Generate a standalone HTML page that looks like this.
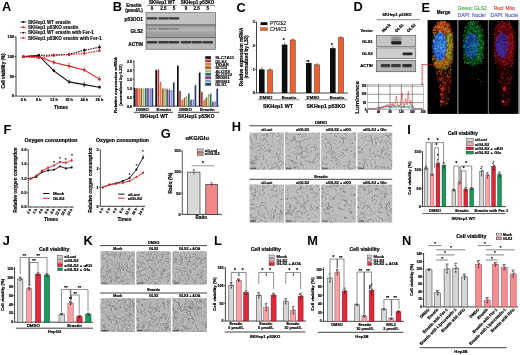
<!DOCTYPE html>
<html><head><meta charset="utf-8"><title>Figure</title>
<style>
html,body{margin:0;padding:0;background:#fff;width:520px;height:355px;overflow:hidden}
svg.fig{display:block;font-family:"Liberation Sans",Arial,sans-serif}
</style></head>
<body><svg class="fig" width="520" height="355" viewBox="0 0 520 355">
<defs>
<filter id="blur03" x="-5%" y="-5%" width="110%" height="110%"><feGaussianBlur stdDeviation="0.3"/></filter>
<filter id="soft" x="0" y="0" width="520" height="355" filterUnits="userSpaceOnUse" color-interpolation-filters="sRGB"><feConvolveMatrix order="3" kernelMatrix="1 2 1 2 8 2 1 2 1" divisor="20" edgeMode="duplicate"/></filter>
<filter id="blur05" x="-50%" y="-50%" width="200%" height="200%"><feGaussianBlur stdDeviation="0.5"/></filter>
<filter id="blur1" x="-50%" y="-50%" width="200%" height="200%"><feGaussianBlur stdDeviation="1"/></filter>
<filter id="blur15" x="-50%" y="-50%" width="200%" height="200%"><feGaussianBlur stdDeviation="1.5"/></filter>
</defs>
<g>
<rect width="520" height="355" fill="#fff"/>
<text x="2.00" y="11.40" text-anchor="start" fill="#000" style="font-size:12.8px;font-weight:bold;">A</text>
<line x1="20.20" y1="21.90" x2="26.40" y2="21.90" stroke="#111" stroke-width="0.8"/>
<circle cx="23.30" cy="21.90" r="1.00" fill="#111"/>
<text x="27.90" y="23.65" text-anchor="start" fill="#111" stroke="#111" stroke-width="0.18" style="font-size:4.65px;font-weight:bold;">SKHep1 WT erastin</text>
<line x1="20.20" y1="27.27" x2="26.40" y2="27.27" stroke="#e0202a" stroke-width="0.8"/>
<circle cx="23.30" cy="27.27" r="1.00" fill="#e0202a"/>
<text x="27.90" y="29.02" text-anchor="start" fill="#111" stroke="#111" stroke-width="0.18" style="font-size:4.65px;font-weight:bold;">SKHep1 p53KO erastin</text>
<line x1="20.20" y1="32.64" x2="26.40" y2="32.64" stroke="#111" stroke-width="0.8" stroke-dasharray="1.4,0.8"/>
<circle cx="23.30" cy="32.64" r="1.00" fill="#111"/>
<text x="27.90" y="34.39" text-anchor="start" fill="#111" stroke="#111" stroke-width="0.18" style="font-size:4.65px;font-weight:bold;">SKHep1 WT erastin with Fer-1</text>
<line x1="20.20" y1="38.01" x2="26.40" y2="38.01" stroke="#e0202a" stroke-width="0.8" stroke-dasharray="1.4,0.8"/>
<circle cx="23.30" cy="38.01" r="1.00" fill="#e0202a"/>
<text x="27.90" y="39.76" text-anchor="start" fill="#111" stroke="#111" stroke-width="0.18" style="font-size:4.65px;font-weight:bold;">SKHep1 p53KO erastin with Fer-1</text>
<line x1="16.00" y1="36.50" x2="16.00" y2="96.10" stroke="#111" stroke-width="0.8"/>
<line x1="14.60" y1="96.10" x2="16.00" y2="96.10" stroke="#111" stroke-width="0.8"/>
<text x="14.00" y="97.46" text-anchor="end" fill="#000" stroke="#000" stroke-width="0.18" style="font-size:3.9px;font-weight:bold;">0</text>
<line x1="14.60" y1="76.37" x2="16.00" y2="76.37" stroke="#111" stroke-width="0.8"/>
<text x="14.00" y="77.73" text-anchor="end" fill="#000" stroke="#000" stroke-width="0.18" style="font-size:3.9px;font-weight:bold;">50</text>
<line x1="14.60" y1="56.63" x2="16.00" y2="56.63" stroke="#111" stroke-width="0.8"/>
<text x="14.00" y="58.00" text-anchor="end" fill="#000" stroke="#000" stroke-width="0.18" style="font-size:3.9px;font-weight:bold;">100</text>
<line x1="14.60" y1="36.90" x2="16.00" y2="36.90" stroke="#111" stroke-width="0.8"/>
<text x="14.00" y="38.26" text-anchor="end" fill="#000" stroke="#000" stroke-width="0.18" style="font-size:3.9px;font-weight:bold;">150</text>
<line x1="16.00" y1="96.10" x2="101.50" y2="96.10" stroke="#111" stroke-width="0.7"/>
<line x1="23.50" y1="96.10" x2="23.50" y2="97.30" stroke="#111" stroke-width="0.5"/>
<text x="23.50" y="101.00" text-anchor="middle" fill="#000" stroke="#000" stroke-width="0.18" style="font-size:3.9px;font-weight:bold;">0 h</text>
<line x1="38.70" y1="96.10" x2="38.70" y2="97.30" stroke="#111" stroke-width="0.5"/>
<text x="38.70" y="101.00" text-anchor="middle" fill="#000" stroke="#000" stroke-width="0.18" style="font-size:3.9px;font-weight:bold;">6 h</text>
<line x1="53.90" y1="96.10" x2="53.90" y2="97.30" stroke="#111" stroke-width="0.5"/>
<text x="53.90" y="101.00" text-anchor="middle" fill="#000" stroke="#000" stroke-width="0.18" style="font-size:3.9px;font-weight:bold;">12 h</text>
<line x1="69.10" y1="96.10" x2="69.10" y2="97.30" stroke="#111" stroke-width="0.5"/>
<text x="69.10" y="101.00" text-anchor="middle" fill="#000" stroke="#000" stroke-width="0.18" style="font-size:3.9px;font-weight:bold;">18 h</text>
<line x1="84.30" y1="96.10" x2="84.30" y2="97.30" stroke="#111" stroke-width="0.5"/>
<text x="84.30" y="101.00" text-anchor="middle" fill="#000" stroke="#000" stroke-width="0.18" style="font-size:3.9px;font-weight:bold;">24 h</text>
<line x1="99.50" y1="96.10" x2="99.50" y2="97.30" stroke="#111" stroke-width="0.5"/>
<text x="99.50" y="101.00" text-anchor="middle" fill="#000" stroke="#000" stroke-width="0.18" style="font-size:3.9px;font-weight:bold;">36 h</text>
<text x="61.00" y="108.90" text-anchor="middle" fill="#000" stroke="#000" stroke-width="0.18" style="font-size:4.9px;font-weight:bold;">Times</text>
<text x="5.30" y="71.00" text-anchor="middle" fill="#000" stroke="#000" stroke-width="0.18" style="font-size:4.6px;font-weight:bold;" transform="rotate(-90 5.3 71)">Cell viability (%)</text>
<polyline points="23.50,56.63 38.70,55.45 53.90,70.84 69.10,81.89 84.30,84.65 99.50,87.22" fill="none" stroke="#111" stroke-width="1.1"/>
<circle cx="23.50" cy="56.63" r="1.25" fill="#111"/>
<line x1="38.70" y1="54.06" x2="38.70" y2="56.84" stroke="#111" stroke-width="0.55"/>
<line x1="38.10" y1="54.06" x2="39.30" y2="54.06" stroke="#111" stroke-width="0.55"/>
<circle cx="38.70" cy="55.45" r="1.25" fill="#111"/>
<line x1="53.90" y1="69.45" x2="53.90" y2="72.23" stroke="#111" stroke-width="0.55"/>
<line x1="53.30" y1="69.45" x2="54.50" y2="69.45" stroke="#111" stroke-width="0.55"/>
<circle cx="53.90" cy="70.84" r="1.25" fill="#111"/>
<line x1="69.10" y1="80.11" x2="69.10" y2="83.68" stroke="#111" stroke-width="0.55"/>
<line x1="68.50" y1="80.11" x2="69.70" y2="80.11" stroke="#111" stroke-width="0.55"/>
<circle cx="69.10" cy="81.89" r="1.25" fill="#111"/>
<line x1="84.30" y1="82.48" x2="84.30" y2="86.83" stroke="#111" stroke-width="0.55"/>
<line x1="83.70" y1="82.48" x2="84.90" y2="82.48" stroke="#111" stroke-width="0.55"/>
<circle cx="84.30" cy="84.65" r="1.25" fill="#111"/>
<line x1="99.50" y1="85.83" x2="99.50" y2="88.61" stroke="#111" stroke-width="0.55"/>
<line x1="98.90" y1="85.83" x2="100.10" y2="85.83" stroke="#111" stroke-width="0.55"/>
<circle cx="99.50" cy="87.22" r="1.25" fill="#111"/>
<polyline points="23.50,56.63 38.70,56.63 53.90,62.55 69.10,66.11 84.30,70.05 99.50,79.13" fill="none" stroke="#e0202a" stroke-width="1.1"/>
<circle cx="23.50" cy="56.63" r="1.25" fill="#e0202a"/>
<line x1="38.70" y1="54.85" x2="38.70" y2="58.42" stroke="#e0202a" stroke-width="0.55"/>
<line x1="38.10" y1="54.85" x2="39.30" y2="54.85" stroke="#e0202a" stroke-width="0.55"/>
<circle cx="38.70" cy="56.63" r="1.25" fill="#e0202a"/>
<line x1="53.90" y1="60.37" x2="53.90" y2="64.73" stroke="#e0202a" stroke-width="0.55"/>
<line x1="53.30" y1="60.37" x2="54.50" y2="60.37" stroke="#e0202a" stroke-width="0.55"/>
<circle cx="53.90" cy="62.55" r="1.25" fill="#e0202a"/>
<line x1="69.10" y1="63.14" x2="69.10" y2="69.07" stroke="#e0202a" stroke-width="0.55"/>
<line x1="68.50" y1="63.14" x2="69.70" y2="63.14" stroke="#e0202a" stroke-width="0.55"/>
<circle cx="69.10" cy="66.11" r="1.25" fill="#e0202a"/>
<line x1="84.30" y1="67.87" x2="84.30" y2="72.23" stroke="#e0202a" stroke-width="0.55"/>
<line x1="83.70" y1="67.87" x2="84.90" y2="67.87" stroke="#e0202a" stroke-width="0.55"/>
<circle cx="84.30" cy="70.05" r="1.25" fill="#e0202a"/>
<line x1="99.50" y1="76.56" x2="99.50" y2="81.70" stroke="#e0202a" stroke-width="0.55"/>
<line x1="98.90" y1="76.56" x2="100.10" y2="76.56" stroke="#e0202a" stroke-width="0.55"/>
<circle cx="99.50" cy="79.13" r="1.25" fill="#e0202a"/>
<polyline points="23.50,56.63 38.70,55.45 53.90,55.05 69.10,54.27 84.30,50.32 99.50,47.16" fill="none" stroke="#111" stroke-width="1.1" stroke-dasharray="1.6,0.9"/>
<circle cx="23.50" cy="56.63" r="1.25" fill="#111"/>
<line x1="38.70" y1="54.45" x2="38.70" y2="56.44" stroke="#111" stroke-width="0.55"/>
<line x1="38.10" y1="54.45" x2="39.30" y2="54.45" stroke="#111" stroke-width="0.55"/>
<circle cx="38.70" cy="55.45" r="1.25" fill="#111"/>
<line x1="53.90" y1="54.06" x2="53.90" y2="56.05" stroke="#111" stroke-width="0.55"/>
<line x1="53.30" y1="54.06" x2="54.50" y2="54.06" stroke="#111" stroke-width="0.55"/>
<circle cx="53.90" cy="55.05" r="1.25" fill="#111"/>
<line x1="69.10" y1="53.27" x2="69.10" y2="55.26" stroke="#111" stroke-width="0.55"/>
<line x1="68.50" y1="53.27" x2="69.70" y2="53.27" stroke="#111" stroke-width="0.55"/>
<circle cx="69.10" cy="54.27" r="1.25" fill="#111"/>
<line x1="84.30" y1="48.93" x2="84.30" y2="51.71" stroke="#111" stroke-width="0.55"/>
<line x1="83.70" y1="48.93" x2="84.90" y2="48.93" stroke="#111" stroke-width="0.55"/>
<circle cx="84.30" cy="50.32" r="1.25" fill="#111"/>
<line x1="99.50" y1="44.98" x2="99.50" y2="49.34" stroke="#111" stroke-width="0.55"/>
<line x1="98.90" y1="44.98" x2="100.10" y2="44.98" stroke="#111" stroke-width="0.55"/>
<circle cx="99.50" cy="47.16" r="1.25" fill="#111"/>
<polyline points="23.50,56.63 38.70,57.82 53.90,55.45 69.10,54.66 84.30,53.48 99.50,50.71" fill="none" stroke="#e0202a" stroke-width="1.1" stroke-dasharray="1.6,0.9"/>
<circle cx="23.50" cy="56.63" r="1.25" fill="#e0202a"/>
<line x1="38.70" y1="56.43" x2="38.70" y2="59.21" stroke="#e0202a" stroke-width="0.55"/>
<line x1="38.10" y1="56.43" x2="39.30" y2="56.43" stroke="#e0202a" stroke-width="0.55"/>
<circle cx="38.70" cy="57.82" r="1.25" fill="#e0202a"/>
<line x1="53.90" y1="54.45" x2="53.90" y2="56.44" stroke="#e0202a" stroke-width="0.55"/>
<line x1="53.30" y1="54.45" x2="54.50" y2="54.45" stroke="#e0202a" stroke-width="0.55"/>
<circle cx="53.90" cy="55.45" r="1.25" fill="#e0202a"/>
<line x1="69.10" y1="53.27" x2="69.10" y2="56.05" stroke="#e0202a" stroke-width="0.55"/>
<line x1="68.50" y1="53.27" x2="69.70" y2="53.27" stroke="#e0202a" stroke-width="0.55"/>
<circle cx="69.10" cy="54.66" r="1.25" fill="#e0202a"/>
<line x1="84.30" y1="52.09" x2="84.30" y2="54.87" stroke="#e0202a" stroke-width="0.55"/>
<line x1="83.70" y1="52.09" x2="84.90" y2="52.09" stroke="#e0202a" stroke-width="0.55"/>
<circle cx="84.30" cy="53.48" r="1.25" fill="#e0202a"/>
<line x1="99.50" y1="49.32" x2="99.50" y2="52.10" stroke="#e0202a" stroke-width="0.55"/>
<line x1="98.90" y1="49.32" x2="100.10" y2="49.32" stroke="#e0202a" stroke-width="0.55"/>
<circle cx="99.50" cy="50.71" r="1.25" fill="#e0202a"/>
<text x="112.70" y="11.40" text-anchor="start" fill="#000" style="font-size:12.8px;font-weight:bold;">B</text>
<text x="134.00" y="7.00" text-anchor="middle" fill="#000" stroke="#000" stroke-width="0.18" style="font-size:4.5px;font-weight:bold;">Erastin</text>
<text x="134.00" y="12.40" text-anchor="middle" fill="#000" stroke="#000" stroke-width="0.18" style="font-size:4.5px;font-weight:bold;">(µmol/L)</text>
<text x="162.00" y="3.90" text-anchor="middle" fill="#000" stroke="#000" stroke-width="0.18" style="font-size:4.6px;font-weight:bold;">SKHep1 WT</text>
<text x="197.50" y="3.90" text-anchor="middle" fill="#000" stroke="#000" stroke-width="0.18" style="font-size:4.6px;font-weight:bold;">SKHep1 p53KO</text>
<line x1="147.00" y1="5.40" x2="177.00" y2="5.40" stroke="#111" stroke-width="0.5"/>
<line x1="181.00" y1="5.40" x2="215.00" y2="5.40" stroke="#111" stroke-width="0.5"/>
<text x="152.00" y="10.40" text-anchor="middle" fill="#000" stroke="#000" stroke-width="0.18" style="font-size:4.5px;font-weight:bold;">0</text>
<text x="163.50" y="10.40" text-anchor="middle" fill="#000" stroke="#000" stroke-width="0.18" style="font-size:4.5px;font-weight:bold;">2.5</text>
<text x="174.00" y="10.40" text-anchor="middle" fill="#000" stroke="#000" stroke-width="0.18" style="font-size:4.5px;font-weight:bold;">5</text>
<text x="186.00" y="10.40" text-anchor="middle" fill="#000" stroke="#000" stroke-width="0.18" style="font-size:4.5px;font-weight:bold;">0</text>
<text x="196.70" y="10.40" text-anchor="middle" fill="#000" stroke="#000" stroke-width="0.18" style="font-size:4.5px;font-weight:bold;">2.5</text>
<text x="207.70" y="10.40" text-anchor="middle" fill="#000" stroke="#000" stroke-width="0.18" style="font-size:4.5px;font-weight:bold;">5</text>
<rect x="146.00" y="12.60" width="69.50" height="12.40" fill="#c2c2c2" stroke="#333" stroke-width="0.5"/>
<rect x="146.70" y="17.25" width="10.60" height="2.30" rx="1" fill="#3a3a3a" filter="url(#blur05)"/>
<rect x="158.20" y="17.25" width="10.60" height="2.30" rx="1" fill="#3a3a3a" filter="url(#blur05)"/>
<rect x="168.70" y="17.25" width="10.60" height="2.30" rx="1" fill="#3a3a3a" filter="url(#blur05)"/>
<rect x="146.00" y="25.00" width="69.50" height="12.40" fill="#9e9e9e" stroke="#333" stroke-width="0.5"/>
<rect x="146.5" y="27.6" width="68.5" height="4.2" fill="#b6b6b6" filter="url(#blur1)"/>
<rect x="147.0" y="28.0" width="10" height="1.6" fill="#8e8e8e"/>
<rect x="158.5" y="28.0" width="10" height="1.6" fill="#7a7a7a"/>
<rect x="169.0" y="28.0" width="10" height="1.6" fill="#828282"/>
<rect x="146.00" y="37.40" width="69.50" height="11.80" fill="#b8b8b8" stroke="#333" stroke-width="0.5"/>
<rect x="146.70" y="41.10" width="10.60" height="2.40" rx="1" fill="#3a3a3a" filter="url(#blur05)"/>
<rect x="158.20" y="41.10" width="10.60" height="2.40" rx="1" fill="#3a3a3a" filter="url(#blur05)"/>
<rect x="168.70" y="41.10" width="10.60" height="2.40" rx="1" fill="#3a3a3a" filter="url(#blur05)"/>
<rect x="180.70" y="41.10" width="10.60" height="2.40" rx="1" fill="#3a3a3a" filter="url(#blur05)"/>
<rect x="191.40" y="41.10" width="10.60" height="2.40" rx="1" fill="#3a3a3a" filter="url(#blur05)"/>
<rect x="202.40" y="41.10" width="10.60" height="2.40" rx="1" fill="#3a3a3a" filter="url(#blur05)"/>
<text x="143.00" y="21.30" text-anchor="end" fill="#000" stroke="#000" stroke-width="0.18" style="font-size:4.8px;font-weight:bold;">p53OO1</text>
<text x="143.00" y="32.60" text-anchor="end" fill="#000" stroke="#000" stroke-width="0.18" style="font-size:4.8px;font-weight:bold;">GLS2</text>
<text x="143.00" y="46.20" text-anchor="end" fill="#000" stroke="#000" stroke-width="0.18" style="font-size:4.8px;font-weight:bold;">ACTIN</text>
<line x1="134.00" y1="60.50" x2="134.00" y2="106.20" stroke="#111" stroke-width="0.8"/>
<line x1="132.80" y1="106.20" x2="134.00" y2="106.20" stroke="#111" stroke-width="0.8"/>
<text x="132.20" y="107.50" text-anchor="end" fill="#000" stroke="#000" stroke-width="0.18" style="font-size:3.7px;font-weight:bold;">0.0</text>
<line x1="132.80" y1="97.20" x2="134.00" y2="97.20" stroke="#111" stroke-width="0.8"/>
<text x="132.20" y="98.50" text-anchor="end" fill="#000" stroke="#000" stroke-width="0.18" style="font-size:3.7px;font-weight:bold;">0.5</text>
<line x1="132.80" y1="88.20" x2="134.00" y2="88.20" stroke="#111" stroke-width="0.8"/>
<text x="132.20" y="89.50" text-anchor="end" fill="#000" stroke="#000" stroke-width="0.18" style="font-size:3.7px;font-weight:bold;">1.0</text>
<line x1="132.80" y1="79.20" x2="134.00" y2="79.20" stroke="#111" stroke-width="0.8"/>
<text x="132.20" y="80.50" text-anchor="end" fill="#000" stroke="#000" stroke-width="0.18" style="font-size:3.7px;font-weight:bold;">1.5</text>
<line x1="132.80" y1="70.20" x2="134.00" y2="70.20" stroke="#111" stroke-width="0.8"/>
<text x="132.20" y="71.50" text-anchor="end" fill="#000" stroke="#000" stroke-width="0.18" style="font-size:3.7px;font-weight:bold;">2.0</text>
<line x1="132.80" y1="61.20" x2="134.00" y2="61.20" stroke="#111" stroke-width="0.8"/>
<text x="132.20" y="62.50" text-anchor="end" fill="#000" stroke="#000" stroke-width="0.18" style="font-size:3.7px;font-weight:bold;">2.5</text>
<line x1="134.00" y1="106.20" x2="219.00" y2="106.20" stroke="#111" stroke-width="0.8"/>
<rect x="133.90" y="88.20" width="1.70" height="18.00" fill="#111111"/>
<rect x="136.10" y="88.20" width="1.70" height="18.00" fill="#c0303a"/>
<rect x="138.30" y="88.20" width="1.70" height="18.00" fill="#e8773a"/>
<rect x="140.50" y="88.20" width="1.70" height="18.00" fill="#8a6a28"/>
<rect x="142.70" y="88.20" width="1.70" height="18.00" fill="#c8aa78"/>
<rect x="144.90" y="88.20" width="1.70" height="18.00" fill="#1c7a5c"/>
<rect x="147.10" y="88.20" width="1.70" height="18.00" fill="#7b3f8e"/>
<rect x="149.30" y="88.20" width="1.70" height="18.00" fill="#7d9bd3"/>
<rect x="151.50" y="88.20" width="1.70" height="18.00" fill="#2b3d7c"/>
<rect x="155.30" y="70.20" width="1.70" height="36.00" fill="#111111"/>
<line x1="156.30" y1="69.40" x2="156.30" y2="71.00" stroke="#111" stroke-width="0.35"/>
<line x1="155.85" y1="69.40" x2="156.75" y2="69.40" stroke="#111" stroke-width="0.35"/>
<rect x="157.50" y="70.20" width="1.70" height="36.00" fill="#c0303a"/>
<line x1="158.50" y1="69.40" x2="158.50" y2="71.00" stroke="#111" stroke-width="0.35"/>
<line x1="158.05" y1="69.40" x2="158.95" y2="69.40" stroke="#111" stroke-width="0.35"/>
<rect x="159.70" y="82.80" width="1.70" height="23.40" fill="#e8773a"/>
<line x1="160.70" y1="82.00" x2="160.70" y2="83.60" stroke="#111" stroke-width="0.35"/>
<line x1="160.25" y1="82.00" x2="161.15" y2="82.00" stroke="#111" stroke-width="0.35"/>
<rect x="161.90" y="89.10" width="1.70" height="17.10" fill="#8a6a28"/>
<line x1="162.90" y1="88.30" x2="162.90" y2="89.90" stroke="#111" stroke-width="0.35"/>
<line x1="162.45" y1="88.30" x2="163.35" y2="88.30" stroke="#111" stroke-width="0.35"/>
<rect x="164.10" y="89.10" width="1.70" height="17.10" fill="#c8aa78"/>
<line x1="165.10" y1="88.30" x2="165.10" y2="89.90" stroke="#111" stroke-width="0.35"/>
<line x1="164.65" y1="88.30" x2="165.55" y2="88.30" stroke="#111" stroke-width="0.35"/>
<rect x="166.30" y="89.64" width="1.70" height="16.56" fill="#1c7a5c"/>
<line x1="167.30" y1="88.84" x2="167.30" y2="90.44" stroke="#111" stroke-width="0.35"/>
<line x1="166.85" y1="88.84" x2="167.75" y2="88.84" stroke="#111" stroke-width="0.35"/>
<rect x="168.50" y="90.00" width="1.70" height="16.20" fill="#7b3f8e"/>
<line x1="169.50" y1="89.20" x2="169.50" y2="90.80" stroke="#111" stroke-width="0.35"/>
<line x1="169.05" y1="89.20" x2="169.95" y2="89.20" stroke="#111" stroke-width="0.35"/>
<rect x="170.70" y="90.90" width="1.70" height="15.30" fill="#7d9bd3"/>
<line x1="171.70" y1="90.10" x2="171.70" y2="91.70" stroke="#111" stroke-width="0.35"/>
<line x1="171.25" y1="90.10" x2="172.15" y2="90.10" stroke="#111" stroke-width="0.35"/>
<rect x="172.90" y="82.80" width="1.70" height="23.40" fill="#2b3d7c"/>
<line x1="173.90" y1="82.00" x2="173.90" y2="83.60" stroke="#111" stroke-width="0.35"/>
<line x1="173.45" y1="82.00" x2="174.35" y2="82.00" stroke="#111" stroke-width="0.35"/>
<rect x="177.00" y="65.88" width="1.70" height="40.32" fill="#111111"/>
<line x1="178.00" y1="65.08" x2="178.00" y2="66.68" stroke="#111" stroke-width="0.35"/>
<line x1="177.55" y1="65.08" x2="178.45" y2="65.08" stroke="#111" stroke-width="0.35"/>
<rect x="179.20" y="91.44" width="1.70" height="14.76" fill="#c0303a"/>
<line x1="180.20" y1="90.64" x2="180.20" y2="92.24" stroke="#111" stroke-width="0.35"/>
<line x1="179.75" y1="90.64" x2="180.65" y2="90.64" stroke="#111" stroke-width="0.35"/>
<rect x="181.40" y="100.80" width="1.70" height="5.40" fill="#e8773a"/>
<line x1="182.40" y1="100.00" x2="182.40" y2="101.60" stroke="#111" stroke-width="0.35"/>
<line x1="181.95" y1="100.00" x2="182.85" y2="100.00" stroke="#111" stroke-width="0.35"/>
<rect x="183.60" y="98.28" width="1.70" height="7.92" fill="#8a6a28"/>
<line x1="184.60" y1="97.48" x2="184.60" y2="99.08" stroke="#111" stroke-width="0.35"/>
<line x1="184.15" y1="97.48" x2="185.05" y2="97.48" stroke="#111" stroke-width="0.35"/>
<rect x="185.80" y="97.20" width="1.70" height="9.00" fill="#c8aa78"/>
<line x1="186.80" y1="96.40" x2="186.80" y2="98.00" stroke="#111" stroke-width="0.35"/>
<line x1="186.35" y1="96.40" x2="187.25" y2="96.40" stroke="#111" stroke-width="0.35"/>
<rect x="188.00" y="93.78" width="1.70" height="12.42" fill="#1c7a5c"/>
<line x1="189.00" y1="92.98" x2="189.00" y2="94.58" stroke="#111" stroke-width="0.35"/>
<line x1="188.55" y1="92.98" x2="189.45" y2="92.98" stroke="#111" stroke-width="0.35"/>
<rect x="190.20" y="100.26" width="1.70" height="5.94" fill="#7b3f8e"/>
<line x1="191.20" y1="99.46" x2="191.20" y2="101.06" stroke="#111" stroke-width="0.35"/>
<line x1="190.75" y1="99.46" x2="191.65" y2="99.46" stroke="#111" stroke-width="0.35"/>
<rect x="192.40" y="100.26" width="1.70" height="5.94" fill="#7d9bd3"/>
<line x1="193.40" y1="99.46" x2="193.40" y2="101.06" stroke="#111" stroke-width="0.35"/>
<line x1="192.95" y1="99.46" x2="193.85" y2="99.46" stroke="#111" stroke-width="0.35"/>
<rect x="194.60" y="85.50" width="1.70" height="20.70" fill="#2b3d7c"/>
<line x1="195.60" y1="84.70" x2="195.60" y2="86.30" stroke="#111" stroke-width="0.35"/>
<line x1="195.15" y1="84.70" x2="196.05" y2="84.70" stroke="#111" stroke-width="0.35"/>
<rect x="198.80" y="72.72" width="1.70" height="33.48" fill="#111111"/>
<line x1="199.80" y1="71.92" x2="199.80" y2="73.52" stroke="#111" stroke-width="0.35"/>
<line x1="199.35" y1="71.92" x2="200.25" y2="71.92" stroke="#111" stroke-width="0.35"/>
<rect x="201.00" y="92.34" width="1.70" height="13.86" fill="#c0303a"/>
<line x1="202.00" y1="91.54" x2="202.00" y2="93.14" stroke="#111" stroke-width="0.35"/>
<line x1="201.55" y1="91.54" x2="202.45" y2="91.54" stroke="#111" stroke-width="0.35"/>
<rect x="203.20" y="101.16" width="1.70" height="5.04" fill="#e8773a"/>
<line x1="204.20" y1="100.36" x2="204.20" y2="101.96" stroke="#111" stroke-width="0.35"/>
<line x1="203.75" y1="100.36" x2="204.65" y2="100.36" stroke="#111" stroke-width="0.35"/>
<rect x="205.40" y="98.28" width="1.70" height="7.92" fill="#8a6a28"/>
<line x1="206.40" y1="97.48" x2="206.40" y2="99.08" stroke="#111" stroke-width="0.35"/>
<line x1="205.95" y1="97.48" x2="206.85" y2="97.48" stroke="#111" stroke-width="0.35"/>
<rect x="207.60" y="95.40" width="1.70" height="10.80" fill="#c8aa78"/>
<line x1="208.60" y1="94.60" x2="208.60" y2="96.20" stroke="#111" stroke-width="0.35"/>
<line x1="208.15" y1="94.60" x2="209.05" y2="94.60" stroke="#111" stroke-width="0.35"/>
<rect x="209.80" y="94.32" width="1.70" height="11.88" fill="#1c7a5c"/>
<line x1="210.80" y1="93.52" x2="210.80" y2="95.12" stroke="#111" stroke-width="0.35"/>
<line x1="210.35" y1="93.52" x2="211.25" y2="93.52" stroke="#111" stroke-width="0.35"/>
<rect x="212.00" y="102.24" width="1.70" height="3.96" fill="#7b3f8e"/>
<line x1="213.00" y1="101.44" x2="213.00" y2="103.04" stroke="#111" stroke-width="0.35"/>
<line x1="212.55" y1="101.44" x2="213.45" y2="101.44" stroke="#111" stroke-width="0.35"/>
<rect x="214.20" y="102.24" width="1.70" height="3.96" fill="#7d9bd3"/>
<line x1="215.20" y1="101.44" x2="215.20" y2="103.04" stroke="#111" stroke-width="0.35"/>
<line x1="214.75" y1="101.44" x2="215.65" y2="101.44" stroke="#111" stroke-width="0.35"/>
<rect x="216.40" y="88.92" width="1.70" height="17.28" fill="#2b3d7c"/>
<line x1="217.40" y1="88.12" x2="217.40" y2="89.72" stroke="#111" stroke-width="0.35"/>
<line x1="216.95" y1="88.12" x2="217.85" y2="88.12" stroke="#111" stroke-width="0.35"/>
<text x="142.50" y="110.80" text-anchor="middle" fill="#000" stroke="#000" stroke-width="0.18" style="font-size:4.3px;font-weight:bold;">DMSO</text>
<text x="163.90" y="110.80" text-anchor="middle" fill="#000" stroke="#000" stroke-width="0.18" style="font-size:4.3px;font-weight:bold;">Erastin</text>
<text x="185.60" y="110.80" text-anchor="middle" fill="#000" stroke="#000" stroke-width="0.18" style="font-size:4.3px;font-weight:bold;">DMSO</text>
<text x="207.40" y="110.80" text-anchor="middle" fill="#000" stroke="#000" stroke-width="0.18" style="font-size:4.3px;font-weight:bold;">Erastin</text>
<line x1="133.70" y1="112.30" x2="173.00" y2="112.30" stroke="#111" stroke-width="0.8"/>
<line x1="177.90" y1="112.30" x2="219.20" y2="112.30" stroke="#111" stroke-width="0.8"/>
<text x="153.80" y="118.00" text-anchor="middle" fill="#000" stroke="#000" stroke-width="0.18" style="font-size:5.0px;font-weight:bold;">SKHep1 WT</text>
<text x="196.20" y="118.00" text-anchor="middle" fill="#000" stroke="#000" stroke-width="0.18" style="font-size:5.0px;font-weight:bold;">SKHep1 p53KO</text>
<text x="117.00" y="85.00" text-anchor="middle" fill="#000" stroke="#000" stroke-width="0.18" style="font-size:4.4px;font-weight:bold;" transform="rotate(-90 117.0 85)">Relative expression mRNA</text>
<text x="121.80" y="85.00" text-anchor="middle" fill="#000" stroke="#000" stroke-width="0.18" style="font-size:4.4px;font-weight:bold;" transform="rotate(-90 121.8 85)">(normalized by L32)</text>
<rect x="205.20" y="56.20" width="5.80" height="2.70" fill="#111111"/>
<text x="215.20" y="59.30" text-anchor="start" fill="#111" stroke="#111" stroke-width="0.18" style="font-size:4.4px;font-weight:bold;">SLC7A11</text>
<rect x="205.20" y="59.55" width="5.80" height="2.70" fill="#c0303a"/>
<text x="215.20" y="62.65" text-anchor="start" fill="#111" stroke="#111" stroke-width="0.18" style="font-size:4.4px;font-weight:bold;">GLS2</text>
<rect x="205.20" y="62.90" width="5.80" height="2.70" fill="#e8773a"/>
<text x="215.20" y="66.00" text-anchor="start" fill="#111" stroke="#111" stroke-width="0.18" style="font-size:4.4px;font-weight:bold;">TIGAR</text>
<rect x="205.20" y="66.25" width="5.80" height="2.70" fill="#8a6a28"/>
<text x="215.20" y="69.35" text-anchor="start" fill="#111" stroke="#111" stroke-width="0.18" style="font-size:4.4px;font-weight:bold;">SCO2</text>
<rect x="205.20" y="69.60" width="5.80" height="2.70" fill="#c8aa78"/>
<text x="215.20" y="72.70" text-anchor="start" fill="#111" stroke="#111" stroke-width="0.18" style="font-size:4.4px;font-weight:bold;">ALOX8</text>
<rect x="205.20" y="72.95" width="5.80" height="2.70" fill="#1c7a5c"/>
<text x="215.20" y="76.05" text-anchor="start" fill="#111" stroke="#111" stroke-width="0.18" style="font-size:4.4px;font-weight:bold;">ALOX12</text>
<rect x="205.20" y="76.30" width="5.80" height="2.70" fill="#7b3f8e"/>
<text x="215.20" y="79.40" text-anchor="start" fill="#111" stroke="#111" stroke-width="0.18" style="font-size:4.4px;font-weight:bold;">SESN1</text>
<rect x="205.20" y="79.65" width="5.80" height="2.70" fill="#7d9bd3"/>
<text x="215.20" y="82.75" text-anchor="start" fill="#111" stroke="#111" stroke-width="0.18" style="font-size:4.4px;font-weight:bold;">SESN2</text>
<rect x="205.20" y="83.00" width="5.80" height="2.70" fill="#2b3d7c"/>
<text x="215.20" y="86.10" text-anchor="start" fill="#111" stroke="#111" stroke-width="0.18" style="font-size:4.4px;font-weight:bold;">GLS1</text>
<text x="236.40" y="11.50" text-anchor="start" fill="#000" style="font-size:12.8px;font-weight:bold;">C</text>
<line x1="256.50" y1="21.80" x2="256.50" y2="93.00" stroke="#111" stroke-width="0.8"/>
<line x1="255.30" y1="93.00" x2="256.50" y2="93.00" stroke="#111" stroke-width="0.8"/>
<text x="254.70" y="94.30" text-anchor="end" fill="#000" stroke="#000" stroke-width="0.18" style="font-size:3.7px;font-weight:bold;">0</text>
<line x1="255.30" y1="69.40" x2="256.50" y2="69.40" stroke="#111" stroke-width="0.8"/>
<text x="254.70" y="70.70" text-anchor="end" fill="#000" stroke="#000" stroke-width="0.18" style="font-size:3.7px;font-weight:bold;">1</text>
<line x1="255.30" y1="45.80" x2="256.50" y2="45.80" stroke="#111" stroke-width="0.8"/>
<text x="254.70" y="47.09" text-anchor="end" fill="#000" stroke="#000" stroke-width="0.18" style="font-size:3.7px;font-weight:bold;">2</text>
<line x1="255.30" y1="22.20" x2="256.50" y2="22.20" stroke="#111" stroke-width="0.8"/>
<text x="254.70" y="23.49" text-anchor="end" fill="#000" stroke="#000" stroke-width="0.18" style="font-size:3.7px;font-weight:bold;">3</text>
<line x1="256.50" y1="93.00" x2="348.00" y2="93.00" stroke="#111" stroke-width="0.8"/>
<rect x="259.00" y="69.40" width="5.60" height="23.60" fill="#0d0d0d"/>
<rect x="267.20" y="69.87" width="5.60" height="23.13" fill="#ea6130" stroke="#222" stroke-width="0.3"/>
<line x1="261.80" y1="67.80" x2="261.80" y2="71.00" stroke="#111" stroke-width="0.45"/>
<line x1="261.20" y1="67.80" x2="262.40" y2="67.80" stroke="#111" stroke-width="0.45"/>
<line x1="270.00" y1="68.87" x2="270.00" y2="70.87" stroke="#111" stroke-width="0.45"/>
<line x1="269.40" y1="68.87" x2="270.60" y2="68.87" stroke="#111" stroke-width="0.45"/>
<rect x="281.80" y="44.62" width="5.60" height="48.38" fill="#0d0d0d"/>
<rect x="290.00" y="39.90" width="5.60" height="53.10" fill="#ea6130" stroke="#222" stroke-width="0.3"/>
<line x1="284.60" y1="43.02" x2="284.60" y2="46.22" stroke="#111" stroke-width="0.45"/>
<line x1="284.00" y1="43.02" x2="285.20" y2="43.02" stroke="#111" stroke-width="0.45"/>
<line x1="292.80" y1="38.90" x2="292.80" y2="40.90" stroke="#111" stroke-width="0.45"/>
<line x1="292.20" y1="38.90" x2="293.40" y2="38.90" stroke="#111" stroke-width="0.45"/>
<rect x="306.00" y="63.03" width="5.60" height="29.97" fill="#0d0d0d"/>
<rect x="314.20" y="64.68" width="5.60" height="28.32" fill="#ea6130" stroke="#222" stroke-width="0.3"/>
<line x1="308.80" y1="61.43" x2="308.80" y2="64.63" stroke="#111" stroke-width="0.45"/>
<line x1="308.20" y1="61.43" x2="309.40" y2="61.43" stroke="#111" stroke-width="0.45"/>
<line x1="317.00" y1="63.68" x2="317.00" y2="65.68" stroke="#111" stroke-width="0.45"/>
<line x1="316.40" y1="63.68" x2="317.60" y2="63.68" stroke="#111" stroke-width="0.45"/>
<rect x="330.00" y="48.16" width="5.60" height="44.84" fill="#0d0d0d"/>
<rect x="338.20" y="37.54" width="5.60" height="55.46" fill="#ea6130" stroke="#222" stroke-width="0.3"/>
<line x1="332.80" y1="46.56" x2="332.80" y2="49.76" stroke="#111" stroke-width="0.45"/>
<line x1="332.20" y1="46.56" x2="333.40" y2="46.56" stroke="#111" stroke-width="0.45"/>
<line x1="341.00" y1="36.54" x2="341.00" y2="38.54" stroke="#111" stroke-width="0.45"/>
<line x1="340.40" y1="36.54" x2="341.60" y2="36.54" stroke="#111" stroke-width="0.45"/>
<text x="283.60" y="41.50" text-anchor="middle" fill="#000" stroke="#000" stroke-width="0.18" style="font-size:4.6px;font-weight:bold;">*</text>
<text x="331.80" y="46.50" text-anchor="middle" fill="#000" stroke="#000" stroke-width="0.18" style="font-size:4.6px;font-weight:bold;">*</text>
<text x="306.50" y="62.50" text-anchor="start" fill="#000" stroke="#000" stroke-width="0.18" style="font-size:3.5px;font-weight:bold;">**</text>
<text x="266.00" y="98.60" text-anchor="middle" fill="#000" stroke="#000" stroke-width="0.18" style="font-size:4.3px;font-weight:bold;">DMSO</text>
<text x="289.00" y="98.60" text-anchor="middle" fill="#000" stroke="#000" stroke-width="0.18" style="font-size:4.3px;font-weight:bold;">Erastin</text>
<text x="313.00" y="98.60" text-anchor="middle" fill="#000" stroke="#000" stroke-width="0.18" style="font-size:4.3px;font-weight:bold;">DMSO</text>
<text x="337.00" y="98.60" text-anchor="middle" fill="#000" stroke="#000" stroke-width="0.18" style="font-size:4.3px;font-weight:bold;">Erastin</text>
<line x1="257.70" y1="99.80" x2="299.60" y2="99.80" stroke="#111" stroke-width="0.5"/>
<line x1="304.60" y1="99.80" x2="347.70" y2="99.80" stroke="#111" stroke-width="0.5"/>
<text x="278.00" y="107.90" text-anchor="middle" fill="#000" stroke="#000" stroke-width="0.18" style="font-size:5.3px;font-weight:bold;">SKHep1 WT</text>
<text x="326.00" y="107.90" text-anchor="middle" fill="#000" stroke="#000" stroke-width="0.18" style="font-size:5.3px;font-weight:bold;">SKHep1 p53KO</text>
<text x="243.20" y="57.00" text-anchor="middle" fill="#000" stroke="#000" stroke-width="0.18" style="font-size:4.6px;font-weight:bold;" transform="rotate(-90 243.2 57)">Relative expression mRNA</text>
<text x="248.00" y="57.00" text-anchor="middle" fill="#000" stroke="#000" stroke-width="0.18" style="font-size:4.6px;font-weight:bold;" transform="rotate(-90 248.0 57)">(normalized by L32)</text>
<rect x="260.50" y="22.20" width="7.00" height="2.90" fill="#0d0d0d"/>
<rect x="260.50" y="27.60" width="7.00" height="2.90" fill="#ea6130" stroke="#222" stroke-width="0.3"/>
<text x="270.00" y="25.40" text-anchor="start" fill="#000" stroke="#000" stroke-width="0.12" style="font-size:4.9px;font-weight:normal;font-style:italic;">PTGS2</text>
<text x="270.00" y="30.80" text-anchor="start" fill="#000" stroke="#000" stroke-width="0.12" style="font-size:4.9px;font-weight:normal;font-style:italic;">CHAC1</text>
<text x="353.50" y="11.40" text-anchor="start" fill="#000" style="font-size:12.8px;font-weight:bold;">D</text>
<text x="397.00" y="15.60" text-anchor="middle" fill="#000" stroke="#000" stroke-width="0.18" style="font-size:4.0px;font-weight:bold;">SKHep1 p53KO</text>
<line x1="376.50" y1="19.70" x2="420.00" y2="19.70" stroke="#111" stroke-width="0.5"/>
<text x="372.80" y="32.00" text-anchor="end" fill="#000" stroke="#000" stroke-width="0.18" style="font-size:4.0px;font-weight:bold;">Vector</text>
<text x="383.50" y="32.50" text-anchor="start" fill="#000" stroke="#000" stroke-width="0.18" style="font-size:4.0px;font-weight:bold;" transform="rotate(-45 383.5 32.5)">Mock</text>
<text x="396.50" y="32.50" text-anchor="start" fill="#000" stroke="#000" stroke-width="0.18" style="font-size:4.0px;font-weight:bold;" transform="rotate(-45 396.5 32.5)">GLS1</text>
<text x="408.50" y="32.50" text-anchor="start" fill="#000" stroke="#000" stroke-width="0.18" style="font-size:4.0px;font-weight:bold;" transform="rotate(-45 408.5 32.5)">GLS2</text>
<rect x="376.30" y="35.40" width="39.50" height="11.20" fill="#c6c6c6" stroke="#333" stroke-width="0.5"/>
<rect x="391.4" y="36.6" width="9.8" height="5.5" fill="#7a7a7a" opacity="0.8" filter="url(#blur1)"/>
<rect x="391.2" y="41.2" width="10.2" height="3.2" rx="1" fill="#1e1e1e" filter="url(#blur05)"/>
<rect x="376.30" y="47.90" width="39.50" height="10.70" fill="#cdcdcd" stroke="#333" stroke-width="0.5"/>
<rect x="402.50" y="52.60" width="10.00" height="2.60" rx="1" fill="#262626" filter="url(#blur05)"/>
<rect x="376.30" y="60.40" width="39.50" height="11.40" fill="#b4b4b4" stroke="#333" stroke-width="0.5"/>
<rect x="380.80" y="64.00" width="9.60" height="3.20" rx="1" fill="#3a3a3a" filter="url(#blur05)"/>
<rect x="391.20" y="64.00" width="9.60" height="3.20" rx="1" fill="#3a3a3a" filter="url(#blur05)"/>
<rect x="402.30" y="63.90" width="9.60" height="3.40" rx="1" fill="#333" filter="url(#blur05)"/>
<text x="372.80" y="43.40" text-anchor="end" fill="#000" stroke="#000" stroke-width="0.18" style="font-size:4.1px;font-weight:bold;">GLS1</text>
<text x="372.80" y="54.90" text-anchor="end" fill="#000" stroke="#000" stroke-width="0.18" style="font-size:4.1px;font-weight:bold;">GLS2</text>
<text x="372.80" y="67.10" text-anchor="end" fill="#000" stroke="#000" stroke-width="0.18" style="font-size:4.1px;font-weight:bold;">ACTIN</text>
<rect x="367.40" y="84.30" width="55.80" height="25.50" fill="#fff" stroke="#666" stroke-width="0.4"/>
<line x1="378.60" y1="84.30" x2="378.60" y2="109.80" stroke="#555" stroke-width="0.6"/>
<line x1="390.00" y1="84.30" x2="390.00" y2="109.80" stroke="#555" stroke-width="0.6"/>
<line x1="401.30" y1="84.30" x2="401.30" y2="109.80" stroke="#555" stroke-width="0.6"/>
<line x1="412.30" y1="84.30" x2="412.30" y2="109.80" stroke="#555" stroke-width="0.6"/>
<line x1="367.40" y1="86.10" x2="423.20" y2="86.10" stroke="#555" stroke-width="0.6"/>
<line x1="367.40" y1="94.30" x2="423.20" y2="94.30" stroke="#555" stroke-width="0.6"/>
<line x1="367.40" y1="102.60" x2="423.20" y2="102.60" stroke="#555" stroke-width="0.6"/>
<text x="366.20" y="87.10" text-anchor="end" fill="#000" stroke="#000" stroke-width="0.18" style="font-size:2.8px;font-weight:bold;">150</text>
<text x="366.20" y="95.30" text-anchor="end" fill="#000" stroke="#000" stroke-width="0.18" style="font-size:2.8px;font-weight:bold;">100</text>
<text x="366.20" y="103.60" text-anchor="end" fill="#000" stroke="#000" stroke-width="0.18" style="font-size:2.8px;font-weight:bold;">50</text>
<text x="366.20" y="110.60" text-anchor="end" fill="#000" stroke="#000" stroke-width="0.18" style="font-size:2.8px;font-weight:bold;">0</text>
<text x="367.40" y="113.40" text-anchor="middle" fill="#000" stroke="#000" stroke-width="0.18" style="font-size:2.8px;font-weight:bold;">0</text>
<text x="378.60" y="113.40" text-anchor="middle" fill="#000" stroke="#000" stroke-width="0.18" style="font-size:2.8px;font-weight:bold;">40</text>
<text x="390.00" y="113.40" text-anchor="middle" fill="#000" stroke="#000" stroke-width="0.18" style="font-size:2.8px;font-weight:bold;">80</text>
<text x="401.30" y="113.40" text-anchor="middle" fill="#000" stroke="#000" stroke-width="0.18" style="font-size:2.8px;font-weight:bold;">120</text>
<text x="412.30" y="113.40" text-anchor="middle" fill="#000" stroke="#000" stroke-width="0.18" style="font-size:2.8px;font-weight:bold;">160</text>
<text x="423.20" y="113.40" text-anchor="middle" fill="#000" stroke="#000" stroke-width="0.18" style="font-size:2.8px;font-weight:bold;">200</text>
<text x="359.20" y="97.50" text-anchor="middle" fill="#000" stroke="#000" stroke-width="0.18" style="font-size:6.2px;font-weight:bold;" transform="rotate(-90 359.2 97.5)">Luminance</text>
<polyline points="367.80,108.52 368.23,108.52 368.65,108.83 369.08,108.35 369.51,109.07 369.93,109.33 370.36,108.33 370.78,108.46 371.21,109.20 371.64,109.11 372.06,108.38 372.49,108.75 372.92,108.30 373.34,108.35 373.77,109.16 374.20,109.01 374.62,108.59 375.05,108.44 375.47,108.81 375.90,108.26 376.33,107.74 376.75,108.05 377.18,107.22 377.61,106.91 378.03,107.61 378.46,107.68 378.89,106.98 379.31,106.48 379.74,108.34 380.16,108.42 380.59,107.13 381.02,106.62 381.44,106.95 381.87,107.63 382.30,106.00 382.72,106.56 383.15,107.71 383.58,107.41 384.00,106.95 384.43,106.30 384.85,106.47 385.28,106.71 385.71,106.94 386.13,106.90 386.56,105.85 386.99,106.97 387.41,106.65 387.84,106.56 388.27,106.44 388.69,106.78 389.12,107.62 389.54,107.96 389.97,106.94 390.40,107.81 390.82,108.22 391.25,105.95 391.68,107.99 392.10,107.26 392.53,107.72 392.96,107.81 393.38,107.48 393.81,106.53 394.23,107.57 394.66,106.34 395.09,106.97 395.51,107.63 395.94,107.21 396.37,108.11 396.79,106.97 397.22,106.16 397.64,106.55 398.07,106.67 398.50,107.43 398.92,106.64 399.35,105.42 399.78,105.89 400.20,107.19 400.63,107.75 401.06,107.44 401.48,106.84 401.91,106.14 402.33,106.77 402.76,107.50 403.19,108.33 403.61,106.59 404.04,106.15 404.47,107.49 404.89,107.26 405.32,106.86 405.75,107.02 406.17,106.66 406.60,107.08 407.02,107.44 407.45,107.90 407.88,106.23 408.30,107.10 408.73,108.43 409.16,107.62 409.58,108.00 410.01,107.62 410.44,105.91 410.86,106.63 411.29,108.90 411.71,109.29 412.14,108.90 412.57,108.74 412.99,109.32 413.42,108.93 413.85,108.33 414.27,108.43 414.70,109.00 415.13,108.44 415.55,109.25 415.98,108.87 416.40,109.27 416.83,109.12 417.26,109.23 417.68,108.51 418.11,108.62 418.54,108.85 418.96,108.29 419.39,109.05 419.82,109.20 420.24,109.05 420.67,109.27 421.09,109.31 421.52,108.95 421.95,108.67 422.37,108.94 422.80,108.70" fill="none" stroke="#3a50d0" stroke-width="0.5"/>
<polyline points="367.80,108.71 368.23,108.61 368.65,108.60 369.08,109.25 369.51,108.91 369.93,109.17 370.36,108.74 370.78,109.23 371.21,109.34 371.64,109.17 372.06,109.11 372.49,108.81 372.92,108.80 373.34,109.11 373.77,109.23 374.20,108.87 374.62,109.08 375.05,108.96 375.47,108.79 375.90,109.32 376.33,108.72 376.75,109.31 377.18,108.74 377.61,109.06 378.03,108.75 378.46,108.59 378.89,108.62 379.31,109.10 379.74,109.22 380.16,108.56 380.59,108.69 381.02,109.32 381.44,108.59 381.87,109.22 382.30,108.67 382.72,108.96 383.15,108.56 383.58,109.27 384.00,108.72 384.43,109.05 384.85,108.80 385.28,109.33 385.71,108.70 386.13,108.76 386.56,108.80 386.99,109.21 387.41,108.77 387.84,108.82 388.27,108.77 388.69,109.17 389.12,109.16 389.54,109.19 389.97,108.88 390.40,106.66 390.82,107.20 391.25,106.21 391.68,106.02 392.10,107.21 392.53,105.17 392.96,106.19 393.38,105.89 393.81,106.49 394.23,105.21 394.66,106.68 395.09,106.24 395.51,106.56 395.94,106.64 396.37,105.24 396.79,106.13 397.22,106.62 397.64,105.75 398.07,106.84 398.50,106.32 398.92,105.62 399.35,107.24 399.78,107.02 400.20,107.19 400.63,107.72 401.06,106.78 401.48,106.11 401.91,105.91 402.33,107.17 402.76,105.70 403.19,106.85 403.61,106.06 404.04,107.45 404.47,106.53 404.89,107.27 405.32,105.94 405.75,107.76 406.17,107.32 406.60,107.30 407.02,106.84 407.45,106.52 407.88,105.67 408.30,105.98 408.73,107.54 409.16,106.82 409.58,104.87 410.01,105.22 410.44,104.70 410.86,103.98 411.29,104.45 411.71,104.01 412.14,106.87 412.57,105.61 412.99,106.26 413.42,108.85 413.85,109.10 414.27,109.17 414.70,109.27 415.13,109.09 415.55,109.15 415.98,108.89 416.40,108.79 416.83,109.12 417.26,109.01 417.68,108.90 418.11,108.74 418.54,108.70 418.96,108.77 419.39,108.70 419.82,109.29 420.24,108.81 420.67,108.74 421.09,109.30 421.52,108.66 421.95,109.16 422.37,109.08 422.80,108.69" fill="none" stroke="#30a050" stroke-width="0.5"/>
<polyline points="367.80,108.65 368.23,108.30 368.65,109.31 369.08,108.62 369.51,108.82 369.93,108.71 370.36,109.03 370.78,109.17 371.21,108.66 371.64,108.38 372.06,108.26 372.49,108.28 372.92,109.12 373.34,108.27 373.77,108.94 374.20,109.27 374.62,109.34 375.05,109.00 375.47,108.99 375.90,109.28 376.33,108.51 376.75,108.94 377.18,109.14 377.61,108.31 378.03,108.76 378.46,108.46 378.89,109.24 379.31,108.97 379.74,108.99 380.16,106.95 380.59,108.66 381.02,108.55 381.44,107.17 381.87,107.02 382.30,108.04 382.72,107.29 383.15,108.04 383.58,106.52 384.00,106.69 384.43,106.23 384.85,107.34 385.28,105.76 385.71,107.30 386.13,105.49 386.56,106.41 386.99,104.38 387.41,104.44 387.84,106.58 388.27,105.49 388.69,107.10 389.12,104.88 389.54,106.85 389.97,105.78 390.40,104.30 390.82,104.64 391.25,105.56 391.68,104.40 392.10,103.32 392.53,105.40 392.96,105.49 393.38,103.47 393.81,105.76 394.23,105.22 394.66,105.47 395.09,105.52 395.51,101.40 395.94,98.49 396.37,95.99 396.79,98.65 397.22,102.22 397.64,105.11 398.07,105.07 398.50,105.03 398.92,106.04 399.35,105.04 399.78,105.55 400.20,103.96 400.63,105.07 401.06,100.18 401.48,96.00 401.91,92.66 402.33,94.26 402.76,99.63 403.19,102.92 403.61,104.29 404.04,106.56 404.47,103.99 404.89,104.74 405.32,100.42 405.75,98.56 406.17,102.02 406.60,102.22 407.02,105.21 407.45,101.94 407.88,94.90 408.30,91.28 408.73,96.39 409.16,99.89 409.58,103.13 410.01,103.81 410.44,102.47 410.86,100.52 411.29,102.07 411.71,104.18 412.14,105.21 412.57,106.45 412.99,105.57 413.42,108.71 413.85,108.54 414.27,108.85 414.70,109.21 415.13,108.49 415.55,109.20 415.98,109.25 416.40,109.07 416.83,109.29 417.26,108.93 417.68,108.99 418.11,108.35 418.54,108.71 418.96,108.62 419.39,108.57 419.82,108.92 420.24,109.15 420.67,109.03 421.09,108.73 421.52,109.20 421.95,108.29 422.37,108.87 422.80,109.33" fill="none" stroke="#e03030" stroke-width="0.55"/>
<polyline points="422.20,84.30 422.20,64.60 439.00,64.60" fill="none" stroke="#e02020" stroke-width="0.7" stroke-dasharray="1.2,0.7"/>
<circle cx="422.20" cy="84.30" r="0.80" fill="#e02020"/>
<circle cx="422.20" cy="64.60" r="0.60" fill="#e02020"/>
<text x="421.40" y="11.60" text-anchor="start" fill="#000" style="font-size:12.8px;font-weight:bold;">E</text>
<text x="443.50" y="14.00" text-anchor="middle" fill="#000" stroke="#000" stroke-width="0.18" style="font-size:4.6px;font-weight:bold;">Merge</text>
<text x="457.80" y="10.30" text-anchor="start" fill="#3aa83a" stroke="#3aa83a" stroke-width="0.12" style="font-size:4.9px;font-weight:normal;">Green: GLS2</text>
<text x="457.80" y="16.50" text-anchor="start" fill="#4a58c8" stroke="#4a58c8" stroke-width="0.12" style="font-size:4.9px;font-weight:normal;">DAPI: Nuclei</text>
<text x="493.80" y="10.30" text-anchor="start" fill="#e03535" stroke="#e03535" stroke-width="0.12" style="font-size:4.9px;font-weight:normal;">Red: Mito</text>
<text x="490.60" y="16.50" text-anchor="start" fill="#4a58c8" stroke="#4a58c8" stroke-width="0.12" style="font-size:4.9px;font-weight:normal;">DAPI: Nuclei</text>
<rect x="427.70" y="20.20" width="29.60" height="93.60" fill="#000"/>
<rect x="458.20" y="20.20" width="29.60" height="93.60" fill="#000"/>
<rect x="488.80" y="20.20" width="29.60" height="93.60" fill="#000"/>
<text x="3.50" y="133.70" text-anchor="start" fill="#000" style="font-size:12.8px;font-weight:bold;">F</text>
<text x="51.00" y="142.40" text-anchor="middle" fill="#000" stroke="#000" stroke-width="0.18" style="font-size:5.2px;font-weight:bold;">Oxygen consumption</text>
<line x1="28.30" y1="149.50" x2="28.30" y2="207.00" stroke="#111" stroke-width="0.7"/>
<line x1="27.10" y1="207.00" x2="28.30" y2="207.00" stroke="#111" stroke-width="0.7"/>
<text x="26.50" y="208.29" text-anchor="end" fill="#000" stroke="#000" stroke-width="0.18" style="font-size:3.7px;font-weight:bold;">0.0</text>
<line x1="27.10" y1="192.70" x2="28.30" y2="192.70" stroke="#111" stroke-width="0.7"/>
<text x="26.50" y="193.99" text-anchor="end" fill="#000" stroke="#000" stroke-width="0.18" style="font-size:3.7px;font-weight:bold;">0.5</text>
<line x1="27.10" y1="178.40" x2="28.30" y2="178.40" stroke="#111" stroke-width="0.7"/>
<text x="26.50" y="179.69" text-anchor="end" fill="#000" stroke="#000" stroke-width="0.18" style="font-size:3.7px;font-weight:bold;">1.0</text>
<line x1="27.10" y1="164.10" x2="28.30" y2="164.10" stroke="#111" stroke-width="0.7"/>
<text x="26.50" y="165.39" text-anchor="end" fill="#000" stroke="#000" stroke-width="0.18" style="font-size:3.7px;font-weight:bold;">1.5</text>
<line x1="27.10" y1="149.80" x2="28.30" y2="149.80" stroke="#111" stroke-width="0.7"/>
<text x="26.50" y="151.09" text-anchor="end" fill="#000" stroke="#000" stroke-width="0.18" style="font-size:3.7px;font-weight:bold;">2.0</text>
<line x1="28.30" y1="207.00" x2="73.70" y2="207.00" stroke="#111" stroke-width="0.8"/>
<line x1="30.40" y1="207.00" x2="30.40" y2="208.00" stroke="#111" stroke-width="0.5"/>
<text x="31.30" y="209.60" text-anchor="end" fill="#000" stroke="#000" stroke-width="0.18" style="font-size:3.6px;font-weight:bold;" transform="rotate(-60 31.299999999999997 209.6)">0 h</text>
<line x1="36.30" y1="207.00" x2="36.30" y2="208.00" stroke="#111" stroke-width="0.5"/>
<text x="37.20" y="209.60" text-anchor="end" fill="#000" stroke="#000" stroke-width="0.18" style="font-size:3.6px;font-weight:bold;" transform="rotate(-60 37.199999999999996 209.6)">1 h</text>
<line x1="42.20" y1="207.00" x2="42.20" y2="208.00" stroke="#111" stroke-width="0.5"/>
<text x="43.10" y="209.60" text-anchor="end" fill="#000" stroke="#000" stroke-width="0.18" style="font-size:3.6px;font-weight:bold;" transform="rotate(-60 43.1 209.6)">4 h</text>
<line x1="48.10" y1="207.00" x2="48.10" y2="208.00" stroke="#111" stroke-width="0.5"/>
<text x="49.00" y="209.60" text-anchor="end" fill="#000" stroke="#000" stroke-width="0.18" style="font-size:3.6px;font-weight:bold;" transform="rotate(-60 49.0 209.6)">6 h</text>
<line x1="54.00" y1="207.00" x2="54.00" y2="208.00" stroke="#111" stroke-width="0.5"/>
<text x="54.90" y="209.60" text-anchor="end" fill="#000" stroke="#000" stroke-width="0.18" style="font-size:3.6px;font-weight:bold;" transform="rotate(-60 54.9 209.6)">8 h</text>
<line x1="59.90" y1="207.00" x2="59.90" y2="208.00" stroke="#111" stroke-width="0.5"/>
<text x="60.80" y="209.60" text-anchor="end" fill="#000" stroke="#000" stroke-width="0.18" style="font-size:3.6px;font-weight:bold;" transform="rotate(-60 60.8 209.6)">12 h</text>
<line x1="65.80" y1="207.00" x2="65.80" y2="208.00" stroke="#111" stroke-width="0.5"/>
<text x="66.70" y="209.60" text-anchor="end" fill="#000" stroke="#000" stroke-width="0.18" style="font-size:3.6px;font-weight:bold;" transform="rotate(-60 66.70000000000002 209.6)">16 h</text>
<line x1="71.70" y1="207.00" x2="71.70" y2="208.00" stroke="#111" stroke-width="0.5"/>
<text x="72.60" y="209.60" text-anchor="end" fill="#000" stroke="#000" stroke-width="0.18" style="font-size:3.6px;font-weight:bold;" transform="rotate(-60 72.60000000000001 209.6)">24 h</text>
<polyline points="30.40,178.40 36.30,176.97 42.20,172.11 48.10,170.39 54.00,169.82 59.90,166.39 65.80,168.39 71.70,167.53" fill="none" stroke="#111" stroke-width="0.9"/>
<circle cx="30.40" cy="178.40" r="1.00" fill="#111"/>
<circle cx="36.30" cy="176.97" r="1.00" fill="#111"/>
<line x1="42.20" y1="171.11" x2="42.20" y2="173.11" stroke="#111" stroke-width="0.45"/>
<line x1="41.60" y1="171.11" x2="42.80" y2="171.11" stroke="#111" stroke-width="0.45"/>
<circle cx="42.20" cy="172.11" r="1.00" fill="#111"/>
<line x1="48.10" y1="169.39" x2="48.10" y2="171.39" stroke="#111" stroke-width="0.45"/>
<line x1="47.50" y1="169.39" x2="48.70" y2="169.39" stroke="#111" stroke-width="0.45"/>
<circle cx="48.10" cy="170.39" r="1.00" fill="#111"/>
<line x1="54.00" y1="169.02" x2="54.00" y2="170.62" stroke="#111" stroke-width="0.45"/>
<line x1="53.40" y1="169.02" x2="54.60" y2="169.02" stroke="#111" stroke-width="0.45"/>
<circle cx="54.00" cy="169.82" r="1.00" fill="#111"/>
<circle cx="59.90" cy="166.39" r="1.00" fill="#111"/>
<line x1="65.80" y1="167.39" x2="65.80" y2="169.39" stroke="#111" stroke-width="0.45"/>
<line x1="65.20" y1="167.39" x2="66.40" y2="167.39" stroke="#111" stroke-width="0.45"/>
<circle cx="65.80" cy="168.39" r="1.00" fill="#111"/>
<line x1="71.70" y1="166.53" x2="71.70" y2="168.53" stroke="#111" stroke-width="0.45"/>
<line x1="71.10" y1="166.53" x2="72.30" y2="166.53" stroke="#111" stroke-width="0.45"/>
<circle cx="71.70" cy="167.53" r="1.00" fill="#111"/>
<polyline points="30.40,179.26 36.30,175.54 42.20,170.68 48.10,167.82 54.00,165.53 59.90,162.10 65.80,162.67 71.70,160.38" fill="none" stroke="#e0202a" stroke-width="0.9"/>
<line x1="30.40" y1="178.26" x2="30.40" y2="180.26" stroke="#e0202a" stroke-width="0.45"/>
<line x1="29.80" y1="178.26" x2="31.00" y2="178.26" stroke="#e0202a" stroke-width="0.45"/>
<circle cx="30.40" cy="179.26" r="1.00" fill="#e0202a"/>
<circle cx="36.30" cy="175.54" r="1.00" fill="#e0202a"/>
<line x1="42.20" y1="169.68" x2="42.20" y2="171.68" stroke="#e0202a" stroke-width="0.45"/>
<line x1="41.60" y1="169.68" x2="42.80" y2="169.68" stroke="#e0202a" stroke-width="0.45"/>
<circle cx="42.20" cy="170.68" r="1.00" fill="#e0202a"/>
<line x1="48.10" y1="166.82" x2="48.10" y2="168.82" stroke="#e0202a" stroke-width="0.45"/>
<line x1="47.50" y1="166.82" x2="48.70" y2="166.82" stroke="#e0202a" stroke-width="0.45"/>
<circle cx="48.10" cy="167.82" r="1.00" fill="#e0202a"/>
<line x1="54.00" y1="164.73" x2="54.00" y2="166.33" stroke="#e0202a" stroke-width="0.45"/>
<line x1="53.40" y1="164.73" x2="54.60" y2="164.73" stroke="#e0202a" stroke-width="0.45"/>
<circle cx="54.00" cy="165.53" r="1.00" fill="#e0202a"/>
<line x1="59.90" y1="161.10" x2="59.90" y2="163.10" stroke="#e0202a" stroke-width="0.45"/>
<line x1="59.30" y1="161.10" x2="60.50" y2="161.10" stroke="#e0202a" stroke-width="0.45"/>
<circle cx="59.90" cy="162.10" r="1.00" fill="#e0202a"/>
<line x1="65.80" y1="161.67" x2="65.80" y2="163.67" stroke="#e0202a" stroke-width="0.45"/>
<line x1="65.20" y1="161.67" x2="66.40" y2="161.67" stroke="#e0202a" stroke-width="0.45"/>
<circle cx="65.80" cy="162.67" r="1.00" fill="#e0202a"/>
<line x1="71.70" y1="158.78" x2="71.70" y2="161.98" stroke="#e0202a" stroke-width="0.45"/>
<line x1="71.10" y1="158.78" x2="72.30" y2="158.78" stroke="#e0202a" stroke-width="0.45"/>
<circle cx="71.70" cy="160.38" r="1.00" fill="#e0202a"/>
<text x="54.20" y="164.30" text-anchor="middle" fill="#333" stroke="#333" stroke-width="0.18" style="font-size:4.4px;font-weight:bold;">*</text>
<text x="59.80" y="160.40" text-anchor="middle" fill="#333" stroke="#333" stroke-width="0.18" style="font-size:4.4px;font-weight:bold;">*</text>
<text x="65.60" y="161.30" text-anchor="middle" fill="#333" stroke="#333" stroke-width="0.18" style="font-size:4.4px;font-weight:bold;">*</text>
<text x="72.10" y="157.20" text-anchor="middle" fill="#333" stroke="#333" stroke-width="0.18" style="font-size:4.4px;font-weight:bold;">*</text>
<line x1="43.10" y1="193.50" x2="49.60" y2="193.50" stroke="#111" stroke-width="1.0"/>
<line x1="43.10" y1="198.30" x2="49.60" y2="198.30" stroke="#e0202a" stroke-width="1.0"/>
<text x="52.90" y="195.05" text-anchor="start" fill="#000" stroke="#000" stroke-width="0.18" style="font-size:4.4px;font-weight:bold;">Mock</text>
<text x="52.90" y="199.85" text-anchor="start" fill="#000" stroke="#000" stroke-width="0.18" style="font-size:4.4px;font-weight:bold;">GLS2</text>
<text x="51.00" y="220.60" text-anchor="middle" fill="#000" stroke="#000" stroke-width="0.18" style="font-size:4.9px;font-weight:bold;">Times</text>
<text x="17.00" y="180.00" text-anchor="middle" fill="#000" stroke="#000" stroke-width="0.18" style="font-size:4.6px;font-weight:bold;" transform="rotate(-90 17 180)">Relative oxygen consumption</text>
<text x="122.50" y="142.40" text-anchor="middle" fill="#000" stroke="#000" stroke-width="0.18" style="font-size:5.2px;font-weight:bold;">Oxygen consumption</text>
<line x1="100.40" y1="149.50" x2="100.40" y2="206.30" stroke="#111" stroke-width="0.7"/>
<line x1="99.20" y1="206.30" x2="100.40" y2="206.30" stroke="#111" stroke-width="0.7"/>
<text x="98.60" y="207.59" text-anchor="end" fill="#000" stroke="#000" stroke-width="0.18" style="font-size:3.7px;font-weight:bold;">0</text>
<line x1="99.20" y1="187.50" x2="100.40" y2="187.50" stroke="#111" stroke-width="0.7"/>
<text x="98.60" y="188.79" text-anchor="end" fill="#000" stroke="#000" stroke-width="0.18" style="font-size:3.7px;font-weight:bold;">1</text>
<line x1="99.20" y1="168.70" x2="100.40" y2="168.70" stroke="#111" stroke-width="0.7"/>
<text x="98.60" y="170.00" text-anchor="end" fill="#000" stroke="#000" stroke-width="0.18" style="font-size:3.7px;font-weight:bold;">2</text>
<line x1="99.20" y1="149.90" x2="100.40" y2="149.90" stroke="#111" stroke-width="0.7"/>
<text x="98.60" y="151.19" text-anchor="end" fill="#000" stroke="#000" stroke-width="0.18" style="font-size:3.7px;font-weight:bold;">3</text>
<line x1="100.40" y1="206.30" x2="145.10" y2="206.30" stroke="#111" stroke-width="0.8"/>
<line x1="102.60" y1="206.30" x2="102.60" y2="207.30" stroke="#111" stroke-width="0.5"/>
<text x="103.50" y="208.90" text-anchor="end" fill="#000" stroke="#000" stroke-width="0.18" style="font-size:3.6px;font-weight:bold;" transform="rotate(-60 103.5 208.9)">0 h</text>
<line x1="109.35" y1="206.30" x2="109.35" y2="207.30" stroke="#111" stroke-width="0.5"/>
<text x="110.25" y="208.90" text-anchor="end" fill="#000" stroke="#000" stroke-width="0.18" style="font-size:3.6px;font-weight:bold;" transform="rotate(-60 110.25 208.9)">1 h</text>
<line x1="116.10" y1="206.30" x2="116.10" y2="207.30" stroke="#111" stroke-width="0.5"/>
<text x="117.00" y="208.90" text-anchor="end" fill="#000" stroke="#000" stroke-width="0.18" style="font-size:3.6px;font-weight:bold;" transform="rotate(-60 117.0 208.9)">4 h</text>
<line x1="122.85" y1="206.30" x2="122.85" y2="207.30" stroke="#111" stroke-width="0.5"/>
<text x="123.75" y="208.90" text-anchor="end" fill="#000" stroke="#000" stroke-width="0.18" style="font-size:3.6px;font-weight:bold;" transform="rotate(-60 123.75 208.9)">8 h</text>
<line x1="129.60" y1="206.30" x2="129.60" y2="207.30" stroke="#111" stroke-width="0.5"/>
<text x="130.50" y="208.90" text-anchor="end" fill="#000" stroke="#000" stroke-width="0.18" style="font-size:3.6px;font-weight:bold;" transform="rotate(-60 130.5 208.9)">12 h</text>
<line x1="136.35" y1="206.30" x2="136.35" y2="207.30" stroke="#111" stroke-width="0.5"/>
<text x="137.25" y="208.90" text-anchor="end" fill="#000" stroke="#000" stroke-width="0.18" style="font-size:3.6px;font-weight:bold;" transform="rotate(-60 137.25 208.9)">16 h</text>
<line x1="143.10" y1="206.30" x2="143.10" y2="207.30" stroke="#111" stroke-width="0.5"/>
<text x="144.00" y="208.90" text-anchor="end" fill="#000" stroke="#000" stroke-width="0.18" style="font-size:3.6px;font-weight:bold;" transform="rotate(-60 144.0 208.9)">24 h</text>
<polyline points="102.60,187.50 109.35,184.68 116.10,183.36 122.85,180.92 129.60,178.10 136.35,169.64 143.10,157.42" fill="none" stroke="#111" stroke-width="0.9"/>
<circle cx="102.60" cy="187.50" r="1.00" fill="#111"/>
<line x1="109.35" y1="184.08" x2="109.35" y2="185.28" stroke="#111" stroke-width="0.45"/>
<line x1="108.75" y1="184.08" x2="109.95" y2="184.08" stroke="#111" stroke-width="0.45"/>
<circle cx="109.35" cy="184.68" r="1.00" fill="#111"/>
<line x1="116.10" y1="182.76" x2="116.10" y2="183.96" stroke="#111" stroke-width="0.45"/>
<line x1="115.50" y1="182.76" x2="116.70" y2="182.76" stroke="#111" stroke-width="0.45"/>
<circle cx="116.10" cy="183.36" r="1.00" fill="#111"/>
<line x1="122.85" y1="180.32" x2="122.85" y2="181.52" stroke="#111" stroke-width="0.45"/>
<line x1="122.25" y1="180.32" x2="123.45" y2="180.32" stroke="#111" stroke-width="0.45"/>
<circle cx="122.85" cy="180.92" r="1.00" fill="#111"/>
<line x1="129.60" y1="177.30" x2="129.60" y2="178.90" stroke="#111" stroke-width="0.45"/>
<line x1="129.00" y1="177.30" x2="130.20" y2="177.30" stroke="#111" stroke-width="0.45"/>
<circle cx="129.60" cy="178.10" r="1.00" fill="#111"/>
<line x1="136.35" y1="168.44" x2="136.35" y2="170.84" stroke="#111" stroke-width="0.45"/>
<line x1="135.75" y1="168.44" x2="136.95" y2="168.44" stroke="#111" stroke-width="0.45"/>
<circle cx="136.35" cy="169.64" r="1.00" fill="#111"/>
<line x1="143.10" y1="155.22" x2="143.10" y2="159.62" stroke="#111" stroke-width="0.45"/>
<line x1="142.50" y1="155.22" x2="143.70" y2="155.22" stroke="#111" stroke-width="0.45"/>
<circle cx="143.10" cy="157.42" r="1.00" fill="#111"/>
<polyline points="102.60,187.50 109.35,184.68 116.10,183.74 122.85,182.80 129.60,180.92 136.35,177.16 143.10,172.84" fill="none" stroke="#e0202a" stroke-width="0.9"/>
<circle cx="102.60" cy="187.50" r="1.00" fill="#e0202a"/>
<line x1="109.35" y1="184.08" x2="109.35" y2="185.28" stroke="#e0202a" stroke-width="0.45"/>
<line x1="108.75" y1="184.08" x2="109.95" y2="184.08" stroke="#e0202a" stroke-width="0.45"/>
<circle cx="109.35" cy="184.68" r="1.00" fill="#e0202a"/>
<line x1="116.10" y1="183.14" x2="116.10" y2="184.34" stroke="#e0202a" stroke-width="0.45"/>
<line x1="115.50" y1="183.14" x2="116.70" y2="183.14" stroke="#e0202a" stroke-width="0.45"/>
<circle cx="116.10" cy="183.74" r="1.00" fill="#e0202a"/>
<line x1="122.85" y1="182.20" x2="122.85" y2="183.40" stroke="#e0202a" stroke-width="0.45"/>
<line x1="122.25" y1="182.20" x2="123.45" y2="182.20" stroke="#e0202a" stroke-width="0.45"/>
<circle cx="122.85" cy="182.80" r="1.00" fill="#e0202a"/>
<line x1="129.60" y1="180.12" x2="129.60" y2="181.72" stroke="#e0202a" stroke-width="0.45"/>
<line x1="129.00" y1="180.12" x2="130.20" y2="180.12" stroke="#e0202a" stroke-width="0.45"/>
<circle cx="129.60" cy="180.92" r="1.00" fill="#e0202a"/>
<line x1="136.35" y1="176.36" x2="136.35" y2="177.96" stroke="#e0202a" stroke-width="0.45"/>
<line x1="135.75" y1="176.36" x2="136.95" y2="176.36" stroke="#e0202a" stroke-width="0.45"/>
<circle cx="136.35" cy="177.16" r="1.00" fill="#e0202a"/>
<line x1="143.10" y1="171.64" x2="143.10" y2="174.04" stroke="#e0202a" stroke-width="0.45"/>
<line x1="142.50" y1="171.64" x2="143.70" y2="171.64" stroke="#e0202a" stroke-width="0.45"/>
<circle cx="143.10" cy="172.84" r="1.00" fill="#e0202a"/>
<text x="129.50" y="176.00" text-anchor="middle" fill="#333" stroke="#333" stroke-width="0.18" style="font-size:4.4px;font-weight:bold;">*</text>
<text x="136.50" y="166.50" text-anchor="middle" fill="#333" stroke="#333" stroke-width="0.18" style="font-size:4.4px;font-weight:bold;">*</text>
<text x="142.80" y="153.20" text-anchor="middle" fill="#333" stroke="#333" stroke-width="0.18" style="font-size:4.4px;font-weight:bold;">*</text>
<line x1="118.10" y1="194.10" x2="124.60" y2="194.10" stroke="#111" stroke-width="1.0"/>
<line x1="118.10" y1="198.20" x2="124.60" y2="198.20" stroke="#e0202a" stroke-width="1.0"/>
<text x="127.90" y="195.65" text-anchor="start" fill="#000" stroke="#000" stroke-width="0.18" style="font-size:4.1px;font-weight:bold;">siLuci</text>
<text x="127.90" y="199.75" text-anchor="start" fill="#000" stroke="#000" stroke-width="0.18" style="font-size:4.1px;font-weight:bold;">siGLS2</text>
<text x="124.50" y="220.60" text-anchor="middle" fill="#000" stroke="#000" stroke-width="0.18" style="font-size:4.9px;font-weight:bold;">Times</text>
<text x="92.40" y="180.00" text-anchor="middle" fill="#000" stroke="#000" stroke-width="0.18" style="font-size:4.6px;font-weight:bold;" transform="rotate(-90 92.4 180)">Relative oxygen consumption</text>
<text x="160.70" y="138.20" text-anchor="start" fill="#000" style="font-size:12.8px;font-weight:bold;">G</text>
<text x="197.20" y="140.30" text-anchor="middle" fill="#000" stroke="#000" stroke-width="0.18" style="font-size:5.8px;font-weight:bold;">αKG/Glu</text>
<line x1="182.30" y1="150.60" x2="182.30" y2="214.30" stroke="#111" stroke-width="0.7"/>
<line x1="181.10" y1="214.30" x2="182.30" y2="214.30" stroke="#111" stroke-width="0.7"/>
<text x="180.50" y="215.63" text-anchor="end" fill="#000" stroke="#000" stroke-width="0.18" style="font-size:3.8px;font-weight:bold;">0</text>
<line x1="181.10" y1="193.20" x2="182.30" y2="193.20" stroke="#111" stroke-width="0.7"/>
<text x="180.50" y="194.53" text-anchor="end" fill="#000" stroke="#000" stroke-width="0.18" style="font-size:3.8px;font-weight:bold;">50</text>
<line x1="181.10" y1="172.10" x2="182.30" y2="172.10" stroke="#111" stroke-width="0.7"/>
<text x="180.50" y="173.43" text-anchor="end" fill="#000" stroke="#000" stroke-width="0.18" style="font-size:3.8px;font-weight:bold;">100</text>
<line x1="181.10" y1="151.00" x2="182.30" y2="151.00" stroke="#111" stroke-width="0.7"/>
<text x="180.50" y="152.33" text-anchor="end" fill="#000" stroke="#000" stroke-width="0.18" style="font-size:3.8px;font-weight:bold;">150</text>
<line x1="182.30" y1="214.30" x2="222.00" y2="214.30" stroke="#111" stroke-width="0.8"/>
<rect x="187.60" y="172.10" width="12.40" height="42.20" fill="#d9d9d9" stroke="#222" stroke-width="0.6"/>
<rect x="205.80" y="184.34" width="11.60" height="29.96" fill="#f2878a" stroke="#222" stroke-width="0.6"/>
<line x1="193.80" y1="169.70" x2="193.80" y2="174.50" stroke="#111" stroke-width="0.5"/>
<line x1="192.55" y1="169.70" x2="195.05" y2="169.70" stroke="#111" stroke-width="0.5"/>
<line x1="211.60" y1="182.74" x2="211.60" y2="185.94" stroke="#111" stroke-width="0.5"/>
<line x1="210.35" y1="182.74" x2="212.85" y2="182.74" stroke="#111" stroke-width="0.5"/>
<line x1="191.60" y1="165.80" x2="214.20" y2="165.80" stroke="#333" stroke-width="0.5"/>
<text x="202.90" y="165.00" text-anchor="middle" fill="#000" stroke="#000" stroke-width="0.18" style="font-size:4.5px;font-weight:bold;">*</text>
<rect x="197.30" y="149.00" width="5.80" height="2.60" fill="#d9d9d9" stroke="#222" stroke-width="0.5"/>
<rect x="197.30" y="152.60" width="5.80" height="2.60" fill="#f2878a" stroke="#222" stroke-width="0.5"/>
<text x="204.80" y="151.70" text-anchor="start" fill="#000" stroke="#000" stroke-width="0.18" style="font-size:4.3px;font-weight:bold;">siLuci</text>
<text x="204.80" y="155.40" text-anchor="start" fill="#000" stroke="#000" stroke-width="0.18" style="font-size:4.3px;font-weight:bold;">siGLS2</text>
<text x="201.30" y="219.40" text-anchor="middle" fill="#000" stroke="#000" stroke-width="0.18" style="font-size:4.6px;font-weight:bold;">Ratio</text>
<text x="172.20" y="183.00" text-anchor="middle" fill="#000" stroke="#000" stroke-width="0.18" style="font-size:4.8px;font-weight:bold;" transform="rotate(-90 172.2 183)">Ratio (%)</text>
<text x="231.80" y="131.40" text-anchor="start" fill="#000" style="font-size:12.8px;font-weight:bold;">H</text>
<text x="321.00" y="124.20" text-anchor="middle" fill="#000" stroke="#000" stroke-width="0.18" style="font-size:4.0px;font-weight:bold;">DMSO</text>
<line x1="249.50" y1="125.80" x2="392.20" y2="125.80" stroke="#111" stroke-width="0.8"/>
<text x="266.75" y="130.60" text-anchor="middle" fill="#000" stroke="#000" stroke-width="0.18" style="font-size:3.8px;font-weight:bold;">siLuci</text>
<g><rect x="249.50" y="132.60" width="34.50" height="37.20" fill="#bdbdbd"/><svg x="249.50" y="132.60" width="34.50" height="37.20" overflow="hidden"><g filter="url(#blur03)" stroke-linecap="round" stroke-linejoin="round" fill="none"><path d="M20.6 15.7L20.3 17.2L20.5 19.0M18.2 11.1L20.1 11.4L21.4 11.8M29.9 9.0L30.6 9.7L31.5 11.6M21.1 0.0L22.9 -0.8L24.6 -1.4M11.2 20.5L11.2 21.8M30.2 36.5L31.6 37.7M19.2 32.6L19.8 33.6L19.5 35.4M4.5 31.2L3.3 30.5L2.5 29.8L1.1 28.4M16.2 5.9L15.1 6.9L14.3 8.0M19.4 1.2L18.5 2.4L17.6 3.4M24.2 8.1L24.1 9.7L24.8 11.0M32.5 4.1L32.2 5.6L32.6 6.9M29.8 32.6L30.5 33.3M21.7 32.3L20.6 33.2L19.5 34.1M32.4 26.0L32.3 27.2L32.9 28.2M0.3 2.9L1.0 4.8L2.6 5.9M35.4 10.7L34.9 12.0L33.5 13.5M2.5 6.2L3.3 7.2M31.3 28.5L29.8 29.5L29.0 30.9L28.9 32.7M7.4 22.9L6.6 24.1L6.6 25.1M12.5 15.0L13.6 15.7L15.3 16.7M15.2 13.1L13.4 13.7L12.4 13.9L11.0 14.0M32.9 5.9L32.3 6.7L30.6 7.5L30.1 8.7M2.3 14.1L3.2 15.0L4.3 16.5M6.6 28.8L4.6 29.0L3.0 28.0M13.3 13.1L11.5 13.6L9.5 13.5M31.5 25.0L30.8 26.9M11.2 24.7L9.6 25.7M0.9 35.1L1.6 36.3L1.6 37.3M25.2 23.5L24.6 24.8L22.9 25.9M13.5 3.5L12.6 4.0M20.1 37.9L18.4 39.0L17.4 39.4M0.9 6.7L-0.0 7.5L-1.4 7.7M2.6 28.6L2.9 30.4L3.2 32.2M6.1 33.4L6.4 35.0L6.4 37.1L6.5 39.0M3.2 26.6L4.2 28.3L5.9 29.1M21.4 19.2L22.5 20.0L23.9 20.5M3.3 34.2L3.2 36.3L3.9 38.1M2.0 30.1L3.9 29.7L5.3 29.9L7.2 30.6M-0.1 4.7L-1.1 5.3L-2.7 5.8M30.7 28.1L31.6 27.8M3.4 13.4L4.4 13.8L5.4 14.0L7.1 13.7M16.1 5.7L16.7 7.4L17.2 8.2L18.0 9.0M0.2 10.1L-0.5 10.8L-0.9 12.5M29.3 21.4L28.4 22.0L28.1 22.9L28.4 24.0M7.6 11.1L7.4 12.0L7.2 13.7L7.1 15.2M5.8 22.9L7.7 22.9L9.4 23.7M17.6 16.7L19.2 16.1L20.7 16.6L22.7 16.9M4.9 23.6L6.2 24.3L7.8 25.6M13.6 29.7L12.8 31.6M15.5 25.2L14.6 27.0M15.3 5.6L16.6 6.3L18.0 7.4L19.0 9.1M31.2 22.4L30.3 23.0L29.6 24.6L29.8 26.3M2.3 14.2L3.2 15.3L3.8 16.5M8.6 10.2L9.5 11.1M11.2 11.2L10.1 11.7M30.8 4.3L29.8 4.1L28.0 4.6L26.5 4.4M18.4 28.0L18.6 29.0L17.9 30.6L16.4 31.8M32.5 16.4L32.3 17.6L31.8 19.0L31.8 20.5M14.3 37.7L14.0 38.6L13.4 40.1L12.5 41.0M7.9 22.8L7.6 24.6M1.4 16.2L0.6 16.5L-0.3 16.9M0.8 4.0L1.8 5.2L2.6 5.8M1.2 25.0L1.2 26.8L0.2 28.3M12.5 20.9L11.4 21.6L10.9 23.0M17.4 15.7L17.9 17.2L18.5 18.1M26.1 1.1L24.8 1.6L24.1 2.6M32.2 20.8L34.1 21.4M2.5 30.1L1.1 31.1M16.0 34.4L15.4 35.7L15.3 37.5L14.7 38.6M26.8 31.4L25.3 31.8M6.5 27.6L5.4 29.3M10.5 19.0L9.1 18.7L7.6 18.7M14.2 18.5L15.2 18.3M9.0 27.2L7.7 27.6L6.1 27.2M24.9 35.9L23.2 37.0L21.6 36.9L20.6 37.3M17.0 1.3L18.4 2.3L19.0 3.6M23.8 0.9L23.9 2.2L23.9 3.9L24.2 4.9M12.5 34.3L11.1 35.4L9.5 36.6M10.5 15.0L12.0 15.1M30.5 16.8L29.6 17.6L29.0 18.6M1.2 28.2L2.4 28.1L4.0 29.0M31.1 8.9L31.9 10.4L32.0 11.6M20.3 10.1L19.1 10.8M16.7 25.9L17.5 27.7L18.2 29.6L19.2 31.2M33.7 31.4L32.8 32.3L32.1 33.4M3.6 8.8L4.4 10.5L5.0 11.6M12.0 7.1L11.4 7.7M6.6 1.3L6.3 2.8L5.9 4.8M4.6 24.2L3.4 24.2L2.3 24.4M23.3 33.1L23.2 34.8L22.9 35.7L21.7 36.7M14.6 22.1L14.4 23.4L14.8 24.9L15.0 26.9M28.9 -0.7L29.8 0.6L30.3 2.4M24.9 22.9L25.8 23.9L27.4 24.9M13.7 31.2L13.5 32.3L12.8 33.6M17.0 0.4L17.9 0.6L19.0 1.9M4.4 30.1L4.5 32.1M14.8 13.8L12.9 14.6L12.2 15.9M7.8 2.3L6.1 2.4L5.1 3.3M10.9 5.2L12.1 5.8L13.7 6.2L14.9 7.6M3.5 27.8L4.2 29.6L5.2 30.3M20.8 21.0L19.1 20.6L17.3 19.8L16.1 19.0M25.2 35.6L24.2 36.1L22.2 35.6M14.9 35.5L15.3 36.7L15.4 37.9M34.1 30.1L36.1 30.6L37.1 30.7M26.4 25.5L25.6 26.1M8.3 1.5L7.9 3.6L7.4 5.4L7.7 7.3M29.5 35.6L28.4 34.9L26.6 34.9" stroke="#d8d8d8" stroke-width="0.6"/><path d="M19.9 15.8L19.6 17.3L19.8 19.1M21.4 0.7L23.2 -0.1L24.9 -0.7M10.5 20.5L10.5 21.8M29.7 37.0L31.1 38.3M15.6 5.5L14.5 6.4L13.7 7.6M29.3 33.2L30.0 33.9M-0.1 3.6L0.6 5.4L2.2 6.5M34.8 10.2L34.4 11.5L33.0 13.0M30.5 28.5L29.0 29.5L28.2 30.9L28.2 32.7M1.7 14.5L2.6 15.5L3.8 16.9M7.0 28.2L4.9 28.3L3.3 27.4M10.8 24.0L9.2 25.1M13.2 2.8L12.2 3.4M19.8 37.2L18.1 38.3L17.1 38.8M1.8 28.8L2.1 30.6L2.5 32.3M5.3 33.5L5.7 35.1L5.6 37.2L5.8 39.0M2.6 34.5L2.5 36.6L3.2 38.4M1.7 30.8L3.7 30.5L5.0 30.7L7.0 31.3M30.9 28.8L31.8 28.6M28.6 21.6L27.7 22.2L27.4 23.1L27.7 24.2M4.4 24.2L5.7 24.8L7.3 26.2M14.6 6.0L16.0 6.6L17.4 7.8L18.4 9.4M30.5 22.5L29.6 23.1L28.9 24.7L29.1 26.3M1.6 14.5L2.5 15.6L3.1 16.9M8.0 10.7L9.0 11.7M10.9 10.5L9.8 11.0M30.9 3.5L29.9 3.3L28.1 3.9L26.6 3.6M13.7 37.1L13.5 38.0L12.9 39.6L12.0 40.5M7.1 22.6L6.9 24.5M1.1 15.5L0.3 15.8L-0.6 16.2M25.4 0.7L24.2 1.2L23.5 2.2M2.0 29.5L0.7 30.5M15.4 34.0L14.8 35.3L14.7 37.1L14.0 38.2M26.6 30.7L25.1 31.1M10.5 18.2L9.1 18.0L7.6 18.0M14.4 19.3L15.3 19.0M9.1 26.5L7.9 26.9L6.3 26.5M24.6 35.2L22.9 36.3L21.3 36.2L20.3 36.6M16.4 1.6L17.7 2.6L18.3 3.9M10.4 15.8L12.0 15.8M29.9 16.4L29.0 17.2L28.4 18.1M30.4 9.0L31.1 10.5L31.3 11.7M33.1 31.1L32.1 31.9L31.5 33.0M2.9 9.1L3.8 10.8L4.3 11.9M5.9 1.2L5.6 2.7L5.1 4.7M13.8 22.2L13.6 23.5L14.0 25.0L14.3 27.0M13.0 30.9L12.9 32.0L12.1 33.2M16.4 0.8L17.3 1.1L18.4 2.4M3.7 30.1L3.8 32.2M3.1 28.4L3.8 30.2L4.7 30.9M34.1 30.8L36.1 31.3L37.1 31.4M7.6 1.6L7.2 3.7L6.7 5.6L7.0 7.4M29.5 34.9L28.4 34.2L26.6 34.2" stroke="#7c7c7c" stroke-width="0.75"/><path d="M18.0 11.8L19.9 12.1L21.2 12.5M29.2 9.3L29.9 10.0L30.8 11.9M18.5 32.5L19.0 33.5L18.8 35.3M5.1 30.7L3.8 30.0L3.0 29.2L1.6 27.9M18.9 0.7L18.0 1.8L17.0 2.8M23.6 8.5L23.4 10.1L24.1 11.4M31.8 4.3L31.5 5.8L31.9 7.2M21.2 31.7L20.1 32.6L19.0 33.5M31.8 26.4L31.7 27.6L32.3 28.6M1.9 6.6L2.7 7.6M6.7 22.9L5.9 24.1L5.9 25.1M12.1 15.6L13.2 16.3L14.9 17.4M15.1 12.4L13.3 12.9L12.3 13.1L11.0 13.3M32.2 5.6L31.7 6.4L30.0 7.2L29.4 8.4M13.3 12.3L11.5 12.9L9.5 12.8M30.8 24.8L30.1 26.6M0.1 35.1L0.9 36.3L0.9 37.3M24.8 22.9L24.1 24.1L22.5 25.3M0.8 5.9L-0.2 6.7L-1.5 7.0M2.9 27.3L3.9 28.9L5.6 29.8M21.2 19.9L22.2 20.7L23.7 21.2M-0.3 4.0L-1.4 4.5L-2.9 5.1M3.5 14.1L4.6 14.5L5.5 14.8L7.2 14.4M15.6 6.3L16.2 7.9L16.7 8.8L17.5 9.5M-0.5 9.9L-1.2 10.6L-1.7 12.3M6.8 11.0L6.7 11.9L6.5 13.6L6.3 15.1M5.4 23.5L7.4 23.6L9.0 24.4M17.5 17.4L19.1 16.8L20.5 17.3L22.6 17.6M12.9 29.4L12.1 31.4M14.9 24.8L13.9 26.7M18.0 27.4L18.2 28.4L17.4 30.0L15.9 31.2M31.7 16.4L31.5 17.6L31.0 19.0L31.1 20.5M0.3 4.6L1.4 5.8L2.1 6.4M0.5 24.6L0.6 26.4L-0.4 27.9M11.8 20.6L10.7 21.3L10.2 22.7M16.7 16.1L17.3 17.6L17.9 18.6M32.0 21.5L33.9 22.1M5.9 27.2L4.8 28.9M23.1 1.1L23.2 2.4L23.2 4.1L23.5 5.1M12.0 33.7L10.7 34.8L9.1 36.0M0.8 28.9L2.1 28.8L3.7 29.6M20.0 9.5L18.7 10.2M16.1 26.3L16.8 28.0L17.5 29.9L18.5 31.6M11.5 6.6L10.9 7.2M4.5 23.5L3.2 23.5L2.1 23.7M22.8 32.6L22.7 34.2L22.4 35.1L21.2 36.1M28.2 -0.5L29.0 0.7L29.5 2.6M24.5 23.6L25.4 24.5L27.1 25.5M14.1 13.5L12.3 14.2L11.5 15.6M7.3 1.7L5.6 1.8L4.6 2.7M10.3 5.7L11.5 6.3L13.1 6.7L14.3 8.1M21.2 20.3L19.5 19.9L17.7 19.1L16.5 18.3M25.4 34.9L24.4 35.3L22.4 34.9M14.1 35.6L14.5 36.8L14.6 38.0M26.0 24.9L25.1 25.4" stroke="#959595" stroke-width="0.7"/><path d="M11.2 10.9h.1M15.0 16.2h.1M24.9 30.1h.1M19.1 32.9h.1M24.5 9.6h.1M18.6 30.7h.1M25.0 10.2h.1M27.9 2.2h.1M3.4 4.9h.1M29.1 33.3h.1M9.7 22.9h.1M23.0 27.0h.1M21.2 35.0h.1M18.8 28.3h.1M8.6 15.8h.1M15.2 36.7h.1M29.3 31.0h.1M15.5 9.0h.1M27.1 19.2h.1M26.6 24.1h.1M4.6 8.8h.1M4.0 37.0h.1M24.1 32.5h.1M29.9 4.0h.1M31.5 6.1h.1M6.9 16.6h.1M18.9 11.1h.1M3.6 22.7h.1M11.9 32.2h.1M31.2 10.9h.1M6.0 0.3h.1M16.2 33.6h.1M27.2 25.6h.1M14.1 31.7h.1M1.7 16.3h.1M5.5 14.4h.1M18.4 9.0h.1M14.7 12.5h.1M31.9 22.9h.1M16.6 9.7h.1M9.0 4.9h.1M28.3 32.2h.1M9.2 22.6h.1M27.3 4.9h.1M16.2 12.0h.1M4.2 26.2h.1M22.8 27.1h.1M12.5 22.3h.1M12.7 28.7h.1M22.3 11.0h.1M28.0 30.6h.1" stroke="#cacaca" stroke-width="0.8"/><path d="M15.5 4.8h.1M26.0 33.3h.1M30.0 21.2h.1M22.6 26.1h.1M0.7 22.6h.1M11.1 9.3h.1M11.9 31.6h.1M13.6 0.8h.1M16.7 6.3h.1M5.9 9.0h.1M22.6 3.9h.1M26.6 20.0h.1M21.1 28.9h.1M4.9 25.0h.1M2.0 24.2h.1M16.5 16.4h.1M33.2 21.7h.1M22.1 33.7h.1M6.5 20.1h.1M0.0 0.1h.1M14.9 11.1h.1M21.8 6.9h.1M1.5 31.0h.1M13.7 2.4h.1M25.0 29.4h.1M28.3 14.8h.1M10.5 0.7h.1M29.8 34.6h.1M20.2 24.4h.1M27.2 31.4h.1M25.1 12.4h.1M28.9 16.2h.1M33.4 5.2h.1M9.2 36.5h.1M16.0 12.2h.1M19.8 0.6h.1M34.3 2.3h.1M24.6 17.7h.1M5.3 30.5h.1M3.3 20.0h.1" stroke="#a4a4a4" stroke-width="0.8"/><path d="M3.2 13.4h.1M15.2 15.1h.1M22.2 13.9h.1M7.9 36.3h.1M34.4 30.3h.1M29.1 36.5h.1M27.1 21.0h.1M1.7 7.7h.1M20.4 18.3h.1M29.2 0.5h.1M14.5 2.9h.1M9.7 14.0h.1" stroke="#6a6a6a" stroke-width="1.1"/></g><line x1="1.0" y1="35.7" x2="6.5" y2="35.7" stroke="#222" stroke-width="0.7"/></svg></g>
<text x="302.60" y="130.60" text-anchor="middle" fill="#000" stroke="#000" stroke-width="0.18" style="font-size:3.8px;font-weight:bold;">siGLS2</text>
<g><rect x="285.00" y="132.60" width="35.20" height="37.20" fill="#bdbdbd"/><svg x="285.00" y="132.60" width="35.20" height="37.20" overflow="hidden"><g filter="url(#blur03)" stroke-linecap="round" stroke-linejoin="round" fill="none"><path d="M16.4 21.5L14.5 22.1L13.1 23.3L12.0 24.5M2.8 10.2L4.1 10.8M23.9 22.7L24.5 23.5M5.5 8.0L7.1 7.8L8.1 7.1L8.7 6.4M15.8 10.6L14.6 10.3M18.8 0.2L18.7 2.1M2.2 -0.2L1.9 1.7L1.6 3.8M14.4 20.5L15.6 21.0L16.9 20.6M4.1 26.0L5.1 26.5L6.3 27.2L8.1 27.4M15.3 13.8L17.0 14.8L17.5 16.3M7.5 14.8L7.0 15.8M8.9 28.6L9.6 29.4L11.1 30.1M22.1 13.5L21.8 14.5L21.5 16.1L21.6 17.3M26.6 5.7L25.7 6.7L25.1 7.5M2.8 1.3L1.4 1.0L-0.5 0.8M10.7 6.0L10.4 7.5M9.5 34.2L10.8 34.3M1.6 5.3L2.5 5.8L3.6 6.5M21.6 34.9L21.2 36.9L22.0 38.4M1.4 10.5L2.9 10.2M32.9 28.5L32.2 30.1L30.5 31.1M34.9 0.3L34.6 1.7M22.2 2.7L20.7 3.7L19.4 4.9M15.4 31.1L16.4 31.1M7.9 25.7L8.3 26.6L9.3 28.0L10.2 28.5M23.8 17.0L22.7 17.6L20.9 18.1M32.4 13.8L32.6 14.9L33.3 16.7M26.1 35.8L27.4 36.3L28.6 37.8M22.7 17.8L24.1 19.1L25.6 19.7L26.6 20.5M10.7 29.3L11.8 29.2L13.0 29.6M29.0 36.9L30.5 37.8M34.6 25.1L36.3 25.6L37.6 26.5L38.7 26.5M19.8 36.4L20.0 38.3L19.6 39.2M4.6 16.9L4.2 18.5M16.4 23.8L18.4 24.3M36.1 20.0L35.1 21.4L35.3 22.9M15.6 21.3L14.5 21.5L13.1 20.9L11.7 21.4M16.1 38.8L14.7 38.4L14.1 37.6L12.8 36.8M30.4 20.5L31.7 20.8L33.2 22.1M11.0 4.7L10.8 5.9L10.3 7.3M0.5 36.4L0.3 38.5L0.7 39.4L2.2 40.7M14.9 37.0L13.7 37.9L12.4 39.3M19.2 3.5L18.9 4.5M0.3 4.3L1.6 4.1L2.6 4.0M31.3 23.8L31.3 25.5L30.6 26.9L29.6 28.6M19.4 32.7L19.4 34.5L18.6 36.3M22.0 33.4L22.4 34.4L23.6 35.6M13.6 16.8L12.2 17.7L11.2 17.9M32.9 36.2L34.5 36.8L35.4 36.8M0.6 29.0L0.8 30.1L1.8 31.7L1.5 33.7M21.0 4.9L20.0 5.6M15.2 12.2L16.9 12.2L17.9 12.7M13.0 13.9L11.8 15.2L11.3 16.1M20.4 7.2L19.6 8.1L17.9 8.7M29.4 15.6L27.6 15.6L25.8 15.7M28.9 10.1L30.0 11.8L31.1 12.2M12.3 24.9L12.2 27.0M25.5 29.5L24.7 30.1M8.6 14.0L9.4 14.3L10.7 14.4M19.4 19.7L17.5 19.5M19.1 25.9L18.2 25.4L17.2 24.9L15.7 24.3M15.5 17.9L16.2 19.0L17.5 20.1L18.3 21.0M0.7 28.9L0.4 30.6L1.0 31.8M0.7 38.5L-0.4 38.2M8.8 28.1L10.1 29.3M4.5 35.9L5.9 36.1M7.3 1.0L7.4 2.0M16.7 9.4L16.6 11.2L16.0 12.2L15.8 13.2M3.7 34.6L2.8 35.9L1.5 37.0M22.7 27.8L24.1 28.7L25.8 29.0M-1.0 8.5L0.4 7.8M27.6 34.2L28.6 35.0L29.5 35.8M17.7 4.9L16.1 5.8M16.3 28.4L17.1 29.9L16.9 31.1M14.8 12.7L15.7 12.5L17.2 12.2M10.8 29.1L11.9 30.2L12.6 31.6M10.2 4.4L10.8 5.2L11.4 6.7M15.9 30.0L17.6 31.1L18.6 32.3M13.2 13.2L13.8 15.0L13.7 16.3L13.9 17.4M6.0 29.4L4.8 29.3L3.9 29.9M35.3 25.2L34.2 25.8M10.9 9.2L12.5 8.8L13.9 7.5M8.6 8.3L7.3 8.8L5.6 9.9M18.0 20.5L17.0 22.1M30.3 31.2L28.7 31.0L27.0 30.8L25.8 30.0M33.3 7.9L34.2 8.8L35.5 9.7L37.3 10.3M11.2 3.8L9.6 4.7L9.1 6.1M11.3 6.5L11.8 7.9L12.2 9.3M13.7 35.4L12.3 35.0L10.3 34.6L8.6 33.9M17.4 7.1L18.5 7.8L19.8 8.7M28.1 2.0L26.2 1.4M29.4 26.8L29.0 28.5L29.5 30.4M23.0 37.2L24.7 37.8M6.7 34.2L8.0 34.0L9.0 34.2M25.5 2.0L25.4 3.1L25.9 4.8M7.4 20.6L6.1 22.2L5.5 23.4M36.4 24.5L37.4 25.0M24.5 28.9L23.7 29.3M26.0 17.1L26.6 17.8M32.9 5.6L31.3 6.6L30.4 7.0M7.0 27.2L7.8 28.8L9.0 30.3M3.1 22.7L4.5 22.6L5.9 23.3M2.4 0.9L1.4 1.1L0.2 0.5L-1.4 -0.2M30.3 14.3L30.9 15.9L31.2 17.2L30.9 18.4M9.3 5.9L10.5 6.5L12.2 7.2L13.2 8.5M8.6 19.4L9.7 20.4L11.4 20.8M20.9 0.0L20.9 1.5M25.4 12.5L23.7 13.5L22.2 14.6M33.4 20.5L33.8 22.2L33.5 23.5M4.2 30.9L5.6 31.7L6.2 32.7" stroke="#d8d8d8" stroke-width="0.6"/><path d="M15.8 20.9L14.0 21.5L12.6 22.8L11.4 23.9M23.3 23.1L23.9 23.9M6.1 8.5L7.7 8.2L8.7 7.6L9.2 6.9M16.0 9.9L14.8 9.5M14.6 21.2L15.8 21.7L17.1 21.3M4.0 26.7L5.0 27.2L6.2 27.9L8.0 28.1M14.6 14.0L16.3 15.0L16.8 16.5M8.6 29.3L9.2 30.0L10.7 30.8M21.4 13.6L21.0 14.6L20.8 16.2L20.9 17.4M26.0 5.2L25.1 6.3L24.5 7.1M9.9 5.9L9.7 7.3M9.4 35.0L10.8 35.0M1.2 5.9L2.1 6.5L3.3 7.1M1.5 11.2L3.0 10.9M34.1 0.2L33.9 1.5M15.4 31.9L16.4 31.9M23.6 16.3L22.5 16.9L20.7 17.4M31.7 14.1L31.9 15.1L32.6 17.0M10.5 30.0L11.6 29.9L12.8 30.3M16.2 24.5L18.2 25.0M35.4 20.0L34.4 21.5L34.5 23.0M15.4 20.6L14.3 20.7L12.9 20.2L11.5 20.6M29.9 21.0L31.2 21.4L32.7 22.7M18.5 3.3L18.2 4.3M0.3 5.1L1.6 4.8L2.6 4.8M30.7 23.4L30.7 25.1L29.9 26.6L28.9 28.2M32.9 37.0L34.5 37.6L35.5 37.5M-0.1 28.9L0.1 30.0L1.1 31.6L0.8 33.6M20.2 6.5L19.4 7.4L17.7 8.0M29.3 14.9L27.5 14.8L25.7 15.0M11.6 24.9L11.4 27.0M25.1 28.9L24.2 29.4M19.5 18.9L17.6 18.7M19.4 25.2L18.5 24.7L17.5 24.3L16.0 23.6M4.4 36.6L5.8 36.8M3.2 34.0L2.3 35.4L1.0 36.5M22.6 28.5L23.9 29.5L25.6 29.8M-0.6 9.2L0.7 8.5M17.4 4.2L15.7 5.1M15.5 28.3L16.4 29.7L16.2 31.0M15.3 30.5L17.0 31.6L18.0 32.8M12.5 13.3L13.0 15.1L13.0 16.4L13.1 17.5M35.0 24.5L33.8 25.1M8.1 7.6L6.8 8.1L5.1 9.3M10.5 3.5L8.9 4.4L8.4 5.8M14.0 34.7L12.6 34.3L10.5 33.9L8.8 33.2M28.6 27.0L28.2 28.7L28.8 30.7M22.7 37.9L24.4 38.6M25.5 17.6L26.1 18.3M32.5 5.0L31.0 5.9L30.1 6.3M6.4 27.7L7.2 29.3L8.4 30.7M2.8 23.4L4.2 23.3L5.6 24.0M2.7 0.3L1.8 0.4L0.5 -0.1L-1.0 -0.8M29.5 14.1L30.2 15.8L30.4 17.0L30.2 18.2M8.7 6.4L9.9 6.9L11.6 7.7L12.7 9.0M8.4 20.1L9.6 21.1L11.3 21.5M24.9 11.9L23.3 12.9L21.8 14.0M32.6 20.3L33.1 22.0L32.8 23.3M3.6 31.3L4.9 32.1L5.5 33.1" stroke="#7c7c7c" stroke-width="0.75"/><path d="M2.5 10.9L3.8 11.5M18.1 0.2L18.0 2.1M1.5 -0.3L1.1 1.6L0.9 3.7M6.8 14.5L6.3 15.4M2.9 0.5L1.5 0.2L-0.4 0.0M20.9 35.2L20.5 37.2L21.3 38.7M32.5 27.9L31.8 29.5L30.1 30.5M21.6 2.1L20.2 3.1L18.9 4.4M7.6 26.4L7.9 27.2L8.9 28.6L9.8 29.2M25.5 36.2L26.8 36.7L28.0 38.2M22.3 18.4L23.7 19.6L25.2 20.3L26.1 21.1M28.6 37.6L30.1 38.4M34.7 25.8L36.3 26.3L37.6 27.2L38.7 27.2M19.1 36.1L19.3 37.9L18.9 38.9M3.8 16.8L3.5 18.3M16.5 38.2L15.1 37.7L14.5 36.9L13.2 36.1M10.3 4.5L10.1 5.6L9.6 7.1M0.0 37.0L-0.2 39.1L0.2 40.0L1.8 41.3M14.4 36.5L13.2 37.3L11.8 38.8M18.7 32.4L18.7 34.2L18.0 36.0M21.4 33.9L21.9 34.9L23.1 36.1M13.4 16.0L12.1 17.0L11.1 17.2M20.6 4.3L19.5 5.0M14.9 12.9L16.6 12.9L17.6 13.4M12.4 13.5L11.1 14.9L10.6 15.7M28.7 10.8L29.7 12.5L30.9 12.9M8.5 14.7L9.4 15.1L10.6 15.1M15.0 18.4L15.7 19.5L16.9 20.7L17.8 21.6M-0.0 29.3L-0.2 31.0L0.4 32.1M0.9 37.8L-0.3 37.5M8.3 28.6L9.6 29.8M6.6 1.0L6.7 2.1M15.9 9.3L15.8 11.1L15.3 12.0L15.1 13.0M27.1 34.8L28.2 35.6L29.1 36.3M14.9 13.5L15.9 13.2L17.3 12.9M10.1 29.4L11.2 30.6L11.9 31.9M9.5 4.6L10.1 5.4L10.7 6.9M5.6 28.8L4.4 28.7L3.5 29.3M11.4 9.7L13.1 9.3L14.4 8.1M17.4 20.1L16.3 21.7M30.8 30.6L29.1 30.4L27.4 30.1L26.2 29.4M33.1 8.6L34.0 9.5L35.2 10.4L37.1 11.0M10.6 6.7L11.1 8.1L11.5 9.5M17.0 7.7L18.1 8.4L19.3 9.3M28.3 1.3L26.4 0.7M6.6 34.9L7.8 34.8L8.8 35.0M24.8 2.2L24.7 3.4L25.2 5.0M6.8 20.3L5.4 21.9L4.8 23.1M36.1 25.2L37.0 25.6M24.1 28.3L23.3 28.7M20.1 0.0L20.1 1.5" stroke="#959595" stroke-width="0.7"/><path d="M32.7 37.2h.1M5.6 15.3h.1M18.6 4.4h.1M11.8 4.9h.1M25.4 29.3h.1M17.5 3.8h.1M29.0 4.4h.1M10.4 22.9h.1M31.1 32.6h.1M34.2 17.7h.1M25.7 32.4h.1M19.2 21.0h.1M22.9 15.7h.1M2.5 19.3h.1M31.1 21.4h.1M10.4 27.1h.1M6.1 16.4h.1M8.1 11.4h.1M11.0 12.1h.1M33.8 10.2h.1M27.4 15.4h.1M34.4 33.3h.1M2.6 33.8h.1M20.6 20.0h.1M1.0 29.4h.1M32.0 11.9h.1M30.0 22.4h.1M7.1 36.1h.1M15.8 32.8h.1M1.1 4.3h.1M21.9 2.0h.1M27.5 28.5h.1M22.9 19.0h.1M21.0 16.9h.1M18.4 36.7h.1M14.4 19.6h.1M34.4 22.8h.1M4.2 31.8h.1M3.0 8.5h.1M33.3 34.3h.1M31.1 34.4h.1M30.3 34.8h.1" stroke="#cacaca" stroke-width="0.8"/><path d="M16.0 15.0h.1M26.6 31.5h.1M21.7 23.8h.1M32.8 2.0h.1M31.6 34.0h.1M14.3 10.5h.1M16.3 33.7h.1M33.1 12.3h.1M14.8 0.9h.1M13.3 12.0h.1M29.7 9.0h.1M32.0 20.3h.1M33.1 32.7h.1M18.7 5.3h.1M27.3 28.9h.1M7.1 32.0h.1M2.1 11.8h.1M31.7 0.6h.1M24.6 20.8h.1M8.3 35.3h.1M22.9 11.4h.1M30.9 12.5h.1M30.3 4.5h.1M9.5 26.8h.1M10.4 10.2h.1M18.5 4.3h.1M8.0 4.9h.1M16.3 2.8h.1M20.0 6.1h.1M6.7 6.7h.1M31.6 23.1h.1M20.6 0.1h.1M2.1 2.4h.1M1.1 10.8h.1M22.3 36.6h.1M18.7 22.1h.1M3.9 16.2h.1M19.3 9.5h.1M25.4 9.7h.1M21.4 22.6h.1M17.7 26.9h.1M22.5 21.6h.1M24.5 30.5h.1M8.7 18.5h.1M16.4 26.0h.1M33.7 4.8h.1M21.1 5.0h.1M19.6 17.6h.1M34.2 25.3h.1M5.6 21.8h.1M26.0 21.1h.1" stroke="#a4a4a4" stroke-width="0.8"/><path d="M13.3 1.8h.1M14.7 9.2h.1M27.9 29.9h.1M16.9 14.9h.1M20.9 28.3h.1M16.6 18.2h.1M22.1 6.8h.1M17.1 20.1h.1M14.8 1.8h.1M9.7 35.3h.1M21.9 19.3h.1M26.1 19.1h.1M20.0 24.2h.1" stroke="#6a6a6a" stroke-width="1.1"/></g><line x1="1.0" y1="35.7" x2="6.5" y2="35.7" stroke="#222" stroke-width="0.7"/></svg></g>
<text x="338.60" y="130.60" text-anchor="middle" fill="#000" stroke="#000" stroke-width="0.18" style="font-size:3.8px;font-weight:bold;">siGLS2 + αKG</text>
<g><rect x="321.20" y="132.60" width="34.80" height="37.20" fill="#bdbdbd"/><svg x="321.20" y="132.60" width="34.80" height="37.20" overflow="hidden"><g filter="url(#blur03)" stroke-linecap="round" stroke-linejoin="round" fill="none"><path d="M17.2 25.0L16.4 27.0L15.9 28.6M25.0 23.0L24.0 23.9L23.3 24.8M2.3 26.4L2.4 27.4L1.5 29.1L0.7 30.0M34.6 3.3L34.9 5.3L35.2 7.3M20.0 18.4L21.3 19.1L22.5 20.0L23.2 20.8M35.7 24.9L35.6 26.2L35.8 27.4M13.1 19.2L12.5 21.0L12.2 22.5M24.5 0.3L25.1 1.3M25.3 0.1L26.2 1.6L26.9 2.7M10.0 18.1L8.2 19.1L6.8 19.9L5.8 21.4M32.9 -1.4L34.6 -0.7L35.7 -0.3M35.8 38.6L34.7 40.2M23.1 8.5L23.0 9.8L22.6 11.1L21.7 12.3M10.0 36.2L9.6 37.3L9.5 38.5L9.0 40.2M19.8 8.7L21.8 9.4L23.3 10.1M27.5 15.9L26.5 17.1L25.9 18.3L24.8 19.4M24.8 4.5L26.4 5.7M28.2 13.2L29.5 13.0L31.1 13.5M22.6 3.7L22.4 4.7L22.4 5.7L22.8 7.4M11.2 6.0L10.8 6.8L10.3 8.2L10.5 9.9M15.3 33.1L16.6 32.6L17.4 31.9M10.0 18.5L11.5 18.5L13.3 18.7M16.2 29.1L18.0 29.2L19.4 29.8M24.1 36.9L24.2 38.7L24.6 40.1M23.0 5.7L23.4 6.6L23.4 7.8M14.1 33.3L13.2 34.2L13.1 35.9M14.9 23.1L15.4 24.5L15.0 26.3L15.3 28.1M2.6 10.1L0.7 9.4L-0.8 8.2M29.9 8.0L29.0 8.3M6.1 7.5L4.3 7.3L3.3 7.2M12.9 17.9L14.2 19.0M18.0 23.3L17.3 25.1L17.8 27.0L18.7 27.6M24.8 37.1L23.6 38.8L23.1 39.7L22.0 40.3M3.5 1.8L4.2 2.4M21.2 22.7L20.1 23.5L18.4 24.3M14.1 24.8L13.8 26.6M5.0 3.7L4.8 4.6L5.1 6.0M29.9 29.2L30.1 31.2L29.8 32.4L28.5 33.5M2.1 12.1L2.5 13.8L2.9 14.9M15.1 3.2L14.7 4.7L14.0 6.1L13.7 7.4M32.4 35.7L31.2 36.8L29.3 37.3L27.6 37.4M10.7 12.0L10.9 13.3L11.0 15.2L11.1 17.1M29.5 38.0L28.5 38.7L28.0 40.3M6.9 24.3L6.1 26.2L5.4 28.1M15.8 13.7L17.1 14.4L18.2 15.5M12.4 10.4L14.5 10.2L15.4 10.7M20.8 5.5L21.8 6.6M8.6 7.8L7.6 8.6L7.2 9.7L6.2 10.6M34.0 19.4L34.9 20.1L35.3 21.0M8.8 20.6L7.4 21.1M15.7 0.2L15.2 1.1L14.3 2.8M20.3 32.4L18.5 32.9L16.7 33.7L15.9 35.4M36.2 7.8L36.6 9.5L36.7 11.5L36.4 12.8M11.7 25.4L10.6 25.3M4.7 36.8L4.3 38.8L4.4 40.9M0.4 4.9L0.2 6.7L-0.9 8.2L-1.4 9.9M6.9 37.1L6.0 37.5L4.7 38.1M1.0 11.4L-0.6 12.7M3.7 32.5L2.1 31.9L1.2 31.2M3.0 36.7L1.2 37.8L0.3 38.6L0.1 39.8M10.9 1.7L9.4 1.6L8.3 2.0M30.2 25.2L30.2 26.9L30.2 28.7M35.5 32.9L34.5 34.3L33.5 34.6M7.4 8.5L8.4 9.9L9.3 11.0L10.1 11.8M23.5 5.1L22.8 6.6L22.2 7.4M25.7 18.7L23.9 18.3L21.8 17.9M5.1 37.8L4.3 39.1L3.3 40.3M9.0 14.4L8.9 15.4M35.2 24.0L33.7 24.8L33.2 25.8M14.1 20.2L15.8 20.7M28.4 34.2L29.0 34.8L29.9 35.0M8.5 26.5L10.3 27.1L11.9 26.6M13.1 9.4L14.1 10.0M32.3 9.4L31.7 10.2L31.2 11.2L30.6 12.6M32.0 28.4L33.6 29.6M21.0 6.2L19.8 6.6L18.8 6.6L17.7 5.9M19.8 29.4L18.5 28.9L17.2 29.2M-0.3 16.5L0.3 17.2L1.2 18.0M1.1 5.0L-0.1 4.9M1.6 30.4L1.9 31.7L1.5 33.0M35.2 22.9L36.2 24.1M6.6 23.7L5.9 24.6L5.8 26.0M33.5 -0.2L35.0 0.7L35.4 1.8M22.4 32.2L24.3 32.9M34.7 1.9L33.1 1.8L31.7 1.4L30.5 0.3M14.3 24.2L13.6 25.3L12.6 25.9L11.4 26.8M7.3 31.7L6.4 33.1M31.6 38.2L31.3 40.1L30.1 41.7L29.2 42.6M33.4 36.9L34.4 37.6M35.0 14.9L35.7 16.2L36.2 17.8M4.2 25.0L4.0 26.6M26.9 20.6L25.9 20.3M15.5 35.3L15.9 36.6L16.8 37.7L18.5 38.7M13.2 5.7L14.5 7.2L15.9 7.9M31.4 36.4L32.5 37.5L34.0 37.9M28.9 29.3L29.3 30.8L29.4 32.2L29.3 33.3M16.2 25.8L15.9 27.0L15.4 28.6M2.9 37.2L2.1 37.9L1.8 39.9M26.3 22.5L27.9 21.7L28.9 20.5M6.3 31.2L6.0 32.2M12.2 29.8L10.4 29.3L8.6 28.9M3.9 10.1L4.9 11.4L5.2 13.4L6.5 14.7M28.8 28.5L28.2 30.4L28.6 31.9L28.1 33.0M19.2 3.8L21.1 4.5L22.8 5.0L24.3 4.7M8.7 11.1L7.6 11.6L5.6 11.4M18.8 8.0L19.4 9.5L19.4 11.0M16.6 37.8L17.6 39.0L18.0 40.8L19.0 42.4M26.2 14.5L26.6 15.9L27.7 17.5M22.2 19.0L22.2 20.3L23.1 21.5" stroke="#d8d8d8" stroke-width="0.6"/><path d="M24.4 22.6L23.4 23.5L22.7 24.4M33.8 3.4L34.2 5.3L34.4 7.4M19.4 18.9L20.7 19.6L21.9 20.5L22.6 21.3M12.4 19.0L11.8 20.8L11.5 22.3M23.9 0.7L24.5 1.7M9.4 17.7L7.5 18.7L6.2 19.5L5.2 21.0M32.6 -0.7L34.3 -0.0L35.4 0.4M22.5 8.0L22.4 9.3L22.0 10.7L21.1 11.8M9.2 36.0L8.9 37.1L8.8 38.3L8.3 40.0M27.0 15.4L26.0 16.6L25.4 17.8L24.2 18.9M24.3 5.1L25.9 6.3M9.9 19.2L11.4 19.2L13.2 19.5M29.7 7.3L28.7 7.6M6.2 6.7L4.4 6.6L3.5 6.5M24.4 36.5L23.2 38.1L22.7 39.0L21.6 39.7M3.0 2.3L3.6 3.0M20.8 22.0L19.8 22.8L18.1 23.7M32.4 34.9L31.2 36.1L29.2 36.5L27.6 36.6M9.9 12.0L10.1 13.3L10.3 15.2L10.4 17.1M28.8 37.8L27.8 38.5L27.2 40.1M33.3 19.7L34.2 20.4L34.7 21.3M8.6 19.9L7.1 20.4M11.8 24.6L10.7 24.5M4.1 31.9L2.5 31.3L1.6 30.6M10.7 1.0L9.2 0.9L8.1 1.2M6.9 9.0L7.9 10.4L8.8 11.5L9.6 12.3M25.9 18.0L24.0 17.6L21.9 17.2M8.2 14.4L8.2 15.3M34.5 23.7L33.0 24.5L32.6 25.5M13.8 20.9L15.6 21.4M31.6 29.0L33.1 30.2M-0.8 17.1L-0.2 17.8L0.7 18.6M1.2 4.3L0.0 4.2M0.9 30.2L1.1 31.5L0.7 32.8M5.8 23.6L5.2 24.5L5.0 25.9M22.1 32.9L24.0 33.6M13.9 23.6L13.1 24.7L12.1 25.3L10.9 26.2M31.1 37.7L30.8 39.6L29.5 41.2L28.6 42.1M34.3 15.1L35.0 16.4L35.5 18.0M3.5 24.9L3.3 26.5M15.5 25.6L15.2 26.8L14.7 28.4M3.3 10.6L4.4 11.9L4.7 14.0L5.9 15.3M19.3 4.5L21.2 5.3L22.9 5.7L24.4 5.4M8.7 10.3L7.6 10.9L5.7 10.7M18.1 8.0L18.6 9.5L18.6 11.0M21.6 19.5L21.6 20.7L22.5 21.9" stroke="#7c7c7c" stroke-width="0.75"/><path d="M16.5 24.8L15.7 26.7L15.2 28.3M1.7 25.9L1.8 26.9L1.0 28.6L0.2 29.5M34.9 25.0L34.8 26.4L35.1 27.6M24.6 0.4L25.5 1.9L26.2 3.1M35.2 38.1L34.1 39.7M19.5 9.4L21.5 10.1L23.0 10.8M28.0 13.9L29.3 13.7L30.9 14.2M21.9 3.9L21.7 4.9L21.7 5.8L22.0 7.5M10.4 6.0L10.1 6.9L9.6 8.3L9.8 10.0M15.8 33.7L17.1 33.2L17.9 32.4M15.9 29.8L17.7 29.8L19.1 30.5M23.4 37.1L23.5 38.9L23.9 40.3M22.3 5.7L22.7 6.6L22.7 7.8M13.3 33.2L12.5 34.1L12.3 35.8M14.2 23.2L14.7 24.6L14.3 26.4L14.6 28.2M3.0 9.5L1.1 8.9L-0.3 7.6M12.4 18.5L13.7 19.6M17.6 23.9L16.8 25.7L17.4 27.6L18.2 28.2M13.4 24.7L13.1 26.5M4.2 3.8L4.1 4.7L4.3 6.2M29.4 28.7L29.6 30.6L29.3 31.9L28.0 33.0M1.4 12.4L1.8 14.0L2.2 15.2M14.4 3.0L14.0 4.5L13.3 6.0L13.0 7.2M6.2 24.0L5.4 25.9L4.7 27.8M15.2 14.2L16.6 15.0L17.6 16.0M12.1 11.0L14.1 10.9L15.1 11.4M20.2 6.0L21.2 7.1M8.0 7.3L7.1 8.1L6.7 9.1L5.7 10.1M15.0 -0.2L14.6 0.7L13.6 2.5M19.7 32.0L17.8 32.5L16.0 33.4L15.2 35.0M35.4 7.6L35.9 9.4L35.9 11.3L35.7 12.6M3.9 36.9L3.6 38.8L3.7 40.9M-0.3 4.7L-0.6 6.4L-1.6 7.9L-2.1 9.7M6.6 36.4L5.7 36.8L4.4 37.4M0.5 10.9L-1.0 12.1M2.2 36.6L0.4 37.6L-0.5 38.5L-0.7 39.6M29.4 25.2L29.4 26.9L29.5 28.8M35.2 32.1L34.2 33.6L33.3 33.9M22.9 4.6L22.2 6.1L21.6 6.9M4.5 37.3L3.7 38.6L2.7 39.8M28.2 34.9L28.9 35.5L29.8 35.7M8.7 27.3L10.5 27.8L12.1 27.3M12.7 10.0L13.7 10.7M31.6 9.1L31.0 9.9L30.5 10.9L29.9 12.3M21.4 5.6L20.2 6.0L19.2 5.9L18.1 5.3M19.6 28.7L18.3 28.2L17.1 28.5M34.6 23.4L35.6 24.6M32.8 0.1L34.3 1.0L34.7 2.0M35.2 1.4L33.6 1.3L32.2 0.9L31.1 -0.2M6.6 31.3L5.8 32.7M33.0 37.6L34.0 38.2M27.1 19.9L26.1 19.6M15.1 36.0L15.5 37.3L16.4 38.3L18.1 39.3M12.9 6.4L14.2 7.9L15.5 8.6M31.2 37.2L32.3 38.3L33.9 38.6M28.1 29.2L28.5 30.7L28.7 32.1L28.5 33.2M2.2 37.0L1.4 37.8L1.1 39.8M26.8 22.9L28.5 22.2L29.5 21.0M5.6 31.0L5.3 31.9M12.3 29.1L10.6 28.5L8.8 28.2M28.1 28.2L27.5 30.1L27.9 31.6L27.4 32.7M15.9 38.2L16.9 39.4L17.4 41.1L18.3 42.8M25.6 14.9L26.0 16.3L27.0 17.9" stroke="#959595" stroke-width="0.7"/><path d="M15.0 5.2h.1M20.5 18.9h.1M29.3 25.3h.1M16.7 33.5h.1M28.9 12.1h.1M15.5 4.5h.1M1.1 19.1h.1M30.2 21.2h.1M32.0 26.3h.1M7.9 20.5h.1M22.6 20.4h.1M27.4 30.5h.1M33.2 29.0h.1M15.1 32.5h.1M5.3 1.1h.1M4.5 22.5h.1M7.5 9.7h.1M3.8 10.4h.1M1.7 19.6h.1M8.8 14.2h.1M22.6 19.2h.1M32.7 12.0h.1M18.6 11.0h.1M1.8 33.3h.1M24.5 20.5h.1M3.8 26.2h.1M16.3 24.9h.1M17.5 28.4h.1M19.2 23.9h.1M12.0 29.7h.1M30.6 26.7h.1M12.6 25.7h.1M3.9 16.9h.1M30.5 31.9h.1M10.2 26.6h.1M5.3 36.5h.1M6.5 20.3h.1M1.2 13.5h.1M31.8 30.4h.1M19.9 28.7h.1M21.9 25.8h.1M33.0 11.5h.1M10.2 17.8h.1M23.9 3.8h.1" stroke="#cacaca" stroke-width="0.8"/><path d="M14.5 20.2h.1M27.9 5.4h.1M25.7 29.2h.1M33.3 30.4h.1M25.7 7.9h.1M24.4 19.3h.1M29.6 34.4h.1M16.2 27.1h.1M21.2 25.2h.1M9.2 25.1h.1M17.9 35.6h.1M24.2 14.5h.1M9.0 6.1h.1M7.9 19.0h.1M1.4 18.0h.1M6.5 0.4h.1M31.2 1.7h.1M17.2 22.3h.1M19.0 13.9h.1M17.6 15.2h.1M4.5 30.7h.1M21.7 24.2h.1M12.7 24.9h.1M8.7 36.0h.1M7.7 26.8h.1M21.5 13.5h.1M27.0 28.4h.1M23.5 1.4h.1M12.4 3.7h.1M10.8 9.7h.1M14.0 24.1h.1M3.5 2.9h.1M19.9 32.1h.1M16.5 5.9h.1M11.5 16.2h.1M15.8 16.4h.1M20.1 9.5h.1M10.9 34.3h.1M23.3 13.1h.1M12.6 15.5h.1M3.5 24.9h.1M19.6 34.2h.1M27.8 31.6h.1M29.0 8.9h.1M2.5 24.7h.1M14.7 14.4h.1M33.6 20.3h.1M6.5 34.3h.1" stroke="#a4a4a4" stroke-width="0.8"/><path d="M31.4 11.0h.1M10.0 21.3h.1M22.3 7.7h.1M34.5 35.0h.1M15.2 4.1h.1M26.0 33.0h.1M27.4 35.0h.1M33.0 21.5h.1M30.5 18.9h.1M15.8 31.8h.1M16.7 0.6h.1M1.0 34.6h.1" stroke="#6a6a6a" stroke-width="1.1"/></g><line x1="1.0" y1="35.7" x2="6.5" y2="35.7" stroke="#222" stroke-width="0.7"/></svg></g>
<text x="374.80" y="130.60" text-anchor="middle" fill="#000" stroke="#000" stroke-width="0.18" style="font-size:3.8px;font-weight:bold;">siGLS2 + Glu</text>
<g><rect x="357.40" y="132.60" width="34.80" height="37.20" fill="#bdbdbd"/><svg x="357.40" y="132.60" width="34.80" height="37.20" overflow="hidden"><g filter="url(#blur03)" stroke-linecap="round" stroke-linejoin="round" fill="none"><path d="M8.7 26.6L7.5 27.8L5.9 28.2M4.0 19.1L5.0 19.1L7.1 19.7M29.4 3.0L27.6 3.3L25.9 2.6M12.2 8.9L10.2 9.1L8.5 8.9L6.9 9.1M25.0 21.2L23.8 22.6L23.0 23.5M19.0 8.7L19.2 9.7L19.6 10.9M32.3 26.1L33.9 27.3L35.5 28.1L36.0 29.0M18.1 26.3L18.9 27.4L19.2 29.3M7.2 32.3L6.9 34.0L7.2 35.5M21.0 21.8L21.9 22.5L22.6 23.9M5.6 16.4L4.0 17.5M18.9 3.4L19.8 4.2L20.5 5.0L21.5 5.9M-0.1 12.4L0.4 13.4L0.3 14.8L-0.0 15.8M8.7 26.6L7.7 27.2L6.1 27.5M6.2 12.0L7.2 12.1L8.9 11.0L10.1 10.6M17.1 20.1L18.1 21.9L18.9 22.5M29.5 6.8L30.5 7.6L32.0 7.8L33.6 8.1M0.7 19.2L2.7 19.5M33.0 34.2L31.6 35.7L31.5 36.9M1.1 8.9L-0.6 9.9L-1.9 10.8M30.4 33.7L31.4 35.2L32.4 36.2M35.0 10.2L35.7 11.0M2.8 27.8L1.4 27.8L-0.5 27.4M33.2 -0.0L34.0 1.2L35.5 2.3L36.2 2.9M19.3 9.5L19.7 11.5L20.2 12.5M14.8 5.0L15.0 6.3L15.3 7.4L15.4 8.4M4.2 -1.2L5.1 0.0M7.6 28.2L7.9 29.7L7.6 31.3L7.7 33.0M26.6 16.1L25.5 17.2L24.9 18.7M19.6 34.6L18.1 34.8L17.1 34.2M2.3 35.5L0.6 35.0L-0.8 34.1M9.2 4.3L9.1 6.0M28.2 33.0L28.1 34.5L29.1 36.1L29.7 37.2M23.5 35.5L22.3 36.9L21.1 37.2L20.3 36.9M13.9 18.3L13.2 19.2M19.3 38.0L18.0 38.9L17.5 40.5M26.4 25.4L25.1 25.4L24.3 24.7L23.4 24.4M20.4 34.1L19.1 35.4L18.1 35.7L17.1 37.0M2.9 28.8L3.9 29.5L5.1 30.5M9.2 26.3L11.1 26.0M5.2 38.0L5.5 39.4M1.4 34.2L0.9 35.3L0.7 36.6M26.0 18.2L25.2 19.4L25.2 20.3M8.3 5.6L7.2 6.2M26.6 3.9L25.0 5.1L23.4 5.5M17.4 21.3L16.1 21.5L14.2 22.1L13.3 22.5M14.3 32.2L13.4 33.3M26.7 33.2L27.6 35.1L28.8 35.6M1.0 13.3L0.1 14.6L-0.5 15.6L-1.5 16.5M14.6 30.4L14.3 31.3L14.8 32.7L14.9 34.1M31.4 17.3L31.3 18.7L30.3 19.8L29.7 20.6M22.6 7.6L23.9 8.6L25.3 8.9L26.2 9.0M25.8 19.3L24.3 20.4L23.2 20.3M10.5 25.9L9.3 27.2L9.0 29.0L9.8 30.5M19.0 6.4L18.4 7.6M26.2 34.0L26.1 35.7L25.8 36.7M30.0 22.5L28.6 22.7M14.4 15.4L13.1 16.7L12.8 18.0M25.8 30.1L26.7 31.3M19.6 23.5L17.6 23.6M15.2 8.0L15.7 9.0L15.7 10.4L16.7 12.1M33.7 3.0L32.3 3.6L30.8 4.1M16.6 27.7L14.6 27.8L13.5 28.6M31.1 32.7L31.4 34.3L32.5 35.4M10.2 30.7L10.5 31.7L10.8 32.9M11.0 37.1L11.2 38.0M7.1 3.2L7.8 5.1L8.7 5.7M1.1 10.6L0.9 12.0L0.2 13.3L-0.0 14.3M27.8 24.8L28.7 25.2L29.2 26.0L30.3 26.8M30.6 23.3L31.7 23.8L32.6 25.1M4.8 15.1L5.5 16.1L5.9 17.3M31.4 4.2L30.8 5.1M5.9 2.3L5.7 3.9L5.8 4.9L6.3 6.2M14.0 1.7L14.2 3.6L14.7 5.1M33.1 2.1L32.2 3.1M27.1 13.8L27.8 15.4L28.7 16.7M22.0 7.3L21.4 8.9L20.3 9.7L19.9 10.9M-0.4 32.0L-2.4 32.2L-3.6 32.5L-5.4 33.4M28.6 1.1L27.0 0.3L25.9 -1.3M31.5 13.2L31.4 14.7L31.7 16.0M33.6 37.6L32.7 37.2M15.0 5.6L15.3 6.8L15.7 8.2M3.7 22.5L2.5 23.0M9.1 34.4L9.3 36.3M5.5 19.2L3.6 19.9L2.3 20.3M30.8 13.0L31.9 13.5M29.8 20.4L28.6 21.5L28.1 23.0M27.0 15.7L25.7 15.7M2.4 16.2L1.6 17.7L0.9 18.4M0.3 17.6L-1.2 19.1M33.0 18.2L34.8 18.7L36.6 19.7M2.9 14.9L1.3 15.7M18.2 3.9L19.1 4.2L20.2 4.3M22.7 22.8L23.5 23.6L24.7 24.4M3.6 20.6L2.4 19.9L1.4 19.7L-0.3 19.1M33.1 2.5L32.9 4.5L33.8 5.8M32.3 9.7L33.4 10.7L34.4 11.3M28.2 8.3L28.9 9.8L29.9 10.5L30.2 11.8M24.8 34.7L23.4 35.1L22.4 35.6L20.7 36.2M13.6 9.5L12.0 10.2M30.7 2.9L32.0 3.9L32.6 5.2L33.3 6.2M25.1 19.7L24.9 20.8M36.0 28.1L34.9 28.8L34.0 29.1M35.3 26.7L36.1 28.2M15.9 10.7L17.3 11.8L18.4 12.1M16.2 25.2L14.2 25.1L13.0 24.4L11.0 24.5M1.4 37.1L2.1 37.9L2.3 38.8L2.4 39.9M19.7 3.9L18.4 5.0L18.0 6.5M34.8 30.9L35.2 32.4L34.9 33.8" stroke="#d8d8d8" stroke-width="0.6"/><path d="M8.5 25.9L7.3 27.1L5.7 27.5M24.4 20.7L23.3 22.1L22.4 23.0M18.2 8.9L18.5 9.9L18.9 11.1M31.6 26.5L33.3 27.7L34.9 28.5L35.3 29.3M6.5 32.5L6.2 34.2L6.5 35.6M20.4 22.2L21.3 22.9L22.0 24.3M5.2 15.8L3.6 16.9M18.4 4.0L19.3 4.7L20.0 5.5L20.9 6.4M-0.8 12.1L-0.3 13.2L-0.4 14.5L-0.7 15.6M0.6 20.0L2.6 20.3M32.2 34.1L30.9 35.6L30.7 36.8M0.7 8.3L-1.0 9.3L-2.3 10.2M29.9 34.2L30.9 35.7L31.9 36.7M34.4 10.7L35.1 11.5M32.8 0.6L33.6 1.8L35.0 3.0L35.8 3.5M14.1 5.1L14.3 6.4L14.5 7.5L14.7 8.4M3.6 -0.8L4.5 0.4M6.9 28.2L7.2 29.7L6.9 31.4L7.0 33.0M25.9 15.8L24.8 16.9L24.2 18.4M20.0 34.0L18.5 34.2L17.5 33.6M2.7 34.8L1.0 34.4L-0.4 33.5M8.5 4.2L8.3 5.9M13.3 17.9L12.6 18.8M18.6 37.8L17.3 38.7L16.8 40.3M19.8 33.6L18.5 35.0L17.5 35.3L16.5 36.6M4.5 38.1L4.7 39.5M0.7 34.1L0.2 35.2L-0.1 36.5M25.2 18.2L24.5 19.4L24.5 20.3M26.5 3.2L24.8 4.4L23.3 4.7M17.1 20.6L15.7 20.8L13.8 21.4L12.9 21.9M13.8 30.5L13.5 31.4L14.0 32.8L14.2 34.2M25.9 18.6L24.3 19.6L23.2 19.6M18.4 6.0L17.7 7.2M25.5 33.8L25.4 35.5L25.1 36.5M29.9 21.7L28.5 22.0M13.7 15.2L12.4 16.5L12.0 17.8M25.2 30.6L26.2 31.7M19.6 22.7L17.6 22.8M14.5 8.5L15.1 9.4L15.0 10.8L16.1 12.5M33.5 2.3L32.1 2.9L30.6 3.4M9.5 30.8L9.8 31.8L10.0 33.1M30.0 23.7L31.1 24.2L32.0 25.5M4.1 15.3L4.8 16.3L5.2 17.5M30.8 3.8L30.2 4.6M13.3 2.0L13.5 3.8L13.9 5.3M26.4 14.2L27.2 15.8L28.1 17.2M30.7 13.3L30.7 14.8L30.9 16.2M33.9 36.9L33.0 36.5M14.3 5.7L14.6 7.0L14.9 8.4M29.1 20.1L27.9 21.2L27.4 22.7M-0.3 17.1L-1.7 18.6M22.3 23.4L23.1 24.3L24.3 25.0M31.9 10.4L33.0 11.3L34.0 11.9M27.5 8.4L28.2 9.9L29.2 10.7L29.5 12.0M30.0 3.3L31.4 4.3L32.0 5.6L32.6 6.6M34.1 30.8L34.4 32.3L34.2 33.6" stroke="#7c7c7c" stroke-width="0.75"/><path d="M3.8 19.8L4.8 19.8L6.9 20.4M29.7 2.3L27.9 2.7L26.3 1.9M12.1 8.2L10.1 8.3L8.5 8.1L6.9 8.3M17.3 26.4L18.2 27.5L18.4 29.4M8.5 25.8L7.5 26.5L5.9 26.8M6.5 12.8L7.5 12.8L9.2 11.7L10.4 11.3M16.7 20.7L17.6 22.5L18.4 23.1M29.3 7.6L30.3 8.4L31.8 8.5L33.4 8.9M2.9 27.1L1.5 27.1L-0.3 26.7M18.6 9.8L19.0 11.8L19.5 12.8M27.5 33.4L27.4 34.9L28.5 36.5L29.1 37.6M23.7 34.8L22.6 36.2L21.4 36.5L20.5 36.2M26.6 24.7L25.3 24.7L24.5 23.9L23.6 23.7M2.4 29.4L3.4 30.1L4.6 31.1M9.3 27.1L11.2 26.7M8.0 4.9L6.8 5.5M13.8 31.7L12.8 32.8M26.4 33.9L27.3 35.8L28.4 36.3M0.6 12.7L-0.4 14.0L-1.0 15.0L-2.0 15.9M30.9 16.8L30.7 18.2L29.7 19.4L29.1 20.1M22.5 8.4L23.8 9.3L25.2 9.7L26.2 9.8M9.8 26.3L8.6 27.5L8.4 29.4L9.1 30.8M16.2 27.1L14.1 27.2L13.0 28.0M30.6 33.3L30.9 34.8L32.0 36.0M10.3 37.2L10.4 38.2M6.7 3.8L7.4 5.7L8.3 6.3M0.4 10.4L0.1 11.8L-0.5 13.1L-0.8 14.1M27.3 25.4L28.3 25.8L28.8 26.6L29.8 27.4M5.2 2.6L5.0 4.2L5.1 5.2L5.6 6.5M32.5 1.6L31.7 2.6M21.3 7.1L20.7 8.7L19.6 9.5L19.2 10.7M-0.7 31.4L-2.8 31.5L-4.0 31.8L-5.7 32.7M29.3 0.7L27.6 -0.1L26.5 -1.7M3.4 21.8L2.3 22.3M8.4 34.4L8.6 36.4M5.2 18.5L3.4 19.2L2.1 19.6M30.5 13.7L31.6 14.2M27.0 15.0L25.7 14.9M1.8 15.6L1.0 17.1L0.3 17.9M32.7 18.8L34.4 19.3L36.2 20.4M2.7 14.2L1.0 15.0M18.2 4.6L19.1 5.0L20.1 5.0M3.9 19.9L2.6 19.2L1.6 19.0L-0.0 18.4M32.5 2.9L32.3 4.9L33.1 6.2M24.6 34.0L23.1 34.4L22.1 34.9L20.4 35.5M13.4 8.8L11.7 9.5M24.4 19.5L24.1 20.7M35.8 27.4L34.7 28.1L33.8 28.3M34.6 27.1L35.4 28.6M15.6 11.4L17.1 12.5L18.1 12.8M16.2 24.4L14.2 24.4L13.0 23.7L11.0 23.7M0.7 37.2L1.3 37.9L1.6 38.9L1.7 39.9M19.0 3.8L17.7 4.8L17.3 6.3" stroke="#959595" stroke-width="0.7"/><path d="M17.4 11.7h.1M3.8 3.7h.1M4.0 32.9h.1M31.0 0.5h.1M13.5 36.2h.1M3.8 3.5h.1M12.0 32.4h.1M12.6 2.0h.1M0.6 9.4h.1M16.8 26.3h.1M9.8 27.3h.1M5.2 23.1h.1M12.5 34.7h.1M7.3 18.8h.1M21.0 20.3h.1M25.9 3.1h.1M9.6 34.9h.1M13.2 26.5h.1M28.8 4.2h.1M0.5 20.7h.1M7.5 5.5h.1M29.0 30.2h.1M9.6 19.8h.1M5.4 21.0h.1M33.9 26.8h.1M5.0 30.1h.1M6.1 5.3h.1M26.5 30.6h.1M30.8 37.1h.1M25.4 25.3h.1M23.8 31.6h.1M0.5 22.7h.1M5.7 27.6h.1M23.7 3.1h.1M12.5 32.2h.1M22.8 33.0h.1M22.3 25.7h.1M18.4 5.2h.1M31.2 27.3h.1M20.5 1.2h.1M26.0 32.5h.1M15.6 32.4h.1M23.5 2.7h.1M20.2 14.2h.1M25.2 12.5h.1M27.9 34.9h.1M11.6 28.8h.1M31.1 13.9h.1M6.2 15.5h.1M5.4 12.8h.1M5.3 25.9h.1" stroke="#cacaca" stroke-width="0.8"/><path d="M6.1 21.5h.1M6.2 18.7h.1M29.0 9.3h.1M28.0 19.8h.1M8.7 1.6h.1M5.0 25.2h.1M24.4 37.0h.1M19.3 15.4h.1M10.4 35.7h.1M24.3 18.5h.1M33.0 1.8h.1M12.9 18.0h.1M5.2 24.1h.1M4.4 37.1h.1M23.4 34.5h.1M20.1 10.1h.1M20.5 36.1h.1M27.5 36.2h.1M18.6 17.6h.1M0.0 36.8h.1M17.7 6.4h.1M16.8 35.3h.1M8.8 30.4h.1M19.7 33.2h.1M21.1 35.9h.1M13.1 29.7h.1M12.0 4.8h.1M11.0 11.7h.1M22.7 23.4h.1M29.6 0.2h.1M13.8 21.2h.1M6.7 14.6h.1M12.8 16.5h.1M11.4 3.2h.1M8.9 22.2h.1M18.8 6.0h.1M21.0 3.8h.1M32.7 11.4h.1M9.9 33.4h.1M33.9 30.6h.1M11.6 8.1h.1" stroke="#a4a4a4" stroke-width="0.8"/><path d="M17.6 30.5h.1M24.2 7.9h.1M26.0 25.4h.1M20.5 18.6h.1M31.8 22.3h.1M2.1 31.2h.1M23.0 9.9h.1M26.9 34.7h.1M25.5 17.7h.1M28.8 3.0h.1M1.8 15.0h.1M18.0 23.9h.1" stroke="#6a6a6a" stroke-width="1.1"/></g><line x1="1.0" y1="35.7" x2="6.5" y2="35.7" stroke="#222" stroke-width="0.7"/></svg></g>
<text x="321.00" y="177.70" text-anchor="middle" fill="#000" stroke="#000" stroke-width="0.18" style="font-size:4.0px;font-weight:bold;">Erastin</text>
<line x1="249.50" y1="179.30" x2="392.20" y2="179.30" stroke="#111" stroke-width="0.8"/>
<text x="266.75" y="183.60" text-anchor="middle" fill="#000" stroke="#000" stroke-width="0.18" style="font-size:3.8px;font-weight:bold;">siLuci</text>
<g><rect x="249.50" y="184.60" width="34.50" height="38.00" fill="#bdbdbd"/><svg x="249.50" y="184.60" width="34.50" height="38.00" overflow="hidden"><g filter="url(#blur03)" stroke-linecap="round" stroke-linejoin="round" fill="none"><path d="M32.4 27.1L31.6 28.6L29.9 29.5M-0.1 14.5L2.0 14.5L3.1 14.4M22.5 26.0L23.2 27.7M14.1 6.6L15.2 6.8L16.3 7.4M5.1 3.0L6.1 3.6L7.0 3.8M9.7 26.3L9.6 28.3L10.1 30.1L11.1 31.1M24.7 38.3L25.0 40.3L25.8 41.1M34.8 32.0L36.4 31.4L37.9 30.4M17.9 28.9L19.3 28.4L20.1 27.8M2.5 8.5L4.1 9.4L5.6 9.5M5.0 36.7L3.1 37.2L2.1 37.6M6.7 6.2L8.1 6.4L9.0 6.1M-1.0 7.3L-1.8 7.8L-3.0 7.9L-4.0 7.8M-0.2 1.1L0.7 2.8L1.3 3.6M7.0 36.4L5.5 37.0M25.3 5.4L27.3 5.9M27.1 23.6L27.3 24.9M15.9 31.2L16.7 32.5L17.3 33.1L17.8 34.5M11.0 29.3L12.2 30.5L14.0 31.5M-0.3 3.0L1.3 3.8L2.6 3.7M0.1 16.9L-0.7 18.4L-2.4 19.5L-3.8 20.5M22.3 30.2L22.0 31.2L21.1 32.9M4.5 33.0L5.1 34.7L5.2 36.2M27.0 25.0L27.1 26.5L26.7 28.4M33.8 4.0L35.0 5.7M12.1 8.6L11.8 9.8L12.1 11.0M17.8 19.1L17.5 20.6L16.7 22.1L16.8 23.8M33.9 5.7L33.6 6.8L33.7 7.8L34.0 9.2M22.6 3.0L23.7 4.6L24.7 5.3M30.9 2.7L30.7 4.0L30.8 4.9M4.3 20.2L3.3 20.6L1.8 20.5M31.3 34.2L30.9 35.8M15.2 35.6L16.8 36.7L18.6 36.8M5.2 38.1L3.9 39.2M15.5 30.5L15.3 31.9L15.1 33.1M27.6 10.0L28.4 11.8L28.2 12.8L27.6 13.5M4.3 25.2L3.5 25.5L2.1 25.5L0.8 24.6M3.1 29.8L2.0 30.7L1.3 32.3M31.0 6.1L32.0 6.4L33.0 8.1M24.1 23.1L23.7 25.1L24.5 26.8M6.2 5.2L6.9 7.0L6.5 8.2M4.9 36.9L5.8 37.4L7.8 37.5L9.5 36.8M35.1 13.9L34.7 14.8M11.0 11.0L10.8 12.0L9.9 12.5L8.9 13.2M16.4 35.3L17.1 36.0L17.6 37.7L18.1 38.5M24.3 -1.2L24.9 -0.3M25.6 27.2L24.4 26.9M12.1 22.0L11.2 22.7M20.8 32.8L20.0 34.5M2.7 35.3L2.1 37.1L1.3 38.5M7.4 1.3L6.2 0.9L4.3 0.2L3.1 -0.4M29.8 29.1L31.6 28.8L32.6 28.3M28.0 -0.4L27.7 1.0L27.4 2.2M15.5 9.4L14.7 10.4L14.2 11.2M6.9 8.3L5.7 8.8L4.3 9.5L3.5 10.1M16.8 22.2L16.0 23.1M17.6 -0.1L19.6 -0.4M13.8 -0.3L14.2 1.2L15.0 2.3M31.1 1.7L29.4 1.9M14.7 28.0L16.0 28.6M4.3 37.9L4.2 39.1M7.4 11.9L9.0 13.3L9.4 14.6M8.9 32.3L9.0 33.3M14.4 21.7L12.7 21.9L10.8 21.5M10.3 34.9L9.4 34.7M12.0 6.1L11.2 7.0L10.7 8.4L10.1 9.5M2.3 24.7L1.9 25.6L1.1 26.6M7.3 32.1L7.1 33.6L7.3 34.5L6.8 35.8M20.3 9.1L20.0 10.7M4.4 1.0L3.1 2.1L2.4 3.4M5.3 34.6L3.5 33.7L2.5 33.8M16.6 18.3L15.3 19.7M31.8 35.3L30.9 34.9L29.6 34.3L28.3 34.4M22.4 28.9L22.6 30.6L22.5 32.6M25.2 39.5L23.4 40.2L22.3 40.4M1.2 22.3L3.0 22.7L5.0 23.2L6.6 23.8M2.6 30.7L2.4 32.2L2.3 33.3M2.2 22.4L3.2 22.6L4.8 22.6M28.1 31.1L26.4 30.7L25.1 30.5M30.5 8.2L31.7 8.7L32.7 10.0M26.8 11.6L25.7 12.6L24.3 13.5M9.1 2.5L10.2 4.1M16.5 14.9L15.2 14.7M0.8 6.1L0.1 7.1M7.9 25.4L8.8 25.0M25.9 30.9L25.1 32.4M0.8 34.9L2.3 34.8L3.8 34.1M3.6 2.4L5.2 3.0M0.4 0.4L1.0 2.2L2.6 3.2" stroke="#d8d8d8" stroke-width="0.6"/><path d="M32.1 26.5L31.3 27.9L29.6 28.8M9.2 26.8L9.1 28.8L9.6 30.6L10.5 31.6M24.2 38.8L24.4 40.8L25.2 41.6M18.4 29.5L19.7 29.0L20.5 28.4M2.4 9.3L4.0 10.2L5.5 10.3M4.7 36.0L2.8 36.5L1.9 36.9M-0.9 6.5L-1.8 7.1L-2.9 7.1L-4.0 7.0M25.1 6.2L27.1 6.6M-0.3 3.7L1.3 4.5L2.7 4.5M3.7 33.1L4.3 34.8L4.5 36.3M26.2 24.8L26.3 26.4L25.9 28.2M33.2 4.5L34.4 6.1M11.4 8.8L11.0 10.0L11.4 11.2M4.4 19.5L3.3 19.9L1.8 19.8M27.0 9.5L27.8 11.3L27.7 12.3L27.1 13.0M2.4 29.5L1.3 30.4L0.7 32.0M5.5 4.9L6.2 6.8L5.8 7.9M34.5 13.6L34.1 14.4M15.8 35.7L16.5 36.4L16.9 38.1L17.4 38.9M23.7 -0.8L24.3 0.1M25.8 26.4L24.6 26.1M2.0 35.0L1.4 36.8L0.7 38.2M7.7 0.6L6.5 0.2L4.6 -0.5L3.4 -1.1M30.2 29.7L32.0 29.5L32.9 28.9M27.3 -0.6L27.0 0.8L26.6 2.0M14.9 9.0L14.1 10.0L13.5 10.8M6.4 7.7L5.3 8.2L3.9 8.9L3.1 9.5M16.3 21.7L15.5 22.6M17.7 0.6L19.7 0.4M13.2 0.2L13.6 1.7L14.3 2.7M3.6 37.9L3.5 39.0M14.5 21.0L12.8 21.2L10.9 20.8M10.5 34.2L9.6 34.0M1.7 24.3L1.3 25.1L0.5 26.2M6.6 31.8L6.4 33.3L6.6 34.3L6.1 35.5M26.4 10.9L25.3 11.9L23.9 12.8M16.6 14.2L15.4 14.0M0.2 5.7L-0.5 6.6M8.2 26.1L9.1 25.7M25.3 30.6L24.5 32.0" stroke="#7c7c7c" stroke-width="0.75"/><path d="M-0.0 15.3L2.0 15.2L3.2 15.1M21.8 26.3L22.5 28.0M13.8 7.3L14.9 7.5L16.0 8.0M5.0 3.7L5.9 4.3L6.8 4.5M35.2 32.6L36.8 32.0L38.3 31.0M7.0 6.9L8.3 7.2L9.3 6.8M-0.8 1.5L0.1 3.1L0.6 4.0M6.7 35.7L5.2 36.2M26.4 23.7L26.6 25.0M15.2 31.4L16.0 32.7L16.6 33.4L17.1 34.8M10.6 30.0L11.9 31.1L13.6 32.2M-0.3 16.3L-1.2 17.8L-2.8 18.9L-4.2 19.8M21.7 29.9L21.4 30.9L20.4 32.6M17.1 19.2L16.7 20.6L16.0 22.1L16.1 23.9M33.2 5.8L32.8 6.9L33.0 7.9L33.3 9.4M22.2 3.6L23.3 5.2L24.3 5.9M30.2 2.8L30.0 4.1L30.1 5.0M30.6 34.0L30.2 35.6M15.2 36.4L16.8 37.5L18.5 37.5M4.8 37.5L3.4 38.6M14.8 30.3L14.5 31.8L14.4 33.0M4.8 24.6L3.9 24.9L2.5 24.9L1.2 24.0M30.3 6.5L31.3 6.8L32.4 8.5M23.4 23.4L23.0 25.4L23.8 27.1M5.2 37.6L6.1 38.1L8.1 38.2L9.8 37.5M10.6 10.4L10.3 11.3L9.5 11.9L8.4 12.6M11.7 21.4L10.7 22.1M20.1 32.5L19.3 34.2M31.0 0.9L29.3 1.1M14.4 28.7L15.7 29.3M6.7 12.2L8.3 13.6L8.7 14.9M8.2 32.3L8.3 33.3M11.3 5.7L10.6 6.6L10.1 8.0L9.5 9.1M19.6 9.0L19.3 10.6M3.7 0.6L2.4 1.8L1.8 3.0M5.1 33.8L3.4 32.9L2.4 33.1M16.1 17.8L14.8 19.2M31.7 34.5L30.8 34.1L29.5 33.5L28.2 33.6M21.7 28.8L21.8 30.6L21.8 32.6M25.1 38.8L23.3 39.5L22.1 39.7M0.9 23.0L2.7 23.4L4.8 23.9L6.4 24.5M1.9 30.7L1.7 32.2L1.6 33.2M2.2 23.1L3.3 23.4L4.8 23.3M28.2 30.3L26.5 29.9L25.3 29.7M29.9 8.7L31.1 9.1L32.1 10.4M8.5 3.0L9.6 4.5M1.1 35.6L2.6 35.5L4.1 34.8M3.3 3.1L5.0 3.7M0.0 1.1L0.6 2.8L2.2 3.8" stroke="#959595" stroke-width="0.7"/><path d="M0.2 18.5h.1M26.0 23.6h.1M28.9 4.5h.1M15.8 11.3h.1M2.7 1.4h.1M29.7 16.1h.1M22.7 29.8h.1M12.2 28.5h.1M9.0 34.5h.1M12.9 13.6h.1M25.4 19.1h.1M25.9 11.6h.1M27.8 22.2h.1M12.1 5.0h.1M4.9 31.6h.1M34.3 9.6h.1M21.4 32.1h.1M23.2 30.5h.1M19.0 36.9h.1M12.4 30.7h.1M6.1 16.9h.1M20.8 22.1h.1M29.4 27.7h.1M16.9 5.7h.1M14.4 3.2h.1M10.6 32.4h.1M27.0 17.4h.1M23.6 13.1h.1M32.6 2.5h.1M21.2 22.6h.1M17.7 37.2h.1M17.8 8.8h.1M4.0 31.3h.1M28.9 6.0h.1M28.7 9.9h.1M22.7 0.5h.1M17.8 16.4h.1M29.7 4.1h.1M7.8 18.9h.1M10.0 3.0h.1M8.9 5.4h.1M16.7 15.9h.1M8.1 26.4h.1M19.9 29.6h.1M23.5 8.5h.1M17.2 12.9h.1M22.9 22.4h.1M7.3 2.0h.1M32.3 27.3h.1" stroke="#cacaca" stroke-width="0.8"/><path d="M28.8 37.1h.1M32.1 35.1h.1M19.4 22.2h.1M4.6 37.5h.1M24.5 28.7h.1M15.3 18.4h.1M15.3 18.9h.1M16.5 23.9h.1M34.4 0.8h.1M4.6 23.0h.1M11.0 25.2h.1M13.0 27.6h.1M11.2 24.7h.1M19.4 23.9h.1M13.6 3.0h.1M31.3 20.2h.1M28.0 29.8h.1M9.4 25.6h.1M21.2 33.1h.1M14.0 29.9h.1M9.7 2.3h.1M28.0 6.5h.1M17.9 37.1h.1M16.1 37.7h.1M27.9 31.7h.1M5.8 3.2h.1M28.5 24.4h.1M12.7 4.6h.1M27.0 6.2h.1M23.5 24.9h.1M29.4 35.8h.1M34.2 8.0h.1M13.7 19.0h.1M6.1 4.5h.1M21.7 26.2h.1M32.8 27.8h.1M5.4 15.2h.1M15.0 1.6h.1M11.8 27.3h.1M20.5 18.6h.1M16.7 2.9h.1M12.7 30.8h.1M21.4 4.1h.1M29.6 31.2h.1" stroke="#a4a4a4" stroke-width="0.8"/><path d="M11.3 35.9h.1M4.8 11.7h.1M23.2 3.2h.1M26.8 22.7h.1M25.0 1.4h.1M3.2 32.7h.1M4.0 14.3h.1M2.6 20.1h.1M16.3 23.5h.1M13.0 5.9h.1M22.3 5.6h.1M23.8 28.4h.1M28.1 17.7h.1M23.2 10.9h.1M23.8 32.8h.1M13.1 17.9h.1M22.4 34.5h.1M13.6 4.7h.1M18.1 26.8h.1M24.3 31.3h.1M31.7 14.8h.1M1.6 0.3h.1M20.9 12.6h.1M30.3 32.5h.1M24.5 0.4h.1M8.5 37.8h.1M7.9 1.7h.1M11.9 18.5h.1M15.1 33.2h.1M6.6 21.7h.1M9.4 22.7h.1M12.8 30.1h.1M32.3 28.0h.1M5.8 10.2h.1M14.6 2.7h.1M32.0 21.7h.1M31.1 25.7h.1M31.3 26.3h.1M26.5 21.3h.1" stroke="#6a6a6a" stroke-width="1.1"/></g><line x1="1.0" y1="36.5" x2="6.5" y2="36.5" stroke="#222" stroke-width="0.7"/></svg></g>
<text x="302.60" y="183.60" text-anchor="middle" fill="#000" stroke="#000" stroke-width="0.18" style="font-size:3.8px;font-weight:bold;">siGLS2</text>
<g><rect x="285.00" y="184.60" width="35.20" height="38.00" fill="#bdbdbd"/><svg x="285.00" y="184.60" width="35.20" height="38.00" overflow="hidden"><g filter="url(#blur03)" stroke-linecap="round" stroke-linejoin="round" fill="none"><path d="M5.8 26.9L4.2 28.2L2.6 29.5L2.0 30.9M0.3 36.2L0.0 37.3L0.2 38.3M22.5 0.8L22.9 2.5L22.6 3.3L22.0 4.1M15.8 20.3L17.2 21.3L18.8 22.3L20.0 22.2M4.0 18.6L3.3 19.4L2.3 20.2M18.3 11.4L19.0 12.2L19.8 14.1M-0.5 2.5L-1.1 3.6L-2.0 4.1M23.0 32.1L23.9 32.8L24.2 33.9M13.3 27.0L12.5 28.9L11.0 29.7M17.8 13.5L18.7 13.8L20.1 15.0M1.9 10.7L1.3 11.8L0.7 13.7M36.3 28.8L37.2 30.3L37.2 31.7M33.0 13.1L34.1 13.9L35.5 15.2M4.4 21.8L5.4 22.1M9.2 11.4L10.5 12.0L11.4 13.8L12.3 14.3M6.1 25.4L4.4 25.7M11.0 36.9L11.2 38.0L10.8 39.1M21.8 19.9L20.9 20.2M31.8 14.6L32.1 16.3L32.5 17.2M4.2 28.4L3.3 27.8L2.2 26.8L1.2 25.0M10.3 24.6L10.0 26.4L9.0 27.3M23.7 16.5L21.8 17.0M18.5 37.2L17.7 38.5L16.9 39.0L16.2 40.5M8.6 27.8L7.7 28.5L6.6 29.5L4.9 30.7M1.1 6.2L1.1 7.8L0.5 9.4M8.8 36.0L8.6 38.1L7.9 38.7L7.3 39.8M26.3 2.3L27.3 3.1L28.3 5.0M25.5 6.6L27.1 7.9L28.1 8.5M33.1 18.8L33.6 19.8L34.5 20.8M22.6 9.9L23.4 10.6L23.6 11.7L24.3 13.3M-0.9 18.6L0.2 19.0L1.7 18.6L2.6 17.6M12.9 -1.6L13.7 -1.1L15.1 -0.9L16.3 -0.7M32.6 -0.2L32.3 1.7M5.4 18.6L5.3 20.5L5.5 21.7L6.0 22.8M32.4 1.2L33.5 1.7M12.9 5.5L12.0 7.0L12.0 8.0M19.7 14.9L19.6 16.8L20.0 17.7L20.9 19.0M0.2 14.4L-0.5 16.2L-1.2 17.2L-2.9 18.2M35.6 15.2L34.7 16.2L33.5 17.2M23.2 6.2L21.5 7.4L20.0 8.4L18.1 8.8M33.6 8.7L32.9 10.5L32.7 11.5M33.2 37.9L32.1 38.4L30.9 38.9M4.3 8.8L4.0 10.6L3.6 11.7L3.3 13.0M17.4 1.0L16.5 2.7L15.5 4.3M26.9 38.7L28.5 39.6L29.1 40.7L29.2 42.1M7.5 29.1L6.6 29.4L5.5 29.2L4.2 29.2M21.7 27.3L20.7 28.0M29.1 35.7L29.5 36.6L30.5 37.9M27.0 35.7L28.3 36.4L30.1 36.5M7.2 25.7L8.9 26.4L10.1 26.5M1.6 29.9L0.6 30.5M17.8 20.9L17.2 22.4L17.0 23.7L16.2 25.2M26.2 21.8L27.5 22.9L28.4 23.6M11.4 4.6L12.7 4.3L13.5 3.8M6.6 -1.3L7.7 -1.2L8.7 -1.1M4.3 4.2L3.6 5.0L3.1 6.5M8.6 16.8L7.2 18.3M32.4 16.2L31.1 17.5M6.2 35.5L7.7 36.5L8.5 37.2M12.5 17.9L13.8 18.2L15.0 17.7M27.5 4.4L28.8 5.4M1.1 29.5L-0.3 30.1M26.7 0.6L26.1 2.3L26.7 3.7M0.6 8.2L-0.2 9.8L-1.9 11.0M27.0 19.7L27.2 21.7L28.0 22.8M11.6 35.3L10.3 36.6L8.7 37.4M31.4 9.5L29.5 9.4L27.9 8.6M23.0 10.1L23.6 11.9L23.2 13.8M18.2 27.4L17.9 28.8L17.3 29.9M19.1 1.1L18.8 2.1M1.0 23.7L2.7 24.8L4.4 25.3M10.1 -0.6L10.8 1.2L10.5 2.4M4.7 13.1L3.8 13.7L3.1 15.4M-0.7 11.9L0.3 13.0L1.2 13.1M20.3 21.9L19.2 22.2L18.2 22.2M14.7 12.7L12.9 13.6L11.2 13.7L10.0 14.3M30.1 29.2L31.5 30.6M16.8 27.1L15.4 27.6L14.7 28.8M2.8 28.0L2.0 29.8L1.5 30.6M36.2 20.4L35.5 21.0M2.2 16.0L0.8 15.5L-0.8 15.5L-2.8 15.0M2.3 35.4L3.5 36.4L4.1 37.6L4.3 38.9M33.0 25.4L32.0 26.1L30.3 26.2L28.5 26.5M11.1 23.3L10.6 24.9L9.6 25.6L7.8 26.5M3.1 27.5L4.3 28.5L5.4 28.9L6.4 30.2M30.9 20.9L32.3 21.6L34.0 22.6M23.3 27.5L21.7 28.1L20.9 28.5L19.9 29.4M32.9 25.0L34.0 26.1L34.2 27.1L34.7 28.3M19.3 19.2L19.5 20.3L20.1 21.4M5.6 21.5L6.5 21.9M30.0 21.0L31.1 21.5L32.6 23.0L34.5 23.6" stroke="#d8d8d8" stroke-width="0.6"/><path d="M5.1 26.6L3.5 27.9L1.9 29.2L1.3 30.6M21.9 0.4L22.4 2.0L22.0 2.9L21.4 3.6M15.9 21.1L17.3 22.0L18.9 23.0L20.0 22.9M-0.9 1.8L-1.4 3.0L-2.3 3.5M1.1 10.5L0.6 11.6L0.0 13.4M35.6 28.8L36.5 30.2L36.5 31.7M4.2 22.5L5.2 22.8M8.8 12.0L10.1 12.6L11.0 14.4L11.9 15.0M5.9 24.7L4.3 24.9M10.3 36.7L10.5 37.8L10.1 38.9M17.8 36.9L17.0 38.2L16.2 38.7L15.5 40.3M8.2 27.2L7.2 27.9L6.2 28.9L4.5 30.1M25.7 2.6L26.7 3.5L27.7 5.3M25.2 7.2L26.7 8.6L27.8 9.1M31.9 -0.3L31.6 1.6M4.7 18.9L4.6 20.8L4.8 22.0L5.3 23.1M19.0 15.3L19.0 17.2L19.4 18.1L20.2 19.4M-0.2 13.7L-0.9 15.6L-1.6 16.5L-3.3 17.6M32.9 8.6L32.2 10.3L32.0 11.4M16.8 0.6L15.9 2.3L14.8 3.8M28.5 36.1L28.9 37.0L29.9 38.3M25.7 22.4L27.0 23.5L27.9 24.2M11.8 5.2L13.1 4.9L13.9 4.4M3.5 4.0L2.9 4.7L2.4 6.3M12.8 18.6L14.0 18.9L15.2 18.4M27.0 5.0L28.4 6.0M26.0 0.9L25.4 2.6L26.0 4.0M0.2 7.6L-0.7 9.2L-2.3 10.4M26.4 20.1L26.6 22.1L27.3 23.2M11.2 34.7L9.9 35.9L8.4 36.8M31.7 8.8L29.8 8.7L28.2 7.9M22.3 9.9L22.9 11.8L22.5 13.6M17.6 27.1L17.2 28.4L16.6 29.5M0.8 24.5L2.5 25.5L4.2 26.0M4.0 12.8L3.1 13.4L2.4 15.1M2.2 27.6L1.4 29.4L0.9 30.2M1.6 35.5L2.7 36.5L3.4 37.7L3.6 39.0M10.8 22.6L10.3 24.2L9.3 24.9L7.5 25.8M2.5 27.9L3.7 29.0L4.8 29.4L5.9 30.7M30.5 21.5L31.9 22.2L33.6 23.3M22.8 26.9L21.2 27.5L20.4 27.9L19.4 28.8M18.7 19.5L18.8 20.7L19.5 21.8" stroke="#7c7c7c" stroke-width="0.75"/><path d="M-0.5 36.3L-0.7 37.5L-0.5 38.4M3.6 18.1L2.8 18.8L1.8 19.6M17.7 11.7L18.3 12.5L19.1 14.4M22.3 32.3L23.2 33.0L23.5 34.1M12.9 26.3L12.1 28.2L10.7 29.0M17.3 14.0L18.2 14.3L19.6 15.5M32.5 13.6L33.6 14.5L35.0 15.7M21.5 19.2L20.6 19.5M31.2 14.9L31.4 16.6L31.8 17.5M4.8 28.0L4.0 27.5L2.9 26.5L1.9 24.7M9.8 24.0L9.5 25.8L8.5 26.7M23.5 15.8L21.7 16.3M0.4 5.9L0.4 7.6L-0.2 9.2M8.1 35.7L7.9 37.7L7.3 38.4L6.7 39.5M32.5 19.3L33.0 20.2L33.9 21.3M22.0 10.2L22.7 10.9L22.9 12.0L23.6 13.6M-0.3 19.0L0.8 19.5L2.3 19.1L3.1 18.1M12.8 -0.9L13.6 -0.4L15.0 -0.2L16.1 0.0M32.1 1.8L33.1 2.3M12.1 5.5L11.3 6.9L11.2 8.0M35.1 14.6L34.2 15.6L33.0 16.7M23.1 5.5L21.4 6.7L19.8 7.6L17.9 8.1M32.9 37.2L31.9 37.7L30.6 38.2M3.6 8.6L3.3 10.4L2.9 11.5L2.6 12.8M26.2 38.7L27.8 39.7L28.4 40.7L28.5 42.2M7.5 28.4L6.6 28.7L5.5 28.4L4.2 28.4M21.3 26.7L20.3 27.4M27.0 36.4L28.3 37.2L30.1 37.2M7.1 26.5L8.9 27.1L10.1 27.2M1.2 29.2L0.2 29.9M17.2 20.5L16.6 22.1L16.4 23.4L15.6 24.8M6.5 -0.6L7.5 -0.5L8.6 -0.3M8.1 16.3L6.7 17.8M31.9 15.7L30.6 17.0M5.8 36.0L7.2 37.1L8.0 37.8M0.8 28.8L-0.5 29.4M18.3 0.9L18.1 1.9M9.4 -0.8L10.0 1.1L9.8 2.3M-0.9 12.6L0.2 13.7L1.1 13.8M20.3 21.2L19.3 21.5L18.3 21.4M14.3 12.1L12.6 12.9L10.8 13.1L9.7 13.6M29.6 29.8L31.0 31.2M16.1 26.7L14.8 27.2L14.1 28.4M35.7 19.8L35.0 20.5M2.3 15.3L1.0 14.8L-0.6 14.7L-2.6 14.3M32.9 24.7L31.9 25.3L30.2 25.5L28.4 25.8M32.2 25.3L33.3 26.4L33.5 27.4L34.0 28.6M5.4 22.2L6.3 22.6M29.7 21.7L30.9 22.2L32.3 23.7L34.3 24.3" stroke="#959595" stroke-width="0.7"/><path d="M22.7 17.0h.1M7.2 19.5h.1M4.0 12.8h.1M28.0 18.1h.1M34.3 19.9h.1M12.6 18.9h.1M9.3 17.9h.1M32.5 29.6h.1M26.6 10.8h.1M33.9 3.4h.1M11.6 8.6h.1M5.1 30.5h.1M34.1 36.6h.1M14.6 8.6h.1M24.2 31.7h.1M17.1 14.5h.1M0.9 20.5h.1M32.0 22.1h.1M10.8 27.3h.1M21.0 6.4h.1M9.3 32.2h.1M27.9 13.2h.1M27.6 9.5h.1M22.3 32.3h.1M23.4 8.3h.1M5.1 9.9h.1M22.7 25.0h.1M32.4 24.1h.1M33.1 32.4h.1M30.4 5.0h.1M14.7 36.3h.1M6.5 32.2h.1M19.4 33.3h.1M14.3 24.5h.1M20.2 30.4h.1M29.3 19.7h.1M18.2 1.6h.1M33.3 37.2h.1M9.3 35.6h.1M0.6 9.4h.1M23.7 2.5h.1M25.6 13.1h.1M17.3 23.2h.1M0.0 11.5h.1M14.0 23.6h.1M17.3 23.3h.1" stroke="#cacaca" stroke-width="0.8"/><path d="M33.9 13.0h.1M13.4 24.8h.1M25.6 15.3h.1M3.6 15.1h.1M28.7 28.9h.1M28.2 15.6h.1M1.9 30.2h.1M28.0 16.2h.1M12.1 35.9h.1M6.7 13.8h.1M23.4 34.5h.1M16.5 30.0h.1M27.5 5.3h.1M32.7 7.6h.1M18.7 36.7h.1M17.3 34.3h.1M7.3 6.4h.1M1.8 22.8h.1M25.9 21.6h.1M9.9 3.5h.1M9.5 37.5h.1M13.2 18.2h.1M34.1 21.0h.1M11.1 26.8h.1M22.1 1.9h.1M18.4 30.0h.1M9.1 26.4h.1M16.8 24.6h.1M33.4 6.2h.1M16.9 9.8h.1M13.6 7.9h.1M18.6 24.2h.1M5.5 0.3h.1M23.7 17.2h.1M22.7 5.6h.1M25.0 16.6h.1M17.0 30.9h.1M34.3 30.9h.1M2.7 33.6h.1M27.0 32.6h.1M35.0 18.0h.1M2.8 14.4h.1M28.8 19.8h.1M13.2 25.7h.1M21.1 0.8h.1M26.9 6.4h.1M2.5 7.9h.1M32.5 2.7h.1M0.6 3.0h.1" stroke="#a4a4a4" stroke-width="0.8"/><path d="M24.1 34.2h.1M7.0 29.7h.1M29.9 37.7h.1M19.9 24.5h.1M12.1 29.7h.1M10.9 23.7h.1M22.1 37.6h.1M27.7 3.6h.1M6.2 13.6h.1M13.9 27.2h.1M9.1 21.2h.1M15.9 11.6h.1M22.6 16.5h.1M34.5 4.9h.1M31.6 24.2h.1M16.2 3.0h.1M22.8 30.5h.1M12.3 27.1h.1M18.7 3.4h.1M30.2 11.9h.1M16.9 28.9h.1M30.8 32.4h.1M12.9 32.2h.1M5.4 21.0h.1M15.2 32.9h.1M25.4 25.0h.1M28.5 13.2h.1M15.6 3.9h.1M12.3 7.6h.1M25.7 4.9h.1M32.2 22.8h.1M15.7 4.5h.1M15.7 21.4h.1M5.1 37.1h.1M12.7 16.5h.1M10.0 14.2h.1M9.7 32.5h.1M2.5 13.9h.1M21.0 18.2h.1M11.4 18.4h.1" stroke="#6a6a6a" stroke-width="1.1"/></g><line x1="1.0" y1="36.5" x2="6.5" y2="36.5" stroke="#222" stroke-width="0.7"/></svg></g>
<text x="338.60" y="183.60" text-anchor="middle" fill="#000" stroke="#000" stroke-width="0.18" style="font-size:3.8px;font-weight:bold;">siGLS2 + αKG</text>
<g><rect x="321.20" y="184.60" width="34.80" height="38.00" fill="#bdbdbd"/><svg x="321.20" y="184.60" width="34.80" height="38.00" overflow="hidden"><g filter="url(#blur03)" stroke-linecap="round" stroke-linejoin="round" fill="none"><path d="M34.5 3.9L35.5 3.5L36.8 3.3L37.9 3.8M10.5 23.8L9.5 23.7L8.2 22.8L7.2 22.4M20.8 37.2L19.3 37.9M6.0 15.4L5.0 16.1L3.7 16.6M18.6 1.0L17.2 1.3L15.2 1.3M19.9 14.2L21.7 15.0L22.7 15.3L23.6 15.6M1.8 32.3L2.7 32.7L3.2 33.7M12.2 11.5L12.7 12.3L14.3 13.3M23.8 2.7L24.7 4.4M0.9 4.5L-0.5 6.0L-1.8 6.6M22.7 13.9L21.8 14.0L20.1 14.0M3.2 23.7L3.4 24.7L4.3 26.2M18.6 17.7L19.6 17.6M21.9 14.4L23.2 14.0L24.1 14.2M26.2 23.9L27.4 24.0L28.5 23.7L29.6 22.4M6.2 37.1L7.1 38.4M30.5 26.3L32.2 27.2M30.8 8.7L30.9 9.9L30.0 11.4M22.1 3.6L20.7 5.0L20.2 6.1M12.5 31.1L11.6 33.0L11.6 34.4L10.7 36.0M24.3 20.1L24.2 21.4M1.2 20.7L-0.6 21.4L-2.1 21.8M2.9 18.6L3.8 18.2M9.2 11.0L9.9 12.4L10.5 13.5L10.8 15.4M32.9 31.3L32.3 32.0L31.9 32.9M10.7 -0.1L10.7 1.8M5.6 10.5L5.5 11.8L5.2 13.7M32.7 17.0L34.5 17.6L35.7 18.5M1.2 39.4L0.0 40.0M18.3 1.5L19.7 2.4L20.3 3.6L20.9 4.9M29.3 25.3L29.7 27.3L30.9 28.8M7.7 17.8L8.2 19.7L8.4 21.0M20.9 7.6L19.6 8.8L17.9 9.4L16.2 10.1M9.2 34.3L8.1 34.9L7.4 35.5M21.9 9.2L21.4 10.1L20.4 11.0M4.2 27.9L5.2 28.3L6.3 29.4M14.3 3.1L15.0 4.0L15.0 5.3M33.7 18.6L34.8 18.8M6.2 2.4L5.8 3.9L5.8 5.7M7.6 6.9L6.3 7.3M29.5 21.4L27.9 20.7L26.0 21.0M9.4 22.1L9.6 24.1L9.0 25.4M24.7 19.8L25.9 20.4M13.0 0.1L13.6 1.7L13.5 2.8M36.5 3.1L37.1 4.8L37.6 5.8M36.3 6.7L36.3 8.0L36.0 9.7L36.1 10.7M35.1 4.0L36.6 5.3L38.4 6.1M29.3 35.1L30.0 36.1L30.2 37.0L31.3 38.0M7.1 25.3L6.1 26.0L4.2 26.0L2.5 25.8M27.9 12.5L28.6 14.4M12.5 38.9L11.7 40.2L11.3 41.8M4.1 9.6L2.7 8.9L2.0 7.9M14.6 29.0L16.4 29.5M27.3 15.4L27.2 16.6L27.4 17.6M8.4 21.5L7.6 22.5L6.8 24.4M18.1 21.6L19.2 22.5L20.4 23.2M13.1 37.3L12.9 38.5L12.4 39.3M1.8 28.2L0.9 29.1L0.4 30.0L-0.1 31.8M9.0 2.6L7.7 3.2L5.9 3.3M17.1 39.7L15.5 40.4L14.1 40.3M16.1 38.0L15.6 39.0L15.4 40.2M28.6 21.6L27.1 22.1L25.7 22.3M8.6 18.3L8.0 20.2M13.2 0.1L12.2 1.9M-0.6 8.2L0.4 8.7L1.6 8.8M1.5 2.4L2.6 3.8L3.2 4.7L3.4 5.7M21.1 4.3L20.3 5.3M26.2 34.3L25.1 34.3L23.3 34.3M20.2 9.6L21.1 9.9L22.4 10.2L24.1 10.1M8.6 35.3L10.1 36.0L11.8 37.1M36.5 13.3L36.0 14.2L35.3 15.7M33.2 9.9L34.7 9.9M9.2 29.2L10.1 31.0L10.1 32.6M10.0 21.1L11.0 21.8L12.2 21.8M2.5 22.4L1.6 22.8L-0.2 22.6L-1.5 22.3M22.9 4.1L23.6 6.0L24.1 7.3M30.7 27.7L29.6 28.0L27.9 28.6M19.5 9.0L19.5 10.1L19.5 11.1M14.2 33.4L13.6 34.4M8.5 25.0L8.9 26.1L8.6 27.5L8.4 28.6M15.8 11.3L14.9 12.5L13.3 13.3M5.4 27.2L7.0 27.8L8.4 28.3M13.6 -0.8L14.1 0.5L15.8 1.5L16.5 2.3M34.3 10.0L32.8 10.8L31.0 11.4M4.3 27.8L4.7 28.8L4.5 30.6M17.8 1.7L16.5 2.7L15.3 2.7M0.5 0.2L0.1 1.9M7.1 22.2L8.4 23.5M9.7 -1.7L11.7 -1.8M23.2 25.8L21.2 26.0L19.5 25.4" stroke="#d8d8d8" stroke-width="0.6"/><path d="M34.3 4.6L35.2 4.2L36.5 4.0L37.6 4.5M10.8 23.0L9.8 23.0L8.5 22.0L7.4 21.7M11.8 12.1L12.3 13.0L13.9 13.9M0.6 3.8L-0.9 5.3L-2.2 6.0M2.6 24.2L2.7 25.1L3.7 26.6M21.8 15.1L23.1 14.7L24.0 14.9M26.7 24.4L27.9 24.5L29.1 24.2L30.2 22.9M5.6 37.5L6.4 38.8M21.4 3.3L20.0 4.7L19.5 5.7M23.5 20.1L23.5 21.4M1.0 20.0L-0.8 20.7L-2.3 21.1M3.2 19.3L4.1 18.9M8.5 11.1L9.2 12.5L9.7 13.7L10.0 15.5M10.0 -0.0L10.0 1.8M0.8 38.8L-0.3 39.4M28.7 25.8L29.1 27.8L30.3 29.3M7.0 17.9L7.5 19.8L7.6 21.1M8.6 33.7L7.6 34.3L6.9 35.0M3.7 28.5L4.7 28.8L5.7 29.9M33.6 19.3L34.6 19.5M7.4 6.2L6.1 6.6M8.7 21.8L9.0 23.7L8.3 25.1M24.4 20.5L25.6 21.1M35.8 3.4L36.5 5.2L36.9 6.2M34.8 4.7L36.3 6.0L38.1 6.8M7.2 24.5L6.2 25.2L4.3 25.3L2.6 25.0M11.8 38.7L10.9 40.0L10.6 41.6M4.7 9.1L3.3 8.4L2.6 7.4M7.7 21.2L6.9 22.2L6.1 24.1M17.7 22.2L18.8 23.2L20.0 23.9M8.9 1.9L7.7 2.4L5.9 2.6M15.4 37.9L14.9 38.8L14.7 40.0M7.9 18.0L7.3 20.0M0.8 2.6L1.8 4.0L2.4 4.9L2.7 5.9M20.5 3.8L19.7 4.9M26.2 33.6L25.1 33.6L23.3 33.6M8.2 36.0L9.7 36.6L11.4 37.7M33.2 10.7L34.8 10.6M10.0 21.9L11.0 22.6L12.2 22.5M2.7 21.7L1.8 22.0L-0.0 21.9L-1.2 21.5M13.6 33.0L12.9 34.0M15.5 10.6L14.6 11.8L13.0 12.6M5.2 27.9L6.7 28.5L8.2 29.0M13.1 -0.2L13.6 1.0L15.3 2.0L16.0 2.8M34.0 9.3L32.6 10.1L30.7 10.7M6.5 22.8L7.8 24.1M9.7 -1.0L11.7 -1.1" stroke="#7c7c7c" stroke-width="0.75"/><path d="M20.4 36.5L19.0 37.2M5.8 14.7L4.8 15.4L3.5 15.9M18.6 0.3L17.2 0.6L15.2 0.6M19.7 14.9L21.5 15.7L22.5 16.1L23.5 16.3M1.1 32.6L2.0 33.1L2.6 34.1M23.1 3.0L24.1 4.8M22.7 13.2L21.8 13.2L20.1 13.3M18.7 18.5L19.7 18.4M30.2 27.0L31.8 27.9M30.1 8.3L30.3 9.5L29.3 11.0M11.8 30.8L10.9 32.6L10.9 34.0L10.0 35.6M32.2 31.0L31.6 31.7L31.2 32.7M4.9 10.4L4.7 11.6L4.4 13.6M32.3 17.6L34.0 18.1L35.3 19.1M17.6 1.8L19.0 2.7L19.7 3.9L20.2 5.2M20.6 6.9L19.3 8.1L17.7 8.7L15.9 9.4M21.5 8.7L20.9 9.6L19.9 10.4M13.6 3.1L14.3 4.0L14.2 5.3M5.5 2.4L5.1 3.9L5.0 5.7M29.4 20.6L27.7 19.9L25.8 20.3M12.3 0.1L12.8 1.6L12.8 2.7M35.5 6.7L35.6 8.0L35.3 9.7L35.3 10.7M28.9 35.7L29.5 36.7L29.7 37.6L30.9 38.6M27.2 12.8L27.9 14.7M14.4 29.7L16.2 30.2M26.6 15.5L26.5 16.7L26.6 17.7M12.5 36.9L12.3 38.1L11.7 38.9M1.1 28.1L0.2 28.9L-0.4 29.8L-0.8 31.6M17.1 39.0L15.6 39.6L14.1 39.5M28.5 20.8L27.0 21.3L25.6 21.6M12.5 -0.3L11.6 1.5M-0.6 9.0L0.4 9.5L1.5 9.5M20.2 10.4L21.1 10.7L22.5 11.0L24.1 10.9M35.8 13.0L35.3 13.9L34.6 15.4M8.4 29.2L9.3 31.0L9.3 32.6M22.2 4.4L22.9 6.3L23.4 7.6M30.4 27.0L29.3 27.3L27.7 27.9M18.8 9.0L18.7 10.1L18.7 11.1M7.8 24.9L8.1 25.9L7.9 27.3L7.6 28.4M3.6 27.7L4.0 28.7L3.7 30.5M17.8 0.9L16.5 1.9L15.3 1.9M-0.3 0.1L-0.6 1.7M23.4 25.1L21.4 25.3L19.7 24.7" stroke="#959595" stroke-width="0.7"/><path d="M28.4 20.3h.1M23.6 19.0h.1M10.1 33.1h.1M6.9 16.3h.1M11.3 9.2h.1M1.8 6.0h.1M34.3 16.8h.1M23.5 18.6h.1M25.5 8.4h.1M4.8 7.2h.1M10.4 0.2h.1M9.0 26.9h.1M25.1 6.0h.1M19.6 22.7h.1M2.8 21.2h.1M0.3 20.2h.1M17.6 18.7h.1M26.6 11.3h.1M5.5 30.4h.1M3.9 29.9h.1M10.3 24.9h.1M17.4 2.9h.1M18.1 28.1h.1M32.6 4.3h.1M10.6 21.3h.1M1.0 10.8h.1M24.9 29.3h.1M27.2 33.5h.1M7.8 26.9h.1M18.6 16.9h.1M28.6 16.3h.1M22.4 25.0h.1M25.1 0.4h.1M23.2 29.6h.1M2.1 22.1h.1M28.4 14.5h.1M15.5 27.3h.1M27.0 25.5h.1M11.5 10.7h.1M31.0 37.7h.1M21.2 22.0h.1M25.6 33.5h.1M22.1 6.0h.1M22.6 20.6h.1M4.0 13.5h.1M4.4 14.5h.1M16.1 15.2h.1M9.3 12.4h.1M14.9 34.8h.1M20.6 7.2h.1M13.7 21.5h.1" stroke="#cacaca" stroke-width="0.8"/><path d="M32.4 33.4h.1M4.6 33.6h.1M1.8 0.7h.1M24.8 1.8h.1M29.7 11.8h.1M31.3 6.3h.1M0.8 12.3h.1M7.0 30.1h.1M28.1 26.4h.1M33.4 16.8h.1M27.0 36.6h.1M11.4 24.7h.1M32.7 9.4h.1M21.5 5.6h.1M18.6 31.6h.1M18.3 25.8h.1M8.6 7.5h.1M24.4 21.4h.1M10.9 31.5h.1M28.3 0.0h.1M13.5 17.1h.1M20.7 30.1h.1M12.7 34.6h.1M1.1 21.3h.1M4.1 1.3h.1M28.3 20.6h.1M8.2 13.8h.1M23.3 32.2h.1M18.0 8.7h.1M1.1 21.2h.1M22.4 5.5h.1M28.7 24.0h.1M24.1 18.3h.1M26.3 32.9h.1M20.3 13.8h.1M12.3 31.2h.1M30.3 19.8h.1M9.4 36.3h.1M0.7 18.8h.1M30.6 19.0h.1M16.8 14.9h.1M9.2 11.6h.1M25.7 32.8h.1" stroke="#a4a4a4" stroke-width="0.8"/><path d="M4.9 20.4h.1M25.2 18.5h.1M18.4 24.0h.1M22.0 6.7h.1M1.9 10.4h.1M1.2 11.8h.1M1.3 4.0h.1M22.9 7.4h.1M24.8 15.9h.1M29.1 21.2h.1M30.3 16.1h.1M14.6 35.3h.1M23.8 16.3h.1M30.3 27.7h.1M22.4 1.0h.1M30.9 4.1h.1M0.6 12.9h.1M6.7 9.2h.1M16.9 19.1h.1M23.7 32.9h.1M24.2 32.9h.1M15.0 5.6h.1M24.7 37.8h.1M5.9 23.3h.1M13.5 37.4h.1M1.1 18.2h.1M12.5 14.0h.1M25.9 0.0h.1M9.6 36.7h.1M16.0 0.5h.1M21.5 25.0h.1M32.3 33.6h.1M33.0 10.1h.1M11.1 26.5h.1M12.0 14.3h.1M1.4 7.5h.1M4.7 14.2h.1M24.4 7.4h.1M10.0 3.1h.1" stroke="#6a6a6a" stroke-width="1.1"/></g><line x1="1.0" y1="36.5" x2="6.5" y2="36.5" stroke="#222" stroke-width="0.7"/></svg></g>
<text x="374.80" y="183.60" text-anchor="middle" fill="#000" stroke="#000" stroke-width="0.18" style="font-size:3.8px;font-weight:bold;">siGLS2 + Glu</text>
<g><rect x="357.40" y="184.60" width="34.80" height="38.00" fill="#bdbdbd"/><svg x="357.40" y="184.60" width="34.80" height="38.00" overflow="hidden"><g filter="url(#blur03)" stroke-linecap="round" stroke-linejoin="round" fill="none"><path d="M33.7 37.3L33.0 38.4M19.2 3.9L20.8 3.8L21.7 4.3L22.3 5.6M18.4 27.8L19.1 28.4M22.8 24.4L20.8 24.4L19.8 23.7M20.4 30.9L21.5 31.8L22.2 32.7L23.4 33.2M21.1 2.7L20.6 3.8L20.1 4.7M19.7 34.7L20.2 35.6L20.3 37.4M7.5 21.5L6.5 21.1M1.6 15.1L3.5 15.8L5.0 17.2M26.6 13.6L25.7 13.7L24.3 14.3L22.8 14.4M7.7 3.1L7.1 4.6L7.2 5.6M32.8 17.1L32.9 19.1L32.6 20.5L31.8 22.2M19.8 15.9L20.0 16.9M11.9 21.6L11.0 23.0L10.4 24.7M8.1 22.1L7.4 23.1L7.0 24.0L5.5 24.9M7.1 25.8L8.4 27.4L9.3 28.2L10.5 29.9M18.8 11.5L18.1 12.1M13.6 -0.3L14.2 0.9L14.9 1.9L14.9 3.2M1.3 34.8L0.3 36.2L-0.5 38.0M18.2 3.1L18.9 4.8M30.7 10.1L29.1 10.3L27.7 10.5M9.2 12.7L10.7 12.8M10.2 2.8L9.5 3.6L7.8 4.7M21.9 5.2L20.7 5.6L19.7 5.5L18.1 6.3M10.8 3.7L12.2 3.5L13.7 2.9M24.1 20.0L25.5 21.0L26.0 22.6M13.4 30.6L12.2 31.3M27.2 19.7L28.0 20.2L28.9 21.3L30.8 22.1M8.8 11.7L7.6 12.5L6.6 13.5L6.3 15.5M29.6 5.9L29.5 7.3L30.6 8.9M22.7 9.9L21.6 11.6L20.2 12.6L19.1 13.1M5.0 38.2L4.2 38.9L3.9 40.3L4.3 41.9M4.1 -0.4L3.9 0.8L4.2 2.8M25.5 16.7L23.9 17.5L22.8 18.9M1.8 29.7L2.8 30.5M3.7 31.6L4.3 32.4M34.9 24.5L34.8 25.9L34.5 26.8M33.5 25.0L33.4 26.2L34.2 27.7M9.0 36.7L8.0 37.9L6.7 39.2L5.8 39.8M12.7 22.1L13.6 23.2L14.4 24.2L14.8 25.1M7.2 31.6L6.4 33.3L5.8 34.1M27.4 6.6L28.0 7.6L28.8 9.3M3.3 15.5L4.5 16.9L5.6 17.2L7.6 17.5M7.4 22.0L7.0 23.5L5.5 24.6M1.6 13.2L2.6 13.2M12.3 7.9L11.6 9.6L10.1 10.7M14.4 25.1L15.8 26.4M0.4 33.8L-0.1 35.5L-1.2 36.8M34.3 24.9L33.3 25.3L32.1 26.3M24.6 6.2L25.3 7.9L25.1 9.8M31.7 18.8L30.2 19.7M9.2 4.4L8.1 5.2L6.2 5.4M29.6 20.4L29.7 22.1L28.6 23.8M17.8 11.9L16.9 13.2L15.6 14.6L15.5 15.9M20.4 27.7L21.4 27.4L23.2 26.6M5.9 35.0L6.5 36.7L7.2 38.3M29.9 30.1L29.0 29.8L28.1 29.2M30.1 20.6L30.2 21.5M33.4 33.1L33.5 34.1L33.2 35.8M31.9 21.6L33.5 22.4L34.3 23.4L34.9 24.3M15.2 7.4L13.3 7.8L12.0 9.1L11.5 10.2M7.7 -0.5L6.8 1.4L6.4 2.5M28.3 34.3L29.5 33.7M18.5 27.5L17.7 28.3M27.7 3.6L29.7 3.1L31.5 3.8M19.1 19.3L18.3 20.6M-0.1 19.6L-0.6 20.6M11.9 36.5L11.8 37.5L11.0 39.2M22.9 26.1L21.9 26.5L20.4 27.9M2.4 12.3L1.2 13.9L0.9 14.8L0.6 15.9M25.3 20.5L25.5 21.5M19.1 33.6L19.5 34.6L19.6 35.6M34.5 7.1L35.2 7.9L35.5 9.7M5.3 27.5L6.5 28.4L8.0 29.7M16.7 35.8L17.0 37.6L16.6 39.5L16.5 41.0M2.8 13.7L1.6 15.0L-0.3 15.8L-1.6 15.9M-0.1 21.0L0.4 21.9L2.1 22.6M1.7 1.2L2.9 1.6L4.7 1.7L5.9 1.4M34.3 4.6L35.9 5.3L36.5 6.3M19.3 9.3L20.5 10.6L21.2 11.8M10.0 33.0L11.3 34.1L13.1 34.4L14.2 33.8M-0.2 17.1L-2.2 17.4L-4.0 17.5M28.1 9.0L28.3 10.1L28.7 11.3M4.6 27.3L4.2 28.6L3.9 30.1M25.6 -0.5L26.2 0.4L26.8 1.5M27.1 7.9L28.3 9.3M17.5 29.1L15.8 30.2L15.3 31.5L13.9 32.6M19.9 1.0L19.4 2.6M29.7 20.2L28.4 19.7L27.0 19.2M4.3 8.0L4.0 9.3" stroke="#d8d8d8" stroke-width="0.6"/><path d="M18.5 4.2L20.1 4.1L21.1 4.6L21.7 5.9M20.1 31.6L21.2 32.5L21.9 33.3L23.1 33.9M7.8 20.8L6.7 20.4M6.9 3.1L6.4 4.6L6.4 5.6M32.2 16.8L32.3 18.8L32.0 20.1L31.1 21.8M19.1 16.0L19.3 17.0M11.2 21.4L10.3 22.8L9.7 24.4M6.5 26.2L7.8 27.8L8.7 28.7L9.9 30.3M0.6 34.5L-0.4 35.9L-1.2 37.7M17.5 3.4L18.2 5.1M30.6 9.4L29.0 9.5L27.6 9.7M9.8 2.1L9.1 3.0L7.4 4.1M21.5 4.6L20.3 4.9L19.3 4.8L17.8 5.7M13.0 30.0L11.9 30.6M22.4 9.2L21.3 10.9L19.9 12.0L18.8 12.4M24.9 16.2L23.3 17.1L22.3 18.4M34.2 24.3L34.1 25.7L33.8 26.5M32.9 25.4L32.8 26.6L33.6 28.0M8.6 36.1L7.6 37.3L6.3 38.6L5.4 39.2M12.0 22.4L12.9 23.5L13.7 24.5L14.1 25.4M26.7 6.9L27.3 7.9L28.1 9.6M7.0 21.3L6.6 22.9L5.0 23.9M11.8 7.2L11.2 9.0L9.7 10.1M13.9 25.7L15.3 27.0M23.8 6.1L24.6 7.8L24.3 9.7M31.4 18.2L29.9 19.0M9.1 3.7L8.1 4.5L6.2 4.7M29.0 19.9L29.1 21.7L28.0 23.4M5.2 35.2L5.8 36.9L6.5 38.6M30.3 29.5L29.5 29.1L28.6 28.5M14.5 7.0L12.6 7.5L11.3 8.8L10.8 9.8M7.0 -0.7L6.1 1.1L5.7 2.2M28.6 35.0L29.8 34.4M18.0 27.0L17.1 27.8M18.4 18.9L17.6 20.2M-0.7 19.2L-1.3 20.3M22.4 25.5L21.4 26.0L19.9 27.3M24.5 20.7L24.7 21.6M4.8 28.1L6.0 28.9L7.5 30.3M15.9 35.7L16.2 37.5L15.9 39.4L15.7 40.9M2.7 12.9L1.5 14.3L-0.4 15.0L-1.7 15.2M1.9 1.9L3.1 2.3L4.9 2.4L6.1 2.1M10.3 33.7L11.6 34.8L13.4 35.0L14.5 34.5M27.4 9.2L27.6 10.3L28.0 11.5M3.9 27.2L3.5 28.5L3.2 30.0M24.9 -0.1L25.5 0.8L26.1 1.9M19.2 0.8L18.7 2.4" stroke="#7c7c7c" stroke-width="0.75"/><path d="M33.0 36.9L32.4 38.0M17.9 28.4L18.6 29.0M23.2 23.8L21.3 23.8L20.3 23.1M20.4 2.3L20.0 3.4L19.5 4.3M19.0 34.8L19.4 35.7L19.6 37.4M1.1 15.6L3.0 16.3L4.5 17.7M26.6 12.8L25.6 12.9L24.2 13.6L22.8 13.7M7.7 21.4L7.0 22.5L6.6 23.3L5.1 24.3M18.4 10.9L17.6 11.5M12.9 -0.3L13.4 0.9L14.2 1.9L14.2 3.2M9.1 13.5L10.7 13.5M11.0 4.4L12.4 4.2L14.0 3.6M23.4 20.3L24.8 21.3L25.3 22.8M26.9 20.4L27.7 20.9L28.6 22.0L30.5 22.8M8.1 11.6L6.9 12.4L5.8 13.4L5.6 15.4M28.9 6.3L28.9 7.7L29.9 9.3M4.3 38.4L3.5 39.0L3.1 40.5L3.6 42.1M3.3 -0.3L3.2 0.8L3.4 2.9M1.3 30.2L2.3 31.1M3.1 32.1L3.7 32.8M6.7 31.2L5.8 32.9L5.2 33.7M3.2 16.2L4.4 17.6L5.5 18.0L7.5 18.3M1.6 13.9L2.6 13.9M-0.1 33.3L-0.7 35.0L-1.8 36.3M33.8 24.3L32.9 24.7L31.7 25.7M17.1 11.9L16.2 13.1L14.9 14.5L14.7 15.9M20.8 28.4L21.7 28.1L23.5 27.3M29.3 20.6L29.4 21.6M32.6 32.9L32.8 34.0L32.5 35.7M31.3 22.1L32.9 22.9L33.7 23.8L34.3 24.7M27.4 4.3L29.4 3.8L31.2 4.5M11.2 36.2L11.2 37.2L10.3 38.9M1.7 12.1L0.5 13.6L0.2 14.6L-0.2 15.7M18.3 33.7L18.8 34.7L18.9 35.6M33.8 7.2L34.5 8.0L34.7 9.8M-0.4 21.7L0.2 22.6L1.9 23.3M33.7 5.0L35.3 5.7L35.9 6.7M18.7 9.7L19.9 11.0L20.6 12.2M-0.2 16.3L-2.2 16.6L-4.1 16.7M26.5 8.4L27.7 9.8M17.0 28.5L15.3 29.6L14.8 30.9L13.5 32.0M29.9 19.5L28.7 19.0L27.2 18.5M3.6 7.9L3.3 9.2" stroke="#959595" stroke-width="0.7"/><path d="M33.4 30.5h.1M22.7 20.4h.1M17.7 7.9h.1M3.5 31.3h.1M17.0 22.1h.1M21.2 8.4h.1M0.3 37.9h.1M24.7 17.8h.1M11.1 32.9h.1M10.6 9.1h.1M11.0 33.9h.1M25.0 21.8h.1M8.4 19.3h.1M18.5 12.9h.1M30.8 33.0h.1M5.8 7.2h.1M24.0 15.7h.1M17.6 21.9h.1M26.4 18.5h.1M9.1 4.2h.1M22.2 0.6h.1M31.7 28.6h.1M10.3 24.6h.1M3.2 16.3h.1M9.9 33.1h.1M17.4 37.3h.1M29.9 20.8h.1M4.6 28.5h.1M33.6 35.6h.1M16.1 0.1h.1M6.2 20.6h.1M30.0 34.2h.1M9.2 31.4h.1M30.0 4.4h.1M26.7 6.2h.1M21.3 10.0h.1M16.7 4.2h.1M10.0 32.6h.1M24.9 5.2h.1M27.1 13.1h.1M7.1 3.7h.1M20.2 13.6h.1M25.5 26.2h.1M29.9 3.3h.1M14.9 25.8h.1M8.5 28.7h.1" stroke="#cacaca" stroke-width="0.8"/><path d="M0.5 4.6h.1M27.7 25.7h.1M29.3 4.9h.1M28.9 11.2h.1M28.9 12.9h.1M6.3 3.9h.1M9.2 37.5h.1M33.4 25.9h.1M19.1 17.1h.1M1.6 3.1h.1M10.9 21.5h.1M12.4 37.4h.1M0.1 22.3h.1M27.2 2.7h.1M2.2 8.8h.1M34.6 37.1h.1M29.7 15.2h.1M16.0 2.1h.1M3.6 5.7h.1M28.2 33.6h.1M26.4 9.7h.1M27.4 15.5h.1M21.3 1.5h.1M7.6 31.2h.1M5.9 32.7h.1M27.3 4.5h.1M12.1 15.1h.1M25.4 12.2h.1M20.7 13.2h.1M25.2 8.2h.1M0.5 28.2h.1M17.9 22.8h.1M32.8 18.6h.1M2.9 27.7h.1M32.3 22.4h.1M2.8 0.3h.1M4.0 17.9h.1M13.2 14.2h.1M20.6 8.8h.1M0.0 13.7h.1M0.4 26.7h.1M0.3 20.6h.1M15.1 6.0h.1M15.1 9.4h.1M10.6 3.3h.1M28.3 3.8h.1M26.7 22.3h.1M24.9 23.1h.1" stroke="#a4a4a4" stroke-width="0.8"/><path d="M32.5 33.4h.1M28.3 23.3h.1M11.3 1.2h.1M24.5 27.7h.1M2.9 20.2h.1M0.9 22.1h.1M23.9 22.7h.1M21.2 36.7h.1M5.3 29.5h.1M7.6 17.7h.1M2.3 34.2h.1M0.5 7.5h.1M23.6 19.2h.1M1.5 5.2h.1M11.5 5.7h.1M24.8 34.3h.1M31.6 30.3h.1M29.1 24.5h.1M22.4 27.8h.1M27.7 11.5h.1M7.5 5.6h.1M27.2 12.5h.1M9.6 20.6h.1M14.9 13.0h.1M7.4 32.5h.1M25.4 36.0h.1M30.1 19.5h.1M17.1 11.0h.1M16.9 14.7h.1M22.6 20.3h.1M11.4 22.3h.1M29.9 31.3h.1M24.8 14.9h.1M10.1 36.9h.1M15.0 16.0h.1M33.0 1.0h.1M0.1 31.9h.1M30.0 26.5h.1M0.9 23.1h.1" stroke="#6a6a6a" stroke-width="1.1"/></g><line x1="1.0" y1="36.5" x2="6.5" y2="36.5" stroke="#222" stroke-width="0.7"/></svg></g>
<text x="407.20" y="134.00" text-anchor="start" fill="#000" style="font-size:12.8px;font-weight:bold;">I</text>
<text x="462.80" y="135.30" text-anchor="middle" fill="#000" stroke="#000" stroke-width="0.18" style="font-size:5.2px;font-weight:bold;">Cell viability</text>
<line x1="422.50" y1="151.50" x2="422.50" y2="206.60" stroke="#111" stroke-width="0.8"/>
<line x1="421.30" y1="206.60" x2="422.50" y2="206.60" stroke="#111" stroke-width="0.8"/>
<text x="420.70" y="207.89" text-anchor="end" fill="#000" stroke="#000" stroke-width="0.18" style="font-size:3.7px;font-weight:bold;">0</text>
<line x1="421.30" y1="188.30" x2="422.50" y2="188.30" stroke="#111" stroke-width="0.8"/>
<text x="420.70" y="189.59" text-anchor="end" fill="#000" stroke="#000" stroke-width="0.18" style="font-size:3.7px;font-weight:bold;">50</text>
<line x1="421.30" y1="170.00" x2="422.50" y2="170.00" stroke="#111" stroke-width="0.8"/>
<text x="420.70" y="171.29" text-anchor="end" fill="#000" stroke="#000" stroke-width="0.18" style="font-size:3.7px;font-weight:bold;">100</text>
<line x1="421.30" y1="151.70" x2="422.50" y2="151.70" stroke="#111" stroke-width="0.8"/>
<text x="420.70" y="152.99" text-anchor="end" fill="#000" stroke="#000" stroke-width="0.18" style="font-size:3.7px;font-weight:bold;">150</text>
<line x1="422.50" y1="206.60" x2="506.00" y2="206.60" stroke="#111" stroke-width="0.8"/>
<rect x="424.20" y="168.17" width="3.70" height="38.43" fill="#d6d6d6" stroke="#333" stroke-width="0.5"/>
<line x1="426.05" y1="166.17" x2="426.05" y2="170.17" stroke="#111" stroke-width="0.5"/>
<line x1="425.03" y1="166.17" x2="427.07" y2="166.17" stroke="#111" stroke-width="0.5"/>
<circle cx="425.15" cy="166.97" r="0.55" fill="#222"/>
<circle cx="426.05" cy="169.57" r="0.55" fill="#222"/>
<circle cx="426.95" cy="167.77" r="0.55" fill="#222"/>
<rect x="430.15" y="174.39" width="3.70" height="32.21" fill="#f4a3a6" stroke="#a04050" stroke-width="0.5"/>
<line x1="432.00" y1="173.39" x2="432.00" y2="175.39" stroke="#111" stroke-width="0.5"/>
<line x1="430.98" y1="173.39" x2="433.02" y2="173.39" stroke="#111" stroke-width="0.5"/>
<circle cx="431.10" cy="173.67" r="0.55" fill="#222"/>
<circle cx="432.00" cy="175.23" r="0.55" fill="#222"/>
<circle cx="432.90" cy="174.15" r="0.55" fill="#222"/>
<rect x="436.10" y="163.41" width="3.70" height="43.19" fill="#e0283a" stroke="#801020" stroke-width="0.5"/>
<line x1="437.95" y1="159.41" x2="437.95" y2="167.41" stroke="#111" stroke-width="0.5"/>
<line x1="436.93" y1="159.41" x2="438.97" y2="159.41" stroke="#111" stroke-width="0.5"/>
<circle cx="437.05" cy="161.01" r="0.55" fill="#222"/>
<circle cx="437.95" cy="166.21" r="0.55" fill="#222"/>
<circle cx="438.85" cy="162.61" r="0.55" fill="#222"/>
<rect x="442.05" y="165.61" width="3.70" height="40.99" fill="#1a9a5a" stroke="#0a5030" stroke-width="0.5"/>
<line x1="443.90" y1="162.61" x2="443.90" y2="168.61" stroke="#111" stroke-width="0.5"/>
<line x1="442.88" y1="162.61" x2="444.92" y2="162.61" stroke="#111" stroke-width="0.5"/>
<circle cx="443.00" cy="163.81" r="0.55" fill="#222"/>
<circle cx="443.90" cy="167.71" r="0.55" fill="#222"/>
<circle cx="444.80" cy="165.01" r="0.55" fill="#222"/>
<rect x="452.00" y="190.13" width="3.70" height="16.47" fill="#d6d6d6" stroke="#333" stroke-width="0.5"/>
<line x1="453.85" y1="189.13" x2="453.85" y2="191.13" stroke="#111" stroke-width="0.5"/>
<line x1="452.83" y1="189.13" x2="454.87" y2="189.13" stroke="#111" stroke-width="0.5"/>
<circle cx="452.95" cy="189.41" r="0.55" fill="#222"/>
<circle cx="453.85" cy="190.97" r="0.55" fill="#222"/>
<circle cx="454.75" cy="189.89" r="0.55" fill="#222"/>
<rect x="457.95" y="182.44" width="3.70" height="24.16" fill="#f4a3a6" stroke="#a04050" stroke-width="0.5"/>
<line x1="459.80" y1="180.44" x2="459.80" y2="184.44" stroke="#111" stroke-width="0.5"/>
<line x1="458.78" y1="180.44" x2="460.82" y2="180.44" stroke="#111" stroke-width="0.5"/>
<circle cx="458.90" cy="181.24" r="0.55" fill="#222"/>
<circle cx="459.80" cy="183.84" r="0.55" fill="#222"/>
<circle cx="460.70" cy="182.04" r="0.55" fill="#222"/>
<rect x="463.90" y="189.40" width="3.70" height="17.20" fill="#e0283a" stroke="#801020" stroke-width="0.5"/>
<line x1="465.75" y1="187.40" x2="465.75" y2="191.40" stroke="#111" stroke-width="0.5"/>
<line x1="464.73" y1="187.40" x2="466.77" y2="187.40" stroke="#111" stroke-width="0.5"/>
<circle cx="464.85" cy="188.20" r="0.55" fill="#222"/>
<circle cx="465.75" cy="190.80" r="0.55" fill="#222"/>
<circle cx="466.65" cy="189.00" r="0.55" fill="#222"/>
<rect x="469.85" y="188.67" width="3.70" height="17.93" fill="#1a9a5a" stroke="#0a5030" stroke-width="0.5"/>
<line x1="471.70" y1="187.67" x2="471.70" y2="189.67" stroke="#111" stroke-width="0.5"/>
<line x1="470.68" y1="187.67" x2="472.72" y2="187.67" stroke="#111" stroke-width="0.5"/>
<circle cx="470.80" cy="187.95" r="0.55" fill="#222"/>
<circle cx="471.70" cy="189.51" r="0.55" fill="#222"/>
<circle cx="472.60" cy="188.43" r="0.55" fill="#222"/>
<rect x="479.80" y="171.46" width="3.70" height="35.14" fill="#d6d6d6" stroke="#333" stroke-width="0.5"/>
<line x1="481.65" y1="166.46" x2="481.65" y2="176.46" stroke="#111" stroke-width="0.5"/>
<line x1="480.63" y1="166.46" x2="482.67" y2="166.46" stroke="#111" stroke-width="0.5"/>
<circle cx="480.75" cy="168.46" r="0.55" fill="#222"/>
<circle cx="481.65" cy="174.96" r="0.55" fill="#222"/>
<circle cx="482.55" cy="170.46" r="0.55" fill="#222"/>
<rect x="485.75" y="175.49" width="3.70" height="31.11" fill="#f4a3a6" stroke="#a04050" stroke-width="0.5"/>
<line x1="487.60" y1="172.49" x2="487.60" y2="178.49" stroke="#111" stroke-width="0.5"/>
<line x1="486.58" y1="172.49" x2="488.62" y2="172.49" stroke="#111" stroke-width="0.5"/>
<circle cx="486.70" cy="173.69" r="0.55" fill="#222"/>
<circle cx="487.60" cy="177.59" r="0.55" fill="#222"/>
<circle cx="488.50" cy="174.89" r="0.55" fill="#222"/>
<rect x="491.70" y="166.34" width="3.70" height="40.26" fill="#e0283a" stroke="#801020" stroke-width="0.5"/>
<line x1="493.55" y1="161.34" x2="493.55" y2="171.34" stroke="#111" stroke-width="0.5"/>
<line x1="492.53" y1="161.34" x2="494.57" y2="161.34" stroke="#111" stroke-width="0.5"/>
<circle cx="492.65" cy="163.34" r="0.55" fill="#222"/>
<circle cx="493.55" cy="169.84" r="0.55" fill="#222"/>
<circle cx="494.45" cy="165.34" r="0.55" fill="#222"/>
<rect x="497.65" y="174.76" width="3.70" height="31.84" fill="#1a9a5a" stroke="#0a5030" stroke-width="0.5"/>
<line x1="499.50" y1="171.76" x2="499.50" y2="177.76" stroke="#111" stroke-width="0.5"/>
<line x1="498.48" y1="171.76" x2="500.52" y2="171.76" stroke="#111" stroke-width="0.5"/>
<circle cx="498.60" cy="172.96" r="0.55" fill="#222"/>
<circle cx="499.50" cy="176.86" r="0.55" fill="#222"/>
<circle cx="500.40" cy="174.16" r="0.55" fill="#222"/>
<polyline points="426.00,168.00 426.00,142.60 431.00,142.60 431.00,174.00" fill="none" stroke="#333" stroke-width="0.55"/>
<polyline points="432.00,174.00 432.00,142.60 443.60,142.60 443.60,164.00" fill="none" stroke="#333" stroke-width="0.55"/>
<polyline points="434.60,168.00 434.60,147.80 438.40,147.80 438.40,160.00" fill="none" stroke="#333" stroke-width="0.55"/>
<rect x="430.90" y="143.50" width="1.90" height="30.50" fill="#a0a0a0"/>
<text x="428.60" y="141.90" text-anchor="middle" fill="#000" stroke="#000" stroke-width="0.18" style="font-size:4.6px;font-weight:bold;">*</text>
<text x="437.70" y="141.90" text-anchor="middle" fill="#000" stroke="#000" stroke-width="0.18" style="font-size:4.6px;font-weight:bold;">*</text>
<text x="436.50" y="147.30" text-anchor="middle" fill="#000" stroke="#000" stroke-width="0.18" style="font-size:4.6px;font-weight:bold;">*</text>
<text x="437.90" y="157.00" text-anchor="middle" fill="#000" stroke="#000" stroke-width="0.18" style="font-size:4.0px;font-weight:bold;">*</text>
<polyline points="453.90,189.00 453.90,166.00 459.00,166.00 459.00,182.00" fill="none" stroke="#333" stroke-width="0.55"/>
<polyline points="460.80,182.00 460.80,166.00 471.70,166.00 471.70,188.00" fill="none" stroke="#333" stroke-width="0.55"/>
<polyline points="461.40,182.00 461.40,170.80 466.00,170.80 466.00,188.00" fill="none" stroke="#333" stroke-width="0.55"/>
<rect x="458.60" y="167.00" width="2.00" height="15.00" fill="#a8a8a8"/>
<text x="456.40" y="165.30" text-anchor="middle" fill="#000" stroke="#000" stroke-width="0.18" style="font-size:4.6px;font-weight:bold;">*</text>
<text x="466.20" y="165.30" text-anchor="middle" fill="#000" stroke="#000" stroke-width="0.18" style="font-size:4.6px;font-weight:bold;">*</text>
<text x="463.70" y="170.30" text-anchor="middle" fill="#000" stroke="#000" stroke-width="0.18" style="font-size:4.6px;font-weight:bold;">*</text>
<text x="435.00" y="211.70" text-anchor="middle" fill="#000" stroke="#000" stroke-width="0.18" style="font-size:4.0px;font-weight:bold;">DMSO</text>
<text x="462.00" y="211.70" text-anchor="middle" fill="#000" stroke="#000" stroke-width="0.18" style="font-size:4.0px;font-weight:bold;">Erastin</text>
<text x="491.40" y="211.70" text-anchor="middle" fill="#000" stroke="#000" stroke-width="0.18" style="font-size:4.0px;font-weight:bold;">Erastin with Fer-1</text>
<line x1="422.50" y1="213.60" x2="505.60" y2="213.60" stroke="#111" stroke-width="0.7"/>
<text x="463.40" y="219.60" text-anchor="middle" fill="#000" stroke="#000" stroke-width="0.18" style="font-size:4.2px;font-weight:bold;">SKHep1 WT</text>
<text x="411.00" y="178.00" text-anchor="middle" fill="#000" stroke="#000" stroke-width="0.18" style="font-size:4.4px;font-weight:bold;" transform="rotate(-90 411 178)">Cell viability (%)</text>
<rect x="466.20" y="138.60" width="7.40" height="2.80" fill="#d6d6d6" stroke="#222" stroke-width="0.4"/>
<text x="475.00" y="141.40" text-anchor="start" fill="#000" stroke="#000" stroke-width="0.18" style="font-size:4.2px;font-weight:bold;">siLuci</text>
<rect x="466.20" y="142.80" width="7.40" height="2.80" fill="#f4a3a6" stroke="#222" stroke-width="0.4"/>
<text x="475.00" y="145.60" text-anchor="start" fill="#000" stroke="#000" stroke-width="0.18" style="font-size:4.2px;font-weight:bold;">siGLS2</text>
<rect x="466.20" y="147.00" width="7.40" height="2.80" fill="#e0283a" stroke="#222" stroke-width="0.4"/>
<text x="475.00" y="149.80" text-anchor="start" fill="#000" stroke="#000" stroke-width="0.18" style="font-size:4.2px;font-weight:bold;">siGLS2 + αKG</text>
<rect x="466.20" y="151.20" width="7.40" height="2.80" fill="#1a9a5a" stroke="#222" stroke-width="0.4"/>
<text x="475.00" y="154.00" text-anchor="start" fill="#000" stroke="#000" stroke-width="0.18" style="font-size:4.2px;font-weight:bold;">siGLS2 + Glu</text>
<text x="2.70" y="245.20" text-anchor="start" fill="#000" style="font-size:12.8px;font-weight:bold;">J</text>
<text x="54.20" y="251.30" text-anchor="middle" fill="#000" stroke="#000" stroke-width="0.18" style="font-size:5.2px;font-weight:bold;">Cell viability</text>
<line x1="14.60" y1="267.00" x2="14.60" y2="322.20" stroke="#111" stroke-width="0.8"/>
<line x1="13.40" y1="322.20" x2="14.60" y2="322.20" stroke="#111" stroke-width="0.8"/>
<text x="12.80" y="323.39" text-anchor="end" fill="#000" stroke="#000" stroke-width="0.18" style="font-size:3.4px;font-weight:bold;">0</text>
<line x1="13.40" y1="313.30" x2="14.60" y2="313.30" stroke="#111" stroke-width="0.8"/>
<text x="12.80" y="314.49" text-anchor="end" fill="#000" stroke="#000" stroke-width="0.18" style="font-size:3.4px;font-weight:bold;">20</text>
<line x1="13.40" y1="304.40" x2="14.60" y2="304.40" stroke="#111" stroke-width="0.8"/>
<text x="12.80" y="305.59" text-anchor="end" fill="#000" stroke="#000" stroke-width="0.18" style="font-size:3.4px;font-weight:bold;">40</text>
<line x1="13.40" y1="295.50" x2="14.60" y2="295.50" stroke="#111" stroke-width="0.8"/>
<text x="12.80" y="296.69" text-anchor="end" fill="#000" stroke="#000" stroke-width="0.18" style="font-size:3.4px;font-weight:bold;">60</text>
<line x1="13.40" y1="286.60" x2="14.60" y2="286.60" stroke="#111" stroke-width="0.8"/>
<text x="12.80" y="287.79" text-anchor="end" fill="#000" stroke="#000" stroke-width="0.18" style="font-size:3.4px;font-weight:bold;">80</text>
<line x1="13.40" y1="277.70" x2="14.60" y2="277.70" stroke="#111" stroke-width="0.8"/>
<text x="12.80" y="278.89" text-anchor="end" fill="#000" stroke="#000" stroke-width="0.18" style="font-size:3.4px;font-weight:bold;">100</text>
<line x1="13.40" y1="268.80" x2="14.60" y2="268.80" stroke="#111" stroke-width="0.8"/>
<text x="12.80" y="269.99" text-anchor="end" fill="#000" stroke="#000" stroke-width="0.18" style="font-size:3.4px;font-weight:bold;">120</text>
<line x1="14.60" y1="322.20" x2="93.00" y2="322.20" stroke="#111" stroke-width="0.8"/>
<rect x="17.60" y="279.03" width="5.30" height="43.16" fill="#d6d6d6" stroke="#333" stroke-width="0.5"/>
<line x1="20.25" y1="277.03" x2="20.25" y2="281.03" stroke="#111" stroke-width="0.5"/>
<line x1="18.79" y1="277.03" x2="21.71" y2="277.03" stroke="#111" stroke-width="0.5"/>
<circle cx="19.35" cy="277.83" r="0.55" fill="#222"/>
<circle cx="20.25" cy="280.43" r="0.55" fill="#222"/>
<circle cx="21.15" cy="278.63" r="0.55" fill="#222"/>
<rect x="26.50" y="288.82" width="5.30" height="33.38" fill="#f4a3a6" stroke="#a04050" stroke-width="0.5"/>
<line x1="29.15" y1="287.32" x2="29.15" y2="290.32" stroke="#111" stroke-width="0.5"/>
<line x1="27.69" y1="287.32" x2="30.61" y2="287.32" stroke="#111" stroke-width="0.5"/>
<circle cx="28.25" cy="287.93" r="0.55" fill="#222"/>
<circle cx="29.15" cy="289.88" r="0.55" fill="#222"/>
<circle cx="30.05" cy="288.52" r="0.55" fill="#222"/>
<rect x="35.40" y="274.14" width="5.30" height="48.06" fill="#e0283a" stroke="#801020" stroke-width="0.5"/>
<line x1="38.05" y1="272.14" x2="38.05" y2="276.14" stroke="#111" stroke-width="0.5"/>
<line x1="36.59" y1="272.14" x2="39.51" y2="272.14" stroke="#111" stroke-width="0.5"/>
<circle cx="37.15" cy="272.94" r="0.55" fill="#222"/>
<circle cx="38.05" cy="275.54" r="0.55" fill="#222"/>
<circle cx="38.95" cy="273.74" r="0.55" fill="#222"/>
<rect x="44.30" y="275.03" width="5.30" height="47.17" fill="#1a9a5a" stroke="#0a5030" stroke-width="0.5"/>
<line x1="46.95" y1="273.53" x2="46.95" y2="276.53" stroke="#111" stroke-width="0.5"/>
<line x1="45.49" y1="273.53" x2="48.41" y2="273.53" stroke="#111" stroke-width="0.5"/>
<circle cx="46.05" cy="274.13" r="0.55" fill="#222"/>
<circle cx="46.95" cy="276.08" r="0.55" fill="#222"/>
<circle cx="47.85" cy="274.73" r="0.55" fill="#222"/>
<rect x="59.00" y="314.19" width="5.30" height="8.01" fill="#d6d6d6" stroke="#333" stroke-width="0.5"/>
<line x1="61.65" y1="313.19" x2="61.65" y2="315.19" stroke="#111" stroke-width="0.5"/>
<line x1="60.19" y1="313.19" x2="63.11" y2="313.19" stroke="#111" stroke-width="0.5"/>
<circle cx="60.75" cy="313.47" r="0.55" fill="#222"/>
<circle cx="61.65" cy="315.03" r="0.55" fill="#222"/>
<circle cx="62.55" cy="313.95" r="0.55" fill="#222"/>
<rect x="67.90" y="303.06" width="5.30" height="19.14" fill="#f4a3a6" stroke="#a04050" stroke-width="0.5"/>
<line x1="70.55" y1="301.06" x2="70.55" y2="305.06" stroke="#111" stroke-width="0.5"/>
<line x1="69.09" y1="301.06" x2="72.01" y2="301.06" stroke="#111" stroke-width="0.5"/>
<circle cx="69.65" cy="301.87" r="0.55" fill="#222"/>
<circle cx="70.55" cy="304.46" r="0.55" fill="#222"/>
<circle cx="71.45" cy="302.67" r="0.55" fill="#222"/>
<rect x="76.80" y="316.41" width="5.30" height="5.79" fill="#e0283a" stroke="#801020" stroke-width="0.5"/>
<line x1="79.45" y1="315.41" x2="79.45" y2="317.41" stroke="#111" stroke-width="0.5"/>
<line x1="77.99" y1="315.41" x2="80.91" y2="315.41" stroke="#111" stroke-width="0.5"/>
<circle cx="78.55" cy="315.69" r="0.55" fill="#222"/>
<circle cx="79.45" cy="317.25" r="0.55" fill="#222"/>
<circle cx="80.35" cy="316.17" r="0.55" fill="#222"/>
<rect x="85.70" y="314.19" width="5.30" height="8.01" fill="#1a9a5a" stroke="#0a5030" stroke-width="0.5"/>
<line x1="88.35" y1="313.19" x2="88.35" y2="315.19" stroke="#111" stroke-width="0.5"/>
<line x1="86.89" y1="313.19" x2="89.81" y2="313.19" stroke="#111" stroke-width="0.5"/>
<circle cx="87.45" cy="313.47" r="0.55" fill="#222"/>
<circle cx="88.35" cy="315.03" r="0.55" fill="#222"/>
<circle cx="89.25" cy="313.95" r="0.55" fill="#222"/>
<polyline points="20.20,274.00 20.20,257.50 28.80,257.50 28.80,286.00" fill="none" stroke="#333" stroke-width="0.55"/>
<polyline points="29.40,286.00 29.40,257.50 47.00,257.50 47.00,273.00" fill="none" stroke="#333" stroke-width="0.55"/>
<polyline points="29.80,286.00 29.80,262.50 38.00,262.50 38.00,271.00" fill="none" stroke="#333" stroke-width="0.55"/>
<text x="24.50" y="257.20" text-anchor="middle" fill="#000" stroke="#000" stroke-width="0.18" style="font-size:4.3px;font-weight:bold;">**</text>
<text x="38.20" y="257.20" text-anchor="middle" fill="#000" stroke="#000" stroke-width="0.18" style="font-size:4.3px;font-weight:bold;">**</text>
<text x="33.90" y="262.20" text-anchor="middle" fill="#000" stroke="#000" stroke-width="0.18" style="font-size:4.3px;font-weight:bold;">**</text>
<polyline points="61.50,312.00 61.50,289.50 70.30,289.50 70.30,300.00" fill="none" stroke="#333" stroke-width="0.55"/>
<polyline points="70.90,300.00 70.90,289.50 88.00,289.50 88.00,311.00" fill="none" stroke="#333" stroke-width="0.55"/>
<polyline points="71.30,300.00 71.30,295.00 79.20,295.00 79.20,314.00" fill="none" stroke="#333" stroke-width="0.55"/>
<text x="66.00" y="289.20" text-anchor="middle" fill="#000" stroke="#000" stroke-width="0.18" style="font-size:4.3px;font-weight:bold;">**</text>
<text x="79.50" y="289.20" text-anchor="middle" fill="#000" stroke="#000" stroke-width="0.18" style="font-size:4.3px;font-weight:bold;">**</text>
<text x="75.20" y="294.70" text-anchor="middle" fill="#000" stroke="#000" stroke-width="0.18" style="font-size:4.3px;font-weight:bold;">**</text>
<text x="70.40" y="300.00" text-anchor="middle" fill="#000" stroke="#000" stroke-width="0.18" style="font-size:3.6px;font-weight:bold;">**</text>
<text x="33.30" y="327.00" text-anchor="middle" fill="#000" stroke="#000" stroke-width="0.18" style="font-size:4.4px;font-weight:bold;">DMSO</text>
<text x="74.60" y="327.00" text-anchor="middle" fill="#000" stroke="#000" stroke-width="0.18" style="font-size:4.4px;font-weight:bold;">Erastin</text>
<line x1="15.90" y1="328.20" x2="93.00" y2="328.20" stroke="#111" stroke-width="0.8"/>
<text x="54.50" y="333.40" text-anchor="middle" fill="#000" stroke="#000" stroke-width="0.18" style="font-size:4.2px;font-weight:bold;">HepG2</text>
<text x="3.80" y="295.00" text-anchor="middle" fill="#000" stroke="#000" stroke-width="0.18" style="font-size:4.2px;font-weight:bold;" transform="rotate(-90 3.8 295)">Cell viability (%)</text>
<rect x="57.60" y="255.30" width="5.00" height="2.80" fill="#d6d6d6" stroke="#222" stroke-width="0.4"/>
<text x="64.20" y="258.10" text-anchor="start" fill="#000" stroke="#000" stroke-width="0.18" style="font-size:4.2px;font-weight:bold;">siLuci</text>
<rect x="57.60" y="259.50" width="5.00" height="2.80" fill="#f4a3a6" stroke="#222" stroke-width="0.4"/>
<text x="64.20" y="262.30" text-anchor="start" fill="#000" stroke="#000" stroke-width="0.18" style="font-size:4.2px;font-weight:bold;">siGLS2</text>
<rect x="57.60" y="263.70" width="5.00" height="2.80" fill="#e0283a" stroke="#222" stroke-width="0.4"/>
<text x="64.20" y="266.50" text-anchor="start" fill="#000" stroke="#000" stroke-width="0.18" style="font-size:4.2px;font-weight:bold;">siGLS2 + αKG</text>
<rect x="57.60" y="267.90" width="5.00" height="2.80" fill="#1a9a5a" stroke="#222" stroke-width="0.4"/>
<text x="64.20" y="270.70" text-anchor="start" fill="#000" stroke="#000" stroke-width="0.18" style="font-size:4.2px;font-weight:bold;">siGLS2 + Glu</text>
<text x="83.50" y="244.80" text-anchor="start" fill="#000" style="font-size:12.8px;font-weight:bold;">K</text>
<text x="153.70" y="243.80" text-anchor="middle" fill="#000" stroke="#000" stroke-width="0.18" style="font-size:3.8px;font-weight:bold;">DMSO</text>
<line x1="100.00" y1="245.60" x2="207.00" y2="245.60" stroke="#111" stroke-width="0.8"/>
<text x="117.75" y="249.80" text-anchor="middle" fill="#000" stroke="#000" stroke-width="0.18" style="font-size:3.6px;font-weight:bold;">Mock</text>
<g><rect x="100.50" y="251.30" width="34.50" height="33.30" fill="#b4b4b4"/><svg x="100.50" y="251.30" width="34.50" height="33.30" overflow="hidden"><g filter="url(#blur03)" stroke-linecap="round" stroke-linejoin="round" fill="none"><path d="M15.7 29.2L17.3 29.8L19.1 29.6M30.9 13.8L31.9 13.3L33.8 12.8M5.7 19.6L7.2 19.4L9.0 20.1M14.6 0.9L14.0 1.7L13.8 3.0M16.4 34.4L15.0 34.9L14.2 35.8M2.9 20.2L3.8 20.5L5.0 22.1M22.4 15.0L22.0 15.8L22.0 17.2M3.3 24.3L4.6 25.0M32.8 14.6L32.2 15.8L32.1 16.8M5.7 7.5L6.1 8.6M23.7 33.4L25.2 33.9L27.0 34.3M23.1 5.1L22.4 6.3M11.3 24.8L11.1 26.0L10.3 27.4M20.8 -0.2L22.2 0.5M10.8 7.8L11.6 8.2L12.3 9.3M11.9 19.8L12.3 21.2L13.3 22.3M9.4 24.6L11.2 25.6L11.9 26.9L12.2 28.7M6.6 28.9L5.4 29.6L4.4 30.1M-0.1 4.6L-0.5 6.2L-0.5 7.8M-0.1 32.8L-1.1 33.7L-2.5 34.8M15.0 2.9L13.9 3.4L13.1 4.0M20.5 1.0L21.7 2.0M27.3 17.6L26.6 19.0L26.4 20.1M17.9 25.7L18.0 26.7L18.2 27.7M25.1 21.5L25.6 22.5L26.4 23.7M2.4 -0.9L3.1 0.3L3.6 1.3M20.5 29.6L19.3 30.8L19.0 31.9M26.6 12.2L27.0 13.2L27.0 14.7M15.6 12.5L13.8 13.5L12.5 13.9L11.4 13.9M15.5 5.9L14.0 7.1L12.8 8.0M36.1 5.0L36.4 6.9M5.1 21.1L6.4 21.0L8.0 19.7M26.4 15.2L25.8 16.1L24.6 16.5M31.0 18.7L30.6 19.9L30.3 21.0M1.7 17.4L0.5 18.1L-0.2 19.9L-0.5 21.1M10.6 18.2L9.8 20.0L9.1 21.4M7.6 0.8L8.3 2.6L8.9 4.6M21.8 17.3L23.2 17.2M20.4 17.3L19.5 18.0L18.2 18.8L16.8 19.4M17.7 25.6L16.9 26.6L16.2 27.7L16.1 29.8M26.2 1.5L27.5 2.9L28.3 4.3L28.3 5.7M14.4 -0.4L12.8 -1.0L10.7 -1.1L9.1 0.1M17.9 3.1L18.7 4.2L19.6 5.0M28.6 15.2L29.5 16.5L30.3 17.9M29.9 5.0L29.5 6.4L29.4 7.8L28.7 9.3M25.7 17.8L24.5 18.9L23.3 19.9M16.5 3.9L16.5 5.1L16.3 6.4M17.5 28.7L18.5 29.6M27.6 32.8L26.2 33.0L24.5 33.6M29.9 32.3L31.3 31.6M19.9 3.4L19.3 4.2M14.0 20.5L12.7 20.9L11.7 21.0L10.4 20.7M1.7 2.7L2.8 4.2L4.2 5.6M7.1 3.6L5.6 4.0M24.5 8.3L23.4 8.7L21.4 8.4L19.8 9.1M2.8 17.3L2.0 18.1L1.8 20.0M16.0 24.2L16.0 25.9L17.2 27.5M35.1 1.9L35.2 3.4L36.5 5.1M21.1 2.9L21.2 3.8L20.6 5.0M2.5 5.0L3.9 6.0M12.2 4.8L10.6 5.1L9.0 4.9M4.2 7.9L3.6 8.6L1.9 9.1L0.8 10.6M-0.1 22.0L-1.3 22.8M14.7 34.0L16.0 34.5L17.0 36.1L17.3 37.7M27.4 19.1L29.2 19.8M4.2 14.3L3.8 16.0M29.3 8.7L28.4 9.8M15.8 31.3L15.7 32.6M4.4 8.3L2.5 8.6L1.6 8.2M11.5 29.3L12.1 30.5L12.0 31.5M4.4 23.2L5.7 23.7L6.8 23.4M9.0 33.3L7.7 33.5L5.9 33.7M27.1 30.7L28.1 31.1L29.8 32.1M18.3 21.9L17.0 23.1L15.9 23.6L14.6 24.2M12.0 22.8L13.1 23.2M8.2 7.0L9.2 8.8M20.9 19.7L20.3 20.5M27.0 12.6L25.4 13.8L23.7 14.5M20.8 24.6L20.3 25.7M19.5 11.7L19.9 12.6L20.1 14.7L19.9 16.2M21.8 16.8L20.8 18.5L20.8 19.7L20.1 21.3M22.5 10.6L22.6 12.6L23.0 13.7M4.9 -0.7L5.0 0.7M1.7 25.2L0.5 26.7M35.5 1.6L34.1 3.0M7.0 11.8L8.0 12.6L8.8 14.2M8.9 19.6L7.1 20.3M4.0 4.1L2.9 5.0M16.0 0.3L16.3 2.0L16.3 3.6M12.1 11.7L13.2 12.0M25.6 22.0L25.9 23.2L26.8 24.9L27.8 26.2M7.3 -0.7L7.5 0.5L7.3 1.9M7.0 27.2L6.1 28.0L4.4 28.3M29.3 8.1L28.1 8.6M9.0 -1.4L10.5 -0.5L12.0 0.0M8.3 2.4L9.6 2.0L11.1 1.2M22.2 32.1L23.5 32.7M8.5 0.7L6.5 0.9L4.7 0.9L3.4 1.7M19.3 26.9L20.3 27.0L22.1 26.8L23.8 27.8M32.4 13.7L32.4 15.4M1.9 24.4L2.5 25.1L3.8 26.1M31.3 21.2L31.5 22.2L31.3 23.9L30.8 25.4M32.9 5.1L31.4 5.6L30.2 5.7M14.4 3.2L14.5 4.3L14.7 6.0M32.6 10.5L31.5 11.8L30.6 12.2M1.8 21.2L1.6 22.9L0.8 24.7M34.0 25.1L34.5 26.3L35.0 27.3M15.6 11.5L16.3 12.6L16.9 13.2M28.0 12.5L27.7 13.9L27.7 15.6L27.8 17.6M5.7 25.3L5.1 26.2L4.1 27.0L3.3 28.6M24.5 30.2L25.6 31.5L26.0 32.5L25.5 34.0M21.8 31.1L21.8 32.6L21.6 33.7L21.5 35.2M0.5 7.4L1.4 7.4L2.4 6.8L3.5 6.0M22.7 29.8L21.4 30.8L20.0 32.0M15.4 3.9L15.2 5.3M24.6 28.5L23.6 29.3L23.2 30.4M29.7 32.1L27.7 32.1L26.5 32.5M34.1 33.3L33.6 34.7M32.7 16.2L34.4 17.3L35.8 18.7M-0.5 21.1L-1.4 21.1M23.4 25.7L23.1 27.4M21.2 3.2L20.8 5.2M11.6 3.1L12.9 4.1L14.7 4.9L15.3 6.0M11.8 12.7L13.4 13.9L14.6 15.0L16.0 15.7M17.9 14.1L16.6 15.4M1.3 24.1L2.9 24.2L4.6 24.5L5.8 24.8M9.0 12.5L7.2 11.9L6.3 11.6M33.2 20.1L34.5 21.2L36.1 22.5M4.1 16.6L2.9 17.6L2.2 19.1L0.6 20.4M8.5 19.6L8.0 21.2L8.1 23.0L8.5 23.8M8.3 22.8L7.7 23.9L7.8 25.0L8.1 26.4M18.1 9.4L17.5 10.9M13.4 26.7L14.0 27.7L14.6 28.5L15.4 29.8M7.5 12.9L7.8 14.7L7.9 15.7M8.9 6.9L10.3 7.5M17.8 21.3L16.2 22.3L14.9 22.9L13.7 22.9M4.5 7.0L5.3 7.9L6.2 8.3M32.9 3.5L32.2 5.0L31.0 5.9M15.5 13.7L15.3 14.7M22.3 34.1L21.1 35.0L20.5 36.0L20.0 37.1M28.0 29.2L26.0 29.7L24.7 29.6M17.2 16.2L18.9 17.4L19.6 18.2M8.9 0.7L7.2 1.9L5.4 2.6M30.4 8.2L28.9 9.6L28.3 11.0M25.2 22.7L26.7 23.7M12.4 10.4L13.1 11.5M33.7 23.7L33.2 24.8L33.3 25.7M19.9 27.7L18.3 28.1L16.5 27.7M3.7 16.6L4.3 17.6L4.9 18.8M17.0 23.0L16.8 24.2L15.6 25.8M26.9 1.1L26.0 2.9L25.3 4.7M28.7 19.2L29.2 20.0L30.1 20.9M11.5 18.8L10.9 20.3L11.1 21.5M25.0 -0.1L25.1 0.9L25.7 2.1M6.8 21.8L6.5 23.1L6.4 24.1L5.2 25.6M23.5 14.0L23.9 15.2L23.3 17.1L23.9 18.6M27.0 18.6L28.0 19.8M21.5 28.1L23.0 29.2M9.3 24.0L10.1 24.4M16.2 24.2L17.4 24.8M15.4 24.6L16.7 23.8L17.9 23.7M32.6 32.6L34.4 33.3L36.2 33.0M33.8 8.8L34.2 9.9L34.5 11.6M6.6 9.6L7.4 10.5L7.6 12.2M14.0 18.1L12.2 18.5M-0.4 30.2L-1.5 30.3L-3.2 30.9L-4.9 31.8" stroke="#d8d8d8" stroke-width="0.6"/><path d="M31.1 14.6L32.1 14.0L34.0 13.5M5.4 20.3L6.9 20.1L8.8 20.8M15.9 33.9L14.4 34.4L13.6 35.3M2.9 24.9L4.3 25.6M23.5 34.2L25.1 34.7L26.9 35.0M10.7 24.5L10.4 25.7L9.7 27.0M20.5 0.5L21.8 1.2M10.1 8.2L11.0 8.7L11.7 9.8M8.7 24.8L10.5 25.7L11.2 27.0L11.5 28.9M6.3 28.3L5.1 28.9L4.0 29.5M-0.5 32.2L-1.5 33.1L-2.9 34.2M14.5 2.3L13.5 2.8L12.6 3.4M17.1 25.7L17.3 26.8L17.4 27.8M19.8 29.4L18.6 30.6L18.3 31.8M35.4 5.1L35.6 7.0M26.1 14.5L25.5 15.4L24.4 15.8M30.3 18.5L29.9 19.6L29.5 20.8M0.9 17.2L-0.2 17.9L-0.9 19.7L-1.2 20.9M10.0 17.9L9.2 19.6L8.4 21.1M6.9 1.0L7.6 2.8L8.2 4.8M21.8 18.1L23.2 18.0M20.1 16.6L19.2 17.4L17.9 18.1L16.5 18.7M16.9 25.6L16.2 26.6L15.5 27.7L15.3 29.7M17.4 3.7L18.2 4.8L19.1 5.5M28.0 15.6L28.9 16.9L29.7 18.3M29.2 4.7L28.9 6.1L28.7 7.5L28.0 8.9M17.0 29.2L18.0 30.1M27.3 32.1L26.0 32.3L24.3 32.9M19.3 3.0L18.7 3.8M6.9 2.9L5.4 3.2M15.4 24.6L15.4 26.3L16.6 28.0M20.4 2.5L20.6 3.5L19.9 4.6M-0.5 21.3L-1.7 22.1M27.1 19.8L28.9 20.5M3.5 14.1L3.1 15.8M4.7 7.6L2.8 7.9L1.9 7.5M10.7 29.2L11.4 30.4L11.3 31.5M8.8 32.6L7.6 32.7L5.8 33.0M20.2 24.3L19.6 25.4M18.8 11.5L19.1 12.5L19.3 14.6L19.1 16.1M21.1 16.5L20.1 18.2L20.1 19.4L19.4 21.0M1.1 24.7L-0.1 26.3M35.0 1.1L33.6 2.5M6.4 12.1L7.3 12.9L8.1 14.6M8.7 18.9L6.8 19.6M3.6 3.5L2.5 4.4M15.3 0.3L15.6 2.0L15.6 3.6M6.5 -0.8L6.7 0.4L6.5 1.8M29.0 7.4L27.8 7.9M8.7 3.1L9.9 2.7L11.5 1.8M21.8 32.7L23.2 33.4M13.7 3.2L13.8 4.3L13.9 6.1M32.3 9.8L31.2 11.1L30.3 11.5M1.1 20.9L0.9 22.6L0.1 24.4M33.4 25.5L33.8 26.7L34.3 27.6M27.2 12.5L27.0 13.9L27.0 15.6L27.0 17.6M0.9 8.0L1.9 8.0L2.8 7.4L4.0 6.6M22.2 29.3L20.9 30.2L19.5 31.4M14.7 3.8L14.5 5.2M23.8 28.3L22.8 29.1L22.5 30.2M33.3 33.0L32.9 34.5M-0.4 20.3L-1.4 20.3M22.6 25.6L22.4 27.3M20.4 3.1L20.0 5.1M17.3 13.6L16.1 14.9M1.1 24.9L2.7 24.9L4.4 25.3L5.6 25.5M32.8 20.7L34.1 21.8L35.6 23.1M3.6 16.0L2.4 17.0L1.7 18.5L0.1 19.8M7.6 22.9L7.0 24.1L7.1 25.1L7.3 26.5M12.8 27.1L13.4 28.1L13.9 28.9L14.7 30.2M17.7 20.5L16.2 21.5L14.9 22.1L13.6 22.1M4.2 7.7L5.0 8.5L5.9 8.9M32.5 2.9L31.8 4.4L30.5 5.3M14.7 13.6L14.6 14.6M21.7 33.8L20.4 34.7L19.8 35.7L19.3 36.8M28.0 28.4L26.1 28.9L24.8 28.8M16.6 16.7L18.3 17.8L19.0 18.7M11.7 10.8L12.5 11.9M32.9 23.8L32.4 24.9L32.5 25.8M28.1 19.7L28.6 20.5L29.5 21.4M10.7 18.9L10.2 20.4L10.4 21.6M22.8 14.3L23.2 15.5L22.6 17.4L23.2 18.9M26.4 19.1L27.4 20.2M21.0 28.8L22.6 29.8M15.9 24.9L17.1 25.5M33.1 9.0L33.5 10.1L33.8 11.7M-0.8 29.5L-1.8 29.6L-3.6 30.3L-5.2 31.2" stroke="#7c7c7c" stroke-width="0.75"/><path d="M15.7 30.0L17.3 30.5L19.1 30.4M13.9 0.7L13.2 1.6L13.0 2.9M2.2 20.6L3.2 20.9L4.4 22.6M21.7 15.0L21.3 15.8L21.3 17.2M32.1 14.5L31.5 15.7L31.4 16.7M5.0 7.8L5.4 8.9M22.5 4.7L21.8 5.9M11.3 20.2L11.8 21.6L12.7 22.7M-0.9 4.6L-1.2 6.2L-1.2 7.8M20.0 1.6L21.2 2.6M26.6 17.5L25.8 18.9L25.7 20.0M24.4 21.9L25.0 22.9L25.8 24.1M1.7 -0.5L2.4 0.6L3.0 1.7M25.9 12.2L26.2 13.2L26.2 14.7M15.6 11.7L13.8 12.8L12.5 13.2L11.4 13.2M15.0 5.3L13.6 6.5L12.4 7.4M5.6 21.7L6.9 21.6L8.5 20.3M25.4 1.5L26.8 2.9L27.6 4.3L27.6 5.7M13.9 -1.0L12.3 -1.6L10.2 -1.7L8.6 -0.5M25.2 17.3L24.0 18.3L22.8 19.4M15.8 3.8L15.7 5.0L15.5 6.3M30.2 33.0L31.6 32.3M14.2 19.8L12.9 20.1L11.9 20.3L10.6 20.0M1.2 3.3L2.2 4.7L3.7 6.1M24.2 7.6L23.1 8.0L21.2 7.7L19.5 8.4M2.0 17.2L1.3 18.0L1.1 20.0M34.5 2.4L34.6 3.9L35.9 5.6M2.1 5.6L3.5 6.6M12.3 4.0L10.7 4.3L9.1 4.1M3.7 7.4L3.0 8.1L1.3 8.7L0.2 10.1M13.9 34.1L15.3 34.6L16.3 36.2L16.5 37.8M28.7 8.2L27.8 9.4M15.1 31.2L14.9 32.6M4.7 23.9L5.9 24.4L7.0 24.1M26.7 31.3L27.7 31.7L29.4 32.8M17.9 21.2L16.7 22.5L15.5 22.9L14.3 23.6M11.7 23.5L12.9 23.9M7.6 7.4L8.6 9.2M20.3 19.2L19.7 20.0M26.7 11.9L25.1 13.1L23.4 13.8M21.8 10.9L21.9 12.8L22.3 14.0M4.2 -0.7L4.3 0.7M11.9 12.4L13.0 12.7M25.0 22.4L25.3 23.6L26.2 25.3L27.3 26.7M6.9 26.5L5.9 27.2L4.2 27.5M8.7 -0.7L10.3 0.2L11.7 0.7M8.2 0.1L6.1 0.2L4.3 0.3L3.0 1.0M18.9 27.5L20.0 27.6L21.7 27.4L23.5 28.4M31.7 13.7L31.6 15.4M1.4 24.9L2.1 25.7L3.3 26.7M30.6 21.0L30.8 22.0L30.6 23.7L30.1 25.1M32.9 4.3L31.4 4.9L30.1 5.0M15.1 12.0L15.8 13.1L16.4 13.8M5.1 24.9L4.5 25.9L3.5 26.7L2.6 28.3M23.8 30.0L24.9 31.2L25.3 32.3L24.8 33.8M21.1 31.0L21.1 32.5L20.9 33.7L20.8 35.2M29.4 31.4L27.5 31.4L26.3 31.8M32.2 16.7L33.8 17.8L35.3 19.3M10.9 3.5L12.3 4.5L14.0 5.2L14.6 6.3M11.5 13.3L13.0 14.5L14.3 15.6L15.6 16.4M9.2 11.8L7.5 11.2L6.6 10.9M7.8 19.9L7.3 21.5L7.5 23.4L7.9 24.2M17.4 9.2L16.8 10.6M6.7 13.0L7.0 14.9L7.2 15.8M8.6 7.6L10.0 8.2M8.7 0.0L7.0 1.2L5.1 1.9M29.7 7.9L28.2 9.3L27.6 10.7M24.8 23.4L26.3 24.3M20.0 27.0L18.4 27.3L16.6 27.0M3.0 16.9L3.6 17.9L4.2 19.1M16.4 22.5L16.2 23.8L15.0 25.4M26.2 0.8L25.3 2.6L24.6 4.4M24.3 0.2L24.4 1.2L25.0 2.4M6.2 21.3L5.9 22.6L5.8 23.6L4.6 25.2M9.0 24.7L9.8 25.1M15.5 25.4L16.8 24.6L18.0 24.4M32.7 33.3L34.5 34.0L36.4 33.7M5.9 9.7L6.7 10.6L6.9 12.3M13.9 17.4L12.0 17.8" stroke="#959595" stroke-width="0.7"/><path d="M33.8 9.4h.1M25.3 20.3h.1M19.7 25.8h.1M34.1 27.7h.1M6.1 24.9h.1M32.9 3.3h.1M28.4 25.8h.1M24.7 31.5h.1M27.9 23.8h.1M5.4 3.8h.1M13.4 12.1h.1M26.5 3.6h.1M18.3 30.5h.1M22.3 21.8h.1M29.6 8.0h.1M18.3 8.9h.1M7.4 25.2h.1M12.3 22.4h.1M28.2 19.5h.1M14.0 28.5h.1M24.8 1.0h.1M12.4 5.6h.1M29.7 21.8h.1M10.3 3.2h.1M4.5 32.8h.1M13.5 7.1h.1M26.8 9.6h.1M26.4 25.5h.1M23.3 11.4h.1M4.2 4.9h.1M18.8 21.0h.1M14.8 31.3h.1M2.1 21.7h.1M9.3 33.3h.1M29.7 11.9h.1M11.6 7.8h.1M30.9 31.2h.1M1.2 8.1h.1" stroke="#cacaca" stroke-width="0.8"/><path d="M3.4 27.0h.1M20.4 25.0h.1M7.8 22.2h.1M16.8 12.0h.1M16.0 16.6h.1M30.2 19.1h.1M19.9 15.1h.1M24.3 19.8h.1M16.5 17.1h.1M34.0 25.8h.1M7.6 8.7h.1M5.9 7.9h.1M6.2 28.0h.1M28.0 0.5h.1M0.6 2.1h.1M10.8 12.1h.1M17.0 26.0h.1M11.5 19.8h.1M33.9 14.3h.1M15.8 4.0h.1M7.1 33.0h.1M10.9 24.3h.1M14.4 29.0h.1M4.1 26.6h.1M18.8 11.3h.1M5.9 15.0h.1M14.0 11.1h.1M28.7 17.1h.1M24.0 26.8h.1M24.0 11.6h.1M2.1 23.0h.1M7.5 24.7h.1M9.9 17.6h.1M11.4 9.4h.1M29.3 29.9h.1M14.5 28.6h.1M13.9 3.4h.1M13.4 3.1h.1M25.4 21.3h.1M0.7 19.2h.1M21.4 11.5h.1M11.6 28.2h.1M22.2 17.3h.1M9.1 31.3h.1" stroke="#a4a4a4" stroke-width="0.8"/><path d="M22.6 33.1h.1M31.9 21.1h.1M10.1 30.1h.1M18.2 16.5h.1M25.9 19.2h.1M17.3 11.5h.1M32.1 23.6h.1M18.4 26.2h.1M7.1 16.4h.1M20.3 21.0h.1M34.5 27.3h.1" stroke="#6a6a6a" stroke-width="1.1"/></g><line x1="1.0" y1="31.8" x2="6.5" y2="31.8" stroke="#222" stroke-width="0.7"/></svg></g>
<text x="153.60" y="249.80" text-anchor="middle" fill="#000" stroke="#000" stroke-width="0.18" style="font-size:3.6px;font-weight:bold;">GLS2</text>
<g><rect x="136.40" y="251.30" width="34.40" height="33.30" fill="#b4b4b4"/><svg x="136.40" y="251.30" width="34.40" height="33.30" overflow="hidden"><g filter="url(#blur03)" stroke-linecap="round" stroke-linejoin="round" fill="none"><path d="M13.5 6.8L14.9 7.8L15.9 8.7L16.8 10.0M23.8 28.8L22.8 30.6L22.5 31.8M4.0 20.2L3.7 21.3L2.7 22.8M19.2 -1.1L20.9 0.0L22.2 -0.0M21.6 6.0L20.7 6.7M14.1 21.7L14.5 22.7L16.2 23.8L17.6 24.4M19.4 30.3L19.3 32.2L18.7 33.9M34.5 24.5L32.7 24.7L31.3 24.7L29.6 23.7M7.4 12.5L7.1 13.5L6.3 14.8L5.2 15.3M31.6 11.2L30.3 11.0L29.3 10.9L28.2 10.8M5.8 21.8L7.4 22.2L8.4 22.5M23.1 3.7L21.6 3.6L20.1 2.3M0.5 20.4L-1.1 20.7L-2.6 21.7M0.6 23.3L-0.9 24.6L-2.2 24.8M9.1 12.2L9.5 13.3M10.8 27.1L10.7 28.6L10.8 30.1M10.0 7.1L11.2 8.5L11.9 10.1L13.5 11.0M14.6 17.1L13.7 17.4L12.6 18.6M5.1 21.9L5.7 23.8M19.4 16.8L20.7 17.0L21.8 17.2M20.0 23.8L21.0 24.1L22.8 25.0M0.2 9.6L1.3 11.2M23.7 24.9L24.8 25.6L26.6 26.3M8.6 30.5L10.6 30.4M11.5 -0.4L12.8 1.1L13.7 2.8L13.5 4.9M18.9 32.0L19.6 33.8L19.5 35.7M16.8 8.6L16.1 9.5L14.3 10.0M27.0 16.9L28.1 17.3L29.0 18.1M2.1 8.7L2.0 10.2L1.6 11.0M13.1 27.4L12.9 28.5L12.3 29.3L11.6 29.9M14.3 2.9L13.3 4.1L11.5 4.4L10.1 4.4M19.0 25.6L16.9 25.5M2.5 22.4L4.0 23.7L5.8 24.1L7.6 24.9M13.8 15.7L13.5 17.2M24.7 9.0L25.5 10.3L25.8 11.4M5.2 27.6L6.0 28.6L7.7 29.6M35.6 4.2L35.7 5.2M20.0 32.0L19.3 34.0L19.1 36.0M31.1 1.2L32.6 1.3M8.8 6.3L10.2 6.7L11.4 8.0L12.1 9.1M0.5 4.6L-0.1 6.6L-1.4 8.0L-1.9 9.3M19.1 9.8L18.5 10.4L17.2 11.5M26.9 23.0L26.3 24.3M26.6 20.2L27.4 20.7L28.4 22.0M14.6 28.8L13.3 29.5L12.3 30.1L11.6 31.8M6.8 11.8L6.2 12.9L5.1 13.8M31.3 0.7L31.3 1.8L31.3 2.9L31.3 3.9M17.7 -0.9L19.4 -1.0L20.9 -0.3M20.4 34.8L18.6 35.5L16.7 35.0M0.6 14.3L0.7 15.7M18.5 21.2L17.2 21.5L16.2 21.8M16.4 5.1L18.3 5.3L19.3 6.1M5.2 25.7L6.0 26.3M2.5 32.9L1.8 33.8L1.2 35.1M34.0 14.9L34.1 15.9L34.5 17.5L34.1 19.0M10.9 7.6L12.3 6.5L13.9 5.7M32.6 25.0L33.9 26.3L35.0 26.7L36.6 26.5M9.4 22.4L10.1 23.3M29.6 0.8L28.9 2.0L27.0 2.7M1.6 13.8L2.5 15.5L3.0 17.0M35.7 7.9L35.4 9.7L36.0 11.8M35.9 22.4L36.7 24.2M13.9 26.1L13.0 28.0L12.0 29.7M10.3 16.1L9.9 17.4L10.3 18.7M25.5 21.3L25.8 23.2M19.9 13.4L19.5 14.6M36.1 7.7L36.5 8.8L36.7 10.3M8.7 31.5L7.9 32.3L6.4 32.7M4.5 3.7L5.6 4.2L6.8 4.6M25.3 28.6L24.6 29.2L24.4 30.1M6.7 16.1L5.6 17.1L3.7 17.3M30.0 19.6L28.6 19.3L27.2 19.3L26.3 19.0M14.6 11.8L16.6 11.6L18.6 11.6L20.6 11.3M1.6 29.5L-0.2 30.0L-1.9 29.5M33.3 11.6L32.4 12.5L30.8 13.0L29.5 12.5M18.8 9.1L17.4 10.1L16.2 10.3M25.7 22.3L25.6 24.3L26.3 25.9M5.2 31.2L6.5 31.2L7.9 30.7M27.9 25.0L29.9 24.8L31.5 24.1M21.5 13.3L20.1 13.9L18.1 13.6M1.4 21.7L0.6 23.2L-0.7 23.9M16.1 2.1L15.7 3.7L14.8 4.7L14.5 5.7M20.7 31.4L21.8 31.7L23.4 32.7M20.5 10.1L21.8 10.2L23.1 10.3M17.2 16.2L17.4 17.4L17.1 19.1M23.1 16.8L22.2 18.3M27.6 7.4L28.9 6.6M4.3 33.6L4.5 35.1M28.1 4.0L27.8 5.1L26.9 6.3L25.6 6.6M11.5 8.3L13.2 8.0L14.1 8.2M16.9 30.6L16.0 31.2L14.8 32.7M24.8 29.5L24.8 30.6M1.3 2.6L1.1 3.6M5.9 -0.2L6.9 1.0L7.8 1.3M28.6 19.4L27.4 19.8M11.9 25.1L13.7 25.9L15.3 27.3M8.4 1.1L7.1 2.1L5.4 3.3M15.5 22.3L16.0 23.7L17.5 24.8L18.1 26.2M15.3 16.2L15.3 17.3L16.4 19.0M8.8 23.8L7.4 24.5L5.6 25.4L3.6 25.4M8.6 18.3L7.3 19.2L6.1 19.8M26.4 24.8L25.5 26.2M21.3 6.2L21.5 7.9L23.0 9.3M2.3 8.4L2.9 9.8L3.7 10.5L5.3 11.2M6.0 9.1L6.8 9.9L8.3 11.0M29.2 0.7L27.8 2.2L26.6 2.4M0.7 5.1L0.3 6.4M32.9 10.0L32.9 11.1M2.1 31.9L3.2 32.9M27.3 19.2L28.2 19.2M27.6 5.1L27.0 6.1L26.7 7.9M3.1 23.2L5.0 23.3L6.3 23.9M33.5 27.3L33.1 29.1L32.1 31.0L31.6 32.3M2.6 15.4L1.3 15.7L-0.5 14.9L-1.3 13.3M2.2 24.4L2.5 25.2M34.9 14.0L34.2 14.7L33.2 15.6M10.4 0.8L11.5 2.2L12.6 3.6M15.0 22.1L16.9 21.8L18.3 21.2M18.9 10.0L19.2 12.0M33.9 30.3L32.8 31.4L31.9 31.6L30.9 32.8M24.0 28.8L22.1 28.5L20.3 29.0L18.3 29.0M17.5 20.2L16.9 21.5L16.5 22.7M0.7 21.4L-0.7 21.9L-2.4 21.2M32.5 4.6L32.1 6.0L31.6 7.4M6.4 15.2L6.4 16.3M2.1 20.3L1.8 21.7L1.0 23.3M33.2 20.2L33.7 21.7L34.7 23.6L35.9 24.8M8.7 11.2L10.4 11.1L11.8 11.7M26.4 21.4L27.0 22.6L27.3 23.6M18.6 30.2L19.8 30.8L21.4 32.0M31.9 17.9L30.3 16.9L29.5 16.4L28.7 14.8M24.9 21.5L23.2 21.4L21.6 21.0L20.1 19.8M16.8 32.8L17.7 33.5M8.6 1.4L7.6 2.2M24.8 2.8L26.0 2.6L27.3 2.9M20.9 3.2L21.4 4.9L20.9 6.7L21.0 7.8M7.0 15.0L8.7 15.4L10.2 16.4M17.6 21.0L19.0 21.5L20.2 21.2M25.4 29.4L25.9 30.2L25.8 31.8M33.0 34.1L32.6 35.9L31.4 36.9M29.9 2.8L29.6 3.9M5.6 20.3L4.7 20.6L4.1 21.5M29.7 6.0L30.9 6.4L33.0 6.1M19.3 31.3L19.5 32.3L19.7 33.8M13.7 32.5L14.0 34.4L13.9 35.6M28.1 19.1L26.5 20.4L25.5 22.1M16.8 -1.1L17.4 0.1L18.9 1.2M8.2 4.6L8.7 6.2M8.6 27.2L10.0 27.5L10.9 28.0L12.7 29.0M17.9 27.0L17.0 28.6M-0.8 7.9L-1.6 7.5M14.1 13.4L14.4 14.7L13.8 16.3M5.0 21.6L5.5 23.1L5.8 24.5M26.7 22.8L25.7 23.3M16.2 0.3L14.5 1.0M4.9 6.1L3.8 7.3L2.8 7.6M4.9 14.6L4.0 15.5L2.5 16.2M18.9 32.6L19.1 33.9M30.1 5.4L29.2 6.3M18.6 4.9L20.2 3.9L21.5 2.4M24.1 10.5L22.8 10.4L21.6 11.0M29.3 20.2L28.4 20.2L27.2 20.5M14.3 14.3L15.1 16.1L16.1 16.7M24.9 12.1L26.0 11.6L27.0 11.2M2.1 11.3L1.8 12.1L2.2 14.1" stroke="#d8d8d8" stroke-width="0.6"/><path d="M12.9 7.1L14.3 8.2L15.3 9.0L16.1 10.4M23.1 28.6L22.1 30.5L21.8 31.6M3.4 19.7L3.1 20.9L2.1 22.4M19.2 -0.3L21.0 0.8L22.2 0.7M21.1 5.4L20.3 6.1M18.6 30.1L18.6 31.9L18.0 33.6M34.9 23.9L33.1 24.1L31.7 24.0L29.9 23.0M31.7 10.5L30.4 10.3L29.4 10.2L28.3 10.0M0.1 19.8L-1.6 20.1L-3.0 21.1M0.5 22.5L-1.0 23.8L-2.3 24.0M9.6 7.7L10.8 9.2L11.5 10.8L13.1 11.6M4.4 22.1L4.9 24.0M19.3 17.6L20.6 17.7L21.7 17.9M23.4 25.6L24.5 26.3L26.3 27.0M16.6 7.9L15.9 8.8L14.1 9.3M26.4 17.4L27.6 17.8L28.4 18.7M1.5 8.3L1.3 9.9L0.9 10.7M14.3 2.1L13.3 3.4L11.5 3.7L10.1 3.7M19.0 24.8L17.0 24.7M13.0 15.6L12.8 17.1M24.0 9.2L24.8 10.5L25.1 11.6M4.8 28.3L5.7 29.3L7.4 30.2M34.8 4.2L34.9 5.2M19.2 31.9L18.6 33.9L18.3 35.9M31.1 1.9L32.5 2.0M8.2 6.7L9.6 7.1L10.8 8.4L11.5 9.5M-0.2 4.4L-0.8 6.3L-2.1 7.8L-2.6 9.0M26.3 22.7L25.6 24.0M25.9 20.6L26.8 21.2L27.7 22.5M6.3 11.2L5.8 12.4L4.7 13.2M17.4 -0.3L19.1 -0.3L20.6 0.4M20.6 34.1L18.8 34.8L16.9 34.3M-0.1 14.3L-0.1 15.7M18.4 20.4L17.1 20.8L16.1 21.0M16.0 5.7L17.8 5.9L18.9 6.7M11.2 8.2L12.7 7.2L14.3 6.3M32.7 25.8L34.0 27.1L35.0 27.4L36.7 27.3M8.8 22.9L9.6 23.8M0.8 14.0L1.8 15.8L2.3 17.2M35.0 8.1L34.7 10.0L35.3 12.0M35.2 22.7L36.0 24.5M13.2 25.7L12.4 27.6L11.3 29.3M9.6 16.3L9.1 17.6L9.5 18.9M24.8 21.4L25.0 23.3M19.2 13.1L18.7 14.3M35.4 7.8L35.8 8.9L36.0 10.4M4.3 4.4L5.3 4.9L6.6 5.3M30.2 18.9L28.8 18.6L27.4 18.6L26.6 18.3M1.8 28.8L-0.0 29.3L-1.7 28.8M5.4 31.9L6.8 31.9L8.1 31.4M28.2 25.7L30.2 25.5L31.8 24.8M15.4 1.9L15.0 3.5L14.1 4.5L13.7 5.5M20.3 32.0L21.4 32.4L23.0 33.4M22.4 16.4L21.5 17.9M28.0 8.0L29.3 7.2M11.3 9.1L13.0 8.7L14.0 8.9M16.3 30.1L15.4 30.7L14.2 32.3M5.7 0.5L6.6 1.7L7.6 2.0M28.3 18.7L27.2 19.1M11.4 25.7L13.2 26.5L14.8 27.8M14.8 22.6L15.3 24.0L16.8 25.1L17.4 26.5M8.8 23.0L7.4 23.8L5.5 24.6L3.6 24.7M8.2 17.6L7.0 18.5L5.7 19.1M25.8 24.4L24.9 25.8M2.0 9.1L2.6 10.5L3.4 11.2L5.0 11.9M5.6 9.7L6.4 10.4L7.8 11.6M32.2 10.0L32.2 11.2M1.5 32.4L2.6 33.5M27.4 20.0L28.3 19.9M26.9 5.0L26.3 6.0L26.0 7.8M3.2 15.1L2.0 15.4L0.1 14.5L-0.7 13.0M34.4 13.5L33.7 14.1L32.7 15.0M15.3 22.8L17.2 22.5L18.6 21.9M1.0 20.7L-0.5 21.2L-2.1 20.5M1.4 20.0L1.1 21.4L0.4 23.0M32.6 20.7L33.2 22.2L34.1 24.1L35.4 25.3M18.1 30.8L19.3 31.3L20.9 32.6M24.7 3.5L25.9 3.3L27.1 3.6M32.5 33.5L32.1 35.4L31.0 36.3M5.0 19.9L4.1 20.2L3.5 21.0M29.8 6.7L31.0 7.1L33.1 6.8M12.9 32.4L13.2 34.3L13.2 35.6M27.5 18.7L25.9 20.0L24.9 21.7M16.3 -0.5L17.0 0.7L18.5 1.8M7.5 4.8L8.0 6.4M8.2 27.8L9.6 28.2L10.5 28.6L12.3 29.7M26.4 22.1L25.4 22.7M15.9 -0.4L14.2 0.3M19.2 5.3L20.8 4.4L22.1 2.9M23.8 9.8L22.5 9.7L21.3 10.3M29.2 19.4L28.2 19.5L27.0 19.8M13.9 14.9L14.7 16.7L15.7 17.3M25.2 12.8L26.2 12.3L27.2 11.9" stroke="#7c7c7c" stroke-width="0.75"/><path d="M13.8 22.4L14.2 23.3L15.9 24.5L17.3 25.1M7.0 11.8L6.8 12.8L6.0 14.1L4.9 14.7M5.6 22.5L7.2 23.0L8.2 23.2M23.6 3.2L22.1 3.1L20.6 1.8M8.4 12.4L8.8 13.6M10.0 27.2L10.0 28.6L10.0 30.1M14.0 16.6L13.2 16.9L12.0 18.1M19.7 24.4L20.6 24.7L22.4 25.7M-0.4 10.0L0.6 11.6M8.6 31.3L10.6 31.2M10.8 -0.4L12.1 1.0L13.0 2.8L12.8 4.8M18.2 32.0L18.8 33.8L18.8 35.6M12.6 26.8L12.4 28.0L11.8 28.7L11.1 29.4M2.2 23.1L3.7 24.4L5.5 24.8L7.3 25.6M18.7 9.2L18.1 9.9L16.8 10.9M13.9 28.5L12.6 29.2L11.6 29.8L10.9 31.5M30.6 0.8L30.6 1.9L30.5 2.9L30.6 4.0M4.7 26.3L5.6 26.9M1.8 32.6L1.1 33.5L0.5 34.8M33.2 14.7L33.4 15.7L33.8 17.3L33.4 18.8M29.4 0.1L28.6 1.3L26.7 2.0M8.6 30.8L7.7 31.6L6.3 31.9M24.6 28.4L23.9 29.0L23.6 29.9M6.6 15.3L5.5 16.4L3.6 16.6M14.7 12.5L16.7 12.4L18.7 12.4L20.7 12.1M33.6 10.8L32.6 11.8L31.1 12.3L29.7 11.8M18.7 8.4L17.2 9.3L16.1 9.5M25.0 22.6L24.9 24.6L25.6 26.3M21.6 12.5L20.2 13.2L18.2 12.9M1.1 21.0L0.3 22.6L-1.0 23.2M20.4 10.8L21.7 10.9L23.1 11.1M16.5 16.0L16.7 17.3L16.4 18.9M3.6 33.7L3.8 35.2M27.9 3.3L27.6 4.4L26.7 5.6L25.4 5.9M24.0 29.5L24.0 30.6M0.6 2.4L0.4 3.4M8.0 0.5L6.7 1.5L5.0 2.7M14.6 16.6L14.7 17.6L15.7 19.4M20.8 6.7L21.0 8.5L22.5 9.8M29.1 -0.1L27.7 1.5L26.5 1.6M-0.1 4.9L-0.4 6.2M2.8 23.9L4.7 23.9L6.0 24.6M32.8 27.0L32.4 28.9L31.4 30.7L30.9 32.0M1.5 24.6L1.8 25.5M9.8 1.2L10.9 2.6L12.1 4.0M18.1 10.1L18.5 12.1M33.3 29.8L32.2 30.9L31.3 31.1L30.4 32.3M24.1 28.1L22.1 27.7L20.3 28.2L18.3 28.2M16.8 20.0L16.2 21.3L15.8 22.5M31.8 4.3L31.4 5.7L30.9 7.1M5.7 15.2L5.6 16.2M8.4 11.9L10.2 11.8L11.6 12.4M25.7 21.6L26.3 22.8L26.6 23.8M32.6 17.5L31.0 16.6L30.2 16.1L29.4 14.5M25.4 20.9L23.6 20.8L22.1 20.4L20.6 19.2M16.4 33.4L17.3 34.1M8.1 0.8L7.2 1.6M20.1 3.3L20.6 5.0L20.1 6.7L20.2 7.8M6.6 15.6L8.3 16.0L9.8 17.0M17.8 21.8L19.3 22.3L20.4 21.9M24.6 29.4L25.1 30.2L25.1 31.8M29.2 2.6L28.9 3.7M18.5 31.4L18.8 32.4L18.9 33.9M17.2 26.6L16.4 28.2M-0.5 7.2L-1.4 6.8M13.4 13.2L13.7 14.4L13.1 16.1M4.3 21.8L4.8 23.3L5.1 24.7M4.8 5.4L3.7 6.6L2.7 6.8M4.5 13.9L3.6 14.8L2.2 15.6M18.1 32.7L18.3 34.0M29.6 4.8L28.7 5.7M1.3 11.4L1.0 12.3L1.5 14.2" stroke="#959595" stroke-width="0.7"/><path d="M20.4 12.8h.1M28.9 31.8h.1M27.5 31.9h.1M11.0 28.2h.1M18.5 4.7h.1M21.7 18.6h.1M7.2 25.8h.1M19.5 20.3h.1M29.2 31.5h.1M33.2 15.1h.1M28.6 24.1h.1M0.8 15.1h.1M28.1 7.2h.1M6.7 31.0h.1M1.8 28.8h.1M13.8 13.1h.1M28.1 11.4h.1M14.6 7.3h.1M26.1 12.7h.1M28.9 22.4h.1M18.2 6.2h.1M5.6 6.3h.1M31.9 19.4h.1M8.9 10.8h.1M18.7 30.1h.1M12.7 11.4h.1M21.4 30.7h.1M22.5 31.8h.1M10.4 7.8h.1M5.2 25.8h.1M9.1 32.2h.1M23.7 28.5h.1M8.0 6.3h.1M7.1 0.1h.1M14.5 23.0h.1M13.1 23.7h.1M29.8 3.0h.1M13.8 4.7h.1M14.7 22.9h.1M17.4 26.1h.1M1.8 8.2h.1M19.5 30.7h.1M24.8 31.7h.1" stroke="#cacaca" stroke-width="0.8"/><path d="M6.9 12.1h.1M22.3 3.6h.1M28.0 16.5h.1M1.2 5.9h.1M4.7 25.7h.1M12.5 11.2h.1M28.3 17.0h.1M25.5 0.1h.1M25.1 9.4h.1M34.3 5.4h.1M26.0 14.4h.1M7.3 32.8h.1M20.7 16.1h.1M23.6 18.0h.1M1.3 30.7h.1M8.7 24.2h.1M5.1 27.7h.1M17.6 21.8h.1M21.9 28.0h.1M21.7 11.7h.1M30.3 31.4h.1M15.2 22.9h.1M27.2 0.2h.1M7.0 15.2h.1M12.1 8.2h.1M22.4 6.9h.1M25.6 2.3h.1M31.0 17.4h.1M3.6 28.9h.1M32.1 11.7h.1M20.6 26.2h.1M25.4 8.3h.1M2.1 3.2h.1M7.7 1.0h.1M32.9 26.0h.1M19.2 14.9h.1M15.4 20.0h.1M0.1 31.9h.1" stroke="#a4a4a4" stroke-width="0.8"/><path d="M6.2 30.9h.1M17.1 5.9h.1M1.7 16.2h.1M15.1 17.5h.1M0.9 25.3h.1M31.6 1.8h.1M32.0 28.9h.1M18.4 3.4h.1M12.1 0.7h.1M3.6 11.2h.1M17.2 19.3h.1" stroke="#6a6a6a" stroke-width="1.1"/></g><line x1="1.0" y1="31.8" x2="6.5" y2="31.8" stroke="#222" stroke-width="0.7"/></svg></g>
<text x="189.70" y="249.80" text-anchor="middle" fill="#000" stroke="#000" stroke-width="0.18" style="font-size:3.6px;font-weight:bold;">GLS2 + AOA</text>
<g><rect x="172.40" y="251.30" width="34.60" height="33.30" fill="#b4b4b4"/><svg x="172.40" y="251.30" width="34.60" height="33.30" overflow="hidden"><g filter="url(#blur03)" stroke-linecap="round" stroke-linejoin="round" fill="none"><path d="M22.9 -0.7L23.8 -0.3L25.0 0.7M0.7 1.8L1.9 3.1M7.2 20.5L6.2 20.8M12.0 5.0L11.0 5.8L10.2 6.8M29.2 24.4L29.8 25.5L30.3 27.4L30.9 28.4M1.4 6.9L1.7 8.8M9.9 21.2L10.9 22.6L11.5 24.2M21.5 5.8L20.8 6.7L19.1 7.2M24.3 29.4L22.5 29.9L21.6 30.3M6.9 17.4L6.2 18.2L4.9 18.9L3.5 19.2M12.0 33.5L13.0 33.4L14.3 32.3L15.6 31.9M13.8 19.9L12.8 21.6L13.0 23.3M27.9 10.9L29.2 12.4L29.4 13.6M18.3 2.7L18.5 4.5L18.6 6.4M21.4 15.6L22.6 17.1L23.4 17.7M2.0 15.4L3.4 15.0L4.6 14.7M34.5 32.5L33.2 33.1L31.9 33.5M4.2 6.9L4.5 7.7L4.6 8.7M32.1 28.6L33.6 28.5L35.4 28.4M8.4 15.1L9.5 16.1M13.7 28.8L15.3 28.1M8.8 6.0L9.6 7.2L9.7 8.2L9.0 10.0M0.8 35.0L-1.1 34.9M14.5 16.5L13.9 17.2M9.4 27.0L9.1 28.8L8.3 30.3L7.7 31.3M35.1 19.1L35.9 20.5L36.8 22.2M1.3 17.6L-0.3 18.2M14.5 32.5L13.9 33.8M33.8 6.6L33.5 7.6L32.7 8.8M0.0 20.6L0.5 21.7M4.2 10.7L5.3 10.7L6.8 11.5M23.2 19.3L22.2 18.9M31.7 24.5L33.1 25.5L34.8 25.9M18.1 8.4L17.1 9.4M0.8 10.0L2.2 10.0L3.7 10.3M1.6 30.9L0.1 30.6M15.5 0.6L15.3 1.7M23.8 12.1L22.5 13.3L21.3 13.4L19.8 14.5M31.4 0.6L30.1 1.2L28.4 1.5M9.3 26.3L10.1 27.2M12.5 28.2L12.0 29.2L11.5 31.0M11.7 17.7L10.7 18.1L9.6 17.8M0.7 19.4L1.9 21.1L3.6 22.0M8.4 23.3L9.3 23.1L10.6 23.1M23.1 4.1L21.8 4.2L20.3 3.9M14.9 32.7L14.1 33.7L13.5 34.3M7.4 26.7L7.0 28.0L7.2 29.5M23.8 8.7L23.9 10.7L24.4 11.9M4.5 1.4L2.5 1.6M26.0 12.7L26.1 13.6L25.6 15.4M27.7 7.4L27.4 8.6L26.3 9.6L24.7 10.1M33.9 31.2L32.8 32.3L31.1 32.6L29.9 32.9M30.5 8.9L29.4 9.5L28.9 10.6L28.7 11.9M4.8 7.2L4.8 8.6L4.7 10.0M29.7 13.5L27.9 13.9M17.2 32.1L17.5 34.2L17.9 35.9L18.2 37.5M17.5 8.3L18.0 10.0L18.4 11.0L18.9 11.9M32.8 20.4L32.1 21.2M6.3 7.8L7.6 9.1L9.1 10.2L9.6 11.2M16.5 24.8L17.5 24.5L18.3 24.9M33.2 5.5L34.6 5.1L36.0 3.6M25.2 25.6L25.9 26.5M3.3 -0.8L4.4 0.5L6.1 0.9L7.1 1.4M30.2 19.5L31.6 19.7M2.3 21.9L3.2 22.4L3.9 23.9L3.8 25.6M6.2 17.6L5.4 19.3L4.7 20.4L4.3 22.4M31.8 7.1L32.3 8.5L33.1 9.7L34.0 10.6M31.8 23.3L32.5 24.2M25.7 16.9L24.5 17.7L23.5 17.8L22.0 18.7M24.0 11.9L23.9 13.7L24.2 15.4M10.9 7.5L10.6 9.0L10.1 10.0M26.6 9.2L25.1 10.3L24.2 11.4M0.1 17.4L1.2 18.8M22.7 24.9L24.0 25.5M11.8 32.4L12.8 32.7L14.3 33.1L15.3 33.6M2.9 7.7L2.3 9.4L2.3 10.9L2.5 12.4M10.6 21.5L9.7 22.2M8.9 1.1L10.2 1.5M10.4 7.1L10.3 8.2L10.9 10.0L11.1 11.9M15.2 18.6L14.4 19.1L13.9 20.3M15.7 15.1L15.7 16.6L15.7 17.6L16.5 18.7M21.8 -0.2L22.1 1.5M20.8 25.7L21.3 26.7L21.8 28.3L22.1 29.2M13.8 9.6L15.5 9.8L17.5 9.3M16.2 9.6L16.3 11.5L17.6 12.9L18.3 13.6M22.4 16.2L23.3 17.5M15.0 22.9L16.0 23.7L17.4 23.7M36.1 31.3L36.0 32.4M18.3 9.0L17.3 10.2L16.3 12.0L15.2 13.6M9.9 26.8L9.6 28.0L9.8 29.6M31.4 14.7L31.4 16.3L31.4 17.6M35.4 6.9L36.9 7.8L38.1 9.2L39.4 10.3M17.8 0.6L16.8 2.3L16.2 3.7M0.3 4.3L-0.7 5.8L-1.1 7.4M22.3 29.6L20.6 29.3L19.5 28.3L18.3 27.2M22.2 32.3L21.2 32.4M15.6 24.1L14.8 24.6M13.5 4.3L13.8 5.2L13.6 6.8M17.9 19.3L19.3 20.4L19.7 21.8M24.1 5.3L23.5 6.4L21.9 7.1M30.4 5.5L31.5 6.3L32.6 6.9L33.3 7.5M9.3 19.7L7.7 20.4M27.5 7.9L26.0 8.5L24.3 8.9M22.6 31.4L21.9 32.0L21.2 32.8M11.6 13.4L13.2 14.6L13.7 15.7M34.7 10.1L33.8 10.5M31.1 25.0L30.0 25.8L29.4 26.7M24.1 22.1L24.4 23.3L26.0 24.4M33.2 6.6L34.1 7.5L35.0 8.1L35.4 9.3M4.0 7.5L3.9 9.2L3.1 11.1L2.6 12.8M31.2 22.8L30.0 22.7L28.9 22.3L27.7 22.0M3.4 23.3L3.9 24.4L3.6 26.4M3.1 6.3L3.3 7.6M28.3 6.8L26.6 7.5L25.3 8.8M8.6 34.2L7.6 33.8L6.9 33.0M28.3 6.8L29.1 7.4L30.0 8.0M17.2 26.4L17.2 27.6M26.4 30.9L25.5 32.8L25.7 34.3M15.3 2.7L15.3 3.7L15.1 4.7L15.2 6.3M13.6 19.8L15.3 20.5L16.4 21.7L17.0 23.4M15.1 29.7L15.8 31.3L16.6 32.3L18.4 33.4M1.9 27.8L3.0 28.6M19.8 20.3L19.2 21.6L17.6 22.8M31.3 25.0L29.7 25.5L28.5 26.6M30.7 11.7L29.8 13.1M30.2 34.1L28.7 34.8M0.8 8.7L0.2 9.6L-0.0 11.3M3.8 20.7L5.2 20.6L6.3 19.9M27.3 18.3L29.0 17.9M24.4 8.6L23.6 9.7L23.2 11.2L23.1 12.2M18.3 9.1L19.6 9.1M27.2 25.2L29.0 25.6M3.4 17.1L5.3 17.4L6.1 16.9M30.8 20.0L30.9 21.4L30.3 22.3L28.9 22.8M2.4 28.1L3.4 29.1L4.5 29.7L5.6 30.1M18.4 6.6L16.6 7.3L15.5 7.2M8.4 4.4L10.2 4.4M16.7 19.1L15.6 20.3L15.3 21.2M22.8 27.3L22.5 28.5L22.2 29.4M1.9 30.2L0.6 31.0L-1.4 31.2L-3.2 31.5M11.1 15.1L12.8 15.8M35.7 2.1L35.6 3.5M18.9 20.3L19.9 21.8L20.2 22.7M1.9 2.9L1.5 4.8L0.3 5.8M11.5 18.9L13.2 19.2L14.1 19.6M10.4 13.0L8.7 13.8L6.9 14.0M23.1 13.3L24.4 14.9L25.9 16.0M7.5 3.1L9.0 3.5M23.8 30.4L23.9 31.5L23.7 33.2L22.5 34.5M14.6 22.4L15.8 23.8L16.1 25.0L17.3 26.6M32.5 6.5L31.9 7.6L31.4 9.0L29.8 10.0M31.6 1.2L31.6 2.2L30.7 3.9M2.5 5.2L2.2 6.2L0.8 7.4M33.5 13.1L34.9 14.7L35.6 15.3M30.4 22.1L29.9 24.0L29.5 25.9M15.8 -1.5L16.8 -1.6L18.3 -0.9M3.5 8.5L4.9 9.5M2.0 28.7L1.7 30.2M10.4 -1.1L11.7 -0.1L12.7 0.8L13.1 2.3M14.0 15.9L13.9 16.9L13.3 18.0M27.8 24.5L28.7 25.4M29.8 23.8L27.9 23.6L26.3 24.4L25.2 25.1M28.6 29.9L29.7 31.7L30.3 32.7M9.3 28.7L11.1 28.4L12.5 28.0M31.7 13.4L30.4 13.2L29.4 12.5L28.0 12.4M21.6 27.5L22.1 28.7L23.1 29.8" stroke="#d8d8d8" stroke-width="0.6"/><path d="M28.5 24.8L29.1 25.9L29.7 27.7L30.2 28.7M9.2 21.4L10.2 22.8L10.8 24.4M21.3 5.0L20.5 6.0L18.9 6.5M12.2 34.2L13.2 34.1L14.5 33.0L15.8 32.6M27.1 11.0L28.5 12.6L28.7 13.7M17.6 2.8L17.7 4.6L17.8 6.4M20.9 16.2L22.1 17.7L22.9 18.3M3.4 6.9L3.8 7.8L3.9 8.7M14.0 29.5L15.6 28.7M8.1 5.7L8.9 6.9L9.0 7.9L8.3 9.7M0.9 34.3L-1.1 34.1M8.7 26.7L8.5 28.4L7.6 29.9L7.1 30.9M34.5 19.4L35.2 20.9L36.1 22.6M1.1 16.9L-0.5 17.5M33.2 6.2L32.8 7.2L32.1 8.4M3.8 11.3L4.9 11.4L6.5 12.2M23.4 18.6L22.5 18.2M0.6 10.8L2.0 10.7L3.6 11.0M1.8 30.2L0.2 29.9M14.7 0.5L14.6 1.6M23.4 11.5L22.1 12.7L20.9 12.8L19.3 13.9M31.3 -0.1L30.0 0.5L28.2 0.8M0.4 20.1L1.5 21.8L3.3 22.7M23.3 3.4L22.0 3.5L20.5 3.2M6.7 26.7L6.3 28.1L6.5 29.6M23.1 9.0L23.2 11.1L23.8 12.2M4.4 0.6L2.4 0.9M25.3 12.6L25.4 13.5L24.9 15.2M33.8 30.5L32.6 31.5L30.9 31.9L29.7 32.2M29.7 8.8L28.7 9.4L28.1 10.5L27.9 11.8M4.1 7.2L4.1 8.6L4.0 9.9M16.5 32.3L16.7 34.3L17.2 36.0L17.5 37.6M16.9 8.6L17.3 10.3L17.8 11.3L18.2 12.2M5.7 8.2L6.9 9.5L8.4 10.5L9.0 11.6M16.2 25.4L17.2 25.2L18.0 25.6M31.2 23.8L31.9 24.6M10.2 7.1L10.0 8.7L9.4 9.6M-0.5 17.9L0.5 19.3M10.2 20.9L9.2 21.6M9.7 7.2L9.6 8.3L10.1 10.1L10.4 12.0M13.9 10.3L15.7 10.5L17.7 10.1M15.0 23.6L16.0 24.4L17.4 24.4M17.6 8.7L16.6 9.9L15.6 11.6L14.6 13.3M30.7 14.8L30.6 16.3L30.7 17.6M34.9 7.4L36.4 8.4L37.6 9.8L39.0 10.9M22.8 29.1L21.2 28.8L20.0 27.8L18.9 26.7M22.1 31.5L21.1 31.6M12.7 4.1L13.1 5.1L12.8 6.7M27.4 7.1L25.9 7.8L24.2 8.1M34.4 9.4L33.5 9.9M3.3 7.3L3.2 9.0L2.4 10.9L1.9 12.6M2.4 6.5L2.6 7.8M27.8 6.2L26.1 7.0L24.8 8.3M27.9 7.4L28.7 8.1L29.6 8.6M16.4 26.5L16.5 27.6M12.9 20.1L14.6 20.7L15.7 22.0L16.2 23.7M1.5 28.4L2.5 29.2M30.8 24.5L29.3 24.9L28.0 26.0M0.1 8.6L-0.6 9.6L-0.8 11.2M27.4 19.0L29.2 18.7M18.3 9.9L19.5 9.9M27.1 26.0L28.8 26.4M3.7 17.8L5.6 18.0L6.4 17.6M2.2 28.8L3.2 29.8L4.3 30.5L5.4 30.8M18.4 5.8L16.7 6.6L15.5 6.5M1.8 29.5L0.4 30.3L-1.5 30.5L-3.4 30.8M1.4 2.3L1.0 4.2L-0.2 5.3M11.2 19.6L12.9 19.9L13.8 20.3M10.3 12.3L8.6 13.1L6.9 13.2M22.6 13.9L24.0 15.5L25.4 16.6M7.3 3.9L8.8 4.2M23.2 29.9L23.4 31.0L23.1 32.7L21.9 34.0M32.1 5.8L31.5 6.9L31.0 8.4L29.4 9.4M33.1 13.6L34.4 15.3L35.1 15.9M1.3 28.5L1.0 30.1M9.7 -0.9L11.0 0.1L12.0 1.0L12.4 2.5M13.3 15.6L13.2 16.5L12.6 17.7M27.2 25.0L28.1 25.9M29.4 23.2L27.5 22.9L25.9 23.8L24.8 24.4M28.0 30.3L29.1 32.0L29.6 33.1" stroke="#7c7c7c" stroke-width="0.75"/><path d="M22.4 -0.1L23.4 0.2L24.6 1.2M0.2 2.3L1.4 3.6M7.1 19.8L6.0 20.1M11.5 4.5L10.4 5.4L9.6 6.4M0.7 7.0L1.0 9.0M24.1 28.8L22.3 29.2L21.3 29.6M6.8 16.6L6.1 17.4L4.7 18.2L3.4 18.4M13.1 20.0L12.1 21.7L12.3 23.4M2.1 16.2L3.5 15.7L4.7 15.4M34.3 31.8L33.1 32.4L31.8 32.7M32.1 29.3L33.6 29.2L35.4 29.2M7.9 15.7L9.0 16.6M13.9 16.0L13.3 16.7M13.8 32.2L13.2 33.5M-0.7 20.9L-0.2 22.0M31.6 25.2L33.0 26.3L34.6 26.6M17.5 7.9L16.6 8.9M8.8 26.8L9.5 27.7M11.8 28.0L11.3 29.0L10.8 30.8M11.9 17.0L10.9 17.4L9.8 17.1M8.3 24.0L9.3 23.8L10.6 23.9M14.4 32.2L13.6 33.1L12.9 33.8M27.5 6.7L27.1 7.9L26.1 8.9L24.4 9.4M29.5 12.7L27.7 13.2M32.2 19.9L31.5 20.7M33.8 6.0L35.2 5.6L36.5 4.1M24.6 26.1L25.3 26.9M3.0 -0.1L4.1 1.2L5.8 1.6L6.7 2.0M30.1 20.2L31.5 20.4M1.5 21.9L2.4 22.3L3.1 23.9L3.1 25.6M5.4 17.4L4.7 19.1L4.0 20.2L3.6 22.2M31.3 7.6L31.8 9.0L32.6 10.3L33.4 11.1M25.4 16.2L24.1 17.0L23.1 17.2L21.6 18.1M23.3 12.0L23.2 13.8L23.5 15.5M26.0 8.8L24.5 9.9L23.7 10.9M22.3 25.6L23.7 26.2M11.5 33.1L12.4 33.3L14.0 33.7L14.9 34.2M2.1 7.8L1.5 9.5L1.6 11.0L1.8 12.5M8.7 1.9L10.0 2.2M14.6 18.2L13.8 18.8L13.2 20.0M15.1 15.5L15.1 17.0L15.1 18.0L15.9 19.2M21.1 -0.1L21.4 1.6M20.1 25.9L20.6 27.0L21.1 28.5L21.4 29.5M15.6 10.1L15.7 12.0L17.0 13.4L17.7 14.1M21.8 16.6L22.7 17.9M35.3 31.2L35.2 32.3M9.1 26.9L8.9 28.1L9.0 29.7M17.1 0.3L16.2 2.0L15.5 3.4M-0.4 4.1L-1.4 5.6L-1.8 7.2M15.2 23.5L14.4 24.0M17.2 19.6L18.5 20.6L19.0 22.0M23.8 4.6L23.2 5.7L21.6 6.4M29.9 6.0L31.0 6.9L32.1 7.4L32.8 8.0M9.0 19.0L7.4 19.7M22.0 30.9L21.3 31.5L20.6 32.3M11.0 13.7L12.5 14.9L13.0 16.0M30.5 24.6L29.4 25.4L28.8 26.2M23.6 22.7L24.0 23.9L25.5 25.0M32.5 6.8L33.4 7.7L34.3 8.3L34.6 9.5M31.4 22.1L30.2 22.0L29.1 21.6L28.0 21.3M2.6 23.2L3.2 24.3L2.8 26.3M9.1 33.7L8.2 33.4L7.5 32.5M25.6 31.1L24.7 32.9L25.0 34.4M14.6 2.8L14.5 3.8L14.3 4.8L14.5 6.4M14.7 30.3L15.5 32.0L16.2 33.0L18.0 34.0M19.4 19.7L18.8 21.0L17.1 22.1M30.0 11.4L29.2 12.7M29.9 33.4L28.4 34.1M4.2 21.4L5.6 21.2L6.7 20.6M23.7 8.6L22.8 9.7L22.4 11.2L22.4 12.2M30.6 19.3L30.6 20.7L30.0 21.6L28.7 22.1M8.4 5.1L10.2 5.2M16.0 18.9L14.8 20.1L14.6 21.0M22.1 27.1L21.7 28.3L21.5 29.3M10.8 15.8L12.5 16.5M35.0 2.0L34.8 3.4M18.2 20.5L19.2 22.1L19.5 23.0M14.0 22.9L15.2 24.3L15.5 25.4L16.7 27.1M31.0 0.8L30.9 1.9L30.0 3.6M2.1 4.7L1.8 5.6L0.3 6.8M29.7 21.9L29.2 23.9L28.7 25.7M15.4 -0.8L16.5 -1.0L17.9 -0.2M3.1 9.2L4.5 10.1M9.5 29.4L11.3 29.1L12.6 28.8M31.7 12.6L30.4 12.4L29.4 11.7L28.0 11.7M21.0 28.0L21.6 29.2L22.5 30.3" stroke="#959595" stroke-width="0.7"/><path d="M5.8 14.8h.1M2.0 22.4h.1M17.8 25.0h.1M15.2 4.2h.1M1.1 5.1h.1M12.8 14.8h.1M4.8 12.2h.1M9.6 32.0h.1M34.6 6.7h.1M19.0 9.7h.1M6.0 12.0h.1M34.1 26.4h.1M16.2 32.7h.1M30.6 2.2h.1M24.8 15.9h.1M14.2 19.1h.1M11.0 2.5h.1M28.8 17.3h.1M5.6 31.1h.1M32.8 17.3h.1M1.4 28.8h.1M32.8 25.7h.1M22.2 10.1h.1M27.9 13.5h.1M23.8 5.3h.1M16.1 11.3h.1M17.8 3.5h.1M4.2 15.0h.1M16.2 29.3h.1M3.1 13.1h.1M8.3 19.4h.1M23.3 9.5h.1M3.7 4.5h.1M12.7 13.4h.1M1.8 18.7h.1M10.0 12.9h.1M21.1 4.3h.1M13.9 1.3h.1M5.2 29.7h.1M32.2 10.6h.1M17.6 17.0h.1M19.5 15.8h.1M11.5 3.6h.1M21.8 19.9h.1M7.9 1.7h.1" stroke="#cacaca" stroke-width="0.8"/><path d="M25.1 30.4h.1M15.0 21.3h.1M1.1 28.3h.1M22.3 12.1h.1M6.4 17.2h.1M4.1 25.8h.1M7.4 20.4h.1M2.6 5.7h.1M34.5 27.0h.1M34.1 22.2h.1M5.4 23.6h.1M17.1 12.0h.1M17.9 4.3h.1M19.1 19.6h.1M4.5 16.7h.1M2.7 6.5h.1M9.5 20.8h.1M3.2 21.3h.1M20.1 5.7h.1M31.2 11.2h.1M7.3 19.1h.1M1.0 29.6h.1M29.8 10.6h.1M11.9 13.3h.1M1.8 31.5h.1M14.5 32.1h.1M28.1 31.1h.1M6.6 5.3h.1M9.7 19.9h.1M19.0 27.5h.1M12.9 32.9h.1M12.6 4.8h.1M24.7 26.8h.1M21.3 28.1h.1M10.6 29.9h.1M22.7 32.4h.1M18.1 24.0h.1" stroke="#a4a4a4" stroke-width="0.8"/><path d="M13.2 27.4h.1M8.4 19.1h.1M24.2 6.4h.1M15.3 13.9h.1M14.3 6.8h.1M17.4 20.4h.1M16.3 28.3h.1M25.2 23.5h.1M17.9 18.7h.1M34.5 15.9h.1M13.0 31.9h.1" stroke="#6a6a6a" stroke-width="1.1"/></g><line x1="1.0" y1="31.8" x2="6.5" y2="31.8" stroke="#222" stroke-width="0.7"/></svg></g>
<text x="153.70" y="291.20" text-anchor="middle" fill="#000" stroke="#000" stroke-width="0.18" style="font-size:3.8px;font-weight:bold;">Erastin</text>
<line x1="100.00" y1="293.00" x2="207.00" y2="293.00" stroke="#111" stroke-width="0.8"/>
<text x="117.75" y="297.10" text-anchor="middle" fill="#000" stroke="#000" stroke-width="0.18" style="font-size:3.6px;font-weight:bold;">Mock</text>
<g><rect x="100.50" y="298.20" width="34.50" height="33.80" fill="#b4b4b4"/><svg x="100.50" y="298.20" width="34.50" height="33.80" overflow="hidden"><g filter="url(#blur03)" stroke-linecap="round" stroke-linejoin="round" fill="none"><path d="M17.8 8.9L16.7 10.3L16.0 11.6M24.4 1.7L24.9 2.9M0.8 30.2L-1.2 29.9L-2.4 28.6L-3.0 26.9M-1.1 11.7L-2.1 12.1L-3.3 11.8L-4.6 11.1M22.3 17.6L23.4 18.9M15.3 17.4L15.1 19.3L15.5 21.2M-0.4 -0.0L-0.9 1.8L-1.5 3.2L-2.5 3.7M30.0 8.8L29.5 10.2L28.7 10.8M24.3 7.7L24.1 9.1L24.5 10.0L26.2 10.9M15.7 21.4L17.1 22.1L18.5 23.5M10.0 15.1L9.1 15.1M0.8 3.4L2.2 3.8L4.2 3.7M25.2 -0.1L25.5 1.0L25.1 2.5L25.1 4.1M11.4 4.8L10.1 6.2L9.4 7.4L7.8 8.6M3.3 1.7L4.1 2.6L4.6 4.2L4.2 5.3M19.7 32.6L21.3 32.9L22.3 32.6M25.7 27.1L24.2 27.8M16.5 26.8L15.5 27.2L14.2 26.9M0.9 6.0L0.5 8.0L-0.6 9.7L-0.8 10.6M36.1 29.7L36.8 30.9M25.6 32.7L26.4 33.3L28.2 33.5L30.1 33.5M13.5 20.2L13.8 21.6M22.5 24.2L21.9 25.1M24.0 18.3L24.0 19.9L23.5 21.9M18.4 19.5L19.7 19.4L20.9 19.7M10.1 15.2L11.9 15.0M19.6 21.5L20.0 22.5M29.9 14.7L31.6 16.0L32.2 16.6M8.7 31.4L9.2 33.3L9.3 34.6L10.1 36.5M35.3 5.8L35.1 7.2L33.9 8.6L33.3 9.8M23.5 13.6L23.6 14.9M1.8 22.3L2.2 24.2L1.8 25.0M22.1 2.0L22.4 3.8M12.6 -1.2L14.3 -1.2L16.0 -0.7M24.3 5.6L22.6 6.9L21.7 7.2M27.0 18.1L25.9 19.5M29.5 8.7L28.7 10.2L27.6 11.9M31.2 7.4L31.6 8.9L31.0 10.5M18.3 31.2L18.8 32.2L20.0 33.6M9.9 31.7L7.9 32.0L6.8 32.6L6.0 33.9M27.7 24.6L29.0 26.0M19.5 7.4L20.6 8.1M26.0 34.3L24.5 35.3M26.5 17.9L27.9 17.7M6.2 33.5L6.0 35.2M19.6 3.1L18.7 4.6M22.2 33.2L21.0 34.2L19.7 34.5L18.6 34.5M29.0 15.9L29.2 17.3L30.1 18.5L30.9 19.1M9.9 33.4L9.9 34.9L10.6 36.3L11.4 37.4M14.0 29.0L12.8 30.3L12.0 31.6M10.5 26.3L11.6 27.1L12.8 27.9M16.0 19.9L15.1 20.6L13.5 20.9M10.6 21.3L9.6 22.1L8.8 22.6M20.6 14.4L20.3 15.4M32.9 8.8L34.5 10.1L35.9 10.6L37.2 11.6M27.9 12.9L26.4 12.0L25.0 10.5M10.9 9.1L11.7 10.8L11.8 12.5M21.2 17.5L21.9 18.3L23.6 18.8M7.7 15.3L6.8 15.3L5.5 15.8M7.4 1.3L8.7 2.5M25.6 0.3L26.4 2.2L26.9 3.0M7.4 31.2L8.4 32.5L10.1 33.5M18.4 31.9L19.6 32.1L21.3 32.4M34.0 12.6L33.7 14.2M17.8 27.2L18.5 28.2L18.7 29.5M18.9 13.8L19.8 14.9L20.9 15.8M5.5 4.2L6.6 5.0L8.0 6.2L10.0 6.3M27.7 30.9L26.2 30.9L25.1 30.0M20.8 4.8L20.6 5.8L21.3 7.5L21.9 8.8M4.4 31.8L5.6 32.9L7.6 33.4L8.6 34.8M12.5 14.2L13.4 15.0L14.4 16.8M23.2 30.7L23.6 32.3L24.0 33.7L24.9 35.1M24.4 29.3L23.1 30.1L22.1 30.8L20.8 32.4M0.5 34.5L1.5 35.6L1.8 36.5L1.7 38.0M32.6 3.0L32.4 4.6L33.0 5.7M27.5 6.6L28.8 7.8L29.6 8.7M25.2 3.2L25.9 4.3M19.6 2.9L17.9 3.3M26.1 14.9L27.4 15.1L28.2 16.0M16.0 8.5L15.8 10.1L15.0 10.8M28.3 15.4L29.2 15.7L30.9 15.0M26.6 30.7L27.0 31.7L27.1 33.1M5.7 15.7L6.7 16.4L7.3 18.2L7.6 19.4M21.7 12.7L22.7 12.3L23.8 11.2M2.2 34.2L1.0 34.8L0.3 35.7M30.3 21.7L30.0 23.4M25.8 7.5L25.1 8.3L24.1 9.1M4.5 27.2L5.7 28.3L6.6 30.0L6.4 31.4M0.4 9.6L1.4 11.2L2.5 12.9L2.6 13.9M27.4 21.3L28.7 22.5L29.2 23.5L29.9 24.4M16.4 26.1L15.3 27.2M6.4 11.4L4.5 11.4L3.0 10.3L1.7 10.4M24.4 17.9L25.5 19.4L26.0 20.9L25.7 22.8M3.2 14.3L1.5 15.0M12.9 7.3L12.6 9.2M34.5 13.7L35.4 14.3M25.7 22.8L24.7 23.6L23.2 23.8M15.5 28.6L15.3 29.5L14.6 31.0L13.3 32.0M27.7 6.9L25.9 7.8L24.8 8.4M31.4 11.4L30.2 13.0L29.0 14.1L28.2 14.8M30.6 2.5L30.9 4.5L30.7 6.5M30.5 32.4L31.5 32.9L33.2 32.9L34.6 32.5M29.8 29.5L28.5 28.6L27.4 27.8M14.1 1.2L14.8 2.3L15.0 3.8M23.5 20.3L24.9 20.4M16.2 17.8L15.1 18.4L14.2 18.3M15.2 8.9L17.1 9.1L18.6 9.1M6.6 10.7L4.9 11.1L2.9 11.4M33.4 2.8L32.3 4.3M27.5 31.9L26.8 33.2L26.0 34.0L24.3 35.1M10.9 9.4L11.5 11.2L11.8 12.3M8.6 -0.6L10.0 -1.1L12.0 -1.7L14.0 -2.0M-0.6 14.8L-2.2 15.1L-4.1 15.9M24.5 22.4L24.6 23.9M3.9 28.0L5.7 27.9M2.1 8.7L0.8 10.2L-0.7 11.0M0.5 32.0L-0.0 32.8M9.3 19.0L9.6 20.7L9.9 22.2M10.6 20.4L12.4 20.7L14.0 21.6L15.7 22.1M12.5 10.9L14.4 10.8L15.3 10.3M15.2 30.7L14.5 31.3L13.5 32.4L13.5 33.7M0.5 19.8L1.8 20.8L2.9 20.9M4.5 10.5L3.5 11.6M9.8 17.2L9.4 18.3L8.2 19.3M32.3 18.1L31.5 18.6L30.5 18.7M10.5 12.0L11.8 12.3L13.2 12.8M18.7 13.7L17.7 13.4L16.1 13.5M18.7 32.0L19.8 32.5L21.6 32.3L22.7 32.2M10.9 -1.0L11.5 0.4L12.3 1.8M24.8 -0.3L24.0 0.3L23.5 1.3L22.9 2.7M21.9 4.1L23.2 4.7L24.1 5.0L25.3 6.0M25.9 28.1L24.6 29.1L23.8 30.7L22.5 31.7M21.3 20.6L21.9 21.7L22.7 23.0M15.4 34.1L15.5 35.1L16.7 36.6M10.1 6.6L11.3 6.6L13.2 6.4M-0.7 22.0L-1.2 22.8L-2.4 23.2L-4.0 22.8M27.1 27.5L27.4 29.0L28.6 30.6M4.0 27.0L3.9 28.8L3.6 30.4M8.6 2.8L9.9 3.8M1.9 21.6L3.1 21.3L4.1 21.3M27.2 2.3L26.0 3.4L24.8 5.0L23.8 6.1M26.9 -0.2L27.0 1.4L27.1 2.6M31.4 13.9L30.4 15.1L29.5 16.3M3.6 21.0L3.8 22.0L3.4 23.3M13.9 16.1L14.3 17.1L14.9 18.3M12.9 20.6L11.5 22.0L11.3 23.6L11.8 24.5M25.7 20.9L25.9 22.7L25.3 23.9L24.4 25.7M29.5 19.6L28.4 20.7L26.7 20.8L24.9 21.1M0.0 8.8L1.3 9.3L2.9 9.8M31.4 26.7L29.6 27.6L28.1 29.1M0.9 25.2L2.2 26.2L3.7 26.9L5.0 28.2M5.6 13.0L4.8 13.5M25.9 5.2L27.1 6.6L28.4 7.0M35.7 27.1L36.9 28.0L37.6 29.6M30.4 4.4L30.0 6.0L29.4 7.8M9.0 27.7L8.9 29.1L8.4 30.5L7.2 31.6M24.4 26.5L23.0 27.2L21.5 27.7M25.9 15.7L27.9 16.3L28.7 17.0M33.0 9.9L33.8 11.5L35.2 12.7M25.4 12.0L27.1 12.4L28.0 13.5L29.2 13.9M3.7 28.0L4.7 29.8L4.8 31.6M3.5 14.6L2.2 15.5L0.9 15.5L-0.2 14.8M29.3 4.9L29.6 6.0L30.5 7.6L31.7 8.8M-0.3 1.1L-1.5 2.3L-2.5 2.4L-3.4 2.9M7.8 11.3L9.2 12.6L9.9 14.6M8.6 31.1L8.0 31.9L7.4 33.8M35.5 22.8L34.5 23.7L33.6 24.6L32.7 25.9M9.5 26.7L9.0 27.8" stroke="#d8d8d8" stroke-width="0.6"/><path d="M17.2 8.5L16.0 9.9L15.3 11.3M23.7 2.1L24.2 3.2M14.6 17.5L14.4 19.4L14.7 21.3M-0.8 -0.7L-1.2 1.1L-1.9 2.5L-2.8 3.0M29.6 8.2L29.1 9.6L28.3 10.2M23.9 8.4L23.7 9.7L24.2 10.7L25.8 11.6M15.2 21.9L16.5 22.7L17.9 24.1M10.0 14.4L9.1 14.4M10.9 4.2L9.6 5.6L9.0 6.8L7.3 8.0M2.6 1.4L3.4 2.3L3.9 3.9L3.5 5.0M25.4 26.4L23.9 27.1M16.7 26.1L15.7 26.5L14.4 26.1M0.1 5.9L-0.2 7.9L-1.4 9.6L-1.6 10.5M25.6 33.4L26.4 34.1L28.2 34.3L30.1 34.3M21.9 23.8L21.3 24.7M8.0 31.7L8.5 33.6L8.6 34.9L9.4 36.8M21.3 2.1L21.7 3.9M26.4 17.7L25.3 19.0M30.5 7.1L30.9 8.7L30.3 10.3M17.7 31.7L18.2 32.6L19.4 34.1M9.2 31.3L7.3 31.6L6.1 32.2L5.3 33.5M18.9 2.7L18.0 4.2M28.6 16.5L28.8 17.9L29.7 19.1L30.5 19.7M9.3 33.9L9.3 35.4L10.0 36.7L10.8 37.8M15.8 19.2L14.9 19.9L13.4 20.2M10.2 20.6L9.2 21.5L8.4 21.9M32.5 9.4L34.0 10.7L35.4 11.2L36.7 12.2M28.5 12.4L26.9 11.5L25.5 10.0M10.2 9.2L10.9 10.8L11.1 12.6M6.9 1.9L8.2 3.1M33.2 12.5L33.0 14.1M18.4 14.4L19.4 15.5L20.4 16.4M5.5 4.9L6.5 5.8L7.9 6.9L10.0 7.1M28.2 30.4L26.7 30.3L25.6 29.5M3.8 32.2L5.0 33.3L7.0 33.8L8.0 35.2M23.8 28.9L22.6 29.7L21.5 30.4L20.2 31.9M31.9 3.4L31.7 4.9L32.3 6.1M27.0 7.1L28.2 8.3L29.0 9.2M24.6 3.6L25.3 4.7M19.4 2.2L17.7 2.6M15.5 8.0L15.3 9.5L14.5 10.3M28.5 16.1L29.5 16.4L31.2 15.7M25.8 30.8L26.2 31.8L26.4 33.2M5.0 15.8L6.0 16.5L6.5 18.4L6.8 19.6M22.2 13.2L23.2 12.9L24.3 11.8M1.6 33.8L0.3 34.3L-0.3 35.2M29.6 21.6L29.2 23.3M25.2 6.9L24.6 7.7L23.6 8.6M26.8 21.8L28.1 22.9L28.6 24.0L29.3 24.8M23.6 17.8L24.8 19.3L25.3 20.7L25.0 22.6M12.2 7.2L11.9 9.0M29.9 2.5L30.1 4.5L29.9 6.5M30.3 28.9L29.0 28.0L27.9 27.2M13.4 1.3L14.1 2.3L14.3 3.9M23.4 21.1L24.9 21.2M32.8 2.4L31.7 3.9M10.2 9.6L10.8 11.4L11.1 12.5M3.9 28.8L5.7 28.6M1.7 8.1L0.4 9.6L-1.1 10.4M14.5 30.6L13.7 31.3L12.8 32.4L12.8 33.7M3.9 10.0L2.9 11.2M9.3 16.6L8.9 17.7L7.7 18.7M32.2 17.4L31.4 17.8L30.4 18.0M24.1 -0.6L23.3 -0.0L22.9 1.0L22.2 2.3M25.5 27.5L24.1 28.5L23.4 30.1L22.0 31.1M14.8 34.6L14.9 35.6L16.1 37.1M10.2 7.3L11.4 7.4L13.3 7.2M8.1 3.5L9.5 4.4M26.7 1.8L25.5 2.9L24.3 4.5L23.2 5.5M13.2 16.5L13.6 17.4L14.3 18.7M12.2 21.0L10.9 22.3L10.6 23.9L11.1 24.8M25.0 20.6L25.2 22.4L24.7 23.6L23.8 25.4M30.8 26.1L29.0 27.1L27.6 28.5M0.3 25.7L1.6 26.7L3.2 27.4L4.4 28.7M5.1 12.3L4.4 12.9M25.8 5.9L26.9 7.4L28.2 7.7M25.1 12.8L26.8 13.1L27.8 14.2L29.0 14.6M3.0 28.1L3.9 29.9L4.1 31.6M8.8 26.4L8.3 27.5" stroke="#7c7c7c" stroke-width="0.75"/><path d="M1.5 29.9L-0.5 29.6L-1.7 28.4L-2.3 26.6M-0.8 11.1L-1.8 11.4L-2.9 11.2L-4.2 10.5M21.7 18.1L22.8 19.4M0.8 4.1L2.3 4.6L4.2 4.4M24.5 -0.0L24.7 1.0L24.3 2.5L24.4 4.2M19.9 33.3L21.5 33.6L22.5 33.3M35.4 30.1L36.2 31.3M12.8 20.3L13.1 21.7M23.2 18.1L23.3 19.7L22.7 21.6M18.3 20.2L19.5 20.2L20.8 20.4M10.2 16.0L12.0 15.8M18.9 21.8L19.3 22.8M29.5 15.3L31.1 16.6L31.8 17.2M34.6 5.4L34.4 6.9L33.2 8.2L32.6 9.4M22.7 13.7L22.8 15.0M1.2 22.0L1.5 23.9L1.1 24.7M12.4 -0.5L14.1 -0.4L15.8 0.1M24.0 4.9L22.3 6.2L21.5 6.5M28.9 8.3L28.1 9.8L27.0 11.5M27.2 25.1L28.4 26.5M19.1 8.0L20.2 8.7M25.6 33.7L24.1 34.7M26.6 18.7L28.0 18.4M5.5 33.4L5.2 35.1M22.3 32.4L21.0 33.4L19.7 33.8L18.6 33.7M13.4 28.6L12.2 29.9L11.4 31.2M10.1 26.9L11.2 27.7L12.4 28.5M19.9 14.2L19.6 15.1M21.0 18.2L21.7 19.0L23.4 19.5M7.5 14.7L6.5 14.6L5.2 15.1M24.9 0.7L25.8 2.6L26.3 3.4M7.1 31.9L8.0 33.2L9.8 34.2M18.3 32.6L19.5 32.8L21.2 33.2M17.0 27.3L17.8 28.3L18.0 29.6M20.1 5.1L20.0 6.1L20.6 7.8L21.3 9.1M11.8 14.5L12.7 15.3L13.7 17.2M22.5 31.1L23.0 32.7L23.3 34.2L24.3 35.5M-0.2 34.4L0.8 35.6L1.1 36.5L0.9 37.9M25.6 15.4L26.8 15.7L27.7 16.6M3.8 27.1L4.9 28.2L5.9 29.9L5.7 31.3M-0.4 9.7L0.6 11.3L1.8 13.0L1.9 14.0M15.9 25.6L14.7 26.7M6.4 10.6L4.5 10.6L3.0 9.6L1.7 9.6M2.9 13.6L1.2 14.3M34.0 14.3L34.9 14.9M25.6 22.0L24.6 22.9L23.1 23.1M15.1 28.0L14.9 28.9L14.2 30.4L12.9 31.4M27.3 6.3L25.5 7.1L24.4 7.8M30.9 10.9L29.7 12.4L28.4 13.6L27.7 14.3M30.7 33.1L31.7 33.6L33.5 33.6L34.8 33.2M16.3 17.1L15.2 17.7L14.3 17.6M15.2 9.7L17.1 9.9L18.6 9.8M6.6 10.0L4.8 10.4L2.8 10.6M27.1 31.2L26.4 32.6L25.7 33.4L23.9 34.5M8.7 0.2L10.1 -0.4L12.1 -1.0L14.1 -1.2M-0.9 14.2L-2.6 14.4L-4.4 15.2M23.8 22.5L23.9 24.0M-0.1 31.6L-0.7 32.4M8.6 19.1L8.9 20.8L9.2 22.4M10.4 21.1L12.1 21.4L13.8 22.3L15.4 22.8M12.9 11.5L14.8 11.4L15.7 10.9M0.5 20.5L1.7 21.5L2.8 21.6M10.2 12.7L11.5 13.0L12.9 13.6M18.6 12.9L17.6 12.7L16.1 12.8M18.8 32.8L19.9 33.2L21.7 33.1L22.8 32.9M10.3 -0.7L10.9 0.8L11.6 2.2M21.4 4.7L22.7 5.2L23.7 5.6L24.8 6.5M20.6 20.9L21.3 22.1L22.1 23.4M-0.5 21.3L-1.0 22.0L-2.2 22.5L-3.8 22.1M26.5 27.9L26.8 29.4L27.9 31.1M3.3 26.8L3.2 28.6L2.8 30.2M1.8 22.3L3.0 22.0L4.1 22.0M26.1 -0.2L26.3 1.4L26.3 2.6M30.8 13.4L29.8 14.7L28.9 15.9M2.9 20.8L3.1 21.8L2.7 23.1M29.4 18.8L28.2 19.9L26.6 20.1L24.8 20.3M-0.2 9.5L1.1 10.0L2.7 10.5M35.0 27.3L36.2 28.3L36.9 29.9M29.7 4.1L29.3 5.7L28.7 7.6M8.5 27.2L8.4 28.5L7.9 30.0L6.7 31.0M24.2 25.8L22.8 26.5L21.3 27.0M25.5 16.3L27.4 16.9L28.3 17.6M32.6 10.4L33.3 12.1L34.7 13.3M3.9 14.0L2.6 14.9L1.3 14.9L0.3 14.2M28.8 5.4L29.1 6.5L30.0 8.2L31.2 9.3M-0.6 0.5L-1.9 1.6L-2.9 1.7L-3.8 2.3M7.1 11.6L8.5 12.9L9.3 14.9M7.9 30.8L7.2 31.7L6.6 33.6M34.9 22.4L33.9 23.3L32.9 24.2L32.1 25.4" stroke="#959595" stroke-width="0.7"/><path d="M1.9 31.8h.1M30.3 3.6h.1M4.7 14.7h.1M23.7 7.7h.1M6.7 24.5h.1M9.1 32.5h.1M0.1 32.7h.1M34.0 17.4h.1M23.5 17.6h.1M7.3 29.8h.1M16.8 6.5h.1M23.0 24.9h.1M8.6 14.1h.1M11.3 14.6h.1M32.3 32.9h.1M31.5 0.7h.1M21.5 16.0h.1M30.7 24.2h.1M9.1 27.1h.1M18.7 18.2h.1M20.9 30.1h.1M27.8 6.4h.1M22.9 21.6h.1M19.5 16.0h.1M13.3 20.4h.1M12.7 22.9h.1M0.5 12.8h.1M26.8 2.9h.1M21.0 15.6h.1M21.9 24.0h.1M28.7 28.1h.1M0.2 1.3h.1M8.6 33.5h.1M5.7 11.2h.1M13.5 30.4h.1M24.8 20.8h.1M26.0 29.0h.1M10.0 3.7h.1M26.4 6.3h.1M18.0 33.7h.1M6.5 29.6h.1M23.1 30.3h.1M16.7 8.1h.1M22.1 20.3h.1M1.4 16.9h.1" stroke="#cacaca" stroke-width="0.8"/><path d="M9.4 3.1h.1M27.1 33.3h.1M13.7 11.6h.1M32.9 8.0h.1M27.3 4.2h.1M18.4 31.7h.1M28.6 21.4h.1M16.5 10.8h.1M0.8 31.3h.1M28.3 4.2h.1M26.6 26.5h.1M25.2 16.8h.1M23.8 2.6h.1M0.6 8.7h.1M0.1 14.8h.1M27.6 10.3h.1M1.7 12.8h.1M15.3 16.1h.1M12.7 15.0h.1M23.3 21.1h.1M24.7 17.8h.1M23.4 0.9h.1M18.3 30.9h.1M26.0 24.3h.1M8.4 32.5h.1M9.8 13.3h.1M25.8 10.8h.1M6.6 15.3h.1M18.8 25.4h.1M8.8 0.3h.1M2.1 29.5h.1M9.4 26.2h.1M26.2 8.8h.1M12.6 26.6h.1M3.7 4.0h.1M8.6 19.8h.1M19.3 32.0h.1M28.2 21.7h.1" stroke="#a4a4a4" stroke-width="0.8"/><path d="M17.6 31.4h.1M19.7 9.4h.1M9.7 7.4h.1M28.9 33.1h.1M28.5 0.7h.1M4.8 26.1h.1M33.1 5.3h.1M14.5 10.2h.1M29.5 1.5h.1M26.0 11.4h.1M1.7 32.3h.1M30.7 32.6h.1M9.1 21.4h.1M3.1 27.7h.1M33.3 7.9h.1M3.5 33.5h.1M12.9 8.3h.1M22.4 22.6h.1M20.1 20.5h.1M19.4 8.0h.1M16.5 5.5h.1M31.4 3.2h.1M16.6 20.3h.1M6.5 3.1h.1M8.1 18.9h.1M31.6 22.5h.1M15.5 11.3h.1M8.7 21.1h.1M18.5 20.5h.1M32.1 7.0h.1M33.8 27.3h.1M16.1 24.2h.1M21.7 27.3h.1M30.1 15.7h.1" stroke="#6a6a6a" stroke-width="1.1"/></g><line x1="1.0" y1="32.3" x2="6.5" y2="32.3" stroke="#222" stroke-width="0.7"/></svg></g>
<text x="153.60" y="297.10" text-anchor="middle" fill="#000" stroke="#000" stroke-width="0.18" style="font-size:3.6px;font-weight:bold;">GLS2</text>
<g><rect x="136.40" y="298.20" width="34.40" height="33.80" fill="#b4b4b4"/><svg x="136.40" y="298.20" width="34.40" height="33.80" overflow="hidden"><g filter="url(#blur03)" stroke-linecap="round" stroke-linejoin="round" fill="none"><path d="M8.6 16.9L9.3 17.9L9.4 19.5M26.3 19.0L26.0 20.2L25.5 21.0M0.7 8.0L1.1 9.2L1.7 10.9M26.5 0.7L24.5 1.1L22.8 0.2M6.1 34.4L5.8 36.4M35.3 12.3L35.2 14.4L35.1 15.9M22.6 34.9L20.6 34.6M17.9 28.9L17.0 28.6L16.0 28.5L14.4 28.1M7.9 25.4L6.9 26.6L6.3 27.7M35.2 19.3L33.8 20.5L32.2 21.7M3.0 16.4L1.9 16.3M26.2 19.0L26.0 20.6L26.0 22.0M0.1 26.2L1.5 27.5L2.6 28.2L3.9 29.2M19.3 14.4L18.6 15.1L17.2 15.4M29.0 8.0L28.9 9.5L29.5 10.6M10.2 14.8L10.0 16.8L10.7 18.1M8.5 26.3L9.3 28.1M21.4 21.8L19.6 21.8L18.5 21.9M14.7 16.0L15.7 16.1L16.5 16.8L17.6 18.0M23.6 20.5L23.9 22.4L23.3 23.7L23.4 24.7M5.8 12.5L6.4 14.3M30.5 24.7L31.1 25.4M10.6 4.7L10.1 5.5L10.1 7.3M2.5 26.8L2.1 28.4L1.2 29.4L0.1 30.3M-0.2 15.7L1.0 15.8M22.9 11.0L21.5 12.4L19.9 12.9L19.1 14.1M5.6 17.0L3.8 17.4M29.0 31.3L28.2 32.4M26.0 7.5L25.2 8.0L24.2 9.8L23.5 11.6M33.9 25.1L35.0 26.8L35.4 27.9M3.1 21.4L2.8 22.5L3.0 23.6M31.6 2.3L31.8 3.9M30.2 29.0L30.5 30.8L30.9 31.6L31.3 33.7M33.1 9.2L32.4 10.6L31.4 11.3M25.9 29.4L26.1 30.7L26.4 32.6L26.4 33.6M7.6 7.3L6.9 8.1L5.9 9.7M1.0 0.8L2.3 2.0L3.3 2.6L4.1 3.4M32.9 28.4L31.4 29.6L30.3 30.9L29.8 32.5M20.0 7.0L21.1 7.6M14.7 3.0L16.0 3.9L16.5 4.8M28.4 15.4L29.1 16.4L30.1 17.1M29.4 14.9L29.5 16.6M33.7 18.7L35.2 20.1L35.9 22.0L35.6 23.8M20.4 9.7L20.1 10.8L19.9 12.4M9.5 11.0L9.0 12.8L9.6 14.3M33.6 6.6L32.4 6.5L31.1 7.2L30.0 7.0M16.5 15.9L15.2 16.8M26.5 17.2L26.1 18.9L25.5 20.0L24.6 20.7M32.9 27.7L32.7 28.9L31.5 30.1L30.7 31.8M4.2 0.7L3.6 1.4L3.1 3.1L3.6 4.3M2.0 28.8L2.3 29.8M2.8 2.7L1.7 4.5M30.3 2.5L31.7 2.3L32.7 1.8L34.0 1.0M22.0 11.4L20.9 12.0L19.0 12.0M20.9 10.3L19.5 10.3M6.5 31.6L5.6 32.3L3.9 32.6M20.7 30.9L20.6 31.9L20.8 33.6M12.3 12.6L11.2 12.1M32.9 3.2L32.9 4.8L33.8 5.8M27.7 7.1L28.9 8.8L29.8 9.4M23.6 17.9L25.0 18.7M12.4 2.2L12.1 4.2L11.7 6.0L12.0 6.8M15.5 6.0L16.7 7.7L17.6 8.5L18.0 9.6M27.1 2.8L27.8 3.5L28.4 4.2L29.1 5.2M33.1 7.7L33.1 9.8L32.1 11.5M0.2 1.5L0.6 2.8L1.0 4.1M25.3 -0.5L25.0 1.2L25.0 3.2M17.8 31.0L17.7 32.9L18.1 34.3M5.6 24.3L7.0 24.8L8.0 26.2L8.2 27.2M8.2 23.0L8.2 24.2L9.3 25.5M8.8 13.1L7.2 13.3L6.3 14.3M27.7 -1.1L26.9 0.5L26.7 2.4L27.5 4.1M33.7 18.7L35.5 18.5L36.9 18.5M1.6 8.9L0.6 10.3L-0.9 11.1M35.7 23.1L34.5 24.0L33.3 24.7M12.1 33.8L13.4 35.1L14.3 35.3M18.1 9.6L18.3 11.0M16.5 19.9L17.6 20.6M7.8 0.3L6.9 0.6L5.6 1.4L4.6 2.0M3.0 2.7L2.3 4.1L1.5 4.8L0.3 5.0M17.9 19.7L16.4 21.0L14.9 21.2L13.1 21.0M1.8 12.8L2.7 13.6M-0.2 33.8L0.7 33.5L2.1 32.7L3.2 31.9M1.9 0.9L0.4 1.5L-0.7 1.5M0.7 4.4L-0.6 4.4M9.4 14.2L10.9 15.7L11.3 16.9L12.0 18.2M9.9 24.9L8.1 24.5M12.7 7.7L13.2 8.6L14.6 9.6M14.2 6.6L14.1 7.9L14.8 9.7M15.5 19.2L16.7 20.2M33.2 3.1L33.2 4.7L33.9 5.5M30.1 10.7L29.4 11.4L28.7 12.1L27.6 12.6M29.5 14.8L27.9 15.5L27.2 16.9L27.4 18.3M18.1 34.1L18.1 35.6L17.7 37.5M10.2 31.1L8.9 32.7L8.9 34.1M2.8 26.0L4.7 26.8L6.2 27.5M32.6 11.4L32.7 12.9M24.5 33.8L23.6 35.0L22.9 36.8M4.1 4.6L5.2 5.7L6.8 6.0M0.1 8.0L-0.4 10.0L-0.5 11.4M16.7 10.8L16.7 12.6L16.0 13.7L15.9 14.9M11.2 12.7L13.2 13.0L14.1 13.4M35.3 3.0L36.7 3.6L38.2 4.0M14.6 0.3L13.0 0.4L11.3 0.2M14.9 8.2L16.2 8.7L17.2 8.4M19.4 27.0L18.7 27.8L17.5 28.6L16.4 29.0M35.6 1.6L35.8 2.9L35.1 4.5L34.3 5.4M8.0 9.3L9.1 10.1L10.1 10.0M28.7 26.3L30.1 26.9M14.4 28.5L12.8 29.4M23.8 24.4L24.9 25.4L26.6 25.6M0.3 21.5L-0.2 22.4L-1.3 23.3M0.9 10.1L1.6 10.8M20.0 29.9L18.9 30.0M25.2 30.4L23.9 31.7L23.1 33.4M31.3 16.9L31.4 18.5L30.7 20.1L29.9 21.6M28.0 5.1L27.7 6.7M2.2 27.4L4.1 28.2M25.9 11.7L24.9 13.0L24.1 14.2M27.2 -0.4L27.9 1.1L28.9 2.5M29.5 5.2L28.8 6.2L28.7 7.5L28.7 9.5M20.7 19.4L21.0 20.6L20.9 21.7M10.8 27.6L10.3 28.4L9.1 29.3L8.5 30.2M24.0 4.7L22.9 5.4L22.4 7.3L22.4 8.3M15.9 18.8L15.9 20.4L16.4 22.1M30.9 27.9L32.5 29.1L33.8 29.4M32.7 21.5L32.6 22.6L32.2 23.7M12.8 29.1L12.1 30.6L12.4 32.1M30.9 3.2L32.4 4.1L33.6 4.0M18.3 11.9L18.3 13.7L17.9 14.6M31.4 20.7L31.6 21.6L31.9 22.6M24.7 14.2L26.4 14.6L28.0 14.0M31.0 5.6L31.9 7.0L32.8 8.2L33.2 10.0M5.2 13.1L5.5 13.9L7.1 15.1M12.7 24.4L13.6 25.2L13.9 26.9M0.0 -1.5L1.4 -0.4L3.1 0.7M31.5 26.5L32.3 27.1L32.9 27.9M32.0 27.6L32.4 28.4L32.5 29.5L31.9 31.3M18.0 9.1L19.4 9.4L20.4 9.9M10.9 22.7L10.2 23.6L9.8 25.3M23.5 24.1L22.5 25.0L21.6 26.9M34.6 23.1L35.3 24.8L36.2 25.4M9.5 2.0L7.6 2.4L5.9 2.6M23.0 24.0L22.2 25.5L20.9 26.8L20.8 28.7M2.5 20.2L2.9 21.2M6.1 7.0L7.3 7.9L9.2 8.1M14.2 25.4L12.9 24.8L11.4 24.1M30.1 19.9L28.8 19.8L27.2 19.9L26.0 19.8M27.2 24.6L28.7 24.6L30.3 25.0M4.3 9.5L5.3 10.2M33.5 11.2L33.2 12.6L32.6 13.7M21.8 8.4L20.3 8.1L19.0 6.7L18.9 5.4M28.3 0.9L28.3 1.9L28.7 2.8L28.4 4.4M12.6 32.4L11.4 33.1L9.6 33.2M2.8 12.6L2.2 14.2M15.1 4.8L14.6 6.0L13.4 7.4M1.8 9.0L0.3 10.6M23.3 23.6L23.0 24.7L22.7 26.2L22.3 27.1M9.3 30.5L10.7 31.5L11.8 32.1M2.6 23.9L1.3 23.7M25.7 26.5L25.0 28.0L24.1 29.1L23.8 30.7M5.8 33.0L4.8 33.5M26.1 17.2L26.1 18.8L26.2 20.4M22.0 6.1L20.5 6.4L19.1 7.2M5.2 27.3L6.3 28.3L7.9 29.7M5.6 9.7L4.9 10.6L4.5 11.9L5.0 13.9M22.7 13.9L21.2 14.0M31.3 22.6L32.3 22.4L34.2 22.2" stroke="#d8d8d8" stroke-width="0.6"/><path d="M25.6 18.6L25.3 19.8L24.9 20.6M0.0 8.2L0.4 9.5L1.0 11.2M26.8 0.1L24.9 0.4L23.2 -0.5M5.4 34.3L5.1 36.3M22.7 34.2L20.7 33.8M34.7 18.7L33.3 19.9L31.8 21.1M19.1 13.6L18.4 14.4L17.1 14.7M28.4 8.3L28.2 9.9L28.9 11.0M9.5 15.2L9.3 17.2L10.0 18.5M7.8 26.6L8.7 28.4M14.2 16.5L15.2 16.6L15.9 17.3L17.0 18.5M22.9 20.6L23.2 22.4L22.5 23.8L22.6 24.7M5.1 12.7L5.7 14.5M2.0 26.2L1.6 27.8L0.7 28.8L-0.4 29.7M-0.3 16.4L1.0 16.6M22.3 10.6L20.9 12.0L19.2 12.5L18.5 13.7M2.4 21.5L2.1 22.6L2.3 23.7M30.9 2.4L31.1 4.0M29.4 29.2L29.8 30.9L30.2 31.7L30.5 33.8M0.4 1.3L1.7 2.5L2.8 3.1L3.5 3.9M32.2 28.2L30.7 29.3L29.5 30.7L29.0 32.3M14.1 3.4L15.3 4.2L15.8 5.1M28.0 16.0L28.7 17.0L29.7 17.7M33.0 18.6L34.5 20.0L35.2 21.8L34.8 23.6M19.6 9.6L19.3 10.7L19.2 12.3M16.1 15.3L14.8 16.1M32.2 27.3L32.0 28.6L30.8 29.8L30.0 31.5M2.2 2.3L1.1 4.1M30.7 3.1L32.1 2.9L33.1 2.5L34.4 1.7M22.0 10.6L20.9 11.3L19.0 11.3M20.9 9.6L19.5 9.6M23.2 18.6L24.7 19.3M-0.5 1.7L-0.1 3.0L0.2 4.3M17.1 31.2L17.0 33.1L17.4 34.6M4.9 24.5L6.3 25.0L7.3 26.4L7.5 27.3M8.2 12.6L6.7 12.8L5.8 13.8M17.4 9.7L17.5 11.1M2.9 2.0L2.2 3.4L1.4 4.1L0.2 4.2M1.3 13.3L2.2 14.1M2.0 0.1L0.4 0.8L-0.7 0.7M12.3 8.4L12.8 9.3L14.2 10.2M13.5 6.9L13.4 8.2L14.1 10.0M15.0 19.8L16.2 20.8M28.7 14.8L27.2 15.6L26.5 16.9L26.6 18.4M17.4 33.9L17.4 35.4L16.9 37.3M9.4 31.1L8.2 32.7L8.1 34.1M4.0 5.3L5.0 6.4L6.6 6.7M-0.6 7.9L-1.1 9.9L-1.3 11.3M16.0 10.7L15.9 12.5L15.3 13.6L15.1 14.8M10.8 13.3L12.9 13.6L13.7 14.1M14.6 -0.5L13.1 -0.4L11.4 -0.5M8.0 10.0L9.2 10.8L10.2 10.8M28.4 27.0L29.8 27.6M14.0 27.8L12.4 28.8M23.7 25.2L24.9 26.1L26.5 26.4M-0.1 20.9L-0.6 21.8L-1.8 22.7M0.4 10.7L1.1 11.3M30.6 16.6L30.8 18.2L30.0 19.8L29.2 21.3M27.2 5.0L27.0 6.5M28.7 5.2L28.1 6.2L27.9 7.5L27.9 9.5M30.8 28.7L32.4 29.9L33.7 30.1M32.0 21.3L31.8 22.4L31.5 23.5M12.1 29.2L11.4 30.7L11.6 32.2M31.0 3.9L32.5 4.9L33.7 4.7M30.2 5.8L31.2 7.1L32.1 8.3L32.5 10.2M4.8 13.7L5.0 14.6L6.7 15.7M12.0 24.6L12.9 25.4L13.2 27.1M31.2 27.4L31.7 28.2L31.7 29.3L31.2 31.1M17.6 9.7L19.0 10.1L20.0 10.6M9.4 1.2L7.5 1.7L5.8 1.9M1.8 20.5L2.2 21.5M14.5 24.7L13.2 24.1L11.7 23.4M30.1 19.2L28.8 19.1L27.2 19.1L26.1 19.0M27.0 25.3L28.5 25.3L30.1 25.7M22.6 8.4L21.1 8.0L19.8 6.6L19.6 5.3M12.5 31.7L11.4 32.4L9.6 32.5M2.0 12.4L1.5 14.0M14.5 4.4L14.0 5.5L12.8 6.9M9.0 31.2L10.3 32.2L11.4 32.8M4.7 27.9L5.8 28.8L7.4 30.2M4.9 9.9L4.2 10.8L3.8 12.1L4.3 14.0M22.7 13.1L21.2 13.2" stroke="#7c7c7c" stroke-width="0.75"/><path d="M7.9 17.0L8.5 18.0L8.7 19.5M34.6 12.2L34.4 14.3L34.3 15.8M18.1 28.1L17.2 27.9L16.2 27.8L14.6 27.4M7.2 25.1L6.2 26.3L5.6 27.4M3.1 15.6L2.0 15.5M25.4 19.0L25.2 20.6L25.2 22.0M-0.4 26.8L1.0 28.1L2.1 28.8L3.4 29.8M21.3 21.0L19.5 21.1L18.5 21.2M30.0 25.2L30.6 25.9M9.8 4.8L9.3 5.5L9.4 7.3M5.4 16.3L3.7 16.7M28.4 30.9L27.6 32.0M25.4 7.2L24.5 7.7L23.5 9.5L22.8 11.3M33.2 25.3L34.3 27.1L34.7 28.1M32.6 8.6L32.0 10.0L31.0 10.7M25.1 29.4L25.3 30.7L25.6 32.6L25.7 33.7M7.0 6.8L6.3 7.6L5.2 9.3M19.7 7.7L20.8 8.2M28.7 15.0L28.8 16.6M8.8 11.3L8.3 13.1L8.9 14.6M33.7 5.9L32.5 5.7L31.3 6.5L30.1 6.3M26.1 16.6L25.7 18.4L25.1 19.4L24.1 20.1M3.5 1.0L2.9 1.7L2.4 3.4L2.9 4.6M1.3 29.0L1.6 30.1M6.4 30.9L5.5 31.6L3.8 31.9M19.9 31.0L19.8 32.1L20.1 33.7M12.6 11.9L11.5 11.4M32.3 3.6L32.3 5.3L33.2 6.3M27.3 7.7L28.4 9.4L29.4 10.0M11.7 2.5L11.4 4.5L11.0 6.3L11.3 7.1M14.8 6.2L16.0 7.9L16.9 8.7L17.3 9.8M26.5 3.2L27.2 3.9L27.8 4.7L28.5 5.6M32.5 7.3L32.4 9.4L31.4 11.1M24.6 -0.6L24.3 1.2L24.2 3.1M7.7 23.4L7.6 24.6L8.7 26.0M27.0 -0.8L26.2 0.8L26.0 2.7L26.8 4.4M33.7 19.5L35.5 19.3L36.9 19.3M1.2 8.2L0.2 9.6L-1.3 10.4M35.3 22.5L34.1 23.3L33.0 24.0M12.0 34.6L13.2 35.8L14.2 36.0M16.1 20.5L17.2 21.2M7.4 -0.4L6.5 -0.1L5.3 0.8L4.3 1.3M18.0 18.9L16.4 20.3L15.0 20.4L13.2 20.3M0.2 34.4L1.1 34.1L2.5 33.3L3.7 32.5M0.7 3.6L-0.6 3.7M8.8 14.5L10.2 16.1L10.6 17.2L11.4 18.6M10.0 24.2L8.3 23.7M32.6 3.5L32.6 5.1L33.3 5.9M29.8 10.1L29.0 10.8L28.4 11.4L27.3 12.0M2.5 26.6L4.3 27.4L5.9 28.2M31.8 11.4L31.9 12.9M23.8 33.5L22.9 34.8L22.2 36.6M35.1 3.8L36.5 4.3L38.0 4.7M15.0 8.9L16.4 9.4L17.4 9.2M19.1 26.3L18.4 27.1L17.3 27.9L16.2 28.3M35.1 1.0L35.3 2.4L34.6 4.0L33.7 4.9M19.9 29.2L18.8 29.3M24.5 30.1L23.3 31.4L22.5 33.1M1.9 28.1L3.8 28.9M25.3 11.3L24.3 12.6L23.5 13.8M26.6 0.1L27.3 1.5L28.3 2.9M20.0 19.3L20.2 20.6L20.2 21.7M10.1 27.2L9.6 28.0L8.4 28.9L7.8 29.8M23.3 4.6L22.2 5.4L21.7 7.2L21.6 8.3M15.2 19.0L15.2 20.6L15.6 22.3M17.6 11.6L17.6 13.4L17.2 14.4M30.7 21.0L30.9 21.9L31.2 22.9M25.0 14.9L26.7 15.3L28.2 14.7M-0.4 -0.9L1.0 0.2L2.7 1.4M31.0 26.9L31.7 27.6L32.3 28.3M10.2 22.6L9.5 23.4L9.0 25.1M22.8 23.8L21.8 24.7L20.9 26.6M34.1 23.7L34.9 25.4L35.8 26.0M22.2 23.9L21.4 25.4L20.2 26.7L20.0 28.7M6.0 7.7L7.2 8.7L9.1 8.8M3.9 10.2L4.9 10.8M32.9 10.8L32.6 12.2L31.9 13.3M27.6 0.8L27.6 1.7L28.0 2.6L27.6 4.3M1.2 8.5L-0.2 10.1M22.6 23.3L22.3 24.4L22.0 25.9L21.6 26.8M2.8 23.2L1.4 22.9M24.9 26.4L24.2 27.9L23.4 29.0L23.1 30.6M5.5 32.3L4.5 32.8M25.3 17.2L25.4 18.9L25.5 20.4M21.6 5.4L20.1 5.8L18.7 6.5M31.3 23.3L32.3 23.1L34.3 23.0" stroke="#959595" stroke-width="0.7"/><path d="M18.5 12.5h.1M3.4 10.8h.1M23.8 2.0h.1M11.5 22.5h.1M15.5 18.9h.1M25.4 2.3h.1M9.3 28.1h.1M31.0 32.4h.1M25.5 4.0h.1M22.7 26.0h.1M23.1 8.9h.1M4.4 11.9h.1M18.4 15.8h.1M9.2 29.7h.1M20.4 23.3h.1M13.3 11.1h.1M29.5 31.5h.1M29.4 19.0h.1M17.2 4.8h.1M11.7 6.3h.1M1.3 18.7h.1M9.1 3.4h.1M24.5 30.1h.1M14.6 3.7h.1M16.6 11.5h.1M21.7 30.2h.1M29.8 1.6h.1M33.3 3.1h.1M23.9 12.9h.1M14.8 3.6h.1M33.0 26.4h.1M26.0 19.6h.1M10.9 13.9h.1M21.0 28.9h.1M25.9 29.0h.1M17.0 21.2h.1M1.6 16.2h.1M5.6 31.9h.1M6.3 1.9h.1M18.7 5.0h.1M19.5 10.0h.1M28.6 24.6h.1M15.2 12.1h.1" stroke="#cacaca" stroke-width="0.8"/><path d="M24.7 28.8h.1M5.0 12.5h.1M10.2 25.4h.1M6.8 8.9h.1M14.2 1.2h.1M32.1 9.2h.1M10.7 26.2h.1M14.2 16.6h.1M33.0 6.3h.1M7.6 6.4h.1M19.5 3.7h.1M18.2 26.6h.1M31.8 23.2h.1M20.6 11.2h.1M33.9 8.7h.1M30.9 15.4h.1M24.7 8.3h.1M31.6 25.4h.1M27.3 17.9h.1M10.9 12.6h.1M24.9 21.6h.1M13.5 1.8h.1M1.0 17.0h.1M8.5 14.5h.1M32.1 24.2h.1M17.7 31.5h.1M23.3 23.1h.1M31.2 1.9h.1M12.3 1.0h.1M8.3 28.4h.1M9.4 16.2h.1M5.2 16.2h.1M0.1 11.2h.1M30.8 24.9h.1M23.0 28.7h.1M1.7 21.4h.1M33.9 32.7h.1M0.1 13.1h.1M16.4 29.3h.1M17.4 33.6h.1" stroke="#a4a4a4" stroke-width="0.8"/><path d="M13.5 13.5h.1M28.9 19.8h.1M2.5 25.8h.1M7.7 1.5h.1M32.7 1.8h.1M19.3 22.0h.1M16.6 23.9h.1M17.5 21.7h.1M5.7 7.3h.1M21.6 1.5h.1M1.3 22.1h.1M6.9 28.0h.1M30.5 25.3h.1M26.6 31.4h.1M26.3 5.2h.1M13.9 31.9h.1M15.3 8.8h.1M15.6 20.4h.1M21.3 26.9h.1M24.5 20.0h.1M22.8 12.9h.1M28.1 29.3h.1M20.6 19.5h.1M1.2 29.6h.1M0.3 20.1h.1M1.0 31.7h.1M30.4 28.8h.1M6.5 29.1h.1M17.5 17.4h.1M29.3 25.6h.1M0.7 20.2h.1M33.8 31.8h.1M14.0 26.6h.1M19.7 33.4h.1" stroke="#6a6a6a" stroke-width="1.1"/></g><line x1="1.0" y1="32.3" x2="6.5" y2="32.3" stroke="#222" stroke-width="0.7"/></svg></g>
<text x="189.70" y="297.10" text-anchor="middle" fill="#000" stroke="#000" stroke-width="0.18" style="font-size:3.6px;font-weight:bold;">GLS2 + AOA</text>
<g><rect x="172.40" y="298.20" width="34.60" height="33.80" fill="#b4b4b4"/><svg x="172.40" y="298.20" width="34.60" height="33.80" overflow="hidden"><g filter="url(#blur03)" stroke-linecap="round" stroke-linejoin="round" fill="none"><path d="M35.1 1.7L33.8 2.1L33.2 3.0L31.5 3.7M34.0 14.0L35.2 13.9L36.5 13.2L37.9 12.6M13.8 30.3L12.3 29.8L10.6 28.8L9.7 28.2M9.9 10.9L8.2 11.3L7.4 11.6L6.5 13.1M15.3 4.5L16.9 4.2L17.9 3.6M2.2 5.5L1.9 7.5L0.7 9.0M21.6 4.7L20.0 5.1L18.8 6.4L18.5 8.1M12.2 0.9L13.8 0.2L15.4 -0.9M5.1 14.9L6.0 15.5L7.4 17.0M22.5 11.4L24.3 11.4L26.0 10.9M7.9 10.1L8.6 10.9L9.3 11.6M29.5 1.2L28.7 2.9L27.7 4.1M20.8 29.6L19.9 29.9L18.8 31.2M15.7 32.9L16.8 34.0L18.6 34.3M29.5 4.5L31.1 3.9L32.1 3.4M30.1 1.0L30.5 2.5L30.5 4.0M32.5 32.8L34.2 33.2M9.4 8.1L9.1 9.1L8.4 10.3M5.4 13.7L6.5 14.7L7.9 15.7L9.1 17.2M34.2 24.1L34.3 25.1L33.7 26.2M25.2 29.4L26.3 30.9L26.8 32.0M26.5 -0.8L26.1 0.3L26.2 2.2L25.9 3.8M16.6 4.0L15.2 4.7L14.3 5.2L13.0 6.3M9.8 31.7L10.9 31.1M18.3 11.4L16.4 10.6L15.5 10.1M4.8 14.0L3.8 15.4L3.1 16.7M12.0 22.6L11.0 24.4L10.2 25.4L9.0 27.0M2.0 11.4L2.2 12.7L1.8 14.6M20.1 7.5L20.6 8.8L20.7 10.7M5.7 12.3L4.7 13.4L4.4 14.4L4.9 15.8M5.9 21.6L4.7 21.2L3.3 20.8M34.9 24.8L36.6 24.8M26.5 10.4L25.5 11.9L24.3 12.7M-0.5 8.1L-1.2 9.5L-2.3 10.4L-3.9 11.6M5.9 20.2L5.2 20.9L4.7 22.3M16.0 19.5L17.6 19.9L19.3 19.6M3.4 12.9L5.4 13.2L6.2 13.7M15.1 15.2L13.4 15.5L11.6 15.4L10.5 14.4M18.7 16.4L20.4 17.6L21.1 19.3L22.0 20.5M16.9 7.3L17.7 8.9L18.2 10.9L19.1 11.8M1.5 6.4L2.3 8.1L2.3 9.3L2.6 11.1M4.4 32.2L5.2 33.9M5.2 0.2L4.5 1.2L4.0 2.8M6.9 2.4L7.1 3.6L8.4 4.8M11.8 21.8L11.5 23.4L11.7 24.6L11.6 25.9M18.0 4.1L19.1 4.0M27.8 20.7L28.5 22.6M14.1 5.9L14.3 6.8M2.5 1.3L0.9 1.1L-0.3 1.6M33.8 13.4L35.3 13.0L37.3 13.5M6.9 23.6L8.3 25.0L8.7 26.0M7.7 1.2L6.3 1.3M22.0 11.2L22.1 12.9M32.3 10.9L30.5 10.1M17.3 30.6L16.6 31.4L15.1 32.4L13.7 32.5M17.7 8.8L16.5 9.3L15.1 9.0M25.9 16.1L27.5 16.5L28.8 16.6M9.7 4.5L11.1 5.8L11.5 7.0L11.6 8.4M7.3 8.8L9.0 8.0M1.3 21.7L2.9 23.0L4.1 24.0L5.0 24.1M7.9 18.6L8.9 19.2L9.6 19.8L11.2 20.3M5.0 22.9L6.0 24.3L6.4 25.4L7.0 27.2M34.3 28.0L35.5 28.7L36.1 29.4L36.9 31.3M4.4 12.7L6.3 13.5M4.2 12.4L3.7 13.9L3.4 15.3L2.7 17.2M27.9 22.6L29.6 23.4M3.9 19.6L2.8 19.4L1.8 20.0L0.6 20.5M18.3 22.8L17.5 23.5L16.8 24.4L16.2 25.2M4.2 25.6L5.0 26.3M8.8 30.8L9.8 32.5L10.7 33.8M30.1 33.2L28.3 34.0L26.3 33.6M0.9 32.3L0.3 34.1L-0.8 35.6L-1.2 36.6M-0.6 14.3L-1.8 14.2L-2.9 13.9M28.8 32.8L27.8 32.9M21.2 3.7L21.2 5.4L20.5 7.1M19.5 11.0L20.3 11.6L21.9 12.3M16.6 32.4L15.2 32.6L13.8 32.3M26.7 31.1L26.1 32.7L25.7 33.9M1.2 27.6L-0.8 27.9L-1.8 28.5M22.2 0.2L22.9 1.4M13.6 30.0L14.8 29.4M32.0 27.5L30.1 28.2M20.9 29.8L19.9 30.6L18.0 31.2M1.0 32.1L1.8 33.6L3.5 34.5M6.2 32.5L7.2 34.2M34.3 24.0L33.9 25.3L34.3 26.9M7.9 11.2L9.1 12.3M13.0 1.3L14.0 2.1L15.0 2.7M20.1 28.3L20.8 29.3M17.2 9.2L19.1 8.7L20.1 7.8L20.8 7.1M16.9 9.2L18.7 9.6L19.6 9.7L21.4 8.8M12.4 17.1L10.4 17.7L8.4 17.4M21.0 34.8L19.8 35.1L18.7 35.6M5.9 26.5L5.4 27.9L5.7 29.2L6.3 30.4M26.0 28.9L26.8 29.7L27.7 31.0M18.1 33.8L16.7 34.7M24.0 25.5L24.2 27.5L24.8 28.6M7.2 4.0L7.3 6.1L6.4 7.7M26.1 12.0L26.3 13.6L25.8 14.7L25.2 15.5M30.2 5.1L28.2 5.3L26.7 6.5M24.6 7.3L23.4 8.4L22.3 9.1M23.3 23.0L21.6 23.9L20.5 24.3M14.5 12.4L13.3 12.4L11.6 12.2L10.5 11.6M11.7 28.1L13.3 27.4L14.1 26.8M15.7 11.6L17.1 12.3M31.7 21.3L31.6 22.6L31.9 23.5L31.9 24.8M34.3 15.2L33.5 16.5M12.9 8.6L12.6 9.6M24.1 -0.0L23.9 1.5L23.0 2.8M36.1 4.0L37.7 5.1L39.1 6.4M3.1 0.2L2.3 0.8L0.8 1.9L-0.4 2.3M3.4 2.0L4.1 3.2L4.9 3.7L6.4 3.6M18.8 10.5L17.8 10.8M20.7 19.5L21.0 21.5M9.9 10.5L10.3 11.4M26.8 11.0L25.2 10.5M1.1 9.4L0.6 10.3M14.9 29.2L15.9 30.6L16.3 31.5M20.7 20.6L18.9 21.2L17.9 22.5M15.2 28.8L16.0 29.4M34.7 25.9L33.3 27.3L32.0 27.8M24.2 1.4L25.4 1.9L26.6 3.5L27.6 5.0M2.0 20.6L2.1 22.5L2.1 23.4M27.3 11.1L25.3 11.4M8.6 30.3L10.0 30.7M35.1 18.6L35.8 19.3M12.8 7.4L14.7 8.1L16.6 7.7M6.1 4.5L7.1 5.1L7.5 6.3L8.0 7.3M14.6 18.5L13.2 18.5L11.5 19.4M12.8 30.0L11.1 30.4M12.3 11.6L11.4 13.4L10.2 13.9L8.9 14.2M10.5 19.6L12.0 20.0L13.4 20.5M5.6 19.5L4.6 20.3L3.3 21.9M27.5 9.9L28.3 9.4L29.4 9.5M2.1 16.4L3.0 18.3L3.3 20.0L4.9 21.3M28.4 0.1L28.0 1.0L27.6 3.0M15.0 28.8L14.9 29.7L15.4 30.6M15.9 11.8L15.6 12.9L15.3 14.1L14.3 15.2M6.4 5.3L8.1 5.8L9.7 5.2M26.6 7.8L28.0 9.0L29.1 9.7M11.5 15.5L12.3 16.4M20.6 6.0L21.8 6.9M12.9 19.7L11.8 20.1L10.8 21.5M34.2 9.2L33.0 9.3L31.2 10.0M24.7 23.8L23.1 24.6L21.6 25.8M11.7 11.3L10.4 12.6M25.5 -1.2L25.1 0.7L25.8 2.1M22.0 23.6L22.2 25.3L22.2 27.3M14.5 30.9L13.2 32.5L12.3 33.6L11.5 35.5M30.0 15.3L31.2 16.7L33.0 17.3M18.7 12.9L18.9 15.0L19.6 16.6M13.4 6.0L13.0 7.1M6.4 9.8L6.4 11.4L6.6 13.3M7.7 23.2L6.8 22.9M15.6 14.5L15.6 16.2L16.1 17.4M21.7 24.8L20.6 26.1M1.8 1.2L1.9 2.3L2.3 3.3M28.8 10.4L27.6 9.8L26.5 9.8M2.9 33.3L2.4 34.8M32.5 4.4L33.4 5.8L34.5 6.4M0.3 3.6L-1.2 4.3L-2.7 4.1L-3.4 3.5M11.4 19.3L11.9 20.9L12.8 22.6M34.8 8.3L33.7 8.3M18.3 31.5L16.7 31.5L14.7 32.2M33.9 26.3L35.1 27.7L36.0 28.4M7.5 7.2L8.4 7.8M19.2 2.7L18.8 4.5L17.9 5.8L17.4 7.4M8.7 29.1L7.0 29.5M18.8 0.6L19.6 1.6L20.4 3.1" stroke="#d8d8d8" stroke-width="0.6"/><path d="M34.8 1.0L33.6 1.4L33.0 2.3L31.2 3.0M14.2 29.7L12.7 29.2L11.0 28.2L10.2 27.6M20.9 4.5L19.2 4.9L18.1 6.2L17.7 8.0M12.6 1.5L14.2 0.8L15.8 -0.3M22.7 12.1L24.5 12.1L26.2 11.6M7.4 10.7L8.1 11.5L8.9 12.2M28.9 0.7L28.1 2.4L27.1 3.6M32.3 33.6L34.1 33.9M8.7 7.7L8.5 8.7L7.8 10.0M16.2 3.4L14.7 4.1L13.9 4.7L12.6 5.7M10.2 32.3L11.2 31.8M18.7 10.8L16.8 10.0L15.9 9.5M4.1 13.6L3.1 15.0L2.4 16.4M11.4 22.1L10.4 23.9L9.6 24.9L8.4 26.5M1.3 11.3L1.5 12.6L1.1 14.4M19.4 7.6L19.9 8.8L20.0 10.8M34.9 25.5L36.6 25.6M26.0 9.8L25.1 11.3L23.9 12.0M16.1 20.2L17.8 20.7L19.5 20.3M3.0 13.5L5.0 13.8L5.8 14.4M18.1 16.9L19.8 18.0L20.5 19.7L21.4 21.0M0.8 6.5L1.6 8.2L1.6 9.3L1.8 11.2M3.7 32.5L4.5 34.2M6.4 2.9L6.6 4.2L7.9 5.3M13.4 6.0L13.5 7.0M33.6 14.2L35.1 13.7L37.1 14.3M21.2 11.3L21.4 13.0M17.3 29.8L16.6 30.6L15.0 31.7L13.7 31.7M17.9 8.1L16.6 8.5L15.2 8.3M7.6 9.4L9.3 8.7M1.2 22.4L2.8 23.7L4.0 24.7L4.9 24.8M33.6 28.3L34.8 29.0L35.4 29.7L36.2 31.6M3.5 12.1L3.0 13.7L2.7 15.0L2.0 16.9M27.6 23.3L29.3 24.0M3.6 18.9L2.5 18.7L1.5 19.3L0.3 19.9M8.2 31.3L9.2 32.9L10.1 34.2M30.2 32.4L28.5 33.2L26.5 32.9M0.2 32.0L-0.4 33.8L-1.5 35.3L-1.9 36.3M20.5 3.4L20.5 5.2L19.8 6.8M0.9 27.0L-1.2 27.3L-2.1 27.9M0.7 32.8L1.4 34.3L3.2 35.1M33.6 24.2L33.2 25.5L33.6 27.1M7.4 11.7L8.7 12.8M17.8 9.7L19.6 9.2L20.7 8.3L21.3 7.6M17.3 9.9L19.0 10.3L20.0 10.4L21.7 9.5M5.2 26.9L4.8 28.2L5.0 29.5L5.6 30.7M25.4 29.4L26.1 30.1L27.1 31.4M23.3 25.9L23.6 27.9L24.2 29.0M6.6 3.7L6.7 5.8L5.8 7.3M24.2 6.7L23.0 7.8L21.9 8.5M14.8 11.7L13.6 11.8L11.9 11.5L10.9 10.9M12.2 28.7L13.8 28.0L14.5 27.4M15.3 12.2L16.7 13.0M23.5 -0.4L23.2 1.1L22.4 2.4M2.9 -0.5L2.0 0.1L0.5 1.2L-0.7 1.6M3.4 2.8L4.2 3.9L5.0 4.4L6.5 4.3M18.6 9.8L17.6 10.1M20.0 19.6L20.3 21.6M9.2 10.8L9.6 11.7M34.4 25.2L33.0 26.6L31.8 27.1M1.3 20.7L1.3 22.5L1.4 23.5M8.4 31.1L9.8 31.4M34.5 19.1L35.3 19.9M13.0 8.1L14.9 8.8L16.7 8.5M5.5 4.8L6.5 5.5L6.8 6.7L7.3 7.7M12.2 10.9L11.2 12.7L10.0 13.2L8.7 13.5M5.1 19.0L4.0 19.8L2.7 21.4M27.5 10.7L28.3 10.2L29.4 10.2M1.6 17.0L2.5 18.9L2.8 20.6L4.4 21.9M27.7 -0.1L27.3 0.9L26.8 2.9M14.3 29.1L14.2 30.0L14.7 31.0M15.4 11.3L15.1 12.3L14.8 13.6L13.7 14.7M26.2 8.4L27.6 9.6L28.7 10.3M10.9 16.0L11.7 16.9M20.2 6.6L21.3 7.5M29.7 16.0L31.0 17.4L32.8 18.0M18.0 13.2L18.2 15.3L18.9 16.9M12.7 5.7L12.3 6.8M5.6 9.9L5.7 11.5L5.8 13.3M14.9 14.7L14.9 16.5L15.4 17.7M21.2 24.3L20.0 25.6M28.7 9.6L27.6 9.0L26.5 9.0M2.2 33.1L1.7 34.6M32.1 5.1L33.1 6.4L34.1 7.1M18.1 30.8L16.4 30.8L14.5 31.5M33.4 26.9L34.6 28.3L35.6 29.0M18.5 2.5L18.1 4.3L17.2 5.5L16.7 7.2" stroke="#7c7c7c" stroke-width="0.75"/><path d="M34.3 14.7L35.5 14.6L36.8 13.9L38.1 13.3M9.2 10.5L7.6 10.9L6.7 11.2L5.9 12.7M15.7 5.1L17.3 4.8L18.3 4.2M1.7 5.1L1.3 7.1L0.1 8.6M4.5 15.4L5.4 16.0L6.9 17.5M20.3 29.1L19.3 29.4L18.2 30.8M15.5 33.6L16.7 34.7L18.5 35.0M29.8 5.1L31.4 4.5L32.4 4.1M29.4 1.0L29.7 2.5L29.7 4.0M4.8 14.2L5.9 15.2L7.3 16.2L8.5 17.7M33.5 23.7L33.7 24.7L33.0 25.8M24.5 29.7L25.6 31.2L26.1 32.3M25.8 -0.9L25.4 0.1L25.4 2.0L25.1 3.6M5.0 12.6L4.0 13.7L3.7 14.7L4.2 16.1M6.1 20.9L4.9 20.5L3.5 20.1M-1.0 7.5L-1.6 8.9L-2.7 9.8L-4.4 11.0M5.2 20.0L4.5 20.7L4.0 22.1M15.6 14.7L13.9 15.0L12.1 14.9L11.0 13.8M16.4 7.8L17.2 9.5L17.6 11.4L18.5 12.3M4.4 -0.0L3.8 0.9L3.3 2.5M11.0 21.7L10.8 23.4L10.9 24.5L10.9 25.8M18.1 4.9L19.2 4.7M27.1 21.0L27.8 22.8M2.2 0.6L0.5 0.4L-0.6 1.0M6.2 23.9L7.6 25.3L8.0 26.3M7.6 0.5L6.2 0.6M32.6 10.2L30.8 9.4M25.8 16.9L27.4 17.2L28.7 17.4M8.9 4.6L10.3 5.9L10.8 7.1L10.9 8.5M7.7 19.3L8.7 19.9L9.4 20.5L11.0 21.0M4.3 23.1L5.2 24.5L5.7 25.6L6.3 27.4M4.2 13.4L6.0 14.2M17.7 22.4L16.9 23.1L16.2 23.9L15.6 24.8M3.7 26.2L4.6 26.9M-0.4 13.6L-1.6 13.4L-2.7 13.2M28.7 32.0L27.7 32.2M19.2 11.7L20.0 12.3L21.6 13.0M16.7 31.7L15.4 31.9L14.0 31.5M26.0 30.8L25.4 32.4L25.0 33.7M21.6 0.6L22.3 1.7M13.9 30.7L15.1 30.1M31.8 26.8L29.8 27.5M20.7 29.1L19.7 29.9L17.8 30.5M5.6 32.8L6.6 34.6M12.6 1.9L13.7 2.8L14.7 3.4M19.5 28.8L20.3 29.7M12.5 16.4L10.5 17.0L8.5 16.7M20.7 34.1L19.6 34.4L18.4 34.9M17.7 33.2L16.3 34.0M25.4 11.6L25.7 13.2L25.1 14.3L24.6 15.1M29.7 4.5L27.8 4.7L26.2 5.9M23.0 22.3L21.3 23.2L20.2 23.6M30.9 21.3L30.9 22.6L31.2 23.5L31.2 24.8M33.7 14.8L32.8 16.1M12.2 8.4L11.9 9.3M35.6 4.5L37.2 5.6L38.6 6.9M27.0 10.2L25.4 9.8M0.5 9.0L-0.0 10.0M14.2 29.5L15.2 30.9L15.6 31.8M20.1 20.1L18.3 20.7L17.3 22.0M14.8 29.4L15.6 30.0M23.6 1.8L24.8 2.3L26.0 3.9L27.0 5.4M27.2 10.4L25.2 10.6M14.2 17.9L12.8 17.9L11.2 18.8M12.6 29.3L11.0 29.6M10.3 20.3L11.7 20.7L13.1 21.2M6.7 6.0L8.4 6.5L10.0 5.9M12.3 19.2L11.2 19.6L10.2 21.0M33.9 8.5L32.7 8.6L30.9 9.3M24.2 23.2L22.6 24.0L21.1 25.3M11.2 10.8L9.9 12.1M24.8 -0.9L24.5 1.0L25.1 2.4M21.3 23.6L21.5 25.3L21.4 27.3M13.8 30.6L12.5 32.2L11.6 33.3L10.8 35.2M7.9 22.5L7.0 22.2M1.1 1.5L1.2 2.6L1.6 3.6M0.8 3.1L-0.7 3.7L-2.2 3.6L-2.9 3.0M10.7 19.7L11.3 21.3L12.1 22.9M34.8 7.6L33.7 7.6M7.0 7.8L8.0 8.5M8.5 28.4L6.8 28.8M18.1 0.9L18.9 1.9L19.8 3.5" stroke="#959595" stroke-width="0.7"/><path d="M18.6 27.2h.1M7.3 21.2h.1M1.8 5.1h.1M27.2 27.2h.1M29.7 15.7h.1M13.9 17.3h.1M18.1 11.3h.1M2.5 32.3h.1M22.7 33.5h.1M2.9 24.5h.1M12.3 33.5h.1M5.9 13.5h.1M18.4 30.0h.1M23.3 4.8h.1M21.1 28.6h.1M29.2 28.3h.1M13.4 19.1h.1M33.1 13.6h.1M31.4 21.7h.1M16.5 31.1h.1M28.7 5.5h.1M8.3 6.9h.1M15.3 19.2h.1M7.0 32.3h.1M3.7 24.5h.1M20.8 28.6h.1M10.4 2.3h.1M28.3 23.1h.1M27.2 31.4h.1M4.6 9.6h.1M22.9 16.5h.1M12.4 1.4h.1M21.8 32.8h.1M16.4 7.2h.1M5.0 28.5h.1M23.2 33.2h.1M0.3 5.2h.1M5.6 12.3h.1M4.0 1.7h.1" stroke="#cacaca" stroke-width="0.8"/><path d="M1.8 2.3h.1M29.9 23.9h.1M22.7 16.0h.1M8.4 27.5h.1M31.2 7.6h.1M8.5 18.8h.1M14.8 3.6h.1M32.2 26.0h.1M14.5 0.5h.1M2.8 8.1h.1M19.8 5.7h.1M1.0 2.5h.1M23.8 8.4h.1M28.1 16.8h.1M28.4 26.0h.1M4.8 33.8h.1M25.1 24.4h.1M16.1 29.1h.1M32.3 12.6h.1M4.3 31.8h.1M17.2 6.0h.1M22.8 23.6h.1M17.5 13.3h.1M29.5 13.8h.1M0.2 21.0h.1M0.5 11.5h.1M16.4 25.3h.1M9.0 17.5h.1M29.5 4.0h.1M33.1 21.7h.1M29.6 5.8h.1M32.5 14.0h.1M30.4 32.7h.1M21.9 33.3h.1M6.3 30.6h.1M9.9 17.6h.1M5.4 17.4h.1M17.5 31.7h.1M13.6 31.5h.1M26.2 32.8h.1M16.8 14.2h.1M12.2 32.3h.1M14.2 26.7h.1M13.2 15.7h.1" stroke="#a4a4a4" stroke-width="0.8"/><path d="M23.2 9.9h.1M12.3 9.6h.1M12.3 30.3h.1M21.0 6.6h.1M7.8 9.6h.1M10.7 27.7h.1M25.1 15.7h.1M27.4 14.9h.1M24.2 4.4h.1M0.9 27.0h.1M1.6 11.1h.1M33.1 29.3h.1M5.7 8.8h.1M17.7 8.0h.1M27.9 3.7h.1M7.2 0.8h.1M28.7 2.9h.1M16.9 23.0h.1M25.1 9.4h.1M3.5 19.5h.1M16.1 16.1h.1M18.0 9.8h.1M2.6 2.2h.1M16.5 20.1h.1M21.3 33.2h.1M5.8 31.1h.1M17.1 13.2h.1M2.9 29.7h.1M15.8 21.1h.1M21.0 21.3h.1M22.3 14.8h.1M14.2 19.3h.1M0.5 10.7h.1M22.4 17.2h.1M8.0 23.5h.1" stroke="#6a6a6a" stroke-width="1.1"/></g><line x1="1.0" y1="32.3" x2="6.5" y2="32.3" stroke="#222" stroke-width="0.7"/></svg></g>
<text x="214.10" y="245.00" text-anchor="start" fill="#000" style="font-size:12.8px;font-weight:bold;">L</text>
<text x="265.80" y="250.80" text-anchor="middle" fill="#000" stroke="#000" stroke-width="0.18" style="font-size:5.2px;font-weight:bold;">Cell viability</text>
<line x1="225.40" y1="267.50" x2="225.40" y2="321.00" stroke="#111" stroke-width="0.8"/>
<line x1="224.20" y1="321.00" x2="225.40" y2="321.00" stroke="#111" stroke-width="0.8"/>
<text x="223.60" y="322.26" text-anchor="end" fill="#000" stroke="#000" stroke-width="0.18" style="font-size:3.6px;font-weight:bold;">0</text>
<line x1="224.20" y1="303.30" x2="225.40" y2="303.30" stroke="#111" stroke-width="0.8"/>
<text x="223.60" y="304.56" text-anchor="end" fill="#000" stroke="#000" stroke-width="0.18" style="font-size:3.6px;font-weight:bold;">50</text>
<line x1="224.20" y1="285.60" x2="225.40" y2="285.60" stroke="#111" stroke-width="0.8"/>
<text x="223.60" y="286.86" text-anchor="end" fill="#000" stroke="#000" stroke-width="0.18" style="font-size:3.6px;font-weight:bold;">100</text>
<line x1="224.20" y1="267.90" x2="225.40" y2="267.90" stroke="#111" stroke-width="0.8"/>
<text x="223.60" y="269.16" text-anchor="end" fill="#000" stroke="#000" stroke-width="0.18" style="font-size:3.6px;font-weight:bold;">150</text>
<line x1="225.40" y1="321.00" x2="306.00" y2="321.00" stroke="#111" stroke-width="0.8"/>
<rect x="228.80" y="285.60" width="5.00" height="35.40" fill="#d6d6d6" stroke="#333" stroke-width="0.5"/>
<line x1="231.30" y1="282.60" x2="231.30" y2="288.60" stroke="#111" stroke-width="0.5"/>
<line x1="229.93" y1="282.60" x2="232.68" y2="282.60" stroke="#111" stroke-width="0.5"/>
<circle cx="230.40" cy="283.80" r="0.55" fill="#222"/>
<circle cx="231.30" cy="287.70" r="0.55" fill="#222"/>
<circle cx="232.20" cy="285.00" r="0.55" fill="#222"/>
<rect x="236.20" y="280.29" width="5.00" height="40.71" fill="#f4a3a6" stroke="#a04050" stroke-width="0.5"/>
<line x1="238.70" y1="278.79" x2="238.70" y2="281.79" stroke="#111" stroke-width="0.5"/>
<line x1="237.33" y1="278.79" x2="240.08" y2="278.79" stroke="#111" stroke-width="0.5"/>
<circle cx="237.80" cy="279.39" r="0.55" fill="#222"/>
<circle cx="238.70" cy="281.34" r="0.55" fill="#222"/>
<circle cx="239.60" cy="279.99" r="0.55" fill="#222"/>
<rect x="243.60" y="292.68" width="5.00" height="28.32" fill="#e0283a" stroke="#801020" stroke-width="0.5"/>
<line x1="246.10" y1="290.18" x2="246.10" y2="295.18" stroke="#111" stroke-width="0.5"/>
<line x1="244.73" y1="290.18" x2="247.48" y2="290.18" stroke="#111" stroke-width="0.5"/>
<circle cx="245.20" cy="291.18" r="0.55" fill="#222"/>
<circle cx="246.10" cy="294.43" r="0.55" fill="#222"/>
<circle cx="247.00" cy="292.18" r="0.55" fill="#222"/>
<rect x="256.30" y="295.51" width="5.00" height="25.49" fill="#d6d6d6" stroke="#333" stroke-width="0.5"/>
<line x1="258.80" y1="292.51" x2="258.80" y2="298.51" stroke="#111" stroke-width="0.5"/>
<line x1="257.43" y1="292.51" x2="260.18" y2="292.51" stroke="#111" stroke-width="0.5"/>
<circle cx="257.90" cy="293.71" r="0.55" fill="#222"/>
<circle cx="258.80" cy="297.61" r="0.55" fill="#222"/>
<circle cx="259.70" cy="294.91" r="0.55" fill="#222"/>
<rect x="263.70" y="307.55" width="5.00" height="13.45" fill="#f4a3a6" stroke="#a04050" stroke-width="0.5"/>
<line x1="266.20" y1="303.55" x2="266.20" y2="311.55" stroke="#111" stroke-width="0.5"/>
<line x1="264.82" y1="303.55" x2="267.57" y2="303.55" stroke="#111" stroke-width="0.5"/>
<circle cx="265.30" cy="305.15" r="0.55" fill="#222"/>
<circle cx="266.20" cy="310.35" r="0.55" fill="#222"/>
<circle cx="267.10" cy="306.75" r="0.55" fill="#222"/>
<rect x="271.10" y="295.16" width="5.00" height="25.84" fill="#e0283a" stroke="#801020" stroke-width="0.5"/>
<line x1="273.60" y1="293.16" x2="273.60" y2="297.16" stroke="#111" stroke-width="0.5"/>
<line x1="272.23" y1="293.16" x2="274.98" y2="293.16" stroke="#111" stroke-width="0.5"/>
<circle cx="272.70" cy="293.96" r="0.55" fill="#222"/>
<circle cx="273.60" cy="296.56" r="0.55" fill="#222"/>
<circle cx="274.50" cy="294.76" r="0.55" fill="#222"/>
<rect x="283.30" y="301.53" width="5.00" height="19.47" fill="#d6d6d6" stroke="#333" stroke-width="0.5"/>
<line x1="285.80" y1="298.53" x2="285.80" y2="304.53" stroke="#111" stroke-width="0.5"/>
<line x1="284.43" y1="298.53" x2="287.18" y2="298.53" stroke="#111" stroke-width="0.5"/>
<circle cx="284.90" cy="299.73" r="0.55" fill="#222"/>
<circle cx="285.80" cy="303.63" r="0.55" fill="#222"/>
<circle cx="286.70" cy="300.93" r="0.55" fill="#222"/>
<rect x="290.70" y="310.38" width="5.00" height="10.62" fill="#f4a3a6" stroke="#a04050" stroke-width="0.5"/>
<line x1="293.20" y1="306.38" x2="293.20" y2="314.38" stroke="#111" stroke-width="0.5"/>
<line x1="291.82" y1="306.38" x2="294.57" y2="306.38" stroke="#111" stroke-width="0.5"/>
<circle cx="292.30" cy="307.98" r="0.55" fill="#222"/>
<circle cx="293.20" cy="313.18" r="0.55" fill="#222"/>
<circle cx="294.10" cy="309.58" r="0.55" fill="#222"/>
<rect x="298.10" y="296.22" width="5.00" height="24.78" fill="#e0283a" stroke="#801020" stroke-width="0.5"/>
<line x1="300.60" y1="293.22" x2="300.60" y2="299.22" stroke="#111" stroke-width="0.5"/>
<line x1="299.23" y1="293.22" x2="301.98" y2="293.22" stroke="#111" stroke-width="0.5"/>
<circle cx="299.70" cy="294.42" r="0.55" fill="#222"/>
<circle cx="300.60" cy="298.32" r="0.55" fill="#222"/>
<circle cx="301.50" cy="295.62" r="0.55" fill="#222"/>
<polyline points="231.30,283.83 231.30,272.50 238.70,272.50 238.70,276.00" fill="none" stroke="#333" stroke-width="0.55"/>
<polyline points="239.10,276.00 239.10,272.50 246.10,272.50 246.10,289.14" fill="none" stroke="#333" stroke-width="0.55"/>
<text x="235.00" y="272.20" text-anchor="middle" fill="#000" stroke="#000" stroke-width="0.18" style="font-size:4.6px;font-weight:bold;">*</text>
<text x="242.60" y="272.20" text-anchor="middle" fill="#000" stroke="#000" stroke-width="0.18" style="font-size:4.6px;font-weight:bold;">*</text>
<polyline points="258.80,283.83 258.80,272.50 266.20,272.50 266.20,276.00" fill="none" stroke="#333" stroke-width="0.55"/>
<polyline points="266.60,276.00 266.60,272.50 273.60,272.50 273.60,289.14" fill="none" stroke="#333" stroke-width="0.55"/>
<text x="262.50" y="272.20" text-anchor="middle" fill="#000" stroke="#000" stroke-width="0.18" style="font-size:4.6px;font-weight:bold;">*</text>
<text x="270.10" y="272.20" text-anchor="middle" fill="#000" stroke="#000" stroke-width="0.18" style="font-size:4.6px;font-weight:bold;">*</text>
<polyline points="285.80,283.83 285.80,272.50 293.20,272.50 293.20,276.00" fill="none" stroke="#333" stroke-width="0.55"/>
<polyline points="293.60,276.00 293.60,272.50 300.60,272.50 300.60,289.14" fill="none" stroke="#333" stroke-width="0.55"/>
<text x="289.50" y="272.20" text-anchor="middle" fill="#000" stroke="#000" stroke-width="0.18" style="font-size:4.6px;font-weight:bold;">*</text>
<text x="297.10" y="272.20" text-anchor="middle" fill="#000" stroke="#000" stroke-width="0.18" style="font-size:4.6px;font-weight:bold;">*</text>
<text x="236.00" y="325.00" text-anchor="middle" fill="#000" stroke="#000" stroke-width="0.18" style="font-size:3.8px;font-weight:bold;">Erastin</text>
<text x="236.00" y="329.30" text-anchor="middle" fill="#000" stroke="#000" stroke-width="0.18" style="font-size:3.8px;font-weight:bold;">0 µmol/L</text>
<text x="265.80" y="325.00" text-anchor="middle" fill="#000" stroke="#000" stroke-width="0.18" style="font-size:3.8px;font-weight:bold;">Erastin</text>
<text x="265.80" y="329.30" text-anchor="middle" fill="#000" stroke="#000" stroke-width="0.18" style="font-size:3.8px;font-weight:bold;">5 µmol/L</text>
<text x="293.00" y="325.00" text-anchor="middle" fill="#000" stroke="#000" stroke-width="0.18" style="font-size:3.8px;font-weight:bold;">Erastin</text>
<text x="293.00" y="329.30" text-anchor="middle" fill="#000" stroke="#000" stroke-width="0.18" style="font-size:3.8px;font-weight:bold;">10 µmol/L</text>
<line x1="224.60" y1="332.00" x2="305.40" y2="332.00" stroke="#111" stroke-width="0.8"/>
<text x="265.00" y="337.50" text-anchor="middle" fill="#000" stroke="#000" stroke-width="0.18" style="font-size:4.2px;font-weight:bold;">SKHep1 p53KO</text>
<text x="216.00" y="294.00" text-anchor="middle" fill="#000" stroke="#000" stroke-width="0.18" style="font-size:4.4px;font-weight:bold;" transform="rotate(-90 216.0 294)">Cell viability (%)</text>
<rect x="269.00" y="255.00" width="5.40" height="2.80" fill="#d6d6d6" stroke="#222" stroke-width="0.4"/>
<text x="276.60" y="257.70" text-anchor="start" fill="#000" stroke="#000" stroke-width="0.18" style="font-size:4.1px;font-weight:bold;">Mock</text>
<rect x="269.00" y="258.80" width="5.40" height="2.80" fill="#f4a3a6" stroke="#222" stroke-width="0.4"/>
<text x="276.60" y="261.50" text-anchor="start" fill="#000" stroke="#000" stroke-width="0.18" style="font-size:4.1px;font-weight:bold;">GLS2</text>
<rect x="269.00" y="262.60" width="5.40" height="2.80" fill="#e0283a" stroke="#222" stroke-width="0.4"/>
<text x="276.60" y="265.30" text-anchor="start" fill="#000" stroke="#000" stroke-width="0.18" style="font-size:4.1px;font-weight:bold;">GLS2 + AOA</text>
<text x="307.20" y="245.00" text-anchor="start" fill="#000" style="font-size:12.8px;font-weight:bold;">M</text>
<text x="364.60" y="250.50" text-anchor="middle" fill="#000" stroke="#000" stroke-width="0.18" style="font-size:5.2px;font-weight:bold;">Cell viability</text>
<line x1="323.50" y1="267.50" x2="323.50" y2="321.30" stroke="#111" stroke-width="0.8"/>
<line x1="322.30" y1="321.30" x2="323.50" y2="321.30" stroke="#111" stroke-width="0.8"/>
<text x="321.70" y="322.45" text-anchor="end" fill="#000" stroke="#000" stroke-width="0.18" style="font-size:3.3px;font-weight:bold;">0</text>
<line x1="322.30" y1="312.65" x2="323.50" y2="312.65" stroke="#111" stroke-width="0.8"/>
<text x="321.70" y="313.81" text-anchor="end" fill="#000" stroke="#000" stroke-width="0.18" style="font-size:3.3px;font-weight:bold;">20</text>
<line x1="322.30" y1="304.00" x2="323.50" y2="304.00" stroke="#111" stroke-width="0.8"/>
<text x="321.70" y="305.15" text-anchor="end" fill="#000" stroke="#000" stroke-width="0.18" style="font-size:3.3px;font-weight:bold;">40</text>
<line x1="322.30" y1="295.35" x2="323.50" y2="295.35" stroke="#111" stroke-width="0.8"/>
<text x="321.70" y="296.50" text-anchor="end" fill="#000" stroke="#000" stroke-width="0.18" style="font-size:3.3px;font-weight:bold;">60</text>
<line x1="322.30" y1="286.70" x2="323.50" y2="286.70" stroke="#111" stroke-width="0.8"/>
<text x="321.70" y="287.85" text-anchor="end" fill="#000" stroke="#000" stroke-width="0.18" style="font-size:3.3px;font-weight:bold;">80</text>
<line x1="322.30" y1="278.05" x2="323.50" y2="278.05" stroke="#111" stroke-width="0.8"/>
<text x="321.70" y="279.20" text-anchor="end" fill="#000" stroke="#000" stroke-width="0.18" style="font-size:3.3px;font-weight:bold;">100</text>
<line x1="322.30" y1="269.40" x2="323.50" y2="269.40" stroke="#111" stroke-width="0.8"/>
<text x="321.70" y="270.56" text-anchor="end" fill="#000" stroke="#000" stroke-width="0.18" style="font-size:3.3px;font-weight:bold;">120</text>
<line x1="323.50" y1="321.30" x2="404.00" y2="321.30" stroke="#111" stroke-width="0.8"/>
<rect x="327.60" y="278.05" width="4.80" height="43.25" fill="#d6d6d6" stroke="#333" stroke-width="0.5"/>
<line x1="330.00" y1="273.05" x2="330.00" y2="283.05" stroke="#111" stroke-width="0.5"/>
<line x1="328.68" y1="273.05" x2="331.32" y2="273.05" stroke="#111" stroke-width="0.5"/>
<circle cx="329.10" cy="275.05" r="0.55" fill="#222"/>
<circle cx="330.00" cy="281.55" r="0.55" fill="#222"/>
<circle cx="330.90" cy="277.05" r="0.55" fill="#222"/>
<rect x="334.90" y="272.43" width="4.80" height="48.87" fill="#f4a3a6" stroke="#a04050" stroke-width="0.5"/>
<line x1="337.30" y1="269.43" x2="337.30" y2="275.43" stroke="#111" stroke-width="0.5"/>
<line x1="335.98" y1="269.43" x2="338.62" y2="269.43" stroke="#111" stroke-width="0.5"/>
<circle cx="336.40" cy="270.63" r="0.55" fill="#222"/>
<circle cx="337.30" cy="274.53" r="0.55" fill="#222"/>
<circle cx="338.20" cy="271.83" r="0.55" fill="#222"/>
<rect x="342.20" y="291.03" width="4.80" height="30.27" fill="#e0283a" stroke="#801020" stroke-width="0.5"/>
<line x1="344.60" y1="288.03" x2="344.60" y2="294.03" stroke="#111" stroke-width="0.5"/>
<line x1="343.28" y1="288.03" x2="345.92" y2="288.03" stroke="#111" stroke-width="0.5"/>
<circle cx="343.70" cy="289.23" r="0.55" fill="#222"/>
<circle cx="344.60" cy="293.13" r="0.55" fill="#222"/>
<circle cx="345.50" cy="290.43" r="0.55" fill="#222"/>
<rect x="354.60" y="304.87" width="4.80" height="16.43" fill="#d6d6d6" stroke="#333" stroke-width="0.5"/>
<line x1="357.00" y1="303.87" x2="357.00" y2="305.87" stroke="#111" stroke-width="0.5"/>
<line x1="355.68" y1="303.87" x2="358.32" y2="303.87" stroke="#111" stroke-width="0.5"/>
<circle cx="356.10" cy="304.14" r="0.55" fill="#222"/>
<circle cx="357.00" cy="305.70" r="0.55" fill="#222"/>
<circle cx="357.90" cy="304.62" r="0.55" fill="#222"/>
<rect x="361.90" y="316.11" width="4.80" height="5.19" fill="#f4a3a6" stroke="#a04050" stroke-width="0.5"/>
<line x1="364.30" y1="315.11" x2="364.30" y2="317.11" stroke="#111" stroke-width="0.5"/>
<line x1="362.98" y1="315.11" x2="365.62" y2="315.11" stroke="#111" stroke-width="0.5"/>
<circle cx="363.40" cy="315.39" r="0.55" fill="#222"/>
<circle cx="364.30" cy="316.95" r="0.55" fill="#222"/>
<circle cx="365.20" cy="315.87" r="0.55" fill="#222"/>
<rect x="369.20" y="290.16" width="4.80" height="31.14" fill="#e0283a" stroke="#801020" stroke-width="0.5"/>
<line x1="371.60" y1="284.16" x2="371.60" y2="296.16" stroke="#111" stroke-width="0.5"/>
<line x1="370.28" y1="284.16" x2="372.92" y2="284.16" stroke="#111" stroke-width="0.5"/>
<circle cx="370.70" cy="286.56" r="0.55" fill="#222"/>
<circle cx="371.60" cy="294.36" r="0.55" fill="#222"/>
<circle cx="372.50" cy="288.96" r="0.55" fill="#222"/>
<rect x="381.50" y="309.19" width="4.80" height="12.11" fill="#d6d6d6" stroke="#333" stroke-width="0.5"/>
<line x1="383.90" y1="308.19" x2="383.90" y2="310.19" stroke="#111" stroke-width="0.5"/>
<line x1="382.58" y1="308.19" x2="385.22" y2="308.19" stroke="#111" stroke-width="0.5"/>
<circle cx="383.00" cy="308.47" r="0.55" fill="#222"/>
<circle cx="383.90" cy="310.03" r="0.55" fill="#222"/>
<circle cx="384.80" cy="308.95" r="0.55" fill="#222"/>
<rect x="388.80" y="318.70" width="4.80" height="2.59" fill="#f4a3a6" stroke="#a04050" stroke-width="0.5"/>
<line x1="391.20" y1="317.70" x2="391.20" y2="319.70" stroke="#111" stroke-width="0.5"/>
<line x1="389.88" y1="317.70" x2="392.52" y2="317.70" stroke="#111" stroke-width="0.5"/>
<circle cx="390.30" cy="317.98" r="0.55" fill="#222"/>
<circle cx="391.20" cy="319.54" r="0.55" fill="#222"/>
<circle cx="392.10" cy="318.46" r="0.55" fill="#222"/>
<rect x="396.10" y="311.79" width="4.80" height="9.52" fill="#e0283a" stroke="#801020" stroke-width="0.5"/>
<line x1="398.50" y1="310.79" x2="398.50" y2="312.79" stroke="#111" stroke-width="0.5"/>
<line x1="397.18" y1="310.79" x2="399.82" y2="310.79" stroke="#111" stroke-width="0.5"/>
<circle cx="397.60" cy="311.06" r="0.55" fill="#222"/>
<circle cx="398.50" cy="312.62" r="0.55" fill="#222"/>
<circle cx="399.40" cy="311.55" r="0.55" fill="#222"/>
<polyline points="330.00,272.00 330.00,259.00 337.00,259.00 337.00,268.00" fill="none" stroke="#333" stroke-width="0.55"/>
<polyline points="337.40,268.00 337.40,259.00 344.00,259.00 344.00,288.00" fill="none" stroke="#333" stroke-width="0.55"/>
<text x="333.50" y="258.70" text-anchor="middle" fill="#000" stroke="#000" stroke-width="0.18" style="font-size:4.6px;font-weight:bold;">*</text>
<text x="340.70" y="258.70" text-anchor="middle" fill="#000" stroke="#000" stroke-width="0.18" style="font-size:4.3px;font-weight:bold;">**</text>
<polyline points="357.00,303.00 357.00,272.00 364.00,272.00 364.00,314.00" fill="none" stroke="#333" stroke-width="0.55"/>
<polyline points="364.40,314.00 364.40,272.00 371.50,272.00 371.50,286.00" fill="none" stroke="#333" stroke-width="0.55"/>
<text x="360.50" y="271.70" text-anchor="middle" fill="#000" stroke="#000" stroke-width="0.18" style="font-size:4.3px;font-weight:bold;">**</text>
<text x="368.00" y="271.70" text-anchor="middle" fill="#000" stroke="#000" stroke-width="0.18" style="font-size:4.3px;font-weight:bold;">**</text>
<polyline points="383.90,307.00 383.90,299.50 391.30,299.50 391.30,316.00" fill="none" stroke="#333" stroke-width="0.55"/>
<polyline points="391.70,316.00 391.70,299.50 399.00,299.50 399.00,309.00" fill="none" stroke="#333" stroke-width="0.55"/>
<text x="387.60" y="299.20" text-anchor="middle" fill="#000" stroke="#000" stroke-width="0.18" style="font-size:4.3px;font-weight:bold;">**</text>
<text x="395.30" y="299.20" text-anchor="middle" fill="#000" stroke="#000" stroke-width="0.18" style="font-size:4.3px;font-weight:bold;">**</text>
<text x="371.50" y="287.00" text-anchor="middle" fill="#000" stroke="#000" stroke-width="0.18" style="font-size:3.4px;font-weight:bold;" transform="rotate(-90 371.5 287)">***</text>
<text x="337.00" y="325.80" text-anchor="middle" fill="#000" stroke="#000" stroke-width="0.18" style="font-size:3.8px;font-weight:bold;">DMSO</text>
<text x="365.00" y="325.80" text-anchor="middle" fill="#000" stroke="#000" stroke-width="0.18" style="font-size:3.8px;font-weight:bold;">Erastin</text>
<text x="365.00" y="330.00" text-anchor="middle" fill="#000" stroke="#000" stroke-width="0.18" style="font-size:3.8px;font-weight:bold;">10 µmol/L</text>
<text x="391.00" y="325.80" text-anchor="middle" fill="#000" stroke="#000" stroke-width="0.18" style="font-size:3.8px;font-weight:bold;">RSL3</text>
<text x="391.00" y="330.00" text-anchor="middle" fill="#000" stroke="#000" stroke-width="0.18" style="font-size:3.8px;font-weight:bold;">2 µmol/L</text>
<line x1="318.00" y1="332.30" x2="403.50" y2="332.30" stroke="#111" stroke-width="0.8"/>
<text x="362.00" y="337.80" text-anchor="middle" fill="#000" stroke="#000" stroke-width="0.18" style="font-size:4.2px;font-weight:bold;">Hep3B</text>
<text x="313.50" y="294.00" text-anchor="middle" fill="#000" stroke="#000" stroke-width="0.18" style="font-size:4.4px;font-weight:bold;" transform="rotate(-90 313.5 294)">Cell viability (%)</text>
<rect x="367.70" y="255.00" width="4.00" height="2.70" fill="#d6d6d6" stroke="#222" stroke-width="0.4"/>
<text x="373.60" y="257.70" text-anchor="start" fill="#000" stroke="#000" stroke-width="0.18" style="font-size:4.1px;font-weight:bold;">Mock</text>
<rect x="367.70" y="258.80" width="4.00" height="2.70" fill="#f4a3a6" stroke="#222" stroke-width="0.4"/>
<text x="373.60" y="261.50" text-anchor="start" fill="#000" stroke="#000" stroke-width="0.18" style="font-size:4.1px;font-weight:bold;">GLS2</text>
<rect x="367.70" y="262.60" width="4.00" height="2.70" fill="#e0283a" stroke="#222" stroke-width="0.4"/>
<text x="373.60" y="265.30" text-anchor="start" fill="#000" stroke="#000" stroke-width="0.18" style="font-size:4.1px;font-weight:bold;">GLS2 + AOA</text>
<text x="401.90" y="245.00" text-anchor="start" fill="#000" style="font-size:12.8px;font-weight:bold;">N</text>
<text x="471.30" y="238.00" text-anchor="middle" fill="#000" stroke="#000" stroke-width="0.18" style="font-size:5.2px;font-weight:bold;">Cell viability</text>
<rect x="496.20" y="233.40" width="5.50" height="2.60" fill="#d6d6d6" stroke="#222" stroke-width="0.4"/>
<rect x="496.20" y="237.20" width="5.50" height="2.60" fill="#f4a3a6" stroke="#222" stroke-width="0.4"/>
<text x="503.00" y="235.90" text-anchor="start" fill="#000" stroke="#000" stroke-width="0.18" style="font-size:3.5px;font-weight:bold;">Mock</text>
<text x="503.00" y="239.70" text-anchor="start" fill="#000" stroke="#000" stroke-width="0.18" style="font-size:3.5px;font-weight:bold;">GLS2</text>
<line x1="423.60" y1="253.00" x2="423.60" y2="306.90" stroke="#111" stroke-width="0.8"/>
<line x1="422.40" y1="306.90" x2="423.60" y2="306.90" stroke="#111" stroke-width="0.8"/>
<text x="421.80" y="308.02" text-anchor="end" fill="#000" stroke="#000" stroke-width="0.18" style="font-size:3.2px;font-weight:bold;">0</text>
<line x1="422.40" y1="299.33" x2="423.60" y2="299.33" stroke="#111" stroke-width="0.8"/>
<text x="421.80" y="300.45" text-anchor="end" fill="#000" stroke="#000" stroke-width="0.18" style="font-size:3.2px;font-weight:bold;">20</text>
<line x1="422.40" y1="291.76" x2="423.60" y2="291.76" stroke="#111" stroke-width="0.8"/>
<text x="421.80" y="292.88" text-anchor="end" fill="#000" stroke="#000" stroke-width="0.18" style="font-size:3.2px;font-weight:bold;">40</text>
<line x1="422.40" y1="284.19" x2="423.60" y2="284.19" stroke="#111" stroke-width="0.8"/>
<text x="421.80" y="285.31" text-anchor="end" fill="#000" stroke="#000" stroke-width="0.18" style="font-size:3.2px;font-weight:bold;">60</text>
<line x1="422.40" y1="276.61" x2="423.60" y2="276.61" stroke="#111" stroke-width="0.8"/>
<text x="421.80" y="277.73" text-anchor="end" fill="#000" stroke="#000" stroke-width="0.18" style="font-size:3.2px;font-weight:bold;">80</text>
<line x1="422.40" y1="269.04" x2="423.60" y2="269.04" stroke="#111" stroke-width="0.8"/>
<text x="421.80" y="270.16" text-anchor="end" fill="#000" stroke="#000" stroke-width="0.18" style="font-size:3.2px;font-weight:bold;">100</text>
<line x1="422.40" y1="261.47" x2="423.60" y2="261.47" stroke="#111" stroke-width="0.8"/>
<text x="421.80" y="262.59" text-anchor="end" fill="#000" stroke="#000" stroke-width="0.18" style="font-size:3.2px;font-weight:bold;">120</text>
<line x1="422.40" y1="253.90" x2="423.60" y2="253.90" stroke="#111" stroke-width="0.8"/>
<text x="421.80" y="255.02" text-anchor="end" fill="#000" stroke="#000" stroke-width="0.18" style="font-size:3.2px;font-weight:bold;">140</text>
<line x1="423.60" y1="306.90" x2="518.00" y2="306.90" stroke="#111" stroke-width="0.8"/>
<rect x="426.00" y="269.80" width="6.00" height="37.10" fill="#d6d6d6" stroke="#333" stroke-width="0.5"/>
<line x1="429.00" y1="268.80" x2="429.00" y2="270.80" stroke="#111" stroke-width="0.5"/>
<line x1="427.35" y1="268.80" x2="430.65" y2="268.80" stroke="#111" stroke-width="0.5"/>
<circle cx="428.10" cy="269.08" r="0.55" fill="#222"/>
<circle cx="429.00" cy="270.64" r="0.55" fill="#222"/>
<circle cx="429.90" cy="269.56" r="0.55" fill="#222"/>
<rect x="434.70" y="292.89" width="6.00" height="14.01" fill="#d6d6d6" stroke="#333" stroke-width="0.5"/>
<line x1="437.70" y1="290.39" x2="437.70" y2="295.39" stroke="#111" stroke-width="0.5"/>
<line x1="436.05" y1="290.39" x2="439.35" y2="290.39" stroke="#111" stroke-width="0.5"/>
<circle cx="436.80" cy="291.39" r="0.55" fill="#222"/>
<circle cx="437.70" cy="294.64" r="0.55" fill="#222"/>
<circle cx="438.60" cy="292.39" r="0.55" fill="#222"/>
<rect x="444.10" y="269.04" width="6.00" height="37.86" fill="#d6d6d6" stroke="#333" stroke-width="0.5"/>
<line x1="447.10" y1="264.04" x2="447.10" y2="274.04" stroke="#111" stroke-width="0.5"/>
<line x1="445.45" y1="264.04" x2="448.75" y2="264.04" stroke="#111" stroke-width="0.5"/>
<circle cx="446.20" cy="266.04" r="0.55" fill="#222"/>
<circle cx="447.10" cy="272.54" r="0.55" fill="#222"/>
<circle cx="448.00" cy="268.04" r="0.55" fill="#222"/>
<rect x="452.80" y="268.29" width="6.00" height="38.61" fill="#d6d6d6" stroke="#333" stroke-width="0.5"/>
<line x1="455.80" y1="263.29" x2="455.80" y2="273.29" stroke="#111" stroke-width="0.5"/>
<line x1="454.15" y1="263.29" x2="457.45" y2="263.29" stroke="#111" stroke-width="0.5"/>
<circle cx="454.90" cy="265.29" r="0.55" fill="#222"/>
<circle cx="455.80" cy="271.79" r="0.55" fill="#222"/>
<circle cx="456.70" cy="267.29" r="0.55" fill="#222"/>
<rect x="461.50" y="276.99" width="6.00" height="29.91" fill="#d6d6d6" stroke="#333" stroke-width="0.5"/>
<line x1="464.50" y1="273.99" x2="464.50" y2="279.99" stroke="#111" stroke-width="0.5"/>
<line x1="462.85" y1="273.99" x2="466.15" y2="273.99" stroke="#111" stroke-width="0.5"/>
<circle cx="463.60" cy="275.19" r="0.55" fill="#222"/>
<circle cx="464.50" cy="279.09" r="0.55" fill="#222"/>
<circle cx="465.40" cy="276.39" r="0.55" fill="#222"/>
<rect x="475.60" y="264.50" width="6.00" height="42.40" fill="#f28e92" stroke="#a04050" stroke-width="0.5"/>
<line x1="478.60" y1="260.50" x2="478.60" y2="268.50" stroke="#111" stroke-width="0.5"/>
<line x1="476.95" y1="260.50" x2="480.25" y2="260.50" stroke="#111" stroke-width="0.5"/>
<circle cx="477.70" cy="262.10" r="0.55" fill="#222"/>
<circle cx="478.60" cy="267.30" r="0.55" fill="#222"/>
<circle cx="479.50" cy="263.70" r="0.55" fill="#222"/>
<rect x="484.30" y="300.46" width="6.00" height="6.44" fill="#f28e92" stroke="#a04050" stroke-width="0.5"/>
<line x1="487.30" y1="297.46" x2="487.30" y2="303.46" stroke="#111" stroke-width="0.5"/>
<line x1="485.65" y1="297.46" x2="488.95" y2="297.46" stroke="#111" stroke-width="0.5"/>
<circle cx="486.40" cy="298.66" r="0.55" fill="#222"/>
<circle cx="487.30" cy="302.56" r="0.55" fill="#222"/>
<circle cx="488.20" cy="299.86" r="0.55" fill="#222"/>
<rect x="492.40" y="264.50" width="6.00" height="42.40" fill="#f28e92" stroke="#a04050" stroke-width="0.5"/>
<line x1="495.40" y1="262.50" x2="495.40" y2="266.50" stroke="#111" stroke-width="0.5"/>
<line x1="493.75" y1="262.50" x2="497.05" y2="262.50" stroke="#111" stroke-width="0.5"/>
<circle cx="494.50" cy="263.30" r="0.55" fill="#222"/>
<circle cx="495.40" cy="265.90" r="0.55" fill="#222"/>
<circle cx="496.30" cy="264.10" r="0.55" fill="#222"/>
<rect x="501.20" y="267.53" width="6.00" height="39.37" fill="#f28e92" stroke="#a04050" stroke-width="0.5"/>
<line x1="504.20" y1="264.53" x2="504.20" y2="270.53" stroke="#111" stroke-width="0.5"/>
<line x1="502.55" y1="264.53" x2="505.85" y2="264.53" stroke="#111" stroke-width="0.5"/>
<circle cx="503.30" cy="265.73" r="0.55" fill="#222"/>
<circle cx="504.20" cy="269.63" r="0.55" fill="#222"/>
<circle cx="505.10" cy="266.93" r="0.55" fill="#222"/>
<rect x="510.20" y="273.96" width="6.00" height="32.94" fill="#f28e92" stroke="#a04050" stroke-width="0.5"/>
<line x1="513.20" y1="269.96" x2="513.20" y2="277.96" stroke="#111" stroke-width="0.5"/>
<line x1="511.55" y1="269.96" x2="514.85" y2="269.96" stroke="#111" stroke-width="0.5"/>
<circle cx="512.30" cy="271.56" r="0.55" fill="#222"/>
<circle cx="513.20" cy="276.76" r="0.55" fill="#222"/>
<circle cx="514.10" cy="273.16" r="0.55" fill="#222"/>
<line x1="428.20" y1="245.60" x2="441.60" y2="245.60" stroke="#666" stroke-width="0.8"/>
<line x1="436.20" y1="249.80" x2="465.20" y2="249.80" stroke="#666" stroke-width="0.8"/>
<line x1="436.20" y1="254.90" x2="454.60" y2="254.90" stroke="#666" stroke-width="0.8"/>
<line x1="436.20" y1="260.00" x2="447.90" y2="260.00" stroke="#666" stroke-width="0.8"/>
<text x="435.20" y="245.30" text-anchor="middle" fill="#000" stroke="#000" stroke-width="0.18" style="font-size:4.4px;font-weight:bold;">*</text>
<text x="451.00" y="249.20" text-anchor="middle" fill="#000" stroke="#000" stroke-width="0.18" style="font-size:4.4px;font-weight:bold;">*</text>
<text x="445.20" y="254.30" text-anchor="middle" fill="#000" stroke="#000" stroke-width="0.18" style="font-size:4.4px;font-weight:bold;">*</text>
<text x="442.30" y="259.70" text-anchor="middle" fill="#000" stroke="#000" stroke-width="0.18" style="font-size:4.4px;font-weight:bold;">*</text>
<line x1="477.80" y1="245.60" x2="491.20" y2="245.60" stroke="#666" stroke-width="0.8"/>
<line x1="485.80" y1="249.80" x2="514.80" y2="249.80" stroke="#666" stroke-width="0.8"/>
<line x1="485.80" y1="254.90" x2="504.20" y2="254.90" stroke="#666" stroke-width="0.8"/>
<line x1="485.80" y1="260.00" x2="497.50" y2="260.00" stroke="#666" stroke-width="0.8"/>
<text x="484.80" y="245.30" text-anchor="middle" fill="#000" stroke="#000" stroke-width="0.18" style="font-size:4.4px;font-weight:bold;">*</text>
<text x="500.60" y="249.20" text-anchor="middle" fill="#000" stroke="#000" stroke-width="0.18" style="font-size:4.4px;font-weight:bold;">*</text>
<text x="494.80" y="254.30" text-anchor="middle" fill="#000" stroke="#000" stroke-width="0.18" style="font-size:4.4px;font-weight:bold;">*</text>
<text x="491.90" y="259.70" text-anchor="middle" fill="#000" stroke="#000" stroke-width="0.18" style="font-size:4.4px;font-weight:bold;">*</text>
<text x="430.00" y="309.80" text-anchor="end" fill="#000" stroke="#000" stroke-width="0.18" style="font-size:4.0px;font-weight:bold;" transform="rotate(-45 430.0 309.8)">DMSO</text>
<text x="438.70" y="309.80" text-anchor="end" fill="#000" stroke="#000" stroke-width="0.18" style="font-size:4.0px;font-weight:bold;" transform="rotate(-45 438.7 309.8)">Erastin</text>
<text x="448.10" y="309.80" text-anchor="end" fill="#000" stroke="#000" stroke-width="0.18" style="font-size:4.0px;font-weight:bold;" transform="rotate(-45 448.1 309.8)">Erastin with Fer-1</text>
<text x="456.80" y="309.80" text-anchor="end" fill="#000" stroke="#000" stroke-width="0.18" style="font-size:4.0px;font-weight:bold;" transform="rotate(-45 456.8 309.8)">Erastin with Liproxstatin-1</text>
<text x="465.50" y="309.80" text-anchor="end" fill="#000" stroke="#000" stroke-width="0.18" style="font-size:4.0px;font-weight:bold;" transform="rotate(-45 465.5 309.8)">Erastin with DFO</text>
<text x="479.60" y="309.80" text-anchor="end" fill="#000" stroke="#000" stroke-width="0.18" style="font-size:4.0px;font-weight:bold;" transform="rotate(-45 479.6 309.8)">DMSO</text>
<text x="488.30" y="309.80" text-anchor="end" fill="#000" stroke="#000" stroke-width="0.18" style="font-size:4.0px;font-weight:bold;" transform="rotate(-45 488.3 309.8)">Erastin</text>
<text x="497.70" y="309.80" text-anchor="end" fill="#000" stroke="#000" stroke-width="0.18" style="font-size:4.0px;font-weight:bold;" transform="rotate(-45 497.70000000000005 309.8)">Erastin with Fer-1</text>
<text x="506.40" y="309.80" text-anchor="end" fill="#000" stroke="#000" stroke-width="0.18" style="font-size:4.0px;font-weight:bold;" transform="rotate(-45 506.40000000000003 309.8)">Erastin with Liproxstatin-1</text>
<text x="515.10" y="309.80" text-anchor="end" fill="#000" stroke="#000" stroke-width="0.18" style="font-size:4.0px;font-weight:bold;" transform="rotate(-45 515.1 309.8)">Erastin with DFO</text>
<line x1="419.60" y1="347.70" x2="506.60" y2="347.70" stroke="#111" stroke-width="0.8"/>
<text x="461.00" y="353.30" text-anchor="middle" fill="#000" stroke="#000" stroke-width="0.18" style="font-size:4.2px;font-weight:bold;">Hep3B</text>
<text x="412.50" y="280.00" text-anchor="middle" fill="#000" stroke="#000" stroke-width="0.18" style="font-size:4.2px;font-weight:bold;" transform="rotate(-90 412.5 280)">Cell viability (%)</text>
<rect x="457.00" y="20.20" width="1.50" height="93.60" fill="#6a6a6a"/>
<rect x="487.60" y="20.20" width="1.50" height="93.60" fill="#6a6a6a"/>
<rect x="518.30" y="20.20" width="1.70" height="93.60" fill="#9a9a9a"/>
<svg x="427.60" y="20.2" width="29.4" height="93.6" viewBox="0 20.2 29.4 93.6" overflow="hidden"><rect x="0" y="20.2" width="29.4" height="93.6" fill="#000"/><polygon points="10.0,21.5 9.4,22.5 8.8,23.5 8.2,24.5 7.6,25.5 7.1,26.5 6.5,27.5 5.9,28.5 5.3,29.5 4.8,30.5 4.8,31.5 4.8,32.5 4.8,33.5 4.8,34.5 4.8,35.5 4.8,36.5 4.8,37.5 4.8,38.5 4.8,39.5 4.8,40.5 4.8,41.5 4.8,42.5 4.8,43.5 4.8,44.5 4.8,45.5 4.8,46.5 4.8,47.5 4.8,48.5 4.8,49.5 4.8,50.5 4.8,51.5 4.8,52.5 4.8,53.5 4.8,54.5 4.8,55.5 4.8,56.5 4.8,57.5 4.8,58.5 4.8,59.5 5.0,60.5 5.4,61.5 5.7,62.5 6.1,63.5 6.5,64.5 6.8,65.5 7.2,66.5 7.6,67.5 7.9,68.5 8.1,69.5 8.3,70.5 8.5,71.5 8.7,72.5 8.9,73.5 9.1,74.5 9.2,75.5 9.4,76.5 9.6,77.5 9.8,78.5 9.9,79.5 10.1,80.5 10.3,81.5 10.4,82.5 10.6,83.5 10.7,84.5 10.8,85.5 11.0,86.5 11.1,87.5 11.2,88.5 11.3,89.5 11.5,90.5 11.6,91.5 11.7,92.5 11.8,93.5 11.9,94.5 11.9,95.5 12.0,96.5 12.1,97.5 12.2,98.5 12.2,99.5 12.3,100.5 12.3,101.5 12.4,102.5 12.5,103.5 12.5,104.5 12.5,105.5 16.1,106.5 16.1,106.5 19.7,105.5 19.9,104.5 20.0,103.5 20.2,102.5 20.4,101.5 20.6,100.5 20.8,99.5 20.9,98.5 21.1,97.5 21.3,96.5 21.4,95.5 21.6,94.5 21.7,93.5 21.9,92.5 22.0,91.5 22.1,90.5 22.3,89.5 22.4,88.5 22.5,87.5 22.6,86.5 22.7,85.5 22.8,84.5 22.9,83.5 23.0,82.5 23.1,81.5 23.1,80.5 23.2,79.5 23.3,78.5 23.3,77.5 23.4,76.5 23.5,75.5 23.5,74.5 23.6,73.5 23.6,72.5 23.6,71.5 23.7,70.5 23.7,69.5 23.7,68.5 23.9,67.5 24.0,66.5 24.2,65.5 24.4,64.5 24.6,63.5 24.8,62.5 24.9,61.5 25.1,60.5 25.2,59.5 25.2,58.5 25.2,57.5 25.2,56.5 25.2,55.5 25.2,54.5 25.2,53.5 25.2,52.5 25.2,51.5 25.2,50.5 25.2,49.5 25.2,48.5 25.2,47.5 25.2,46.5 25.2,45.5 25.2,44.5 25.2,43.5 25.2,42.5 25.2,41.5 25.2,40.5 25.2,39.5 25.2,38.5 25.2,37.5 25.2,36.5 25.2,35.5 25.2,34.5 25.2,33.5 25.2,32.5 25.2,31.5 25.2,30.5 24.7,29.5 24.1,28.5 23.5,27.5 22.9,26.5 22.4,25.5 21.8,24.5 21.2,23.5 20.6,22.5 20.0,21.5" fill="#5a1a08" opacity="0.35" filter="url(#blur1)"/><ellipse cx="15" cy="44" rx="10" ry="22.5" fill="#5a1a08" filter="url(#blur1)"/><ellipse cx="15" cy="27" rx="7" ry="5" fill="#c84818" opacity="0.6" filter="url(#blur1)"/><ellipse cx="21.5" cy="46" rx="3.5" ry="16" fill="#8aa020" opacity="0.75" filter="url(#blur1)"/><ellipse cx="14" cy="64" rx="8" ry="5" fill="#b08018" opacity="0.8" filter="url(#blur1)"/><ellipse cx="12.2" cy="46.5" rx="7.2" ry="14.2" fill="#2848c8" filter="url(#blur05)"/><ellipse cx="13" cy="45" rx="4.5" ry="9" fill="#3090d8" opacity="0.6" filter="url(#blur1)"/><g stroke-linecap="round" fill="none" opacity="0.8"><path d="M23.1 70.4h.1M23.0 66.5h.1M18.4 60.5h.1M9.5 66.7h.1M21.8 60.4h.1M24.2 61.6h.1M11.1 62.8h.1M22.1 64.4h.1M17.9 69.0h.1M17.4 67.5h.1" stroke="#a0d040" stroke-width="0.9"/><path d="M16.5 25.1h.1M12.3 22.4h.1M16.2 22.2h.1M20.2 25.1h.1M20.9 29.8h.1M16.6 30.7h.1M6.6 32.8h.1M19.4 25.7h.1" stroke="#f0b030" stroke-width="0.9"/><path d="M22.8 79.9h.1M14.8 80.4h.1M16.3 100.3h.1M13.9 93.9h.1M22.1 79.2h.1M10.3 79.7h.1M12.0 79.5h.1M22.7 80.6h.1M17.9 95.9h.1" stroke="#e02020" stroke-width="0.9"/><path d="M20.5 37.4h.1M14.5 104.7h.1M12.9 100.1h.1M14.5 90.4h.1M19.6 50.9h.1M24.1 57.6h.1M19.7 57.6h.1M15.2 78.5h.1M18.8 103.4h.1M19.5 48.8h.1M20.1 50.1h.1M16.8 33.9h.1M19.2 54.2h.1M20.1 80.8h.1M12.8 105.8h.1M19.1 52.0h.1M21.4 77.1h.1M24.7 45.3h.1M22.3 48.1h.1M15.4 33.4h.1" stroke="#f08020" stroke-width="0.7"/><path d="M17.8 61.1h.1M8.8 63.2h.1M11.9 71.0h.1M4.9 58.6h.1M24.1 61.8h.1M15.4 60.5h.1M20.9 71.1h.1" stroke="#ff6020" stroke-width="0.9"/><path d="M11.0 38.7h.1M8.4 44.9h.1M12.6 44.1h.1M6.4 49.1h.1M13.2 39.7h.1M6.6 41.0h.1M5.7 40.3h.1M10.3 40.9h.1M14.2 49.3h.1M8.6 51.5h.1M9.7 34.2h.1M14.5 51.5h.1" stroke="#50c8f0" stroke-width="1.1"/><path d="M13.4 54.5h.1M15.9 37.6h.1M10.6 54.9h.1M14.1 40.1h.1M14.1 50.4h.1M12.0 39.9h.1M18.9 50.6h.1M8.7 44.0h.1M9.5 35.6h.1" stroke="#2a60e0" stroke-width="1.1"/><path d="M16.0 77.9h.1M18.7 98.5h.1M18.4 96.2h.1M13.3 86.7h.1M14.5 98.0h.1M12.9 88.8h.1M12.1 77.7h.1M20.4 90.0h.1M11.5 82.5h.1M14.8 76.0h.1M15.6 83.1h.1M16.1 82.9h.1M18.1 82.0h.1M17.5 89.5h.1M18.7 93.5h.1" stroke="#e02020" stroke-width="0.7"/><path d="M19.2 50.4h.1M18.2 54.6h.1M20.5 37.1h.1M20.6 44.1h.1M22.8 53.3h.1M19.7 37.3h.1M23.2 39.9h.1M21.8 57.7h.1" stroke="#c0d030" stroke-width="0.9"/><path d="M8.5 69.0h.1M7.6 59.0h.1M13.6 71.6h.1M22.9 73.5h.1M11.7 61.3h.1M9.0 68.0h.1M8.4 63.9h.1M6.7 58.1h.1M5.4 60.3h.1M11.1 71.9h.1" stroke="#f09020" stroke-width="0.9"/><path d="M18.0 26.6h.1M11.3 31.8h.1M18.1 25.6h.1M14.9 31.9h.1M12.1 22.9h.1M12.7 22.6h.1M17.9 25.9h.1M21.6 25.8h.1M14.0 24.0h.1M15.4 23.1h.1M22.9 28.4h.1" stroke="#d02010" stroke-width="0.9"/><path d="M15.2 35.1h.1M16.4 51.5h.1M8.8 55.8h.1M8.5 36.5h.1M16.0 48.1h.1M9.7 49.3h.1M16.1 55.6h.1M5.2 46.0h.1M9.9 54.3h.1M7.7 38.7h.1M12.9 57.1h.1M12.4 40.3h.1M15.1 46.1h.1M8.6 42.8h.1M7.3 41.4h.1M10.9 38.7h.1M14.5 59.9h.1M15.8 54.1h.1M13.5 37.4h.1M16.4 51.2h.1M16.3 54.7h.1M17.2 43.1h.1M15.9 55.4h.1M12.2 51.6h.1M11.8 48.5h.1" stroke="#3a90e8" stroke-width="1.1"/><path d="M16.9 102.1h.1M13.8 96.1h.1M19.9 77.1h.1M16.2 75.7h.1M15.0 79.3h.1M19.7 80.7h.1M15.9 98.3h.1M21.4 76.3h.1M20.4 98.4h.1M20.5 79.3h.1M17.6 82.3h.1M19.8 77.6h.1M18.2 76.7h.1M15.9 98.6h.1M18.4 104.6h.1M12.1 84.7h.1M23.1 77.5h.1" stroke="#e02020" stroke-width="1.1"/><path d="M20.6 31.1h.1M15.4 27.2h.1M7.3 30.4h.1M15.6 21.7h.1M19.7 25.4h.1M18.8 32.7h.1M18.5 31.8h.1M19.5 31.1h.1M14.3 32.9h.1M16.9 22.1h.1M22.6 29.4h.1" stroke="#ff9040" stroke-width="1.1"/><path d="M21.0 32.9h.1M15.2 24.2h.1M10.0 25.7h.1M16.9 23.4h.1M22.7 31.3h.1M21.3 24.0h.1M18.0 24.8h.1M18.6 22.1h.1M17.4 22.4h.1M21.9 28.6h.1M13.8 23.1h.1M10.2 25.0h.1M11.5 24.9h.1M13.1 26.7h.1M16.5 21.7h.1M16.2 25.9h.1" stroke="#d02010" stroke-width="1.1"/><path d="M16.0 49.7h.1M15.0 46.8h.1M16.1 36.0h.1M10.6 55.4h.1M13.0 32.4h.1M15.4 52.8h.1M7.8 49.1h.1M7.5 45.7h.1" stroke="#a0e8ff" stroke-width="0.9"/><path d="M18.7 60.4h.1M8.0 63.0h.1M23.0 58.9h.1M8.3 63.9h.1M23.4 58.9h.1M22.1 59.9h.1M18.4 69.5h.1M11.5 63.5h.1M15.4 62.5h.1" stroke="#a0d040" stroke-width="0.7"/><path d="M14.3 44.8h.1M5.2 46.7h.1M8.6 37.4h.1M5.8 41.6h.1M18.8 43.5h.1M14.7 37.8h.1M11.8 49.4h.1M14.1 50.9h.1M10.1 49.5h.1M12.6 46.9h.1M11.1 51.1h.1M6.7 47.4h.1M8.7 38.2h.1M11.0 60.1h.1M12.7 59.7h.1M11.3 60.3h.1" stroke="#2a60e0" stroke-width="0.7"/><path d="M18.3 41.3h.1M12.6 54.2h.1M15.3 50.3h.1M7.1 47.2h.1M14.8 44.8h.1M16.6 43.3h.1M19.3 45.6h.1M17.3 47.1h.1M10.0 46.0h.1" stroke="#60b0f0" stroke-width="1.1"/><path d="M9.3 55.1h.1M14.6 36.8h.1M17.2 50.7h.1M13.2 40.7h.1M9.7 49.6h.1M14.9 48.9h.1M13.5 42.3h.1" stroke="#50c8f0" stroke-width="0.7"/><path d="M11.8 33.6h.1M9.8 51.1h.1M9.4 58.9h.1M10.0 48.7h.1M18.1 45.8h.1M12.9 38.8h.1M8.6 35.4h.1M17.8 48.9h.1" stroke="#80e0ff" stroke-width="0.7"/><path d="M18.6 59.0h.1M15.0 69.3h.1M24.2 60.0h.1M17.6 70.0h.1M20.0 67.6h.1M24.9 59.5h.1M23.0 69.4h.1M5.6 59.2h.1M12.8 73.7h.1M14.0 62.0h.1M16.5 58.4h.1M18.9 61.2h.1" stroke="#a0d040" stroke-width="1.1"/><path d="M15.9 83.5h.1M14.4 89.8h.1M18.3 87.9h.1M12.2 87.1h.1M14.6 98.5h.1M20.8 77.5h.1M15.3 95.4h.1M16.1 81.7h.1" stroke="#ff5040" stroke-width="0.9"/><path d="M17.7 84.9h.1M11.7 87.5h.1M14.0 77.3h.1M18.7 85.0h.1M12.9 103.9h.1M22.3 88.0h.1M15.7 82.9h.1M19.4 95.7h.1M21.8 90.9h.1M9.9 78.1h.1" stroke="#c01818" stroke-width="1.1"/><path d="M10.7 25.4h.1M15.5 26.1h.1M16.9 32.2h.1M22.6 30.7h.1M10.1 25.8h.1M13.5 23.8h.1M9.9 28.8h.1M17.1 22.7h.1M11.0 30.6h.1" stroke="#e03018" stroke-width="0.9"/><path d="M21.1 92.4h.1M13.4 93.6h.1M17.3 85.7h.1M24.9 36.1h.1M15.5 82.2h.1M16.4 101.9h.1M12.3 78.4h.1M20.4 48.8h.1M13.3 80.8h.1M17.8 83.6h.1M22.5 49.9h.1M20.6 56.5h.1M20.0 103.2h.1M17.2 57.4h.1M21.0 37.3h.1M15.6 33.5h.1M21.4 85.9h.1M20.3 53.8h.1M20.2 55.8h.1M25.0 55.8h.1" stroke="#f08020" stroke-width="0.9"/><path d="M17.8 62.4h.1M19.8 44.2h.1M9.3 61.8h.1M20.2 51.2h.1M9.5 73.4h.1M23.0 45.3h.1M22.5 33.4h.1M22.9 53.4h.1M19.5 50.6h.1M21.6 58.6h.1M7.1 63.0h.1M6.7 58.2h.1M11.9 67.7h.1M10.0 60.5h.1M17.4 33.7h.1" stroke="#e0c030" stroke-width="1.1"/><path d="M17.5 31.3h.1M14.0 24.1h.1M9.1 26.7h.1M24.7 32.8h.1M15.0 23.7h.1M17.0 30.2h.1M20.8 29.0h.1M13.9 21.7h.1M10.6 23.9h.1" stroke="#ff9040" stroke-width="0.9"/><path d="M15.0 65.2h.1M14.2 71.4h.1M22.5 62.2h.1M14.2 66.7h.1M13.3 70.3h.1M15.0 59.9h.1" stroke="#ff6020" stroke-width="0.7"/><path d="M9.2 43.5h.1M12.0 58.6h.1M9.6 42.5h.1M10.1 49.2h.1M5.5 42.3h.1M7.6 43.3h.1M15.7 46.5h.1M9.5 59.4h.1" stroke="#60b0f0" stroke-width="0.7"/><path d="M22.2 76.4h.1M23.6 33.9h.1M24.7 56.6h.1M12.8 84.6h.1M24.8 43.8h.1M20.0 75.8h.1M22.2 51.8h.1M13.2 88.4h.1M24.6 55.6h.1M15.7 33.1h.1M14.9 89.9h.1M20.2 49.5h.1M25.0 47.5h.1M19.0 55.4h.1M24.7 47.2h.1M12.8 74.3h.1M11.3 80.7h.1" stroke="#f08020" stroke-width="1.1"/><path d="M17.1 64.5h.1M19.5 44.7h.1M9.6 66.4h.1M21.2 49.4h.1M18.4 55.6h.1M23.1 35.3h.1M23.0 46.1h.1M18.0 72.7h.1M23.1 72.0h.1M18.8 56.7h.1M22.6 58.1h.1M15.3 67.4h.1M21.5 59.6h.1M10.4 62.1h.1M20.1 64.1h.1M5.6 58.3h.1" stroke="#e0c030" stroke-width="0.9"/><path d="M23.3 31.9h.1M11.4 24.1h.1M6.4 27.7h.1M15.0 24.2h.1M8.3 24.8h.1M10.9 22.3h.1M18.8 24.8h.1" stroke="#e03018" stroke-width="0.7"/><path d="M12.9 73.1h.1M16.9 68.8h.1M15.6 62.5h.1M12.1 61.4h.1M20.1 66.5h.1M20.4 61.3h.1M5.2 60.2h.1M21.6 72.5h.1M18.1 63.9h.1M16.5 58.9h.1M12.9 63.8h.1" stroke="#f09020" stroke-width="1.1"/><path d="M21.7 45.5h.1M24.3 40.2h.1M22.5 41.8h.1M18.9 57.4h.1M24.4 53.7h.1M18.2 56.5h.1M24.3 33.2h.1M24.9 49.7h.1M19.1 57.4h.1M22.7 42.3h.1" stroke="#e05020" stroke-width="0.9"/><path d="M20.0 23.8h.1M20.3 27.8h.1M16.7 23.9h.1M13.3 21.5h.1M16.2 32.7h.1M14.1 23.3h.1M12.0 31.5h.1M19.1 32.4h.1M6.3 30.0h.1M11.6 26.2h.1" stroke="#ff9040" stroke-width="0.7"/><path d="M8.2 38.0h.1M12.5 51.1h.1M13.0 60.1h.1M11.9 48.7h.1M7.4 54.9h.1M15.1 41.9h.1M10.6 35.0h.1M13.7 40.3h.1M17.9 40.3h.1M14.3 49.2h.1M8.5 52.7h.1" stroke="#2a60e0" stroke-width="0.9"/><path d="M9.4 37.2h.1M9.2 52.4h.1M10.1 56.3h.1M12.4 60.5h.1M17.6 50.9h.1M14.9 44.4h.1M16.8 54.1h.1" stroke="#60b0f0" stroke-width="0.9"/><path d="M10.3 23.8h.1M7.0 27.7h.1M12.8 31.2h.1M10.5 25.3h.1M8.0 30.0h.1M17.6 29.7h.1M13.5 24.6h.1M19.3 27.2h.1M12.0 30.9h.1M20.9 31.8h.1M7.8 32.8h.1M14.0 22.6h.1" stroke="#e0d040" stroke-width="1.1"/><path d="M21.0 36.8h.1M22.2 49.4h.1M20.7 49.2h.1M23.9 46.2h.1M24.0 42.4h.1M23.7 38.5h.1M21.1 36.5h.1M20.4 39.7h.1M18.6 55.3h.1" stroke="#90d040" stroke-width="0.9"/><path d="M22.7 46.3h.1M22.5 40.0h.1M22.3 52.2h.1M22.2 57.9h.1M22.5 48.1h.1M22.3 44.7h.1M20.9 33.4h.1M22.8 50.2h.1M22.4 43.5h.1" stroke="#e05020" stroke-width="0.7"/><path d="M17.5 45.3h.1M17.2 50.1h.1M15.0 34.5h.1M7.3 51.0h.1M9.4 46.0h.1M16.0 49.2h.1M17.6 41.7h.1M13.8 38.6h.1M13.8 33.2h.1M17.6 47.1h.1M12.2 56.4h.1M13.9 32.8h.1M7.1 54.4h.1M9.8 34.5h.1M12.8 48.5h.1M16.4 47.0h.1" stroke="#3a90e8" stroke-width="0.9"/><path d="M6.1 32.6h.1M12.7 26.2h.1M16.6 24.9h.1M5.6 29.9h.1M20.5 25.6h.1M10.3 24.6h.1M22.9 29.9h.1M14.5 30.4h.1M17.7 28.1h.1M9.7 29.9h.1" stroke="#e03018" stroke-width="1.1"/><path d="M17.3 22.1h.1M15.1 28.4h.1M19.8 23.1h.1M5.7 30.8h.1M18.4 28.9h.1" stroke="#e0d040" stroke-width="0.7"/><path d="M14.3 21.9h.1M19.6 23.8h.1M9.0 28.5h.1M15.4 25.3h.1M13.8 22.3h.1M18.9 22.7h.1M14.4 24.1h.1M12.9 22.5h.1M14.4 29.9h.1" stroke="#f07020" stroke-width="0.9"/><path d="M16.6 39.0h.1M13.7 58.2h.1M7.8 42.9h.1M10.6 44.4h.1M12.1 44.9h.1M12.3 50.4h.1M12.7 36.0h.1M13.1 39.1h.1M12.5 33.6h.1" stroke="#3a90e8" stroke-width="0.7"/><path d="M18.0 63.8h.1M9.2 62.8h.1M17.8 61.1h.1M22.4 63.5h.1M10.4 71.7h.1M23.5 61.6h.1M23.8 63.1h.1" stroke="#e03020" stroke-width="0.9"/><path d="M13.7 48.3h.1M17.6 47.3h.1M8.0 52.5h.1M6.9 43.0h.1M9.5 35.7h.1M12.1 50.2h.1M15.9 58.1h.1M13.6 52.0h.1M14.0 59.3h.1M12.8 45.8h.1M18.4 50.5h.1M6.0 49.9h.1M18.3 41.4h.1M16.7 51.3h.1M7.1 41.1h.1M14.5 57.5h.1" stroke="#a0e8ff" stroke-width="0.7"/><path d="M13.0 24.3h.1M14.5 26.0h.1M15.5 26.2h.1M10.2 27.8h.1M12.1 28.0h.1M9.4 22.6h.1M17.7 25.1h.1M5.3 30.4h.1M18.4 22.8h.1M10.7 22.9h.1M5.6 32.4h.1M12.2 27.2h.1" stroke="#f0b030" stroke-width="0.7"/><path d="M22.0 44.3h.1M24.3 49.6h.1M24.9 45.3h.1M18.6 54.0h.1M24.4 50.3h.1M24.3 62.8h.1M19.6 62.7h.1M20.8 37.3h.1M20.9 58.1h.1M21.3 64.4h.1M25.2 34.9h.1" stroke="#e0c030" stroke-width="0.7"/><path d="M20.5 64.9h.1M8.8 71.7h.1M12.9 67.4h.1M8.4 59.0h.1M14.8 65.7h.1M8.8 60.6h.1M13.5 66.9h.1M17.3 62.4h.1M18.4 73.2h.1M10.1 63.1h.1M10.6 67.3h.1" stroke="#e03020" stroke-width="0.7"/><path d="M22.7 26.2h.1M12.3 22.0h.1M19.5 31.9h.1M13.7 28.3h.1M16.2 26.1h.1M14.0 29.2h.1" stroke="#f07020" stroke-width="0.7"/><path d="M11.8 27.3h.1M22.2 31.1h.1M19.7 24.5h.1M17.8 28.4h.1M19.5 24.6h.1M11.3 27.4h.1" stroke="#f0b030" stroke-width="1.1"/><path d="M21.1 40.1h.1M20.2 48.1h.1M16.3 33.8h.1M25.1 50.6h.1M22.8 47.6h.1M22.0 48.1h.1M19.2 55.7h.1" stroke="#e05020" stroke-width="1.1"/><path d="M17.3 31.4h.1M17.9 22.6h.1M19.9 22.7h.1M21.3 28.5h.1M18.3 22.2h.1M21.0 29.0h.1" stroke="#d02010" stroke-width="0.7"/><path d="M16.7 86.1h.1M13.7 79.1h.1M15.4 94.6h.1M13.7 78.5h.1M17.3 79.7h.1M14.5 91.9h.1M13.5 94.4h.1M14.8 92.9h.1M13.4 79.4h.1" stroke="#ff3030" stroke-width="1.1"/><path d="M5.2 41.2h.1M6.2 34.2h.1M6.5 33.6h.1" stroke="#40c060" stroke-width="0.9"/><path d="M22.1 81.4h.1M22.7 83.8h.1M19.7 74.5h.1M20.4 77.6h.1M14.0 77.1h.1M15.4 102.8h.1" stroke="#ff3030" stroke-width="0.9"/><path d="M16.7 21.8h.1M9.4 27.2h.1M14.1 26.6h.1M17.2 27.9h.1M15.1 30.1h.1M19.2 28.3h.1M7.8 26.4h.1M21.5 25.5h.1M13.1 28.0h.1M6.3 28.1h.1" stroke="#e0d040" stroke-width="0.9"/><path d="M11.6 26.6h.1M13.0 31.1h.1M9.6 32.5h.1M11.3 32.1h.1M10.1 22.9h.1M7.1 27.4h.1M21.3 23.8h.1M12.9 31.4h.1M18.6 29.8h.1M6.4 29.1h.1M8.1 27.2h.1M23.1 30.1h.1M15.9 28.3h.1M14.2 31.0h.1M16.6 32.3h.1" stroke="#f07020" stroke-width="1.1"/><path d="M9.8 36.4h.1M11.3 34.7h.1M12.7 47.3h.1M11.7 32.7h.1M16.5 36.5h.1M10.0 57.6h.1M15.3 39.7h.1" stroke="#50c8f0" stroke-width="0.9"/><path d="M23.8 40.2h.1M20.7 52.7h.1M20.4 56.7h.1M24.2 57.5h.1M19.4 40.3h.1M24.2 49.7h.1M25.1 50.6h.1M20.7 56.9h.1M24.8 36.3h.1" stroke="#90d040" stroke-width="0.7"/><path d="M11.3 42.7h.1M6.2 39.9h.1M13.9 36.9h.1M16.8 37.3h.1M10.7 51.3h.1M8.1 49.0h.1M11.0 59.2h.1M7.0 48.7h.1M17.3 38.0h.1" stroke="#80e0ff" stroke-width="1.1"/><path d="M12.2 64.6h.1M22.4 61.7h.1M22.7 65.7h.1M14.1 62.7h.1M10.0 73.9h.1M21.3 62.1h.1" stroke="#e03020" stroke-width="1.1"/><path d="M6.2 56.7h.1" stroke="#60d040" stroke-width="1.1"/><path d="M6.5 55.9h.1M6.6 36.0h.1" stroke="#a0d030" stroke-width="1.1"/><path d="M23.5 38.3h.1M19.7 44.6h.1M20.1 50.5h.1M22.6 44.4h.1M20.7 37.7h.1M21.3 47.5h.1M21.1 41.8h.1M22.3 52.5h.1M24.4 38.4h.1M24.2 35.2h.1" stroke="#90d040" stroke-width="1.1"/><path d="M18.3 82.8h.1M15.6 96.4h.1M13.1 86.0h.1M12.4 79.0h.1M13.9 75.1h.1M16.6 82.3h.1" stroke="#ff5040" stroke-width="0.7"/><path d="M22.9 46.2h.1M21.4 46.9h.1M19.0 35.9h.1M19.2 53.5h.1M19.4 45.2h.1M19.5 44.7h.1M20.2 51.8h.1M20.1 54.3h.1" stroke="#c0d030" stroke-width="0.7"/><path d="M12.7 101.4h.1M18.8 96.6h.1M16.7 97.4h.1M21.4 79.1h.1M13.0 74.8h.1M19.0 76.3h.1" stroke="#c01818" stroke-width="0.7"/><path d="M23.1 62.5h.1M18.3 61.1h.1M17.9 73.3h.1M5.3 59.6h.1M13.9 67.9h.1M20.3 62.8h.1M14.7 61.2h.1" stroke="#f09020" stroke-width="0.7"/><path d="M6.7 37.1h.1M5.0 51.7h.1" stroke="#40c060" stroke-width="1.1"/><path d="M10.5 46.9h.1M13.7 38.6h.1M11.8 37.7h.1M15.7 42.9h.1M9.0 36.3h.1M9.7 45.9h.1M18.3 40.6h.1M12.4 37.3h.1" stroke="#80e0ff" stroke-width="0.9"/><path d="M17.0 41.8h.1M16.1 45.7h.1M13.9 47.6h.1M16.0 45.2h.1M16.3 50.0h.1M16.3 51.8h.1" stroke="#a0e8ff" stroke-width="1.1"/><path d="M19.6 59.0h.1M22.8 73.7h.1M12.0 71.6h.1M12.2 66.9h.1M13.8 72.7h.1M20.0 63.3h.1M18.5 64.6h.1" stroke="#ff6020" stroke-width="1.1"/><path d="M12.9 94.0h.1M15.1 82.2h.1M17.8 89.4h.1M13.1 80.2h.1M20.7 99.6h.1M22.5 82.7h.1M21.7 90.8h.1M21.3 87.9h.1M17.5 93.5h.1" stroke="#ff5040" stroke-width="1.1"/><path d="M17.7 91.7h.1M21.5 81.5h.1M15.4 85.7h.1M14.7 97.4h.1" stroke="#ff3030" stroke-width="0.7"/><path d="M18.8 101.1h.1M10.0 77.1h.1M17.7 82.3h.1M16.3 85.8h.1M9.7 74.3h.1M13.0 95.7h.1M16.1 78.4h.1M13.7 95.8h.1" stroke="#c01818" stroke-width="0.9"/><path d="M20.5 40.0h.1M23.9 43.6h.1M22.3 34.6h.1M20.7 39.2h.1M22.8 35.0h.1" stroke="#c0d030" stroke-width="1.1"/><path d="M7.4 57.9h.1" stroke="#60d040" stroke-width="0.7"/><path d="M8.2 33.9h.1M5.8 33.7h.1" stroke="#40c060" stroke-width="0.7"/><path d="M6.9 34.4h.1M4.9 56.0h.1" stroke="#60d040" stroke-width="0.9"/></g><path d="M14.3 80.4h.1M18.4 32.9h.1M16.8 72.6h.1M18.6 97.6h.1M12.5 92.8h.1M15.7 40.0h.1M6.6 38.8h.1M13.1 75.1h.1M19.9 47.7h.1M19.2 91.2h.1M8.5 70.5h.1M11.0 62.0h.1M11.4 59.4h.1M18.8 94.5h.1M24.0 64.4h.1M24.7 32.8h.1M23.1 43.2h.1M5.4 39.0h.1M15.3 90.5h.1M23.4 65.1h.1M7.5 43.5h.1M12.3 98.7h.1M19.5 94.7h.1M18.7 91.9h.1M16.0 88.8h.1M15.4 83.3h.1M9.1 40.9h.1M16.0 25.3h.1M16.2 55.6h.1M15.6 33.2h.1M22.2 44.2h.1M6.8 60.5h.1M10.1 24.0h.1M17.0 94.4h.1M18.7 65.5h.1M12.1 72.8h.1M15.8 79.5h.1M19.5 97.2h.1M25.1 50.1h.1M13.0 90.5h.1M22.2 85.4h.1M15.1 65.0h.1M7.6 57.4h.1M20.8 50.4h.1M10.7 41.8h.1M16.2 49.7h.1M10.5 64.2h.1M24.1 55.1h.1M15.1 22.6h.1M21.6 27.4h.1M18.8 44.7h.1M10.5 74.8h.1M24.6 49.4h.1M22.2 64.8h.1M8.1 57.3h.1M13.2 98.3h.1M17.9 96.4h.1M7.8 33.4h.1M12.5 58.2h.1M14.2 79.1h.1M8.4 34.7h.1M13.8 76.6h.1M15.2 96.8h.1M19.5 92.2h.1M20.9 46.8h.1M8.5 29.0h.1M15.9 32.4h.1M17.6 89.5h.1M12.0 76.8h.1M17.8 70.1h.1M14.8 66.9h.1M20.8 95.4h.1M16.4 63.2h.1M23.1 30.9h.1M19.5 96.1h.1M13.8 24.7h.1M16.2 62.5h.1M19.6 66.1h.1M11.8 83.2h.1M22.8 31.9h.1M12.5 98.2h.1M18.4 93.2h.1M14.8 46.5h.1M19.0 91.6h.1M12.2 66.6h.1M15.5 69.5h.1M20.2 22.8h.1M10.1 24.6h.1M18.2 72.6h.1M24.4 36.0h.1M18.0 95.5h.1M6.0 34.4h.1M22.4 72.3h.1M15.7 91.6h.1M6.4 49.5h.1M11.6 57.6h.1M12.0 83.3h.1M13.0 96.5h.1M23.5 50.9h.1M11.1 29.1h.1M19.7 82.7h.1M19.0 28.1h.1M19.5 23.9h.1M6.0 60.2h.1M13.2 87.6h.1M14.4 73.4h.1M15.6 75.6h.1M14.1 60.7h.1M14.7 31.6h.1M22.4 37.6h.1M8.4 27.7h.1M21.7 58.1h.1M19.1 45.9h.1M21.9 77.6h.1M23.6 30.0h.1M17.6 63.0h.1M17.8 66.1h.1M18.5 81.7h.1M17.3 87.2h.1M11.2 81.2h.1M18.1 94.7h.1M10.1 68.8h.1M21.5 94.4h.1M14.8 43.1h.1M21.4 33.9h.1M18.2 74.6h.1M18.4 57.5h.1M13.3 87.0h.1M21.2 96.6h.1M15.4 48.5h.1M18.3 85.7h.1M8.7 30.4h.1M19.6 91.1h.1M18.2 51.4h.1M11.6 84.7h.1M22.8 32.1h.1M14.8 91.6h.1M10.5 49.3h.1M17.8 40.9h.1M19.5 73.0h.1M22.7 72.1h.1M18.8 77.7h.1M18.0 45.9h.1M20.5 83.4h.1M18.9 61.0h.1M23.8 38.0h.1M21.6 59.6h.1M12.1 61.2h.1M11.1 22.8h.1M6.5 53.8h.1M13.2 90.2h.1M13.6 90.1h.1M15.2 66.0h.1M9.3 69.1h.1M7.8 35.2h.1M10.4 61.0h.1M21.7 32.9h.1M17.1 98.6h.1M17.0 27.1h.1M14.7 92.5h.1M8.7 66.6h.1M11.3 40.6h.1M9.8 35.3h.1M24.9 52.0h.1M18.1 26.0h.1M16.4 57.8h.1M13.3 84.6h.1M13.7 91.1h.1M18.1 27.0h.1M10.1 78.3h.1M22.7 72.6h.1M6.0 45.1h.1M9.9 43.9h.1M20.5 52.0h.1M6.7 53.0h.1M20.7 27.8h.1M16.1 89.8h.1M19.2 24.2h.1M8.3 45.9h.1M9.9 23.9h.1M12.0 95.8h.1M13.4 73.8h.1M19.3 25.1h.1M15.5 92.2h.1M10.3 32.3h.1M8.8 23.6h.1M19.2 38.9h.1M17.3 95.9h.1M23.0 54.5h.1M21.7 64.8h.1M22.4 42.3h.1M13.8 89.1h.1M18.9 22.5h.1M11.9 93.1h.1M11.0 72.9h.1M18.9 37.4h.1M17.7 99.7h.1M19.8 67.1h.1M19.5 59.1h.1M16.1 68.3h.1M6.5 37.3h.1M8.4 56.1h.1M6.2 63.8h.1M20.9 91.0h.1M22.3 76.1h.1M18.2 27.4h.1M19.3 23.0h.1M20.7 75.7h.1M9.8 64.3h.1M15.1 42.0h.1M12.8 82.6h.1M11.7 80.0h.1M19.9 96.3h.1M20.6 97.7h.1M12.2 80.7h.1M17.2 64.1h.1M18.2 97.3h.1M14.8 83.9h.1M11.2 81.3h.1M16.6 98.3h.1M5.4 50.7h.1M6.2 36.6h.1M17.7 25.6h.1M5.7 36.5h.1M18.1 65.9h.1M17.3 98.4h.1M19.9 43.3h.1M14.6 31.3h.1M9.8 33.0h.1M14.1 81.8h.1M15.8 36.7h.1M22.9 40.2h.1M15.3 91.0h.1M10.6 71.0h.1M17.6 89.5h.1M11.7 50.0h.1M20.7 80.2h.1M18.1 92.3h.1M21.4 59.7h.1M13.6 86.2h.1M16.6 76.3h.1M18.9 60.5h.1M24.5 38.3h.1M20.8 49.9h.1M22.7 39.5h.1M13.5 67.7h.1M20.5 87.3h.1M18.2 25.5h.1M18.7 66.0h.1M14.1 51.6h.1M24.2 61.2h.1M8.3 70.1h.1M10.4 52.6h.1M6.5 51.3h.1M14.8 28.6h.1M17.4 93.8h.1M18.3 37.6h.1M13.5 73.4h.1M19.4 70.1h.1M12.8 39.7h.1" stroke="#000" stroke-width="1.0" stroke-linecap="round" opacity="0.55"/><ellipse cx="15.2" cy="89" rx="1.5" ry="2.4" fill="#ff2030" opacity="0.75"/><ellipse cx="14.0" cy="101.5" rx="1.3" ry="1.3" fill="#ff5060" opacity="0.8"/></svg>
<svg x="458.50" y="20.2" width="29.4" height="93.6" viewBox="0 20.2 29.4 93.6" overflow="hidden"><rect x="0" y="20.2" width="29.4" height="93.6" fill="#000"/><ellipse cx="15" cy="44" rx="10" ry="22.5" fill="#063a12" filter="url(#blur1)"/><ellipse cx="20" cy="44" rx="4" ry="16" fill="#10701e" opacity="0.45" filter="url(#blur1)"/><ellipse cx="13.0" cy="45.6" rx="7.0" ry="12.8" fill="#1838a0" opacity="0.9" filter="url(#blur05)"/><ellipse cx="15" cy="48" rx="4" ry="7" fill="#188080" opacity="0.6" filter="url(#blur1)"/><g stroke-linecap="round" fill="none" opacity="0.62"><path d="M8.3 33.6h.1M6.2 56.0h.1M15.7 23.6h.1M5.0 55.0h.1M6.1 58.0h.1M6.0 62.4h.1M15.7 63.8h.1M7.0 57.9h.1M12.5 26.4h.1M14.1 27.6h.1M8.4 63.5h.1M16.9 57.7h.1M14.0 24.3h.1M21.9 35.8h.1M5.0 58.5h.1M21.1 34.5h.1M6.1 31.6h.1" stroke="#40d050" stroke-width="0.7"/><path d="M16.4 53.7h.1M19.6 44.3h.1M12.9 34.8h.1M9.3 42.7h.1M8.3 47.7h.1M14.6 43.6h.1M7.1 41.7h.1M19.6 43.0h.1M15.5 43.9h.1" stroke="#30a0a0" stroke-width="1.1"/><path d="M21.3 40.3h.1M19.5 58.3h.1M14.6 21.6h.1M9.1 59.6h.1M23.8 42.8h.1M21.9 41.2h.1M23.9 29.5h.1M16.4 27.1h.1M12.6 27.5h.1M18.2 54.5h.1M5.7 47.0h.1M20.6 62.7h.1M12.4 32.7h.1M12.3 22.0h.1M11.8 29.6h.1M9.4 63.3h.1M10.2 31.6h.1M17.6 27.5h.1M21.8 52.1h.1" stroke="#50e060" stroke-width="1.1"/><path d="M17.1 37.5h.1M17.7 38.6h.1M12.2 51.2h.1M16.5 48.7h.1M16.4 51.8h.1M11.0 51.9h.1M17.2 52.6h.1M10.2 54.6h.1M18.6 50.5h.1M10.3 44.2h.1" stroke="#3050d0" stroke-width="0.7"/><path d="M14.0 61.0h.1M12.9 24.4h.1M15.9 63.7h.1M12.1 62.4h.1M21.2 57.7h.1M12.0 28.0h.1M8.6 56.6h.1M21.4 45.2h.1M21.6 57.9h.1M6.9 35.9h.1M8.5 62.8h.1M18.3 61.3h.1" stroke="#40d050" stroke-width="1.1"/><path d="M9.0 38.6h.1M15.9 39.5h.1M15.1 36.9h.1M10.7 46.5h.1M9.5 47.5h.1M10.1 55.3h.1M12.5 32.9h.1M7.3 52.8h.1M19.6 45.5h.1M16.6 45.3h.1M11.0 33.7h.1M18.7 40.4h.1" stroke="#60d0c0" stroke-width="1.1"/><path d="M24.1 54.9h.1M24.0 42.7h.1M23.1 61.0h.1M6.2 38.6h.1M12.5 58.5h.1M23.1 45.6h.1M22.2 59.3h.1M22.9 47.8h.1M20.3 32.9h.1M5.0 35.4h.1M22.3 81.5h.1M24.9 44.5h.1M7.1 60.6h.1M22.1 26.0h.1M20.7 53.7h.1M23.8 46.3h.1M4.9 57.7h.1M11.6 24.9h.1M20.3 41.7h.1" stroke="#50e060" stroke-width="0.9"/><path d="M21.4 27.2h.1M19.7 56.5h.1M21.7 60.5h.1M12.1 21.6h.1M7.7 37.0h.1M23.5 50.0h.1M21.5 38.6h.1M21.2 54.8h.1M13.6 23.3h.1M19.8 79.7h.1M21.3 36.4h.1M20.0 30.9h.1M24.8 43.0h.1M6.6 27.4h.1M21.8 61.3h.1M24.8 42.6h.1M16.5 31.4h.1M18.8 26.9h.1M22.8 40.7h.1" stroke="#80f080" stroke-width="1.1"/><path d="M9.3 59.1h.1M20.2 25.8h.1M23.1 61.7h.1M14.0 59.5h.1M7.8 62.1h.1M20.4 57.4h.1M22.6 47.4h.1M20.2 60.3h.1M10.3 32.5h.1M25.2 47.8h.1M5.0 39.6h.1M6.3 30.4h.1M20.8 54.0h.1M24.4 44.7h.1" stroke="#80f080" stroke-width="0.7"/><path d="M9.5 33.1h.1M7.3 34.5h.1M18.9 68.0h.1M22.5 62.6h.1M22.7 59.5h.1M20.8 28.3h.1M17.8 28.2h.1M23.9 54.9h.1M17.8 22.9h.1M16.9 60.3h.1M19.0 54.4h.1M12.8 64.6h.1M14.1 31.5h.1M19.9 21.8h.1M18.9 21.7h.1M11.6 24.2h.1M23.6 47.1h.1M13.9 64.5h.1M16.0 30.6h.1M18.7 25.1h.1M24.7 58.9h.1M17.1 72.2h.1M10.4 61.2h.1M15.7 62.9h.1M9.7 29.6h.1M23.8 34.7h.1M18.0 23.5h.1M6.7 61.5h.1M22.7 53.7h.1M24.6 37.9h.1" stroke="#30c040" stroke-width="0.7"/><path d="M7.2 54.1h.1M20.0 48.4h.1M15.3 29.7h.1M13.9 24.7h.1M20.4 45.0h.1M5.2 44.8h.1M12.4 22.8h.1M22.0 46.6h.1M19.1 58.8h.1M5.8 45.7h.1M19.3 60.0h.1M19.4 75.2h.1M10.1 63.5h.1M20.9 35.0h.1M22.3 48.3h.1M6.4 60.0h.1M13.5 74.3h.1M9.7 62.2h.1M24.2 51.3h.1" stroke="#50e060" stroke-width="0.7"/><path d="M10.9 41.7h.1M8.4 38.6h.1M11.6 52.8h.1M6.3 45.1h.1M8.5 49.1h.1" stroke="#2070c0" stroke-width="0.7"/><path d="M8.3 40.3h.1M14.8 47.2h.1M16.3 37.8h.1M13.0 57.8h.1M10.7 50.1h.1M7.9 38.0h.1M10.2 42.2h.1" stroke="#3050d0" stroke-width="1.1"/><path d="M5.0 42.1h.1M24.8 48.1h.1M18.6 63.5h.1M8.5 63.1h.1M20.5 35.1h.1M16.0 26.5h.1M23.5 52.0h.1M23.7 31.2h.1M4.8 40.6h.1M5.2 35.5h.1" stroke="#40d050" stroke-width="0.9"/><path d="M16.2 37.7h.1M13.9 44.3h.1M8.5 53.5h.1M7.2 44.7h.1M13.0 49.6h.1M11.1 40.5h.1M14.6 50.6h.1" stroke="#2070c0" stroke-width="0.9"/><path d="M7.5 40.4h.1M12.6 39.4h.1M8.7 37.4h.1M8.8 40.8h.1M13.6 37.5h.1M11.4 53.7h.1M12.3 54.9h.1" stroke="#40c0a0" stroke-width="0.9"/><path d="M5.3 39.0h.1M22.2 61.0h.1M11.9 24.2h.1M5.6 46.9h.1M24.7 56.7h.1M8.9 62.8h.1M14.4 29.5h.1M6.1 61.2h.1M16.6 33.6h.1M18.9 28.1h.1M18.5 28.4h.1M6.4 54.9h.1M17.6 30.7h.1" stroke="#30c040" stroke-width="0.9"/><path d="M21.4 28.2h.1M24.6 61.6h.1M19.8 41.8h.1M24.3 32.4h.1M7.6 28.9h.1M21.3 37.5h.1M19.2 27.7h.1M6.8 58.2h.1M9.7 23.7h.1M21.1 58.4h.1M16.0 22.3h.1M24.8 56.8h.1M13.7 25.5h.1M22.7 71.2h.1M11.8 32.9h.1M24.4 54.7h.1M18.3 63.0h.1M17.4 58.4h.1" stroke="#20a030" stroke-width="0.9"/><path d="M13.0 49.4h.1M11.8 56.9h.1M19.3 48.9h.1M14.8 43.5h.1M13.4 58.1h.1M7.4 50.9h.1M17.0 52.1h.1" stroke="#30a0a0" stroke-width="0.9"/><path d="M14.9 22.0h.1M22.8 63.4h.1M22.8 49.2h.1M24.2 57.9h.1M15.5 29.6h.1M13.3 21.8h.1M6.3 62.3h.1M5.9 63.0h.1M13.8 28.0h.1M12.3 22.8h.1M21.4 46.9h.1M5.6 57.7h.1M8.2 27.0h.1M16.5 22.8h.1M21.1 44.1h.1" stroke="#30c040" stroke-width="1.1"/><path d="M9.7 36.5h.1M9.6 54.4h.1M11.5 44.2h.1M18.3 45.7h.1M17.1 35.4h.1M13.1 55.2h.1M8.4 39.7h.1" stroke="#3050d0" stroke-width="0.9"/><path d="M24.6 35.4h.1M19.1 37.6h.1M23.6 54.1h.1M5.6 54.6h.1M19.2 22.6h.1M9.5 23.0h.1M5.3 46.7h.1M5.0 46.5h.1M23.5 58.6h.1M24.8 41.1h.1M15.6 24.1h.1" stroke="#80f080" stroke-width="0.9"/><path d="M21.7 48.9h.1M9.7 62.7h.1M15.3 58.7h.1M19.8 54.1h.1M15.2 22.2h.1M14.9 27.0h.1M22.3 29.3h.1M16.8 22.0h.1M20.5 48.8h.1M10.4 25.8h.1M6.9 30.2h.1M23.6 42.9h.1M24.9 49.0h.1M12.9 59.6h.1M8.3 26.1h.1M24.3 55.5h.1M11.3 22.5h.1M8.3 55.9h.1M19.5 51.4h.1M5.4 51.3h.1M14.3 77.5h.1" stroke="#20a030" stroke-width="1.1"/><path d="M7.3 52.7h.1M16.3 50.3h.1M16.6 36.9h.1M16.0 35.5h.1M13.0 43.0h.1M19.0 40.2h.1" stroke="#60d0c0" stroke-width="0.7"/><path d="M18.9 50.6h.1M8.1 42.4h.1M9.3 37.6h.1M15.2 45.6h.1M13.6 35.0h.1" stroke="#60d0c0" stroke-width="0.9"/><path d="M9.7 55.1h.1M10.0 42.4h.1M15.0 35.5h.1" stroke="#40c0a0" stroke-width="0.7"/><path d="M13.0 49.0h.1M11.7 51.3h.1M18.6 43.2h.1M12.9 54.6h.1M6.5 44.8h.1M15.8 43.3h.1M10.0 37.2h.1" stroke="#40c0a0" stroke-width="1.1"/><path d="M12.6 57.6h.1M11.3 50.2h.1M20.0 46.8h.1M19.0 46.2h.1M12.6 50.0h.1M18.3 49.9h.1M18.6 43.4h.1" stroke="#2070c0" stroke-width="1.1"/><path d="M8.7 37.3h.1M10.6 52.3h.1M10.2 54.6h.1M13.0 49.0h.1M11.5 51.8h.1M8.2 50.8h.1M10.7 38.6h.1M17.9 48.8h.1M10.7 57.4h.1" stroke="#30a0a0" stroke-width="0.7"/><path d="M15.4 30.7h.1M20.8 53.0h.1M9.9 22.7h.1M22.6 53.5h.1M9.4 27.3h.1M7.4 64.0h.1M21.1 59.0h.1M14.8 22.8h.1M6.1 51.9h.1M18.8 59.0h.1M6.5 36.9h.1M12.1 26.5h.1M5.9 49.0h.1M23.0 35.6h.1M10.5 62.6h.1" stroke="#20a030" stroke-width="0.7"/></g><path d="M17.7 81.7h.1M17.5 93.5h.1M10.0 61.1h.1M13.1 48.1h.1M15.1 26.4h.1M8.1 64.4h.1M20.0 83.0h.1M5.0 39.3h.1M13.6 98.6h.1M22.0 82.2h.1M15.1 80.2h.1M16.5 26.2h.1M13.7 76.7h.1M19.2 74.9h.1M8.2 25.2h.1M21.7 86.0h.1M12.2 64.8h.1M16.9 96.6h.1M22.2 43.9h.1M17.0 99.9h.1M13.1 50.8h.1M20.7 58.8h.1M17.3 25.9h.1M8.5 26.0h.1M20.8 53.3h.1M17.8 49.1h.1M5.1 42.7h.1M9.8 68.4h.1M20.2 92.4h.1M21.5 40.9h.1M16.5 92.1h.1M13.9 76.9h.1M16.0 28.4h.1M14.9 80.2h.1M13.2 38.3h.1M11.7 69.0h.1M12.4 64.6h.1M19.6 97.2h.1M20.0 84.4h.1M12.8 69.1h.1M20.0 96.4h.1M19.1 79.4h.1M13.4 32.8h.1M20.9 47.2h.1M10.1 58.4h.1M7.8 31.8h.1M8.7 67.9h.1M20.0 94.7h.1M18.3 74.7h.1M22.1 37.9h.1M17.1 66.5h.1M14.1 49.5h.1M19.2 23.0h.1M23.9 43.4h.1M7.4 48.8h.1M12.7 40.2h.1M14.2 60.1h.1M8.2 37.6h.1M9.8 45.3h.1M22.3 37.6h.1M5.4 44.2h.1M5.6 42.2h.1M13.4 27.1h.1M22.8 62.3h.1M10.9 35.5h.1M20.5 78.6h.1M8.6 41.0h.1M19.9 47.6h.1M24.6 62.4h.1M21.6 24.5h.1M11.7 64.1h.1M15.3 97.0h.1M6.3 36.3h.1M15.8 23.0h.1M16.9 94.3h.1M12.2 73.9h.1M20.1 22.5h.1M20.1 77.6h.1M13.0 56.1h.1M10.4 57.3h.1M10.9 41.1h.1M16.8 28.2h.1M15.1 89.9h.1M12.5 30.7h.1M17.6 97.7h.1M15.2 25.9h.1M13.7 54.4h.1M16.2 58.3h.1M12.7 47.5h.1M11.3 67.9h.1M12.6 25.4h.1M19.1 80.5h.1M9.2 67.6h.1M22.4 72.6h.1M20.3 66.0h.1M13.6 43.6h.1M6.3 33.9h.1M19.9 52.4h.1M19.9 45.7h.1M22.4 27.2h.1M22.1 46.4h.1M16.5 64.9h.1M22.4 53.1h.1M18.0 40.4h.1M23.7 65.0h.1M25.1 59.0h.1M24.8 50.4h.1M19.9 75.3h.1M12.7 83.9h.1M16.3 98.4h.1M22.5 60.3h.1M22.6 52.0h.1M10.7 38.8h.1M9.4 60.6h.1M11.2 50.4h.1M13.0 49.6h.1M24.3 49.2h.1M12.5 89.7h.1M14.0 96.2h.1M21.3 68.2h.1M19.7 82.0h.1M18.8 36.2h.1M10.5 43.0h.1M11.7 30.3h.1M23.0 43.0h.1M15.5 78.2h.1M12.8 79.8h.1M8.0 68.1h.1M20.2 84.0h.1M15.8 50.1h.1M14.4 33.4h.1M12.8 86.7h.1M19.5 74.8h.1M23.3 50.9h.1M18.0 60.5h.1M18.0 24.0h.1M9.1 61.0h.1M10.7 73.9h.1M13.1 39.1h.1M22.0 43.5h.1M8.3 25.1h.1M19.3 34.5h.1M14.5 57.7h.1M20.5 69.1h.1M10.2 67.3h.1M16.4 42.7h.1M18.3 63.1h.1M8.1 33.2h.1M20.3 70.5h.1M18.9 91.8h.1M17.4 39.0h.1M17.4 97.3h.1M20.6 61.2h.1M13.7 60.3h.1M7.6 49.1h.1M16.7 44.3h.1M14.0 44.2h.1M6.0 52.7h.1M17.4 61.2h.1M23.3 59.4h.1M16.6 53.1h.1M19.8 33.6h.1M23.2 32.4h.1M19.2 88.6h.1M8.0 69.0h.1M8.9 61.1h.1M6.4 29.6h.1M14.7 65.8h.1M17.1 94.2h.1M20.8 41.9h.1M15.2 58.6h.1M6.4 36.1h.1M21.3 67.9h.1M22.5 45.9h.1M24.4 52.1h.1M14.6 79.0h.1M22.0 50.2h.1M17.8 66.5h.1M18.2 70.5h.1M22.1 28.0h.1M20.5 87.3h.1M12.3 59.6h.1M15.5 98.6h.1M18.5 28.3h.1M21.6 78.6h.1M15.2 47.6h.1M17.0 82.7h.1M13.2 59.5h.1M24.5 62.3h.1M15.5 81.1h.1M12.7 71.5h.1M24.4 46.6h.1M21.1 66.8h.1M16.2 93.0h.1M11.8 47.9h.1M21.4 33.5h.1M17.3 24.0h.1M12.5 33.9h.1M22.1 42.2h.1M9.5 38.7h.1M23.4 42.6h.1M12.2 71.5h.1M18.8 98.1h.1M13.9 83.2h.1M21.3 26.2h.1M19.5 28.5h.1M18.7 91.6h.1M12.9 24.6h.1M19.3 24.8h.1M20.9 69.4h.1M24.7 40.9h.1M13.2 50.6h.1M5.0 58.0h.1M13.4 53.7h.1M17.4 82.2h.1M14.4 37.0h.1M21.5 61.1h.1M17.3 57.7h.1M21.0 68.1h.1M16.8 78.3h.1M9.5 50.3h.1M15.9 78.4h.1M10.7 53.9h.1M9.4 71.0h.1M19.1 67.7h.1M17.8 89.7h.1M6.0 34.2h.1M20.5 81.0h.1M7.3 43.8h.1M11.4 29.4h.1M20.1 49.3h.1M21.5 77.0h.1M21.7 27.1h.1M21.1 79.6h.1M16.7 23.5h.1M8.8 60.9h.1M11.7 77.0h.1M19.4 52.6h.1M10.0 40.1h.1M13.4 56.6h.1M11.0 42.3h.1M21.7 86.6h.1M5.6 59.6h.1M20.7 43.0h.1M11.8 83.0h.1M19.7 47.0h.1M13.9 74.0h.1M8.4 43.0h.1M16.8 52.6h.1M6.6 56.2h.1M17.6 74.8h.1M24.7 32.1h.1M20.2 61.8h.1M14.9 82.9h.1M21.5 72.6h.1M16.4 33.4h.1M9.5 48.6h.1M19.9 29.7h.1M23.0 62.1h.1M14.7 68.7h.1" stroke="#000" stroke-width="1.0" stroke-linecap="round" opacity="0.55"/></svg>
<svg x="489.10" y="20.2" width="29.4" height="93.6" viewBox="0 20.2 29.4 93.6" overflow="hidden"><rect x="0" y="20.2" width="29.4" height="93.6" fill="#000"/><polygon points="10.0,21.5 9.4,22.5 8.8,23.5 8.2,24.5 7.6,25.5 7.1,26.5 6.5,27.5 5.9,28.5 5.3,29.5 4.8,30.5 4.8,31.5 4.8,32.5 4.8,33.5 4.8,34.5 4.8,35.5 4.8,36.5 4.8,37.5 4.8,38.5 4.8,39.5 4.8,40.5 4.8,41.5 4.8,42.5 4.8,43.5 4.8,44.5 4.8,45.5 4.8,46.5 4.8,47.5 4.8,48.5 4.8,49.5 4.8,50.5 4.8,51.5 4.8,52.5 4.8,53.5 4.8,54.5 4.8,55.5 4.8,56.5 4.8,57.5 4.8,58.5 4.8,59.5 5.0,60.5 5.4,61.5 5.7,62.5 6.1,63.5 6.5,64.5 6.8,65.5 7.2,66.5 7.6,67.5 7.9,68.5 8.1,69.5 8.3,70.5 8.5,71.5 8.7,72.5 8.9,73.5 9.1,74.5 9.2,75.5 9.4,76.5 9.6,77.5 9.8,78.5 9.9,79.5 10.1,80.5 10.3,81.5 10.4,82.5 10.6,83.5 10.7,84.5 10.8,85.5 11.0,86.5 11.1,87.5 11.2,88.5 11.3,89.5 11.5,90.5 11.6,91.5 11.7,92.5 11.8,93.5 11.9,94.5 11.9,95.5 12.0,96.5 12.1,97.5 12.2,98.5 12.2,99.5 12.3,100.5 12.3,101.5 12.4,102.5 12.5,103.5 12.5,104.5 12.5,105.5 16.1,106.5 16.1,106.5 19.7,105.5 19.9,104.5 20.0,103.5 20.2,102.5 20.4,101.5 20.6,100.5 20.8,99.5 20.9,98.5 21.1,97.5 21.3,96.5 21.4,95.5 21.6,94.5 21.7,93.5 21.9,92.5 22.0,91.5 22.1,90.5 22.3,89.5 22.4,88.5 22.5,87.5 22.6,86.5 22.7,85.5 22.8,84.5 22.9,83.5 23.0,82.5 23.1,81.5 23.1,80.5 23.2,79.5 23.3,78.5 23.3,77.5 23.4,76.5 23.5,75.5 23.5,74.5 23.6,73.5 23.6,72.5 23.6,71.5 23.7,70.5 23.7,69.5 23.7,68.5 23.9,67.5 24.0,66.5 24.2,65.5 24.4,64.5 24.6,63.5 24.8,62.5 24.9,61.5 25.1,60.5 25.2,59.5 25.2,58.5 25.2,57.5 25.2,56.5 25.2,55.5 25.2,54.5 25.2,53.5 25.2,52.5 25.2,51.5 25.2,50.5 25.2,49.5 25.2,48.5 25.2,47.5 25.2,46.5 25.2,45.5 25.2,44.5 25.2,43.5 25.2,42.5 25.2,41.5 25.2,40.5 25.2,39.5 25.2,38.5 25.2,37.5 25.2,36.5 25.2,35.5 25.2,34.5 25.2,33.5 25.2,32.5 25.2,31.5 25.2,30.5 24.7,29.5 24.1,28.5 23.5,27.5 22.9,26.5 22.4,25.5 21.8,24.5 21.2,23.5 20.6,22.5 20.0,21.5" fill="#4a0608" opacity="0.35" filter="url(#blur1)"/><ellipse cx="15" cy="44" rx="10" ry="22.5" fill="#4a0608" filter="url(#blur1)"/><ellipse cx="21" cy="45" rx="3.5" ry="16" fill="#901014" opacity="0.45" filter="url(#blur1)"/><ellipse cx="13.0" cy="45.4" rx="6.6" ry="12.8" fill="#34208a" opacity="0.8" filter="url(#blur05)"/><ellipse cx="12" cy="48" rx="3.5" ry="7" fill="#3030b0" opacity="0.7" filter="url(#blur1)"/><g stroke-linecap="round" fill="none" opacity="0.62"><path d="M17.1 39.3h.1M14.2 45.2h.1M14.1 50.5h.1M14.1 54.0h.1M7.9 50.1h.1M13.7 57.0h.1M14.5 39.5h.1M14.2 51.7h.1M14.5 55.8h.1M18.6 42.5h.1M18.4 52.1h.1" stroke="#7040c0" stroke-width="1.1"/><path d="M22.6 53.5h.1M24.5 36.9h.1M12.3 23.0h.1M19.5 88.5h.1M22.6 53.0h.1M24.8 46.7h.1M25.0 41.2h.1M21.3 32.6h.1M22.7 63.8h.1M15.3 23.5h.1M10.3 80.8h.1M19.6 81.0h.1M19.4 40.2h.1M22.3 49.4h.1M17.4 89.2h.1M23.9 67.0h.1M22.9 34.8h.1M19.3 54.4h.1M19.5 24.2h.1M6.3 59.1h.1M12.5 77.0h.1M7.3 26.8h.1M8.0 68.8h.1M15.5 80.4h.1M17.9 32.4h.1M18.8 38.0h.1M21.0 43.4h.1" stroke="#e02020" stroke-width="0.9"/><path d="M20.8 28.0h.1M21.8 24.8h.1M19.9 68.4h.1M19.1 98.2h.1M17.0 22.5h.1M9.7 23.9h.1M20.6 67.1h.1M10.1 59.7h.1M18.1 102.5h.1M24.3 64.2h.1M20.3 52.7h.1M13.5 29.4h.1M22.1 66.0h.1M11.6 82.7h.1M20.5 96.2h.1M6.5 34.2h.1M22.5 42.4h.1" stroke="#e02020" stroke-width="0.7"/><path d="M7.4 40.1h.1M14.5 53.6h.1M15.4 36.6h.1M15.2 33.5h.1M8.5 43.1h.1M6.6 46.2h.1M16.1 52.9h.1M15.1 46.9h.1M14.1 35.8h.1M15.1 57.2h.1M14.0 50.1h.1" stroke="#4030c0" stroke-width="0.9"/><path d="M19.8 36.6h.1M9.9 28.3h.1M18.4 61.5h.1M17.3 30.1h.1M22.7 33.5h.1M20.3 22.0h.1M20.1 23.2h.1M23.6 53.0h.1M18.3 99.0h.1M6.4 57.0h.1M6.4 63.2h.1M17.3 101.7h.1M17.5 79.5h.1M7.0 55.3h.1M24.1 63.2h.1M20.3 24.7h.1M14.2 77.7h.1M6.5 39.4h.1M6.0 51.0h.1M13.0 67.3h.1M16.3 29.8h.1M20.1 63.8h.1M18.5 72.3h.1M17.5 83.5h.1M24.0 30.3h.1M23.2 31.7h.1M22.6 27.0h.1M19.2 104.7h.1M7.8 57.8h.1M20.4 23.5h.1" stroke="#d01818" stroke-width="1.1"/><path d="M16.5 56.3h.1M20.9 44.7h.1M24.4 46.8h.1M15.7 62.6h.1M16.5 102.5h.1M9.6 23.3h.1M10.5 60.0h.1M13.2 78.9h.1M19.4 93.0h.1M18.3 75.4h.1M20.6 33.8h.1M16.6 88.7h.1M16.7 23.0h.1M15.7 27.6h.1M16.0 24.4h.1M6.9 51.0h.1M12.0 69.3h.1M19.6 40.6h.1M21.8 86.5h.1M10.4 21.8h.1M17.4 21.6h.1M23.7 38.4h.1M15.1 33.2h.1M22.1 86.9h.1M12.1 62.7h.1M21.2 53.9h.1" stroke="#a01010" stroke-width="0.7"/><path d="M5.6 37.4h.1M13.0 29.1h.1M21.0 59.4h.1M13.5 21.6h.1M13.2 28.8h.1M7.5 62.8h.1M8.4 26.4h.1M12.0 22.2h.1M20.3 28.2h.1M16.0 26.3h.1M15.6 85.2h.1M22.3 66.8h.1M15.5 105.2h.1M21.3 74.2h.1M12.2 27.6h.1M20.1 27.7h.1M12.9 61.4h.1M4.9 32.5h.1M21.8 78.4h.1M18.4 56.8h.1M23.9 46.7h.1M9.2 28.8h.1M20.2 23.8h.1M18.6 35.1h.1" stroke="#ff3030" stroke-width="0.7"/><path d="M6.8 56.7h.1M22.4 71.2h.1M6.9 50.9h.1M14.9 69.6h.1M16.2 28.6h.1M17.4 25.0h.1M19.1 82.1h.1M19.4 104.6h.1M11.5 32.0h.1M22.4 27.9h.1M5.4 40.9h.1M14.4 26.3h.1M17.7 24.7h.1M11.0 28.7h.1M19.8 60.8h.1M21.2 48.1h.1M22.9 48.9h.1M22.2 81.5h.1M12.1 73.2h.1M9.6 22.2h.1M19.7 39.9h.1M11.8 91.5h.1M19.3 90.7h.1M20.9 38.8h.1M23.3 46.2h.1M20.0 22.7h.1M12.2 24.9h.1" stroke="#c01818" stroke-width="0.7"/><path d="M22.1 77.8h.1M18.0 58.8h.1M6.2 49.2h.1M12.0 32.7h.1M7.0 61.3h.1M14.2 93.9h.1M12.3 82.9h.1M14.1 61.4h.1M10.0 30.9h.1M12.9 32.2h.1M6.0 55.6h.1M22.2 65.5h.1M22.1 27.2h.1M9.5 25.5h.1M12.8 99.2h.1M21.8 28.0h.1M13.4 60.0h.1M22.5 47.8h.1M22.1 38.1h.1M5.9 45.4h.1M19.4 78.0h.1M21.6 61.3h.1M22.3 60.7h.1M21.2 52.5h.1M17.2 78.8h.1M6.9 56.8h.1" stroke="#e02020" stroke-width="1.1"/><path d="M10.1 53.4h.1M17.4 50.7h.1M12.9 45.9h.1M15.5 45.9h.1M9.8 48.4h.1M11.2 45.8h.1M11.0 33.9h.1M10.3 37.4h.1M8.8 45.5h.1" stroke="#7040c0" stroke-width="0.7"/><path d="M9.3 41.4h.1M8.3 48.7h.1M12.7 38.9h.1M16.1 39.1h.1" stroke="#c02050" stroke-width="0.7"/><path d="M11.5 53.3h.1M11.0 42.3h.1M14.4 52.9h.1M8.5 47.4h.1M15.1 33.3h.1M9.4 48.8h.1M13.6 42.3h.1M12.9 38.7h.1M18.8 43.8h.1M17.4 37.1h.1M12.7 33.2h.1" stroke="#4030c0" stroke-width="0.7"/><path d="M19.0 78.5h.1M9.8 31.3h.1M15.0 65.6h.1M14.4 96.0h.1M19.9 23.7h.1M22.9 76.8h.1M24.6 37.6h.1M24.4 55.0h.1M5.5 41.5h.1M22.5 55.6h.1M16.4 64.2h.1M18.4 64.0h.1M5.7 29.2h.1M21.3 51.8h.1M15.9 73.9h.1M20.2 56.2h.1M25.0 32.8h.1M23.6 62.8h.1M23.4 60.0h.1M15.8 86.9h.1M9.9 21.7h.1M8.5 55.1h.1M12.1 27.3h.1M20.4 82.8h.1M20.6 53.3h.1M19.0 60.3h.1M12.9 85.8h.1" stroke="#ff3030" stroke-width="1.1"/><path d="M17.0 43.7h.1M19.1 43.2h.1M14.0 55.4h.1M14.1 57.9h.1M14.3 46.6h.1M18.5 46.2h.1M11.0 38.7h.1M14.8 55.7h.1M9.6 36.6h.1M9.2 44.0h.1M17.0 46.5h.1M6.7 44.7h.1M7.5 48.2h.1" stroke="#4030c0" stroke-width="1.1"/><path d="M10.7 34.8h.1M7.0 45.1h.1M18.5 49.7h.1M11.0 52.9h.1M10.5 55.6h.1M15.9 42.6h.1M16.0 37.5h.1M13.9 42.0h.1M12.2 40.2h.1M12.4 42.3h.1M14.5 45.2h.1" stroke="#a040a0" stroke-width="1.1"/><path d="M15.4 48.1h.1M17.1 35.5h.1M17.2 49.3h.1M13.4 54.7h.1M16.2 41.9h.1M18.5 49.5h.1M15.3 44.1h.1M16.9 50.1h.1M13.3 53.8h.1M10.9 37.3h.1M18.4 49.5h.1M12.6 50.0h.1M15.8 46.4h.1M15.6 52.4h.1M11.2 54.3h.1M17.9 40.1h.1" stroke="#c02050" stroke-width="1.1"/><path d="M24.8 60.0h.1M16.1 61.5h.1M14.1 64.8h.1M14.3 22.8h.1M6.9 51.0h.1M7.3 62.5h.1M17.7 92.3h.1M18.1 73.5h.1M19.8 21.7h.1M11.4 64.4h.1M15.5 64.4h.1M14.0 27.6h.1M21.1 56.9h.1M15.8 101.8h.1M17.3 71.9h.1M17.5 29.0h.1M12.7 104.1h.1M17.5 28.2h.1M16.8 79.9h.1M16.2 60.3h.1M17.4 102.8h.1M10.2 65.7h.1M17.4 58.6h.1M16.0 102.1h.1M21.5 26.1h.1M13.3 71.3h.1M13.8 102.1h.1M23.8 42.1h.1M24.5 49.0h.1M7.5 27.3h.1M21.5 80.5h.1" stroke="#a01010" stroke-width="1.1"/><path d="M18.6 41.6h.1M13.6 42.5h.1M8.4 40.3h.1M14.1 50.0h.1M16.4 50.2h.1M9.8 47.4h.1M14.2 36.9h.1M12.8 33.9h.1M7.3 40.3h.1M10.7 52.5h.1" stroke="#7040c0" stroke-width="0.9"/><path d="M14.0 72.6h.1M8.5 34.9h.1M6.1 28.2h.1M15.2 68.7h.1M16.9 84.3h.1M12.9 76.8h.1M20.1 99.2h.1M19.2 62.3h.1M15.5 27.1h.1M10.1 31.7h.1M23.1 43.0h.1M13.3 30.8h.1M16.0 57.4h.1M19.4 100.2h.1M19.7 58.2h.1M18.8 36.3h.1M11.4 31.6h.1M12.8 21.6h.1M24.8 59.4h.1M21.2 34.2h.1M11.6 26.4h.1M20.2 79.8h.1M11.9 27.1h.1M7.1 37.1h.1M25.2 45.6h.1M20.8 23.7h.1M19.2 38.8h.1" stroke="#ff5050" stroke-width="0.9"/><path d="M18.1 37.8h.1M12.2 39.1h.1M16.6 45.6h.1M13.1 56.7h.1M19.5 45.4h.1M8.8 43.8h.1M8.2 38.7h.1M19.3 46.2h.1M14.5 48.9h.1" stroke="#a040a0" stroke-width="0.9"/><path d="M22.5 44.4h.1M6.1 62.7h.1M21.9 63.3h.1M5.0 34.5h.1M18.4 78.1h.1M19.4 23.2h.1M12.6 59.8h.1M13.0 80.4h.1M21.3 32.3h.1M20.4 41.9h.1M20.0 26.9h.1M10.9 27.5h.1M24.7 61.3h.1M13.6 95.5h.1M13.2 74.4h.1" stroke="#c01818" stroke-width="1.1"/><path d="M10.3 58.9h.1M10.4 60.2h.1M11.6 64.1h.1M16.1 28.4h.1M23.9 52.4h.1M17.9 32.4h.1M19.4 38.1h.1M23.8 29.5h.1M8.7 25.7h.1M11.4 63.2h.1M9.7 25.9h.1M24.7 49.2h.1M21.4 55.9h.1M15.9 75.9h.1M16.3 102.0h.1" stroke="#d01818" stroke-width="0.7"/><path d="M9.1 59.8h.1M21.6 49.8h.1M5.4 55.0h.1M6.0 29.7h.1M19.4 29.5h.1M7.9 25.3h.1M14.1 65.5h.1M16.8 67.1h.1M20.4 88.1h.1M6.0 42.5h.1M14.2 85.3h.1M22.0 58.4h.1M19.9 82.6h.1M6.7 32.0h.1M11.8 23.3h.1M17.0 56.0h.1M10.1 23.9h.1M6.8 32.2h.1M21.0 44.3h.1M16.7 25.3h.1M21.5 43.7h.1M8.8 30.1h.1M8.5 25.9h.1M19.5 49.5h.1M5.7 52.9h.1M23.1 56.5h.1" stroke="#d01818" stroke-width="0.9"/><path d="M16.8 64.0h.1M21.6 65.1h.1M13.4 25.0h.1M7.3 36.0h.1M20.4 26.7h.1M14.9 22.8h.1M12.9 77.8h.1M5.4 34.4h.1M5.6 55.5h.1M20.5 83.3h.1M23.1 36.0h.1M14.3 25.9h.1M20.2 45.4h.1M15.2 83.3h.1M6.2 42.2h.1M5.9 53.6h.1M20.7 78.9h.1M15.0 60.9h.1" stroke="#ff5050" stroke-width="1.1"/><path d="M7.3 45.6h.1M12.8 53.2h.1M15.1 45.8h.1M10.6 50.1h.1M10.4 40.1h.1M18.3 46.1h.1" stroke="#5040d0" stroke-width="0.9"/><path d="M12.7 103.9h.1M18.4 34.4h.1M21.3 48.9h.1M18.1 103.0h.1M21.1 39.0h.1M18.8 97.0h.1M17.4 23.2h.1M20.7 43.3h.1M17.1 104.5h.1M23.9 49.0h.1M5.5 45.7h.1M20.2 100.3h.1M19.8 55.8h.1M14.9 24.0h.1M12.2 75.0h.1M18.1 57.4h.1M19.1 33.2h.1M23.7 41.5h.1M23.7 31.2h.1" stroke="#a01010" stroke-width="0.9"/><path d="M18.1 70.3h.1M13.6 60.1h.1M20.6 34.5h.1M16.3 105.4h.1M5.8 60.2h.1M13.4 78.6h.1M11.1 66.9h.1M11.5 60.7h.1M14.1 84.0h.1M21.4 26.5h.1M11.6 63.0h.1M10.4 82.0h.1M5.6 53.0h.1M23.5 40.8h.1M20.2 102.2h.1M19.9 44.8h.1M19.8 93.4h.1M18.2 24.9h.1M17.6 22.2h.1M24.0 56.5h.1M6.8 56.7h.1M19.9 36.8h.1M15.0 58.9h.1M22.1 52.0h.1" stroke="#ff3030" stroke-width="0.9"/><path d="M24.1 38.8h.1M23.3 44.2h.1M15.7 26.7h.1M17.6 91.1h.1M16.8 63.4h.1M22.4 52.3h.1M23.1 36.6h.1M4.9 50.5h.1M11.2 71.6h.1M12.4 85.8h.1M9.7 24.5h.1M21.4 51.3h.1M9.0 58.9h.1M14.4 62.6h.1M13.9 105.1h.1M17.0 57.5h.1M24.7 42.6h.1" stroke="#ff5050" stroke-width="0.7"/><path d="M15.0 55.6h.1M9.3 44.3h.1M10.3 48.8h.1M11.4 45.5h.1M9.8 40.4h.1M16.6 47.2h.1M14.9 52.5h.1M12.4 41.0h.1M12.6 55.0h.1" stroke="#5040d0" stroke-width="0.7"/><path d="M22.9 34.2h.1M19.7 46.6h.1M7.6 29.1h.1M18.4 61.3h.1M15.4 62.3h.1M20.8 65.8h.1M10.0 62.2h.1M8.0 26.5h.1M21.8 26.7h.1M17.9 63.3h.1M24.8 48.4h.1M16.0 93.3h.1M12.6 26.8h.1M18.9 77.1h.1M9.3 24.2h.1M12.2 73.5h.1M19.0 30.2h.1M21.9 47.9h.1M22.2 27.2h.1M22.2 62.0h.1M16.9 57.9h.1" stroke="#c01818" stroke-width="0.9"/><path d="M14.8 55.9h.1M12.0 49.0h.1M11.2 47.2h.1M9.9 37.5h.1M16.3 52.8h.1M12.5 34.4h.1M19.1 41.0h.1M8.0 39.6h.1M9.9 34.8h.1M18.2 38.5h.1" stroke="#a040a0" stroke-width="0.7"/><path d="M8.2 38.8h.1M7.5 50.4h.1M9.0 50.5h.1M7.5 38.4h.1M17.3 39.1h.1M19.1 42.2h.1M13.0 52.5h.1M7.4 46.9h.1" stroke="#c02050" stroke-width="0.9"/><path d="M11.8 38.1h.1M16.6 55.9h.1M10.9 37.1h.1M9.5 43.7h.1M17.4 42.6h.1" stroke="#5040d0" stroke-width="1.1"/></g><path d="M15.8 40.4h.1M20.9 95.4h.1M14.8 38.5h.1M23.8 64.8h.1M7.4 46.7h.1M16.4 93.0h.1M17.2 67.6h.1M22.7 81.0h.1M23.0 55.3h.1M15.8 85.3h.1M16.0 93.9h.1M21.2 96.6h.1M17.7 80.1h.1M13.0 91.0h.1M10.9 54.7h.1M19.9 90.0h.1M5.1 31.5h.1M19.9 39.9h.1M20.2 65.8h.1M17.5 58.3h.1M18.2 74.4h.1M18.7 62.2h.1M8.5 25.5h.1M17.1 60.2h.1M17.3 40.0h.1M8.9 40.3h.1M19.3 52.5h.1M10.0 69.3h.1M15.2 56.2h.1M14.7 26.7h.1M17.5 88.7h.1M12.9 23.2h.1M9.8 35.2h.1M18.9 51.6h.1M12.8 90.3h.1M10.5 51.3h.1M16.6 81.2h.1M7.3 64.8h.1M10.9 38.6h.1M11.3 66.5h.1M11.1 69.2h.1M20.3 32.4h.1M22.1 54.0h.1M12.4 37.8h.1M20.2 26.9h.1M11.0 67.6h.1M12.0 46.9h.1M17.0 41.2h.1M11.9 66.2h.1M11.0 41.8h.1M20.0 89.1h.1M19.4 90.8h.1M14.1 36.5h.1M17.6 36.9h.1M12.6 66.8h.1M22.4 82.6h.1M8.0 49.0h.1M19.8 84.3h.1M14.5 49.4h.1M14.6 60.0h.1M22.1 80.4h.1M18.1 90.7h.1M11.9 24.9h.1M19.4 52.8h.1M10.8 77.0h.1M14.2 85.5h.1M15.6 37.4h.1M20.8 87.6h.1M8.3 63.2h.1M16.7 89.0h.1M22.4 39.9h.1M13.3 66.2h.1M15.1 49.0h.1M22.5 80.0h.1M17.2 22.7h.1M18.9 31.9h.1M16.3 91.4h.1M18.5 78.2h.1M15.5 24.7h.1M14.8 96.4h.1M15.1 63.2h.1M11.9 23.1h.1M21.8 86.2h.1M7.8 32.8h.1M7.1 43.4h.1M18.2 90.5h.1M18.5 34.0h.1M20.3 97.5h.1M13.7 74.6h.1M9.9 31.7h.1M8.6 70.4h.1M14.0 30.8h.1M15.6 43.8h.1M14.2 58.9h.1M6.5 40.7h.1M16.6 44.4h.1M24.2 42.8h.1M18.8 67.8h.1M14.7 85.3h.1M18.8 98.1h.1M14.2 73.3h.1M15.0 22.4h.1M10.4 59.0h.1M20.8 55.7h.1M10.5 68.9h.1M18.1 75.7h.1M12.8 85.0h.1M22.8 38.1h.1M19.0 57.4h.1M18.3 39.2h.1M17.0 79.1h.1M24.8 39.3h.1M22.1 86.6h.1M15.6 75.1h.1M15.2 64.7h.1M19.3 73.2h.1M19.6 60.3h.1M13.1 34.4h.1M14.9 69.4h.1M20.8 78.8h.1M15.1 51.7h.1M19.5 60.4h.1M12.2 85.1h.1M13.7 77.0h.1M23.4 72.1h.1M19.7 22.9h.1M13.6 48.6h.1M23.7 40.6h.1M15.2 88.5h.1M19.9 45.7h.1M15.9 56.1h.1M21.0 33.5h.1M20.6 96.9h.1M11.4 85.8h.1M20.1 54.5h.1M20.3 64.6h.1M20.1 89.1h.1M15.1 32.0h.1M14.2 83.7h.1M17.7 97.2h.1M8.5 53.8h.1M16.0 76.8h.1M15.2 88.2h.1M13.6 47.1h.1M6.4 41.7h.1M18.4 23.6h.1M12.9 98.2h.1M15.7 89.4h.1M5.3 54.9h.1M6.6 54.6h.1M21.6 46.3h.1M15.8 77.7h.1M13.0 28.8h.1M24.2 35.2h.1M13.7 77.7h.1M22.1 70.4h.1M5.7 62.2h.1M8.7 34.6h.1M20.2 28.4h.1M16.1 99.0h.1M17.9 96.8h.1M14.8 60.1h.1M22.5 86.9h.1M10.2 65.3h.1M22.0 25.6h.1M13.6 70.6h.1M11.7 88.2h.1M13.4 85.2h.1M16.4 72.2h.1M20.0 99.1h.1M17.9 71.2h.1M13.2 89.0h.1M9.0 34.1h.1M19.3 22.5h.1M22.7 80.2h.1M8.2 57.5h.1M12.8 99.4h.1M14.9 87.2h.1M19.5 86.5h.1M12.9 44.4h.1M11.3 71.7h.1M14.7 75.1h.1M11.2 47.8h.1M16.0 95.9h.1M15.6 46.4h.1M7.4 52.5h.1M14.7 94.2h.1M12.9 83.9h.1M21.7 81.6h.1M16.6 69.5h.1M13.6 87.9h.1M22.8 51.7h.1M20.1 96.6h.1M18.1 47.2h.1M19.2 91.8h.1M13.4 42.0h.1M19.1 66.7h.1M19.3 45.5h.1M21.8 59.2h.1M15.6 73.3h.1M16.7 99.8h.1M19.0 41.2h.1M17.1 92.0h.1M19.2 87.0h.1M12.9 87.7h.1M16.0 83.2h.1M6.8 29.9h.1M9.4 23.5h.1M20.2 31.5h.1M12.5 88.6h.1M19.4 76.2h.1M22.2 73.8h.1M20.0 80.0h.1M16.1 67.1h.1M8.9 63.9h.1M16.6 52.0h.1M18.0 97.3h.1M14.6 98.8h.1M5.9 49.0h.1M23.1 28.9h.1M18.3 72.2h.1M13.7 80.6h.1M16.3 60.6h.1M9.4 75.5h.1M20.3 98.2h.1M11.4 79.6h.1M20.0 75.0h.1M6.5 35.7h.1M14.0 84.4h.1M13.3 41.0h.1M6.9 52.0h.1M12.1 60.7h.1M15.6 83.2h.1M17.4 89.8h.1M11.9 91.0h.1M11.1 62.9h.1M7.2 33.2h.1M9.6 47.2h.1M20.7 41.5h.1M16.3 86.0h.1M18.0 60.9h.1M11.0 64.4h.1M5.0 57.7h.1M15.2 87.6h.1M10.5 63.6h.1M15.0 65.0h.1M16.1 46.1h.1M24.0 57.4h.1M10.5 22.1h.1M19.5 76.6h.1M11.4 25.8h.1M18.2 97.1h.1M22.3 66.8h.1M20.1 82.2h.1M12.9 53.0h.1M18.5 86.3h.1M21.1 91.5h.1M21.3 95.3h.1M22.4 44.8h.1M16.4 98.6h.1" stroke="#000" stroke-width="1.0" stroke-linecap="round" opacity="0.55"/><ellipse cx="15.2" cy="89" rx="1.5" ry="2.4" fill="#ff2030" opacity="0.75"/><ellipse cx="14.0" cy="101.5" rx="1.3" ry="1.3" fill="#ff5060" opacity="0.8"/></svg>
<polyline points="422.20,84.30 422.20,64.60 439.00,64.60" fill="none" stroke="#e02020" stroke-width="0.7" stroke-dasharray="1.2,0.7"/>
</g>
</svg></body></html>
